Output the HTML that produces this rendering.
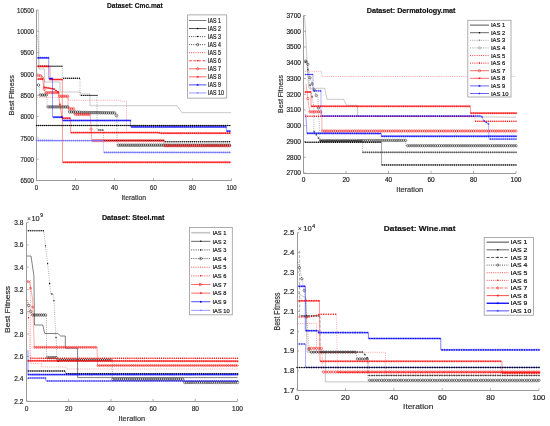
<!DOCTYPE html>
<html><head><meta charset="utf-8"><style>
html,body{margin:0;padding:0;background:#fff;}
svg{display:block;font-family:'Liberation Sans', sans-serif;filter:blur(0.3px);}
</style></head><body>
<svg width="550" height="426" viewBox="0 0 550 426">
<rect width="550" height="426" fill="#fff"/>
<path d="M36.5,10 V180.5 H231.5" fill="none" stroke="#9a9a9a" stroke-width="1"/>
<path d="M36.5,180.50 h2.2" stroke="#9a9a9a" stroke-width="0.8"/>
<text x="34.0" y="183.15" font-size="7.6" text-anchor="end" font-weight="normal" fill="#1e1e1e" stroke="#1e1e1e" stroke-width="0.18" textLength="13.52" lengthAdjust="spacingAndGlyphs">6500</text>
<path d="M36.5,159.19 h2.2" stroke="#9a9a9a" stroke-width="0.8"/>
<text x="34.0" y="161.84" font-size="7.6" text-anchor="end" font-weight="normal" fill="#1e1e1e" stroke="#1e1e1e" stroke-width="0.18" textLength="13.52" lengthAdjust="spacingAndGlyphs">7000</text>
<path d="M36.5,137.88 h2.2" stroke="#9a9a9a" stroke-width="0.8"/>
<text x="34.0" y="140.53" font-size="7.6" text-anchor="end" font-weight="normal" fill="#1e1e1e" stroke="#1e1e1e" stroke-width="0.18" textLength="13.52" lengthAdjust="spacingAndGlyphs">7500</text>
<path d="M36.5,116.56 h2.2" stroke="#9a9a9a" stroke-width="0.8"/>
<text x="34.0" y="119.21" font-size="7.6" text-anchor="end" font-weight="normal" fill="#1e1e1e" stroke="#1e1e1e" stroke-width="0.18" textLength="13.52" lengthAdjust="spacingAndGlyphs">8000</text>
<path d="M36.5,95.25 h2.2" stroke="#9a9a9a" stroke-width="0.8"/>
<text x="34.0" y="97.9" font-size="7.6" text-anchor="end" font-weight="normal" fill="#1e1e1e" stroke="#1e1e1e" stroke-width="0.18" textLength="13.52" lengthAdjust="spacingAndGlyphs">8500</text>
<path d="M36.5,73.94 h2.2" stroke="#9a9a9a" stroke-width="0.8"/>
<text x="34.0" y="76.59" font-size="7.6" text-anchor="end" font-weight="normal" fill="#1e1e1e" stroke="#1e1e1e" stroke-width="0.18" textLength="13.52" lengthAdjust="spacingAndGlyphs">9000</text>
<path d="M36.5,52.62 h2.2" stroke="#9a9a9a" stroke-width="0.8"/>
<text x="34.0" y="55.27" font-size="7.6" text-anchor="end" font-weight="normal" fill="#1e1e1e" stroke="#1e1e1e" stroke-width="0.18" textLength="13.52" lengthAdjust="spacingAndGlyphs">9500</text>
<path d="M36.5,31.31 h2.2" stroke="#9a9a9a" stroke-width="0.8"/>
<text x="34.0" y="33.96" font-size="7.6" text-anchor="end" font-weight="normal" fill="#1e1e1e" stroke="#1e1e1e" stroke-width="0.18" textLength="16.9" lengthAdjust="spacingAndGlyphs">10000</text>
<path d="M36.5,10.00 h2.2" stroke="#9a9a9a" stroke-width="0.8"/>
<text x="34.0" y="12.65" font-size="7.6" text-anchor="end" font-weight="normal" fill="#1e1e1e" stroke="#1e1e1e" stroke-width="0.18" textLength="16.9" lengthAdjust="spacingAndGlyphs">10500</text>
<path d="M36.50,180.5 v-2.2" stroke="#9a9a9a" stroke-width="0.8"/>
<text x="36.5" y="189.95" font-size="7.6" text-anchor="middle" font-weight="normal" fill="#1e1e1e" stroke="#1e1e1e" stroke-width="0.18" textLength="3.38" lengthAdjust="spacingAndGlyphs">0</text>
<path d="M75.50,180.5 v-2.2" stroke="#9a9a9a" stroke-width="0.8"/>
<text x="75.5" y="189.95" font-size="7.6" text-anchor="middle" font-weight="normal" fill="#1e1e1e" stroke="#1e1e1e" stroke-width="0.18" textLength="6.76" lengthAdjust="spacingAndGlyphs">20</text>
<path d="M114.50,180.5 v-2.2" stroke="#9a9a9a" stroke-width="0.8"/>
<text x="114.5" y="189.95" font-size="7.6" text-anchor="middle" font-weight="normal" fill="#1e1e1e" stroke="#1e1e1e" stroke-width="0.18" textLength="6.76" lengthAdjust="spacingAndGlyphs">40</text>
<path d="M153.50,180.5 v-2.2" stroke="#9a9a9a" stroke-width="0.8"/>
<text x="153.5" y="189.95" font-size="7.6" text-anchor="middle" font-weight="normal" fill="#1e1e1e" stroke="#1e1e1e" stroke-width="0.18" textLength="6.76" lengthAdjust="spacingAndGlyphs">60</text>
<path d="M192.50,180.5 v-2.2" stroke="#9a9a9a" stroke-width="0.8"/>
<text x="192.5" y="189.95" font-size="7.6" text-anchor="middle" font-weight="normal" fill="#1e1e1e" stroke="#1e1e1e" stroke-width="0.18" textLength="6.76" lengthAdjust="spacingAndGlyphs">80</text>
<path d="M231.50,180.5 v-2.2" stroke="#9a9a9a" stroke-width="0.8"/>
<text x="231.5" y="189.95" font-size="7.6" text-anchor="middle" font-weight="normal" fill="#1e1e1e" stroke="#1e1e1e" stroke-width="0.18" textLength="10.14" lengthAdjust="spacingAndGlyphs">100</text>
<text x="134.85" y="7.6" font-size="7.3" text-anchor="middle" font-weight="bold" fill="#111" stroke="#111" stroke-width="0.18" textLength="55.6" lengthAdjust="spacingAndGlyphs">Dataset: Cmc.mat</text>
<text x="133.7" y="199.7" font-size="7.2" text-anchor="middle" font-weight="normal" fill="#333" stroke="#333" stroke-width="0.18" textLength="24.6" lengthAdjust="spacingAndGlyphs">Iteration</text>
<text transform="translate(14.4,95.3) rotate(-90)" x="0" y="0" font-size="7.5" text-anchor="middle" font-weight="normal" fill="#333" stroke="#333" stroke-width="0.18" textLength="40.2" lengthAdjust="spacingAndGlyphs">Best Fitness</text>
<path d="M38.00,10.00 L38.50,14.00 L39.00,60.00 L39.00,69.00 L44.60,69.00 L44.60,82.00 L60.00,82.00 L60.00,92.00 L80.00,92.00 L81.00,94.00 L90.00,94.00 L90.00,105.70 L177.00,105.70 L182.00,112.70 L231.00,112.70" fill="none" stroke="#7a7a7a" stroke-width="0.68" opacity="0.6"/>
<path d="M37.00,35.00 L38.30,45.00 L38.30,66.20 L62.30,66.20 L62.30,78.20 L80.00,78.20 L80.00,95.40 L97.00,95.40 L97.00,130.00 L103.40,130.00 L103.40,140.60 L164.00,140.60 L164.00,141.70 L231.00,141.70" fill="none" stroke="#000000" stroke-width="0.52" stroke-dasharray="1,1.2" opacity="0.6"/>
<g opacity="1.0"><circle cx="38.45" cy="66.20" r="0.68" fill="#000000"/><circle cx="40.40" cy="66.20" r="0.68" fill="#000000"/><circle cx="42.35" cy="66.20" r="0.68" fill="#000000"/><circle cx="44.30" cy="66.20" r="0.68" fill="#000000"/><circle cx="46.25" cy="66.20" r="0.68" fill="#000000"/><circle cx="48.20" cy="66.20" r="0.68" fill="#000000"/><circle cx="50.15" cy="66.20" r="0.68" fill="#000000"/><circle cx="52.10" cy="66.20" r="0.68" fill="#000000"/><circle cx="54.05" cy="66.20" r="0.68" fill="#000000"/><circle cx="56.00" cy="66.20" r="0.68" fill="#000000"/><circle cx="57.95" cy="66.20" r="0.68" fill="#000000"/><circle cx="59.90" cy="66.20" r="0.68" fill="#000000"/><circle cx="61.85" cy="66.20" r="0.68" fill="#000000"/><circle cx="63.80" cy="78.20" r="0.68" fill="#000000"/><circle cx="65.75" cy="78.20" r="0.68" fill="#000000"/><circle cx="67.70" cy="78.20" r="0.68" fill="#000000"/><circle cx="69.65" cy="78.20" r="0.68" fill="#000000"/><circle cx="71.60" cy="78.20" r="0.68" fill="#000000"/><circle cx="73.55" cy="78.20" r="0.68" fill="#000000"/><circle cx="75.50" cy="78.20" r="0.68" fill="#000000"/><circle cx="77.45" cy="78.20" r="0.68" fill="#000000"/><circle cx="79.40" cy="78.20" r="0.68" fill="#000000"/><circle cx="81.35" cy="95.40" r="0.68" fill="#000000"/><circle cx="83.30" cy="95.40" r="0.68" fill="#000000"/><circle cx="85.25" cy="95.40" r="0.68" fill="#000000"/><circle cx="87.20" cy="95.40" r="0.68" fill="#000000"/><circle cx="89.15" cy="95.40" r="0.68" fill="#000000"/><circle cx="91.10" cy="95.40" r="0.68" fill="#000000"/><circle cx="93.05" cy="95.40" r="0.68" fill="#000000"/><circle cx="95.00" cy="95.40" r="0.68" fill="#000000"/><circle cx="96.95" cy="95.40" r="0.68" fill="#000000"/><circle cx="98.90" cy="130.00" r="0.68" fill="#000000"/><circle cx="100.85" cy="130.00" r="0.68" fill="#000000"/><circle cx="102.80" cy="130.00" r="0.68" fill="#000000"/><circle cx="104.75" cy="140.60" r="0.68" fill="#000000"/><circle cx="106.70" cy="140.60" r="0.68" fill="#000000"/><circle cx="108.65" cy="140.60" r="0.68" fill="#000000"/><circle cx="110.60" cy="140.60" r="0.68" fill="#000000"/><circle cx="112.55" cy="140.60" r="0.68" fill="#000000"/><circle cx="114.50" cy="140.60" r="0.68" fill="#000000"/><circle cx="116.45" cy="140.60" r="0.68" fill="#000000"/><circle cx="118.40" cy="140.60" r="0.68" fill="#000000"/><circle cx="120.35" cy="140.60" r="0.68" fill="#000000"/><circle cx="122.30" cy="140.60" r="0.68" fill="#000000"/><circle cx="124.25" cy="140.60" r="0.68" fill="#000000"/><circle cx="126.20" cy="140.60" r="0.68" fill="#000000"/><circle cx="128.15" cy="140.60" r="0.68" fill="#000000"/><circle cx="130.10" cy="140.60" r="0.68" fill="#000000"/><circle cx="132.05" cy="140.60" r="0.68" fill="#000000"/><circle cx="134.00" cy="140.60" r="0.68" fill="#000000"/><circle cx="135.95" cy="140.60" r="0.68" fill="#000000"/><circle cx="137.90" cy="140.60" r="0.68" fill="#000000"/><circle cx="139.85" cy="140.60" r="0.68" fill="#000000"/><circle cx="141.80" cy="140.60" r="0.68" fill="#000000"/><circle cx="143.75" cy="140.60" r="0.68" fill="#000000"/><circle cx="145.70" cy="140.60" r="0.68" fill="#000000"/><circle cx="147.65" cy="140.60" r="0.68" fill="#000000"/><circle cx="149.60" cy="140.60" r="0.68" fill="#000000"/><circle cx="151.55" cy="140.60" r="0.68" fill="#000000"/><circle cx="153.50" cy="140.60" r="0.68" fill="#000000"/><circle cx="155.45" cy="140.60" r="0.68" fill="#000000"/><circle cx="157.40" cy="140.60" r="0.68" fill="#000000"/><circle cx="159.35" cy="140.60" r="0.68" fill="#000000"/><circle cx="161.30" cy="140.60" r="0.68" fill="#000000"/><circle cx="163.25" cy="140.60" r="0.68" fill="#000000"/><circle cx="165.20" cy="141.70" r="0.68" fill="#000000"/><circle cx="167.15" cy="141.70" r="0.68" fill="#000000"/><circle cx="169.10" cy="141.70" r="0.68" fill="#000000"/><circle cx="171.05" cy="141.70" r="0.68" fill="#000000"/><circle cx="173.00" cy="141.70" r="0.68" fill="#000000"/><circle cx="174.95" cy="141.70" r="0.68" fill="#000000"/><circle cx="176.90" cy="141.70" r="0.68" fill="#000000"/><circle cx="178.85" cy="141.70" r="0.68" fill="#000000"/><circle cx="180.80" cy="141.70" r="0.68" fill="#000000"/><circle cx="182.75" cy="141.70" r="0.68" fill="#000000"/><circle cx="184.70" cy="141.70" r="0.68" fill="#000000"/><circle cx="186.65" cy="141.70" r="0.68" fill="#000000"/><circle cx="188.60" cy="141.70" r="0.68" fill="#000000"/><circle cx="190.55" cy="141.70" r="0.68" fill="#000000"/><circle cx="192.50" cy="141.70" r="0.68" fill="#000000"/><circle cx="194.45" cy="141.70" r="0.68" fill="#000000"/><circle cx="196.40" cy="141.70" r="0.68" fill="#000000"/><circle cx="198.35" cy="141.70" r="0.68" fill="#000000"/><circle cx="200.30" cy="141.70" r="0.68" fill="#000000"/><circle cx="202.25" cy="141.70" r="0.68" fill="#000000"/><circle cx="204.20" cy="141.70" r="0.68" fill="#000000"/><circle cx="206.15" cy="141.70" r="0.68" fill="#000000"/><circle cx="208.10" cy="141.70" r="0.68" fill="#000000"/><circle cx="210.05" cy="141.70" r="0.68" fill="#000000"/><circle cx="212.00" cy="141.70" r="0.68" fill="#000000"/><circle cx="213.95" cy="141.70" r="0.68" fill="#000000"/><circle cx="215.90" cy="141.70" r="0.68" fill="#000000"/><circle cx="217.85" cy="141.70" r="0.68" fill="#000000"/><circle cx="219.80" cy="141.70" r="0.68" fill="#000000"/><circle cx="221.75" cy="141.70" r="0.68" fill="#000000"/><circle cx="223.70" cy="141.70" r="0.68" fill="#000000"/><circle cx="225.65" cy="141.70" r="0.68" fill="#000000"/><circle cx="227.60" cy="141.70" r="0.68" fill="#000000"/><circle cx="229.55" cy="141.70" r="0.68" fill="#000000"/></g>
<path d="M37.00,85.00 L39.30,85.00 L39.30,95.00 L47.00,95.00 L47.00,106.90 L68.60,106.90 L68.60,111.80 L84.00,112.50 L115.50,112.90 L117.00,117.00 L117.00,145.20 L231.00,145.20" fill="none" stroke="#000000" stroke-width="0.52" stroke-dasharray="1,1.2" opacity="0.6"/>
<g opacity="1.0"><circle cx="38.45" cy="85.00" r="1.30" fill="none" stroke="#000000" stroke-width="0.45"/><circle cx="40.40" cy="95.00" r="1.30" fill="none" stroke="#000000" stroke-width="0.45"/><circle cx="42.35" cy="95.00" r="1.30" fill="none" stroke="#000000" stroke-width="0.45"/><circle cx="44.30" cy="95.00" r="1.30" fill="none" stroke="#000000" stroke-width="0.45"/><circle cx="46.25" cy="95.00" r="1.30" fill="none" stroke="#000000" stroke-width="0.45"/><circle cx="48.20" cy="106.90" r="1.30" fill="none" stroke="#000000" stroke-width="0.45"/><circle cx="50.15" cy="106.90" r="1.30" fill="none" stroke="#000000" stroke-width="0.45"/><circle cx="52.10" cy="106.90" r="1.30" fill="none" stroke="#000000" stroke-width="0.45"/><circle cx="54.05" cy="106.90" r="1.30" fill="none" stroke="#000000" stroke-width="0.45"/><circle cx="56.00" cy="106.90" r="1.30" fill="none" stroke="#000000" stroke-width="0.45"/><circle cx="57.95" cy="106.90" r="1.30" fill="none" stroke="#000000" stroke-width="0.45"/><circle cx="59.90" cy="106.90" r="1.30" fill="none" stroke="#000000" stroke-width="0.45"/><circle cx="61.85" cy="106.90" r="1.30" fill="none" stroke="#000000" stroke-width="0.45"/><circle cx="63.80" cy="106.90" r="1.30" fill="none" stroke="#000000" stroke-width="0.45"/><circle cx="65.75" cy="106.90" r="1.30" fill="none" stroke="#000000" stroke-width="0.45"/><circle cx="67.70" cy="106.90" r="1.30" fill="none" stroke="#000000" stroke-width="0.45"/><circle cx="69.65" cy="111.85" r="1.30" fill="none" stroke="#000000" stroke-width="0.45"/><circle cx="71.60" cy="111.94" r="1.30" fill="none" stroke="#000000" stroke-width="0.45"/><circle cx="73.55" cy="112.02" r="1.30" fill="none" stroke="#000000" stroke-width="0.45"/><circle cx="75.50" cy="112.11" r="1.30" fill="none" stroke="#000000" stroke-width="0.45"/><circle cx="77.45" cy="112.20" r="1.30" fill="none" stroke="#000000" stroke-width="0.45"/><circle cx="79.40" cy="112.29" r="1.30" fill="none" stroke="#000000" stroke-width="0.45"/><circle cx="81.35" cy="112.38" r="1.30" fill="none" stroke="#000000" stroke-width="0.45"/><circle cx="83.30" cy="112.47" r="1.30" fill="none" stroke="#000000" stroke-width="0.45"/><circle cx="85.25" cy="112.52" r="1.30" fill="none" stroke="#000000" stroke-width="0.45"/><circle cx="87.20" cy="112.54" r="1.30" fill="none" stroke="#000000" stroke-width="0.45"/><circle cx="89.15" cy="112.57" r="1.30" fill="none" stroke="#000000" stroke-width="0.45"/><circle cx="91.10" cy="112.59" r="1.30" fill="none" stroke="#000000" stroke-width="0.45"/><circle cx="93.05" cy="112.61" r="1.30" fill="none" stroke="#000000" stroke-width="0.45"/><circle cx="95.00" cy="112.64" r="1.30" fill="none" stroke="#000000" stroke-width="0.45"/><circle cx="96.95" cy="112.66" r="1.30" fill="none" stroke="#000000" stroke-width="0.45"/><circle cx="98.90" cy="112.69" r="1.30" fill="none" stroke="#000000" stroke-width="0.45"/><circle cx="100.85" cy="112.71" r="1.30" fill="none" stroke="#000000" stroke-width="0.45"/><circle cx="102.80" cy="112.74" r="1.30" fill="none" stroke="#000000" stroke-width="0.45"/><circle cx="104.75" cy="112.76" r="1.30" fill="none" stroke="#000000" stroke-width="0.45"/><circle cx="106.70" cy="112.79" r="1.30" fill="none" stroke="#000000" stroke-width="0.45"/><circle cx="108.65" cy="112.81" r="1.30" fill="none" stroke="#000000" stroke-width="0.45"/><circle cx="110.60" cy="112.84" r="1.30" fill="none" stroke="#000000" stroke-width="0.45"/><circle cx="112.55" cy="112.86" r="1.30" fill="none" stroke="#000000" stroke-width="0.45"/><circle cx="114.50" cy="112.89" r="1.30" fill="none" stroke="#000000" stroke-width="0.45"/><circle cx="116.45" cy="115.50" r="1.30" fill="none" stroke="#000000" stroke-width="0.45"/><circle cx="118.40" cy="145.20" r="1.30" fill="none" stroke="#000000" stroke-width="0.45"/><circle cx="120.35" cy="145.20" r="1.30" fill="none" stroke="#000000" stroke-width="0.45"/><circle cx="122.30" cy="145.20" r="1.30" fill="none" stroke="#000000" stroke-width="0.45"/><circle cx="124.25" cy="145.20" r="1.30" fill="none" stroke="#000000" stroke-width="0.45"/><circle cx="126.20" cy="145.20" r="1.30" fill="none" stroke="#000000" stroke-width="0.45"/><circle cx="128.15" cy="145.20" r="1.30" fill="none" stroke="#000000" stroke-width="0.45"/><circle cx="130.10" cy="145.20" r="1.30" fill="none" stroke="#000000" stroke-width="0.45"/><circle cx="132.05" cy="145.20" r="1.30" fill="none" stroke="#000000" stroke-width="0.45"/><circle cx="134.00" cy="145.20" r="1.30" fill="none" stroke="#000000" stroke-width="0.45"/><circle cx="135.95" cy="145.20" r="1.30" fill="none" stroke="#000000" stroke-width="0.45"/><circle cx="137.90" cy="145.20" r="1.30" fill="none" stroke="#000000" stroke-width="0.45"/><circle cx="139.85" cy="145.20" r="1.30" fill="none" stroke="#000000" stroke-width="0.45"/><circle cx="141.80" cy="145.20" r="1.30" fill="none" stroke="#000000" stroke-width="0.45"/><circle cx="143.75" cy="145.20" r="1.30" fill="none" stroke="#000000" stroke-width="0.45"/><circle cx="145.70" cy="145.20" r="1.30" fill="none" stroke="#000000" stroke-width="0.45"/><circle cx="147.65" cy="145.20" r="1.30" fill="none" stroke="#000000" stroke-width="0.45"/><circle cx="149.60" cy="145.20" r="1.30" fill="none" stroke="#000000" stroke-width="0.45"/><circle cx="151.55" cy="145.20" r="1.30" fill="none" stroke="#000000" stroke-width="0.45"/><circle cx="153.50" cy="145.20" r="1.30" fill="none" stroke="#000000" stroke-width="0.45"/><circle cx="155.45" cy="145.20" r="1.30" fill="none" stroke="#000000" stroke-width="0.45"/><circle cx="157.40" cy="145.20" r="1.30" fill="none" stroke="#000000" stroke-width="0.45"/><circle cx="159.35" cy="145.20" r="1.30" fill="none" stroke="#000000" stroke-width="0.45"/><circle cx="161.30" cy="145.20" r="1.30" fill="none" stroke="#000000" stroke-width="0.45"/><circle cx="163.25" cy="145.20" r="1.30" fill="none" stroke="#000000" stroke-width="0.45"/><circle cx="165.20" cy="145.20" r="1.30" fill="none" stroke="#000000" stroke-width="0.45"/><circle cx="167.15" cy="145.20" r="1.30" fill="none" stroke="#000000" stroke-width="0.45"/><circle cx="169.10" cy="145.20" r="1.30" fill="none" stroke="#000000" stroke-width="0.45"/><circle cx="171.05" cy="145.20" r="1.30" fill="none" stroke="#000000" stroke-width="0.45"/><circle cx="173.00" cy="145.20" r="1.30" fill="none" stroke="#000000" stroke-width="0.45"/><circle cx="174.95" cy="145.20" r="1.30" fill="none" stroke="#000000" stroke-width="0.45"/><circle cx="176.90" cy="145.20" r="1.30" fill="none" stroke="#000000" stroke-width="0.45"/><circle cx="178.85" cy="145.20" r="1.30" fill="none" stroke="#000000" stroke-width="0.45"/><circle cx="180.80" cy="145.20" r="1.30" fill="none" stroke="#000000" stroke-width="0.45"/><circle cx="182.75" cy="145.20" r="1.30" fill="none" stroke="#000000" stroke-width="0.45"/><circle cx="184.70" cy="145.20" r="1.30" fill="none" stroke="#000000" stroke-width="0.45"/><circle cx="186.65" cy="145.20" r="1.30" fill="none" stroke="#000000" stroke-width="0.45"/><circle cx="188.60" cy="145.20" r="1.30" fill="none" stroke="#000000" stroke-width="0.45"/><circle cx="190.55" cy="145.20" r="1.30" fill="none" stroke="#000000" stroke-width="0.45"/><circle cx="192.50" cy="145.20" r="1.30" fill="none" stroke="#000000" stroke-width="0.45"/><circle cx="194.45" cy="145.20" r="1.30" fill="none" stroke="#000000" stroke-width="0.45"/><circle cx="196.40" cy="145.20" r="1.30" fill="none" stroke="#000000" stroke-width="0.45"/><circle cx="198.35" cy="145.20" r="1.30" fill="none" stroke="#000000" stroke-width="0.45"/><circle cx="200.30" cy="145.20" r="1.30" fill="none" stroke="#000000" stroke-width="0.45"/><circle cx="202.25" cy="145.20" r="1.30" fill="none" stroke="#000000" stroke-width="0.45"/><circle cx="204.20" cy="145.20" r="1.30" fill="none" stroke="#000000" stroke-width="0.45"/><circle cx="206.15" cy="145.20" r="1.30" fill="none" stroke="#000000" stroke-width="0.45"/><circle cx="208.10" cy="145.20" r="1.30" fill="none" stroke="#000000" stroke-width="0.45"/><circle cx="210.05" cy="145.20" r="1.30" fill="none" stroke="#000000" stroke-width="0.45"/><circle cx="212.00" cy="145.20" r="1.30" fill="none" stroke="#000000" stroke-width="0.45"/><circle cx="213.95" cy="145.20" r="1.30" fill="none" stroke="#000000" stroke-width="0.45"/><circle cx="215.90" cy="145.20" r="1.30" fill="none" stroke="#000000" stroke-width="0.45"/><circle cx="217.85" cy="145.20" r="1.30" fill="none" stroke="#000000" stroke-width="0.45"/><circle cx="219.80" cy="145.20" r="1.30" fill="none" stroke="#000000" stroke-width="0.45"/><circle cx="221.75" cy="145.20" r="1.30" fill="none" stroke="#000000" stroke-width="0.45"/><circle cx="223.70" cy="145.20" r="1.30" fill="none" stroke="#000000" stroke-width="0.45"/><circle cx="225.65" cy="145.20" r="1.30" fill="none" stroke="#000000" stroke-width="0.45"/><circle cx="227.60" cy="145.20" r="1.30" fill="none" stroke="#000000" stroke-width="0.45"/><circle cx="229.55" cy="145.20" r="1.30" fill="none" stroke="#000000" stroke-width="0.45"/></g>
<path d="M37.00,97.30 L68.00,97.30 L68.60,100.30 L120.40,100.30 L121.00,101.70 L126.50,101.70 L126.50,132.40 L159.00,132.40 L160.00,133.20 L231.00,133.20" fill="none" stroke="#ff0000" stroke-width="0.6" stroke-dasharray="1,1.2" opacity="0.6"/>
<path d="M37.00,79.10 L44.00,79.10 L44.00,87.30 L54.00,89.00 L58.00,92.00 L62.00,118.20 L70.70,118.20 L70.70,132.60 L159.00,132.60 L160.00,133.20 L231.00,133.20" fill="none" stroke="#ff0000" stroke-width="0.7" opacity="0.6"/>
<g opacity="1.0"><path d="M37.45,79.10h2.00M38.45,78.10v2.00M37.75,78.40l1.40,1.40M37.75,79.80l1.40,-1.40" stroke="#ff0000" stroke-width="0.45"/><path d="M39.40,79.10h2.00M40.40,78.10v2.00M39.70,78.40l1.40,1.40M39.70,79.80l1.40,-1.40" stroke="#ff0000" stroke-width="0.45"/><path d="M41.35,79.10h2.00M42.35,78.10v2.00M41.65,78.40l1.40,1.40M41.65,79.80l1.40,-1.40" stroke="#ff0000" stroke-width="0.45"/><path d="M43.30,87.35h2.00M44.30,86.35v2.00M43.60,86.65l1.40,1.40M43.60,88.05l1.40,-1.40" stroke="#ff0000" stroke-width="0.45"/><path d="M45.25,87.68h2.00M46.25,86.68v2.00M45.55,86.98l1.40,1.40M45.55,88.38l1.40,-1.40" stroke="#ff0000" stroke-width="0.45"/><path d="M47.20,88.01h2.00M48.20,87.01v2.00M47.50,87.31l1.40,1.40M47.50,88.71l1.40,-1.40" stroke="#ff0000" stroke-width="0.45"/><path d="M49.15,88.35h2.00M50.15,87.35v2.00M49.45,87.65l1.40,1.40M49.45,89.05l1.40,-1.40" stroke="#ff0000" stroke-width="0.45"/><path d="M51.10,88.68h2.00M52.10,87.68v2.00M51.40,87.98l1.40,1.40M51.40,89.38l1.40,-1.40" stroke="#ff0000" stroke-width="0.45"/><path d="M53.05,89.04h2.00M54.05,88.04v2.00M53.35,88.34l1.40,1.40M53.35,89.74l1.40,-1.40" stroke="#ff0000" stroke-width="0.45"/><path d="M55.00,90.50h2.00M56.00,89.50v2.00M55.30,89.80l1.40,1.40M55.30,91.20l1.40,-1.40" stroke="#ff0000" stroke-width="0.45"/><path d="M56.95,91.96h2.00M57.95,90.96v2.00M57.25,91.26l1.40,1.40M57.25,92.66l1.40,-1.40" stroke="#ff0000" stroke-width="0.45"/><path d="M58.90,104.44h2.00M59.90,103.44v2.00M59.20,103.74l1.40,1.40M59.20,105.14l1.40,-1.40" stroke="#ff0000" stroke-width="0.45"/><path d="M60.85,117.22h2.00M61.85,116.22v2.00M61.15,116.52l1.40,1.40M61.15,117.92l1.40,-1.40" stroke="#ff0000" stroke-width="0.45"/><path d="M62.80,118.20h2.00M63.80,117.20v2.00M63.10,117.50l1.40,1.40M63.10,118.90l1.40,-1.40" stroke="#ff0000" stroke-width="0.45"/><path d="M64.75,118.20h2.00M65.75,117.20v2.00M65.05,117.50l1.40,1.40M65.05,118.90l1.40,-1.40" stroke="#ff0000" stroke-width="0.45"/><path d="M66.70,118.20h2.00M67.70,117.20v2.00M67.00,117.50l1.40,1.40M67.00,118.90l1.40,-1.40" stroke="#ff0000" stroke-width="0.45"/><path d="M68.65,118.20h2.00M69.65,117.20v2.00M68.95,117.50l1.40,1.40M68.95,118.90l1.40,-1.40" stroke="#ff0000" stroke-width="0.45"/><path d="M70.60,132.60h2.00M71.60,131.60v2.00M70.90,131.90l1.40,1.40M70.90,133.30l1.40,-1.40" stroke="#ff0000" stroke-width="0.45"/><path d="M72.55,132.60h2.00M73.55,131.60v2.00M72.85,131.90l1.40,1.40M72.85,133.30l1.40,-1.40" stroke="#ff0000" stroke-width="0.45"/><path d="M74.50,132.60h2.00M75.50,131.60v2.00M74.80,131.90l1.40,1.40M74.80,133.30l1.40,-1.40" stroke="#ff0000" stroke-width="0.45"/><path d="M76.45,132.60h2.00M77.45,131.60v2.00M76.75,131.90l1.40,1.40M76.75,133.30l1.40,-1.40" stroke="#ff0000" stroke-width="0.45"/><path d="M78.40,132.60h2.00M79.40,131.60v2.00M78.70,131.90l1.40,1.40M78.70,133.30l1.40,-1.40" stroke="#ff0000" stroke-width="0.45"/><path d="M80.35,132.60h2.00M81.35,131.60v2.00M80.65,131.90l1.40,1.40M80.65,133.30l1.40,-1.40" stroke="#ff0000" stroke-width="0.45"/><path d="M82.30,132.60h2.00M83.30,131.60v2.00M82.60,131.90l1.40,1.40M82.60,133.30l1.40,-1.40" stroke="#ff0000" stroke-width="0.45"/><path d="M84.25,132.60h2.00M85.25,131.60v2.00M84.55,131.90l1.40,1.40M84.55,133.30l1.40,-1.40" stroke="#ff0000" stroke-width="0.45"/><path d="M86.20,132.60h2.00M87.20,131.60v2.00M86.50,131.90l1.40,1.40M86.50,133.30l1.40,-1.40" stroke="#ff0000" stroke-width="0.45"/><path d="M88.15,132.60h2.00M89.15,131.60v2.00M88.45,131.90l1.40,1.40M88.45,133.30l1.40,-1.40" stroke="#ff0000" stroke-width="0.45"/><path d="M90.10,132.60h2.00M91.10,131.60v2.00M90.40,131.90l1.40,1.40M90.40,133.30l1.40,-1.40" stroke="#ff0000" stroke-width="0.45"/><path d="M92.05,132.60h2.00M93.05,131.60v2.00M92.35,131.90l1.40,1.40M92.35,133.30l1.40,-1.40" stroke="#ff0000" stroke-width="0.45"/><path d="M94.00,132.60h2.00M95.00,131.60v2.00M94.30,131.90l1.40,1.40M94.30,133.30l1.40,-1.40" stroke="#ff0000" stroke-width="0.45"/><path d="M95.95,132.60h2.00M96.95,131.60v2.00M96.25,131.90l1.40,1.40M96.25,133.30l1.40,-1.40" stroke="#ff0000" stroke-width="0.45"/><path d="M97.90,132.60h2.00M98.90,131.60v2.00M98.20,131.90l1.40,1.40M98.20,133.30l1.40,-1.40" stroke="#ff0000" stroke-width="0.45"/><path d="M99.85,132.60h2.00M100.85,131.60v2.00M100.15,131.90l1.40,1.40M100.15,133.30l1.40,-1.40" stroke="#ff0000" stroke-width="0.45"/><path d="M101.80,132.60h2.00M102.80,131.60v2.00M102.10,131.90l1.40,1.40M102.10,133.30l1.40,-1.40" stroke="#ff0000" stroke-width="0.45"/><path d="M103.75,132.60h2.00M104.75,131.60v2.00M104.05,131.90l1.40,1.40M104.05,133.30l1.40,-1.40" stroke="#ff0000" stroke-width="0.45"/><path d="M105.70,132.60h2.00M106.70,131.60v2.00M106.00,131.90l1.40,1.40M106.00,133.30l1.40,-1.40" stroke="#ff0000" stroke-width="0.45"/><path d="M107.65,132.60h2.00M108.65,131.60v2.00M107.95,131.90l1.40,1.40M107.95,133.30l1.40,-1.40" stroke="#ff0000" stroke-width="0.45"/><path d="M109.60,132.60h2.00M110.60,131.60v2.00M109.90,131.90l1.40,1.40M109.90,133.30l1.40,-1.40" stroke="#ff0000" stroke-width="0.45"/><path d="M111.55,132.60h2.00M112.55,131.60v2.00M111.85,131.90l1.40,1.40M111.85,133.30l1.40,-1.40" stroke="#ff0000" stroke-width="0.45"/><path d="M113.50,132.60h2.00M114.50,131.60v2.00M113.80,131.90l1.40,1.40M113.80,133.30l1.40,-1.40" stroke="#ff0000" stroke-width="0.45"/><path d="M115.45,132.60h2.00M116.45,131.60v2.00M115.75,131.90l1.40,1.40M115.75,133.30l1.40,-1.40" stroke="#ff0000" stroke-width="0.45"/><path d="M117.40,132.60h2.00M118.40,131.60v2.00M117.70,131.90l1.40,1.40M117.70,133.30l1.40,-1.40" stroke="#ff0000" stroke-width="0.45"/><path d="M119.35,132.60h2.00M120.35,131.60v2.00M119.65,131.90l1.40,1.40M119.65,133.30l1.40,-1.40" stroke="#ff0000" stroke-width="0.45"/><path d="M121.30,132.60h2.00M122.30,131.60v2.00M121.60,131.90l1.40,1.40M121.60,133.30l1.40,-1.40" stroke="#ff0000" stroke-width="0.45"/><path d="M123.25,132.60h2.00M124.25,131.60v2.00M123.55,131.90l1.40,1.40M123.55,133.30l1.40,-1.40" stroke="#ff0000" stroke-width="0.45"/><path d="M125.20,132.60h2.00M126.20,131.60v2.00M125.50,131.90l1.40,1.40M125.50,133.30l1.40,-1.40" stroke="#ff0000" stroke-width="0.45"/><path d="M127.15,132.60h2.00M128.15,131.60v2.00M127.45,131.90l1.40,1.40M127.45,133.30l1.40,-1.40" stroke="#ff0000" stroke-width="0.45"/><path d="M129.10,132.60h2.00M130.10,131.60v2.00M129.40,131.90l1.40,1.40M129.40,133.30l1.40,-1.40" stroke="#ff0000" stroke-width="0.45"/><path d="M131.05,132.60h2.00M132.05,131.60v2.00M131.35,131.90l1.40,1.40M131.35,133.30l1.40,-1.40" stroke="#ff0000" stroke-width="0.45"/><path d="M133.00,132.60h2.00M134.00,131.60v2.00M133.30,131.90l1.40,1.40M133.30,133.30l1.40,-1.40" stroke="#ff0000" stroke-width="0.45"/><path d="M134.95,132.60h2.00M135.95,131.60v2.00M135.25,131.90l1.40,1.40M135.25,133.30l1.40,-1.40" stroke="#ff0000" stroke-width="0.45"/><path d="M136.90,132.60h2.00M137.90,131.60v2.00M137.20,131.90l1.40,1.40M137.20,133.30l1.40,-1.40" stroke="#ff0000" stroke-width="0.45"/><path d="M138.85,132.60h2.00M139.85,131.60v2.00M139.15,131.90l1.40,1.40M139.15,133.30l1.40,-1.40" stroke="#ff0000" stroke-width="0.45"/><path d="M140.80,132.60h2.00M141.80,131.60v2.00M141.10,131.90l1.40,1.40M141.10,133.30l1.40,-1.40" stroke="#ff0000" stroke-width="0.45"/><path d="M142.75,132.60h2.00M143.75,131.60v2.00M143.05,131.90l1.40,1.40M143.05,133.30l1.40,-1.40" stroke="#ff0000" stroke-width="0.45"/><path d="M144.70,132.60h2.00M145.70,131.60v2.00M145.00,131.90l1.40,1.40M145.00,133.30l1.40,-1.40" stroke="#ff0000" stroke-width="0.45"/><path d="M146.65,132.60h2.00M147.65,131.60v2.00M146.95,131.90l1.40,1.40M146.95,133.30l1.40,-1.40" stroke="#ff0000" stroke-width="0.45"/><path d="M148.60,132.60h2.00M149.60,131.60v2.00M148.90,131.90l1.40,1.40M148.90,133.30l1.40,-1.40" stroke="#ff0000" stroke-width="0.45"/><path d="M150.55,132.60h2.00M151.55,131.60v2.00M150.85,131.90l1.40,1.40M150.85,133.30l1.40,-1.40" stroke="#ff0000" stroke-width="0.45"/><path d="M152.50,132.60h2.00M153.50,131.60v2.00M152.80,131.90l1.40,1.40M152.80,133.30l1.40,-1.40" stroke="#ff0000" stroke-width="0.45"/><path d="M154.45,132.60h2.00M155.45,131.60v2.00M154.75,131.90l1.40,1.40M154.75,133.30l1.40,-1.40" stroke="#ff0000" stroke-width="0.45"/><path d="M156.40,132.60h2.00M157.40,131.60v2.00M156.70,131.90l1.40,1.40M156.70,133.30l1.40,-1.40" stroke="#ff0000" stroke-width="0.45"/><path d="M158.35,132.81h2.00M159.35,131.81v2.00M158.65,132.11l1.40,1.40M158.65,133.51l1.40,-1.40" stroke="#ff0000" stroke-width="0.45"/><path d="M160.30,133.20h2.00M161.30,132.20v2.00M160.60,132.50l1.40,1.40M160.60,133.90l1.40,-1.40" stroke="#ff0000" stroke-width="0.45"/><path d="M162.25,133.20h2.00M163.25,132.20v2.00M162.55,132.50l1.40,1.40M162.55,133.90l1.40,-1.40" stroke="#ff0000" stroke-width="0.45"/><path d="M164.20,133.20h2.00M165.20,132.20v2.00M164.50,132.50l1.40,1.40M164.50,133.90l1.40,-1.40" stroke="#ff0000" stroke-width="0.45"/><path d="M166.15,133.20h2.00M167.15,132.20v2.00M166.45,132.50l1.40,1.40M166.45,133.90l1.40,-1.40" stroke="#ff0000" stroke-width="0.45"/><path d="M168.10,133.20h2.00M169.10,132.20v2.00M168.40,132.50l1.40,1.40M168.40,133.90l1.40,-1.40" stroke="#ff0000" stroke-width="0.45"/><path d="M170.05,133.20h2.00M171.05,132.20v2.00M170.35,132.50l1.40,1.40M170.35,133.90l1.40,-1.40" stroke="#ff0000" stroke-width="0.45"/><path d="M172.00,133.20h2.00M173.00,132.20v2.00M172.30,132.50l1.40,1.40M172.30,133.90l1.40,-1.40" stroke="#ff0000" stroke-width="0.45"/><path d="M173.95,133.20h2.00M174.95,132.20v2.00M174.25,132.50l1.40,1.40M174.25,133.90l1.40,-1.40" stroke="#ff0000" stroke-width="0.45"/><path d="M175.90,133.20h2.00M176.90,132.20v2.00M176.20,132.50l1.40,1.40M176.20,133.90l1.40,-1.40" stroke="#ff0000" stroke-width="0.45"/><path d="M177.85,133.20h2.00M178.85,132.20v2.00M178.15,132.50l1.40,1.40M178.15,133.90l1.40,-1.40" stroke="#ff0000" stroke-width="0.45"/><path d="M179.80,133.20h2.00M180.80,132.20v2.00M180.10,132.50l1.40,1.40M180.10,133.90l1.40,-1.40" stroke="#ff0000" stroke-width="0.45"/><path d="M181.75,133.20h2.00M182.75,132.20v2.00M182.05,132.50l1.40,1.40M182.05,133.90l1.40,-1.40" stroke="#ff0000" stroke-width="0.45"/><path d="M183.70,133.20h2.00M184.70,132.20v2.00M184.00,132.50l1.40,1.40M184.00,133.90l1.40,-1.40" stroke="#ff0000" stroke-width="0.45"/><path d="M185.65,133.20h2.00M186.65,132.20v2.00M185.95,132.50l1.40,1.40M185.95,133.90l1.40,-1.40" stroke="#ff0000" stroke-width="0.45"/><path d="M187.60,133.20h2.00M188.60,132.20v2.00M187.90,132.50l1.40,1.40M187.90,133.90l1.40,-1.40" stroke="#ff0000" stroke-width="0.45"/><path d="M189.55,133.20h2.00M190.55,132.20v2.00M189.85,132.50l1.40,1.40M189.85,133.90l1.40,-1.40" stroke="#ff0000" stroke-width="0.45"/><path d="M191.50,133.20h2.00M192.50,132.20v2.00M191.80,132.50l1.40,1.40M191.80,133.90l1.40,-1.40" stroke="#ff0000" stroke-width="0.45"/><path d="M193.45,133.20h2.00M194.45,132.20v2.00M193.75,132.50l1.40,1.40M193.75,133.90l1.40,-1.40" stroke="#ff0000" stroke-width="0.45"/><path d="M195.40,133.20h2.00M196.40,132.20v2.00M195.70,132.50l1.40,1.40M195.70,133.90l1.40,-1.40" stroke="#ff0000" stroke-width="0.45"/><path d="M197.35,133.20h2.00M198.35,132.20v2.00M197.65,132.50l1.40,1.40M197.65,133.90l1.40,-1.40" stroke="#ff0000" stroke-width="0.45"/><path d="M199.30,133.20h2.00M200.30,132.20v2.00M199.60,132.50l1.40,1.40M199.60,133.90l1.40,-1.40" stroke="#ff0000" stroke-width="0.45"/><path d="M201.25,133.20h2.00M202.25,132.20v2.00M201.55,132.50l1.40,1.40M201.55,133.90l1.40,-1.40" stroke="#ff0000" stroke-width="0.45"/><path d="M203.20,133.20h2.00M204.20,132.20v2.00M203.50,132.50l1.40,1.40M203.50,133.90l1.40,-1.40" stroke="#ff0000" stroke-width="0.45"/><path d="M205.15,133.20h2.00M206.15,132.20v2.00M205.45,132.50l1.40,1.40M205.45,133.90l1.40,-1.40" stroke="#ff0000" stroke-width="0.45"/><path d="M207.10,133.20h2.00M208.10,132.20v2.00M207.40,132.50l1.40,1.40M207.40,133.90l1.40,-1.40" stroke="#ff0000" stroke-width="0.45"/><path d="M209.05,133.20h2.00M210.05,132.20v2.00M209.35,132.50l1.40,1.40M209.35,133.90l1.40,-1.40" stroke="#ff0000" stroke-width="0.45"/><path d="M211.00,133.20h2.00M212.00,132.20v2.00M211.30,132.50l1.40,1.40M211.30,133.90l1.40,-1.40" stroke="#ff0000" stroke-width="0.45"/><path d="M212.95,133.20h2.00M213.95,132.20v2.00M213.25,132.50l1.40,1.40M213.25,133.90l1.40,-1.40" stroke="#ff0000" stroke-width="0.45"/><path d="M214.90,133.20h2.00M215.90,132.20v2.00M215.20,132.50l1.40,1.40M215.20,133.90l1.40,-1.40" stroke="#ff0000" stroke-width="0.45"/><path d="M216.85,133.20h2.00M217.85,132.20v2.00M217.15,132.50l1.40,1.40M217.15,133.90l1.40,-1.40" stroke="#ff0000" stroke-width="0.45"/><path d="M218.80,133.20h2.00M219.80,132.20v2.00M219.10,132.50l1.40,1.40M219.10,133.90l1.40,-1.40" stroke="#ff0000" stroke-width="0.45"/><path d="M220.75,133.20h2.00M221.75,132.20v2.00M221.05,132.50l1.40,1.40M221.05,133.90l1.40,-1.40" stroke="#ff0000" stroke-width="0.45"/><path d="M222.70,133.20h2.00M223.70,132.20v2.00M223.00,132.50l1.40,1.40M223.00,133.90l1.40,-1.40" stroke="#ff0000" stroke-width="0.45"/><path d="M224.65,133.20h2.00M225.65,132.20v2.00M224.95,132.50l1.40,1.40M224.95,133.90l1.40,-1.40" stroke="#ff0000" stroke-width="0.45"/><path d="M226.60,133.20h2.00M227.60,132.20v2.00M226.90,132.50l1.40,1.40M226.90,133.90l1.40,-1.40" stroke="#ff0000" stroke-width="0.45"/><path d="M228.55,133.20h2.00M229.55,132.20v2.00M228.85,132.50l1.40,1.40M228.85,133.90l1.40,-1.40" stroke="#ff0000" stroke-width="0.45"/></g>
<path d="M37.00,75.60 L42.00,75.60 L43.40,85.00 L45.00,92.60 L59.20,92.60 L59.20,96.20 L68.00,96.20 L68.00,108.70 L73.80,108.70 L74.40,114.50 L90.20,114.50 L91.80,140.60 L164.00,140.60 L164.00,145.80 L231.00,145.80" fill="none" stroke="#ff0000" stroke-width="0.52" opacity="0.6"/>
<g opacity="1.0"><circle cx="38.45" cy="75.60" r="1.20" fill="none" stroke="#ff0000" stroke-width="0.45"/><circle cx="40.40" cy="75.60" r="1.20" fill="none" stroke="#ff0000" stroke-width="0.45"/><circle cx="42.35" cy="77.95" r="1.20" fill="none" stroke="#ff0000" stroke-width="0.45"/><circle cx="44.30" cy="89.27" r="1.20" fill="none" stroke="#ff0000" stroke-width="0.45"/><circle cx="46.25" cy="92.60" r="1.20" fill="none" stroke="#ff0000" stroke-width="0.45"/><circle cx="48.20" cy="92.60" r="1.20" fill="none" stroke="#ff0000" stroke-width="0.45"/><circle cx="50.15" cy="92.60" r="1.20" fill="none" stroke="#ff0000" stroke-width="0.45"/><circle cx="52.10" cy="92.60" r="1.20" fill="none" stroke="#ff0000" stroke-width="0.45"/><circle cx="54.05" cy="92.60" r="1.20" fill="none" stroke="#ff0000" stroke-width="0.45"/><circle cx="56.00" cy="92.60" r="1.20" fill="none" stroke="#ff0000" stroke-width="0.45"/><circle cx="57.95" cy="92.60" r="1.20" fill="none" stroke="#ff0000" stroke-width="0.45"/><circle cx="59.90" cy="96.20" r="1.20" fill="none" stroke="#ff0000" stroke-width="0.45"/><circle cx="61.85" cy="96.20" r="1.20" fill="none" stroke="#ff0000" stroke-width="0.45"/><circle cx="63.80" cy="96.20" r="1.20" fill="none" stroke="#ff0000" stroke-width="0.45"/><circle cx="65.75" cy="96.20" r="1.20" fill="none" stroke="#ff0000" stroke-width="0.45"/><circle cx="67.70" cy="96.20" r="1.20" fill="none" stroke="#ff0000" stroke-width="0.45"/><circle cx="69.65" cy="108.70" r="1.20" fill="none" stroke="#ff0000" stroke-width="0.45"/><circle cx="71.60" cy="108.70" r="1.20" fill="none" stroke="#ff0000" stroke-width="0.45"/><circle cx="73.55" cy="108.70" r="1.20" fill="none" stroke="#ff0000" stroke-width="0.45"/><circle cx="75.50" cy="114.50" r="1.20" fill="none" stroke="#ff0000" stroke-width="0.45"/><circle cx="77.45" cy="114.50" r="1.20" fill="none" stroke="#ff0000" stroke-width="0.45"/><circle cx="79.40" cy="114.50" r="1.20" fill="none" stroke="#ff0000" stroke-width="0.45"/><circle cx="81.35" cy="114.50" r="1.20" fill="none" stroke="#ff0000" stroke-width="0.45"/><circle cx="83.30" cy="114.50" r="1.20" fill="none" stroke="#ff0000" stroke-width="0.45"/><circle cx="85.25" cy="114.50" r="1.20" fill="none" stroke="#ff0000" stroke-width="0.45"/><circle cx="87.20" cy="114.50" r="1.20" fill="none" stroke="#ff0000" stroke-width="0.45"/><circle cx="89.15" cy="114.50" r="1.20" fill="none" stroke="#ff0000" stroke-width="0.45"/><circle cx="91.10" cy="129.18" r="1.20" fill="none" stroke="#ff0000" stroke-width="0.45"/><circle cx="93.05" cy="140.60" r="1.20" fill="none" stroke="#ff0000" stroke-width="0.45"/><circle cx="95.00" cy="140.60" r="1.20" fill="none" stroke="#ff0000" stroke-width="0.45"/><circle cx="96.95" cy="140.60" r="1.20" fill="none" stroke="#ff0000" stroke-width="0.45"/><circle cx="98.90" cy="140.60" r="1.20" fill="none" stroke="#ff0000" stroke-width="0.45"/><circle cx="100.85" cy="140.60" r="1.20" fill="none" stroke="#ff0000" stroke-width="0.45"/><circle cx="102.80" cy="140.60" r="1.20" fill="none" stroke="#ff0000" stroke-width="0.45"/><circle cx="104.75" cy="140.60" r="1.20" fill="none" stroke="#ff0000" stroke-width="0.45"/><circle cx="106.70" cy="140.60" r="1.20" fill="none" stroke="#ff0000" stroke-width="0.45"/><circle cx="108.65" cy="140.60" r="1.20" fill="none" stroke="#ff0000" stroke-width="0.45"/><circle cx="110.60" cy="140.60" r="1.20" fill="none" stroke="#ff0000" stroke-width="0.45"/><circle cx="112.55" cy="140.60" r="1.20" fill="none" stroke="#ff0000" stroke-width="0.45"/><circle cx="114.50" cy="140.60" r="1.20" fill="none" stroke="#ff0000" stroke-width="0.45"/><circle cx="116.45" cy="140.60" r="1.20" fill="none" stroke="#ff0000" stroke-width="0.45"/><circle cx="118.40" cy="140.60" r="1.20" fill="none" stroke="#ff0000" stroke-width="0.45"/><circle cx="120.35" cy="140.60" r="1.20" fill="none" stroke="#ff0000" stroke-width="0.45"/><circle cx="122.30" cy="140.60" r="1.20" fill="none" stroke="#ff0000" stroke-width="0.45"/><circle cx="124.25" cy="140.60" r="1.20" fill="none" stroke="#ff0000" stroke-width="0.45"/><circle cx="126.20" cy="140.60" r="1.20" fill="none" stroke="#ff0000" stroke-width="0.45"/><circle cx="128.15" cy="140.60" r="1.20" fill="none" stroke="#ff0000" stroke-width="0.45"/><circle cx="130.10" cy="140.60" r="1.20" fill="none" stroke="#ff0000" stroke-width="0.45"/><circle cx="132.05" cy="140.60" r="1.20" fill="none" stroke="#ff0000" stroke-width="0.45"/><circle cx="134.00" cy="140.60" r="1.20" fill="none" stroke="#ff0000" stroke-width="0.45"/><circle cx="135.95" cy="140.60" r="1.20" fill="none" stroke="#ff0000" stroke-width="0.45"/><circle cx="137.90" cy="140.60" r="1.20" fill="none" stroke="#ff0000" stroke-width="0.45"/><circle cx="139.85" cy="140.60" r="1.20" fill="none" stroke="#ff0000" stroke-width="0.45"/><circle cx="141.80" cy="140.60" r="1.20" fill="none" stroke="#ff0000" stroke-width="0.45"/><circle cx="143.75" cy="140.60" r="1.20" fill="none" stroke="#ff0000" stroke-width="0.45"/><circle cx="145.70" cy="140.60" r="1.20" fill="none" stroke="#ff0000" stroke-width="0.45"/><circle cx="147.65" cy="140.60" r="1.20" fill="none" stroke="#ff0000" stroke-width="0.45"/><circle cx="149.60" cy="140.60" r="1.20" fill="none" stroke="#ff0000" stroke-width="0.45"/><circle cx="151.55" cy="140.60" r="1.20" fill="none" stroke="#ff0000" stroke-width="0.45"/><circle cx="153.50" cy="140.60" r="1.20" fill="none" stroke="#ff0000" stroke-width="0.45"/><circle cx="155.45" cy="140.60" r="1.20" fill="none" stroke="#ff0000" stroke-width="0.45"/><circle cx="157.40" cy="140.60" r="1.20" fill="none" stroke="#ff0000" stroke-width="0.45"/><circle cx="159.35" cy="140.60" r="1.20" fill="none" stroke="#ff0000" stroke-width="0.45"/><circle cx="161.30" cy="140.60" r="1.20" fill="none" stroke="#ff0000" stroke-width="0.45"/><circle cx="163.25" cy="140.60" r="1.20" fill="none" stroke="#ff0000" stroke-width="0.45"/><circle cx="165.20" cy="145.80" r="1.20" fill="none" stroke="#ff0000" stroke-width="0.45"/><circle cx="167.15" cy="145.80" r="1.20" fill="none" stroke="#ff0000" stroke-width="0.45"/><circle cx="169.10" cy="145.80" r="1.20" fill="none" stroke="#ff0000" stroke-width="0.45"/><circle cx="171.05" cy="145.80" r="1.20" fill="none" stroke="#ff0000" stroke-width="0.45"/><circle cx="173.00" cy="145.80" r="1.20" fill="none" stroke="#ff0000" stroke-width="0.45"/><circle cx="174.95" cy="145.80" r="1.20" fill="none" stroke="#ff0000" stroke-width="0.45"/><circle cx="176.90" cy="145.80" r="1.20" fill="none" stroke="#ff0000" stroke-width="0.45"/><circle cx="178.85" cy="145.80" r="1.20" fill="none" stroke="#ff0000" stroke-width="0.45"/><circle cx="180.80" cy="145.80" r="1.20" fill="none" stroke="#ff0000" stroke-width="0.45"/><circle cx="182.75" cy="145.80" r="1.20" fill="none" stroke="#ff0000" stroke-width="0.45"/><circle cx="184.70" cy="145.80" r="1.20" fill="none" stroke="#ff0000" stroke-width="0.45"/><circle cx="186.65" cy="145.80" r="1.20" fill="none" stroke="#ff0000" stroke-width="0.45"/><circle cx="188.60" cy="145.80" r="1.20" fill="none" stroke="#ff0000" stroke-width="0.45"/><circle cx="190.55" cy="145.80" r="1.20" fill="none" stroke="#ff0000" stroke-width="0.45"/><circle cx="192.50" cy="145.80" r="1.20" fill="none" stroke="#ff0000" stroke-width="0.45"/><circle cx="194.45" cy="145.80" r="1.20" fill="none" stroke="#ff0000" stroke-width="0.45"/><circle cx="196.40" cy="145.80" r="1.20" fill="none" stroke="#ff0000" stroke-width="0.45"/><circle cx="198.35" cy="145.80" r="1.20" fill="none" stroke="#ff0000" stroke-width="0.45"/><circle cx="200.30" cy="145.80" r="1.20" fill="none" stroke="#ff0000" stroke-width="0.45"/><circle cx="202.25" cy="145.80" r="1.20" fill="none" stroke="#ff0000" stroke-width="0.45"/><circle cx="204.20" cy="145.80" r="1.20" fill="none" stroke="#ff0000" stroke-width="0.45"/><circle cx="206.15" cy="145.80" r="1.20" fill="none" stroke="#ff0000" stroke-width="0.45"/><circle cx="208.10" cy="145.80" r="1.20" fill="none" stroke="#ff0000" stroke-width="0.45"/><circle cx="210.05" cy="145.80" r="1.20" fill="none" stroke="#ff0000" stroke-width="0.45"/><circle cx="212.00" cy="145.80" r="1.20" fill="none" stroke="#ff0000" stroke-width="0.45"/><circle cx="213.95" cy="145.80" r="1.20" fill="none" stroke="#ff0000" stroke-width="0.45"/><circle cx="215.90" cy="145.80" r="1.20" fill="none" stroke="#ff0000" stroke-width="0.45"/><circle cx="217.85" cy="145.80" r="1.20" fill="none" stroke="#ff0000" stroke-width="0.45"/><circle cx="219.80" cy="145.80" r="1.20" fill="none" stroke="#ff0000" stroke-width="0.45"/><circle cx="221.75" cy="145.80" r="1.20" fill="none" stroke="#ff0000" stroke-width="0.45"/><circle cx="223.70" cy="145.80" r="1.20" fill="none" stroke="#ff0000" stroke-width="0.45"/><circle cx="225.65" cy="145.80" r="1.20" fill="none" stroke="#ff0000" stroke-width="0.45"/><circle cx="227.60" cy="145.80" r="1.20" fill="none" stroke="#ff0000" stroke-width="0.45"/><circle cx="229.55" cy="145.80" r="1.20" fill="none" stroke="#ff0000" stroke-width="0.45"/></g>
<path d="M37.00,66.40 L50.00,66.40 L50.00,79.50 L62.30,79.50 L62.50,162.30 L231.00,162.30" fill="none" stroke="#ff0000" stroke-width="0.68" opacity="0.6"/>
<g opacity="1.0"><path d="M37.35,66.40h2.20M38.45,65.30v2.20M37.68,65.63l1.54,1.54M37.68,67.17l1.54,-1.54" stroke="#ff0000" stroke-width="0.45"/><path d="M39.30,66.40h2.20M40.40,65.30v2.20M39.63,65.63l1.54,1.54M39.63,67.17l1.54,-1.54" stroke="#ff0000" stroke-width="0.45"/><path d="M41.25,66.40h2.20M42.35,65.30v2.20M41.58,65.63l1.54,1.54M41.58,67.17l1.54,-1.54" stroke="#ff0000" stroke-width="0.45"/><path d="M43.20,66.40h2.20M44.30,65.30v2.20M43.53,65.63l1.54,1.54M43.53,67.17l1.54,-1.54" stroke="#ff0000" stroke-width="0.45"/><path d="M45.15,66.40h2.20M46.25,65.30v2.20M45.48,65.63l1.54,1.54M45.48,67.17l1.54,-1.54" stroke="#ff0000" stroke-width="0.45"/><path d="M47.10,66.40h2.20M48.20,65.30v2.20M47.43,65.63l1.54,1.54M47.43,67.17l1.54,-1.54" stroke="#ff0000" stroke-width="0.45"/><path d="M49.05,79.50h2.20M50.15,78.40v2.20M49.38,78.73l1.54,1.54M49.38,80.27l1.54,-1.54" stroke="#ff0000" stroke-width="0.45"/><path d="M51.00,79.50h2.20M52.10,78.40v2.20M51.33,78.73l1.54,1.54M51.33,80.27l1.54,-1.54" stroke="#ff0000" stroke-width="0.45"/><path d="M52.95,79.50h2.20M54.05,78.40v2.20M53.28,78.73l1.54,1.54M53.28,80.27l1.54,-1.54" stroke="#ff0000" stroke-width="0.45"/><path d="M54.90,79.50h2.20M56.00,78.40v2.20M55.23,78.73l1.54,1.54M55.23,80.27l1.54,-1.54" stroke="#ff0000" stroke-width="0.45"/><path d="M56.85,79.50h2.20M57.95,78.40v2.20M57.18,78.73l1.54,1.54M57.18,80.27l1.54,-1.54" stroke="#ff0000" stroke-width="0.45"/><path d="M58.80,79.50h2.20M59.90,78.40v2.20M59.13,78.73l1.54,1.54M59.13,80.27l1.54,-1.54" stroke="#ff0000" stroke-width="0.45"/><path d="M60.75,79.50h2.20M61.85,78.40v2.20M61.08,78.73l1.54,1.54M61.08,80.27l1.54,-1.54" stroke="#ff0000" stroke-width="0.45"/><path d="M62.70,162.30h2.20M63.80,161.20v2.20M63.03,161.53l1.54,1.54M63.03,163.07l1.54,-1.54" stroke="#ff0000" stroke-width="0.45"/><path d="M64.65,162.30h2.20M65.75,161.20v2.20M64.98,161.53l1.54,1.54M64.98,163.07l1.54,-1.54" stroke="#ff0000" stroke-width="0.45"/><path d="M66.60,162.30h2.20M67.70,161.20v2.20M66.93,161.53l1.54,1.54M66.93,163.07l1.54,-1.54" stroke="#ff0000" stroke-width="0.45"/><path d="M68.55,162.30h2.20M69.65,161.20v2.20M68.88,161.53l1.54,1.54M68.88,163.07l1.54,-1.54" stroke="#ff0000" stroke-width="0.45"/><path d="M70.50,162.30h2.20M71.60,161.20v2.20M70.83,161.53l1.54,1.54M70.83,163.07l1.54,-1.54" stroke="#ff0000" stroke-width="0.45"/><path d="M72.45,162.30h2.20M73.55,161.20v2.20M72.78,161.53l1.54,1.54M72.78,163.07l1.54,-1.54" stroke="#ff0000" stroke-width="0.45"/><path d="M74.40,162.30h2.20M75.50,161.20v2.20M74.73,161.53l1.54,1.54M74.73,163.07l1.54,-1.54" stroke="#ff0000" stroke-width="0.45"/><path d="M76.35,162.30h2.20M77.45,161.20v2.20M76.68,161.53l1.54,1.54M76.68,163.07l1.54,-1.54" stroke="#ff0000" stroke-width="0.45"/><path d="M78.30,162.30h2.20M79.40,161.20v2.20M78.63,161.53l1.54,1.54M78.63,163.07l1.54,-1.54" stroke="#ff0000" stroke-width="0.45"/><path d="M80.25,162.30h2.20M81.35,161.20v2.20M80.58,161.53l1.54,1.54M80.58,163.07l1.54,-1.54" stroke="#ff0000" stroke-width="0.45"/><path d="M82.20,162.30h2.20M83.30,161.20v2.20M82.53,161.53l1.54,1.54M82.53,163.07l1.54,-1.54" stroke="#ff0000" stroke-width="0.45"/><path d="M84.15,162.30h2.20M85.25,161.20v2.20M84.48,161.53l1.54,1.54M84.48,163.07l1.54,-1.54" stroke="#ff0000" stroke-width="0.45"/><path d="M86.10,162.30h2.20M87.20,161.20v2.20M86.43,161.53l1.54,1.54M86.43,163.07l1.54,-1.54" stroke="#ff0000" stroke-width="0.45"/><path d="M88.05,162.30h2.20M89.15,161.20v2.20M88.38,161.53l1.54,1.54M88.38,163.07l1.54,-1.54" stroke="#ff0000" stroke-width="0.45"/><path d="M90.00,162.30h2.20M91.10,161.20v2.20M90.33,161.53l1.54,1.54M90.33,163.07l1.54,-1.54" stroke="#ff0000" stroke-width="0.45"/><path d="M91.95,162.30h2.20M93.05,161.20v2.20M92.28,161.53l1.54,1.54M92.28,163.07l1.54,-1.54" stroke="#ff0000" stroke-width="0.45"/><path d="M93.90,162.30h2.20M95.00,161.20v2.20M94.23,161.53l1.54,1.54M94.23,163.07l1.54,-1.54" stroke="#ff0000" stroke-width="0.45"/><path d="M95.85,162.30h2.20M96.95,161.20v2.20M96.18,161.53l1.54,1.54M96.18,163.07l1.54,-1.54" stroke="#ff0000" stroke-width="0.45"/><path d="M97.80,162.30h2.20M98.90,161.20v2.20M98.13,161.53l1.54,1.54M98.13,163.07l1.54,-1.54" stroke="#ff0000" stroke-width="0.45"/><path d="M99.75,162.30h2.20M100.85,161.20v2.20M100.08,161.53l1.54,1.54M100.08,163.07l1.54,-1.54" stroke="#ff0000" stroke-width="0.45"/><path d="M101.70,162.30h2.20M102.80,161.20v2.20M102.03,161.53l1.54,1.54M102.03,163.07l1.54,-1.54" stroke="#ff0000" stroke-width="0.45"/><path d="M103.65,162.30h2.20M104.75,161.20v2.20M103.98,161.53l1.54,1.54M103.98,163.07l1.54,-1.54" stroke="#ff0000" stroke-width="0.45"/><path d="M105.60,162.30h2.20M106.70,161.20v2.20M105.93,161.53l1.54,1.54M105.93,163.07l1.54,-1.54" stroke="#ff0000" stroke-width="0.45"/><path d="M107.55,162.30h2.20M108.65,161.20v2.20M107.88,161.53l1.54,1.54M107.88,163.07l1.54,-1.54" stroke="#ff0000" stroke-width="0.45"/><path d="M109.50,162.30h2.20M110.60,161.20v2.20M109.83,161.53l1.54,1.54M109.83,163.07l1.54,-1.54" stroke="#ff0000" stroke-width="0.45"/><path d="M111.45,162.30h2.20M112.55,161.20v2.20M111.78,161.53l1.54,1.54M111.78,163.07l1.54,-1.54" stroke="#ff0000" stroke-width="0.45"/><path d="M113.40,162.30h2.20M114.50,161.20v2.20M113.73,161.53l1.54,1.54M113.73,163.07l1.54,-1.54" stroke="#ff0000" stroke-width="0.45"/><path d="M115.35,162.30h2.20M116.45,161.20v2.20M115.68,161.53l1.54,1.54M115.68,163.07l1.54,-1.54" stroke="#ff0000" stroke-width="0.45"/><path d="M117.30,162.30h2.20M118.40,161.20v2.20M117.63,161.53l1.54,1.54M117.63,163.07l1.54,-1.54" stroke="#ff0000" stroke-width="0.45"/><path d="M119.25,162.30h2.20M120.35,161.20v2.20M119.58,161.53l1.54,1.54M119.58,163.07l1.54,-1.54" stroke="#ff0000" stroke-width="0.45"/><path d="M121.20,162.30h2.20M122.30,161.20v2.20M121.53,161.53l1.54,1.54M121.53,163.07l1.54,-1.54" stroke="#ff0000" stroke-width="0.45"/><path d="M123.15,162.30h2.20M124.25,161.20v2.20M123.48,161.53l1.54,1.54M123.48,163.07l1.54,-1.54" stroke="#ff0000" stroke-width="0.45"/><path d="M125.10,162.30h2.20M126.20,161.20v2.20M125.43,161.53l1.54,1.54M125.43,163.07l1.54,-1.54" stroke="#ff0000" stroke-width="0.45"/><path d="M127.05,162.30h2.20M128.15,161.20v2.20M127.38,161.53l1.54,1.54M127.38,163.07l1.54,-1.54" stroke="#ff0000" stroke-width="0.45"/><path d="M129.00,162.30h2.20M130.10,161.20v2.20M129.33,161.53l1.54,1.54M129.33,163.07l1.54,-1.54" stroke="#ff0000" stroke-width="0.45"/><path d="M130.95,162.30h2.20M132.05,161.20v2.20M131.28,161.53l1.54,1.54M131.28,163.07l1.54,-1.54" stroke="#ff0000" stroke-width="0.45"/><path d="M132.90,162.30h2.20M134.00,161.20v2.20M133.23,161.53l1.54,1.54M133.23,163.07l1.54,-1.54" stroke="#ff0000" stroke-width="0.45"/><path d="M134.85,162.30h2.20M135.95,161.20v2.20M135.18,161.53l1.54,1.54M135.18,163.07l1.54,-1.54" stroke="#ff0000" stroke-width="0.45"/><path d="M136.80,162.30h2.20M137.90,161.20v2.20M137.13,161.53l1.54,1.54M137.13,163.07l1.54,-1.54" stroke="#ff0000" stroke-width="0.45"/><path d="M138.75,162.30h2.20M139.85,161.20v2.20M139.08,161.53l1.54,1.54M139.08,163.07l1.54,-1.54" stroke="#ff0000" stroke-width="0.45"/><path d="M140.70,162.30h2.20M141.80,161.20v2.20M141.03,161.53l1.54,1.54M141.03,163.07l1.54,-1.54" stroke="#ff0000" stroke-width="0.45"/><path d="M142.65,162.30h2.20M143.75,161.20v2.20M142.98,161.53l1.54,1.54M142.98,163.07l1.54,-1.54" stroke="#ff0000" stroke-width="0.45"/><path d="M144.60,162.30h2.20M145.70,161.20v2.20M144.93,161.53l1.54,1.54M144.93,163.07l1.54,-1.54" stroke="#ff0000" stroke-width="0.45"/><path d="M146.55,162.30h2.20M147.65,161.20v2.20M146.88,161.53l1.54,1.54M146.88,163.07l1.54,-1.54" stroke="#ff0000" stroke-width="0.45"/><path d="M148.50,162.30h2.20M149.60,161.20v2.20M148.83,161.53l1.54,1.54M148.83,163.07l1.54,-1.54" stroke="#ff0000" stroke-width="0.45"/><path d="M150.45,162.30h2.20M151.55,161.20v2.20M150.78,161.53l1.54,1.54M150.78,163.07l1.54,-1.54" stroke="#ff0000" stroke-width="0.45"/><path d="M152.40,162.30h2.20M153.50,161.20v2.20M152.73,161.53l1.54,1.54M152.73,163.07l1.54,-1.54" stroke="#ff0000" stroke-width="0.45"/><path d="M154.35,162.30h2.20M155.45,161.20v2.20M154.68,161.53l1.54,1.54M154.68,163.07l1.54,-1.54" stroke="#ff0000" stroke-width="0.45"/><path d="M156.30,162.30h2.20M157.40,161.20v2.20M156.63,161.53l1.54,1.54M156.63,163.07l1.54,-1.54" stroke="#ff0000" stroke-width="0.45"/><path d="M158.25,162.30h2.20M159.35,161.20v2.20M158.58,161.53l1.54,1.54M158.58,163.07l1.54,-1.54" stroke="#ff0000" stroke-width="0.45"/><path d="M160.20,162.30h2.20M161.30,161.20v2.20M160.53,161.53l1.54,1.54M160.53,163.07l1.54,-1.54" stroke="#ff0000" stroke-width="0.45"/><path d="M162.15,162.30h2.20M163.25,161.20v2.20M162.48,161.53l1.54,1.54M162.48,163.07l1.54,-1.54" stroke="#ff0000" stroke-width="0.45"/><path d="M164.10,162.30h2.20M165.20,161.20v2.20M164.43,161.53l1.54,1.54M164.43,163.07l1.54,-1.54" stroke="#ff0000" stroke-width="0.45"/><path d="M166.05,162.30h2.20M167.15,161.20v2.20M166.38,161.53l1.54,1.54M166.38,163.07l1.54,-1.54" stroke="#ff0000" stroke-width="0.45"/><path d="M168.00,162.30h2.20M169.10,161.20v2.20M168.33,161.53l1.54,1.54M168.33,163.07l1.54,-1.54" stroke="#ff0000" stroke-width="0.45"/><path d="M169.95,162.30h2.20M171.05,161.20v2.20M170.28,161.53l1.54,1.54M170.28,163.07l1.54,-1.54" stroke="#ff0000" stroke-width="0.45"/><path d="M171.90,162.30h2.20M173.00,161.20v2.20M172.23,161.53l1.54,1.54M172.23,163.07l1.54,-1.54" stroke="#ff0000" stroke-width="0.45"/><path d="M173.85,162.30h2.20M174.95,161.20v2.20M174.18,161.53l1.54,1.54M174.18,163.07l1.54,-1.54" stroke="#ff0000" stroke-width="0.45"/><path d="M175.80,162.30h2.20M176.90,161.20v2.20M176.13,161.53l1.54,1.54M176.13,163.07l1.54,-1.54" stroke="#ff0000" stroke-width="0.45"/><path d="M177.75,162.30h2.20M178.85,161.20v2.20M178.08,161.53l1.54,1.54M178.08,163.07l1.54,-1.54" stroke="#ff0000" stroke-width="0.45"/><path d="M179.70,162.30h2.20M180.80,161.20v2.20M180.03,161.53l1.54,1.54M180.03,163.07l1.54,-1.54" stroke="#ff0000" stroke-width="0.45"/><path d="M181.65,162.30h2.20M182.75,161.20v2.20M181.98,161.53l1.54,1.54M181.98,163.07l1.54,-1.54" stroke="#ff0000" stroke-width="0.45"/><path d="M183.60,162.30h2.20M184.70,161.20v2.20M183.93,161.53l1.54,1.54M183.93,163.07l1.54,-1.54" stroke="#ff0000" stroke-width="0.45"/><path d="M185.55,162.30h2.20M186.65,161.20v2.20M185.88,161.53l1.54,1.54M185.88,163.07l1.54,-1.54" stroke="#ff0000" stroke-width="0.45"/><path d="M187.50,162.30h2.20M188.60,161.20v2.20M187.83,161.53l1.54,1.54M187.83,163.07l1.54,-1.54" stroke="#ff0000" stroke-width="0.45"/><path d="M189.45,162.30h2.20M190.55,161.20v2.20M189.78,161.53l1.54,1.54M189.78,163.07l1.54,-1.54" stroke="#ff0000" stroke-width="0.45"/><path d="M191.40,162.30h2.20M192.50,161.20v2.20M191.73,161.53l1.54,1.54M191.73,163.07l1.54,-1.54" stroke="#ff0000" stroke-width="0.45"/><path d="M193.35,162.30h2.20M194.45,161.20v2.20M193.68,161.53l1.54,1.54M193.68,163.07l1.54,-1.54" stroke="#ff0000" stroke-width="0.45"/><path d="M195.30,162.30h2.20M196.40,161.20v2.20M195.63,161.53l1.54,1.54M195.63,163.07l1.54,-1.54" stroke="#ff0000" stroke-width="0.45"/><path d="M197.25,162.30h2.20M198.35,161.20v2.20M197.58,161.53l1.54,1.54M197.58,163.07l1.54,-1.54" stroke="#ff0000" stroke-width="0.45"/><path d="M199.20,162.30h2.20M200.30,161.20v2.20M199.53,161.53l1.54,1.54M199.53,163.07l1.54,-1.54" stroke="#ff0000" stroke-width="0.45"/><path d="M201.15,162.30h2.20M202.25,161.20v2.20M201.48,161.53l1.54,1.54M201.48,163.07l1.54,-1.54" stroke="#ff0000" stroke-width="0.45"/><path d="M203.10,162.30h2.20M204.20,161.20v2.20M203.43,161.53l1.54,1.54M203.43,163.07l1.54,-1.54" stroke="#ff0000" stroke-width="0.45"/><path d="M205.05,162.30h2.20M206.15,161.20v2.20M205.38,161.53l1.54,1.54M205.38,163.07l1.54,-1.54" stroke="#ff0000" stroke-width="0.45"/><path d="M207.00,162.30h2.20M208.10,161.20v2.20M207.33,161.53l1.54,1.54M207.33,163.07l1.54,-1.54" stroke="#ff0000" stroke-width="0.45"/><path d="M208.95,162.30h2.20M210.05,161.20v2.20M209.28,161.53l1.54,1.54M209.28,163.07l1.54,-1.54" stroke="#ff0000" stroke-width="0.45"/><path d="M210.90,162.30h2.20M212.00,161.20v2.20M211.23,161.53l1.54,1.54M211.23,163.07l1.54,-1.54" stroke="#ff0000" stroke-width="0.45"/><path d="M212.85,162.30h2.20M213.95,161.20v2.20M213.18,161.53l1.54,1.54M213.18,163.07l1.54,-1.54" stroke="#ff0000" stroke-width="0.45"/><path d="M214.80,162.30h2.20M215.90,161.20v2.20M215.13,161.53l1.54,1.54M215.13,163.07l1.54,-1.54" stroke="#ff0000" stroke-width="0.45"/><path d="M216.75,162.30h2.20M217.85,161.20v2.20M217.08,161.53l1.54,1.54M217.08,163.07l1.54,-1.54" stroke="#ff0000" stroke-width="0.45"/><path d="M218.70,162.30h2.20M219.80,161.20v2.20M219.03,161.53l1.54,1.54M219.03,163.07l1.54,-1.54" stroke="#ff0000" stroke-width="0.45"/><path d="M220.65,162.30h2.20M221.75,161.20v2.20M220.98,161.53l1.54,1.54M220.98,163.07l1.54,-1.54" stroke="#ff0000" stroke-width="0.45"/><path d="M222.60,162.30h2.20M223.70,161.20v2.20M222.93,161.53l1.54,1.54M222.93,163.07l1.54,-1.54" stroke="#ff0000" stroke-width="0.45"/><path d="M224.55,162.30h2.20M225.65,161.20v2.20M224.88,161.53l1.54,1.54M224.88,163.07l1.54,-1.54" stroke="#ff0000" stroke-width="0.45"/><path d="M226.50,162.30h2.20M227.60,161.20v2.20M226.83,161.53l1.54,1.54M226.83,163.07l1.54,-1.54" stroke="#ff0000" stroke-width="0.45"/><path d="M228.45,162.30h2.20M229.55,161.20v2.20M228.78,161.53l1.54,1.54M228.78,163.07l1.54,-1.54" stroke="#ff0000" stroke-width="0.45"/></g>
<path d="M37.00,57.80 L48.70,57.80 L48.70,78.50 L52.50,78.50 L52.50,117.20 L62.50,117.20 L62.50,120.50 L130.40,120.50 L130.40,126.90 L226.30,126.90 L226.30,131.20 L231.00,131.20" fill="none" stroke="#0000ff" stroke-width="0.68" opacity="0.6"/>
<g opacity="1.0"><path d="M37.35,57.80h2.20M38.45,56.70v2.20M37.68,57.03l1.54,1.54M37.68,58.57l1.54,-1.54" stroke="#0000ff" stroke-width="0.45"/><path d="M39.30,57.80h2.20M40.40,56.70v2.20M39.63,57.03l1.54,1.54M39.63,58.57l1.54,-1.54" stroke="#0000ff" stroke-width="0.45"/><path d="M41.25,57.80h2.20M42.35,56.70v2.20M41.58,57.03l1.54,1.54M41.58,58.57l1.54,-1.54" stroke="#0000ff" stroke-width="0.45"/><path d="M43.20,57.80h2.20M44.30,56.70v2.20M43.53,57.03l1.54,1.54M43.53,58.57l1.54,-1.54" stroke="#0000ff" stroke-width="0.45"/><path d="M45.15,57.80h2.20M46.25,56.70v2.20M45.48,57.03l1.54,1.54M45.48,58.57l1.54,-1.54" stroke="#0000ff" stroke-width="0.45"/><path d="M47.10,57.80h2.20M48.20,56.70v2.20M47.43,57.03l1.54,1.54M47.43,58.57l1.54,-1.54" stroke="#0000ff" stroke-width="0.45"/><path d="M49.05,78.50h2.20M50.15,77.40v2.20M49.38,77.73l1.54,1.54M49.38,79.27l1.54,-1.54" stroke="#0000ff" stroke-width="0.45"/><path d="M51.00,78.50h2.20M52.10,77.40v2.20M51.33,77.73l1.54,1.54M51.33,79.27l1.54,-1.54" stroke="#0000ff" stroke-width="0.45"/><path d="M52.95,117.20h2.20M54.05,116.10v2.20M53.28,116.43l1.54,1.54M53.28,117.97l1.54,-1.54" stroke="#0000ff" stroke-width="0.45"/><path d="M54.90,117.20h2.20M56.00,116.10v2.20M55.23,116.43l1.54,1.54M55.23,117.97l1.54,-1.54" stroke="#0000ff" stroke-width="0.45"/><path d="M56.85,117.20h2.20M57.95,116.10v2.20M57.18,116.43l1.54,1.54M57.18,117.97l1.54,-1.54" stroke="#0000ff" stroke-width="0.45"/><path d="M58.80,117.20h2.20M59.90,116.10v2.20M59.13,116.43l1.54,1.54M59.13,117.97l1.54,-1.54" stroke="#0000ff" stroke-width="0.45"/><path d="M60.75,117.20h2.20M61.85,116.10v2.20M61.08,116.43l1.54,1.54M61.08,117.97l1.54,-1.54" stroke="#0000ff" stroke-width="0.45"/><path d="M62.70,120.50h2.20M63.80,119.40v2.20M63.03,119.73l1.54,1.54M63.03,121.27l1.54,-1.54" stroke="#0000ff" stroke-width="0.45"/><path d="M64.65,120.50h2.20M65.75,119.40v2.20M64.98,119.73l1.54,1.54M64.98,121.27l1.54,-1.54" stroke="#0000ff" stroke-width="0.45"/><path d="M66.60,120.50h2.20M67.70,119.40v2.20M66.93,119.73l1.54,1.54M66.93,121.27l1.54,-1.54" stroke="#0000ff" stroke-width="0.45"/><path d="M68.55,120.50h2.20M69.65,119.40v2.20M68.88,119.73l1.54,1.54M68.88,121.27l1.54,-1.54" stroke="#0000ff" stroke-width="0.45"/><path d="M70.50,120.50h2.20M71.60,119.40v2.20M70.83,119.73l1.54,1.54M70.83,121.27l1.54,-1.54" stroke="#0000ff" stroke-width="0.45"/><path d="M72.45,120.50h2.20M73.55,119.40v2.20M72.78,119.73l1.54,1.54M72.78,121.27l1.54,-1.54" stroke="#0000ff" stroke-width="0.45"/><path d="M74.40,120.50h2.20M75.50,119.40v2.20M74.73,119.73l1.54,1.54M74.73,121.27l1.54,-1.54" stroke="#0000ff" stroke-width="0.45"/><path d="M76.35,120.50h2.20M77.45,119.40v2.20M76.68,119.73l1.54,1.54M76.68,121.27l1.54,-1.54" stroke="#0000ff" stroke-width="0.45"/><path d="M78.30,120.50h2.20M79.40,119.40v2.20M78.63,119.73l1.54,1.54M78.63,121.27l1.54,-1.54" stroke="#0000ff" stroke-width="0.45"/><path d="M80.25,120.50h2.20M81.35,119.40v2.20M80.58,119.73l1.54,1.54M80.58,121.27l1.54,-1.54" stroke="#0000ff" stroke-width="0.45"/><path d="M82.20,120.50h2.20M83.30,119.40v2.20M82.53,119.73l1.54,1.54M82.53,121.27l1.54,-1.54" stroke="#0000ff" stroke-width="0.45"/><path d="M84.15,120.50h2.20M85.25,119.40v2.20M84.48,119.73l1.54,1.54M84.48,121.27l1.54,-1.54" stroke="#0000ff" stroke-width="0.45"/><path d="M86.10,120.50h2.20M87.20,119.40v2.20M86.43,119.73l1.54,1.54M86.43,121.27l1.54,-1.54" stroke="#0000ff" stroke-width="0.45"/><path d="M88.05,120.50h2.20M89.15,119.40v2.20M88.38,119.73l1.54,1.54M88.38,121.27l1.54,-1.54" stroke="#0000ff" stroke-width="0.45"/><path d="M90.00,120.50h2.20M91.10,119.40v2.20M90.33,119.73l1.54,1.54M90.33,121.27l1.54,-1.54" stroke="#0000ff" stroke-width="0.45"/><path d="M91.95,120.50h2.20M93.05,119.40v2.20M92.28,119.73l1.54,1.54M92.28,121.27l1.54,-1.54" stroke="#0000ff" stroke-width="0.45"/><path d="M93.90,120.50h2.20M95.00,119.40v2.20M94.23,119.73l1.54,1.54M94.23,121.27l1.54,-1.54" stroke="#0000ff" stroke-width="0.45"/><path d="M95.85,120.50h2.20M96.95,119.40v2.20M96.18,119.73l1.54,1.54M96.18,121.27l1.54,-1.54" stroke="#0000ff" stroke-width="0.45"/><path d="M97.80,120.50h2.20M98.90,119.40v2.20M98.13,119.73l1.54,1.54M98.13,121.27l1.54,-1.54" stroke="#0000ff" stroke-width="0.45"/><path d="M99.75,120.50h2.20M100.85,119.40v2.20M100.08,119.73l1.54,1.54M100.08,121.27l1.54,-1.54" stroke="#0000ff" stroke-width="0.45"/><path d="M101.70,120.50h2.20M102.80,119.40v2.20M102.03,119.73l1.54,1.54M102.03,121.27l1.54,-1.54" stroke="#0000ff" stroke-width="0.45"/><path d="M103.65,120.50h2.20M104.75,119.40v2.20M103.98,119.73l1.54,1.54M103.98,121.27l1.54,-1.54" stroke="#0000ff" stroke-width="0.45"/><path d="M105.60,120.50h2.20M106.70,119.40v2.20M105.93,119.73l1.54,1.54M105.93,121.27l1.54,-1.54" stroke="#0000ff" stroke-width="0.45"/><path d="M107.55,120.50h2.20M108.65,119.40v2.20M107.88,119.73l1.54,1.54M107.88,121.27l1.54,-1.54" stroke="#0000ff" stroke-width="0.45"/><path d="M109.50,120.50h2.20M110.60,119.40v2.20M109.83,119.73l1.54,1.54M109.83,121.27l1.54,-1.54" stroke="#0000ff" stroke-width="0.45"/><path d="M111.45,120.50h2.20M112.55,119.40v2.20M111.78,119.73l1.54,1.54M111.78,121.27l1.54,-1.54" stroke="#0000ff" stroke-width="0.45"/><path d="M113.40,120.50h2.20M114.50,119.40v2.20M113.73,119.73l1.54,1.54M113.73,121.27l1.54,-1.54" stroke="#0000ff" stroke-width="0.45"/><path d="M115.35,120.50h2.20M116.45,119.40v2.20M115.68,119.73l1.54,1.54M115.68,121.27l1.54,-1.54" stroke="#0000ff" stroke-width="0.45"/><path d="M117.30,120.50h2.20M118.40,119.40v2.20M117.63,119.73l1.54,1.54M117.63,121.27l1.54,-1.54" stroke="#0000ff" stroke-width="0.45"/><path d="M119.25,120.50h2.20M120.35,119.40v2.20M119.58,119.73l1.54,1.54M119.58,121.27l1.54,-1.54" stroke="#0000ff" stroke-width="0.45"/><path d="M121.20,120.50h2.20M122.30,119.40v2.20M121.53,119.73l1.54,1.54M121.53,121.27l1.54,-1.54" stroke="#0000ff" stroke-width="0.45"/><path d="M123.15,120.50h2.20M124.25,119.40v2.20M123.48,119.73l1.54,1.54M123.48,121.27l1.54,-1.54" stroke="#0000ff" stroke-width="0.45"/><path d="M125.10,120.50h2.20M126.20,119.40v2.20M125.43,119.73l1.54,1.54M125.43,121.27l1.54,-1.54" stroke="#0000ff" stroke-width="0.45"/><path d="M127.05,120.50h2.20M128.15,119.40v2.20M127.38,119.73l1.54,1.54M127.38,121.27l1.54,-1.54" stroke="#0000ff" stroke-width="0.45"/><path d="M129.00,120.50h2.20M130.10,119.40v2.20M129.33,119.73l1.54,1.54M129.33,121.27l1.54,-1.54" stroke="#0000ff" stroke-width="0.45"/><path d="M130.95,126.90h2.20M132.05,125.80v2.20M131.28,126.13l1.54,1.54M131.28,127.67l1.54,-1.54" stroke="#0000ff" stroke-width="0.45"/><path d="M132.90,126.90h2.20M134.00,125.80v2.20M133.23,126.13l1.54,1.54M133.23,127.67l1.54,-1.54" stroke="#0000ff" stroke-width="0.45"/><path d="M134.85,126.90h2.20M135.95,125.80v2.20M135.18,126.13l1.54,1.54M135.18,127.67l1.54,-1.54" stroke="#0000ff" stroke-width="0.45"/><path d="M136.80,126.90h2.20M137.90,125.80v2.20M137.13,126.13l1.54,1.54M137.13,127.67l1.54,-1.54" stroke="#0000ff" stroke-width="0.45"/><path d="M138.75,126.90h2.20M139.85,125.80v2.20M139.08,126.13l1.54,1.54M139.08,127.67l1.54,-1.54" stroke="#0000ff" stroke-width="0.45"/><path d="M140.70,126.90h2.20M141.80,125.80v2.20M141.03,126.13l1.54,1.54M141.03,127.67l1.54,-1.54" stroke="#0000ff" stroke-width="0.45"/><path d="M142.65,126.90h2.20M143.75,125.80v2.20M142.98,126.13l1.54,1.54M142.98,127.67l1.54,-1.54" stroke="#0000ff" stroke-width="0.45"/><path d="M144.60,126.90h2.20M145.70,125.80v2.20M144.93,126.13l1.54,1.54M144.93,127.67l1.54,-1.54" stroke="#0000ff" stroke-width="0.45"/><path d="M146.55,126.90h2.20M147.65,125.80v2.20M146.88,126.13l1.54,1.54M146.88,127.67l1.54,-1.54" stroke="#0000ff" stroke-width="0.45"/><path d="M148.50,126.90h2.20M149.60,125.80v2.20M148.83,126.13l1.54,1.54M148.83,127.67l1.54,-1.54" stroke="#0000ff" stroke-width="0.45"/><path d="M150.45,126.90h2.20M151.55,125.80v2.20M150.78,126.13l1.54,1.54M150.78,127.67l1.54,-1.54" stroke="#0000ff" stroke-width="0.45"/><path d="M152.40,126.90h2.20M153.50,125.80v2.20M152.73,126.13l1.54,1.54M152.73,127.67l1.54,-1.54" stroke="#0000ff" stroke-width="0.45"/><path d="M154.35,126.90h2.20M155.45,125.80v2.20M154.68,126.13l1.54,1.54M154.68,127.67l1.54,-1.54" stroke="#0000ff" stroke-width="0.45"/><path d="M156.30,126.90h2.20M157.40,125.80v2.20M156.63,126.13l1.54,1.54M156.63,127.67l1.54,-1.54" stroke="#0000ff" stroke-width="0.45"/><path d="M158.25,126.90h2.20M159.35,125.80v2.20M158.58,126.13l1.54,1.54M158.58,127.67l1.54,-1.54" stroke="#0000ff" stroke-width="0.45"/><path d="M160.20,126.90h2.20M161.30,125.80v2.20M160.53,126.13l1.54,1.54M160.53,127.67l1.54,-1.54" stroke="#0000ff" stroke-width="0.45"/><path d="M162.15,126.90h2.20M163.25,125.80v2.20M162.48,126.13l1.54,1.54M162.48,127.67l1.54,-1.54" stroke="#0000ff" stroke-width="0.45"/><path d="M164.10,126.90h2.20M165.20,125.80v2.20M164.43,126.13l1.54,1.54M164.43,127.67l1.54,-1.54" stroke="#0000ff" stroke-width="0.45"/><path d="M166.05,126.90h2.20M167.15,125.80v2.20M166.38,126.13l1.54,1.54M166.38,127.67l1.54,-1.54" stroke="#0000ff" stroke-width="0.45"/><path d="M168.00,126.90h2.20M169.10,125.80v2.20M168.33,126.13l1.54,1.54M168.33,127.67l1.54,-1.54" stroke="#0000ff" stroke-width="0.45"/><path d="M169.95,126.90h2.20M171.05,125.80v2.20M170.28,126.13l1.54,1.54M170.28,127.67l1.54,-1.54" stroke="#0000ff" stroke-width="0.45"/><path d="M171.90,126.90h2.20M173.00,125.80v2.20M172.23,126.13l1.54,1.54M172.23,127.67l1.54,-1.54" stroke="#0000ff" stroke-width="0.45"/><path d="M173.85,126.90h2.20M174.95,125.80v2.20M174.18,126.13l1.54,1.54M174.18,127.67l1.54,-1.54" stroke="#0000ff" stroke-width="0.45"/><path d="M175.80,126.90h2.20M176.90,125.80v2.20M176.13,126.13l1.54,1.54M176.13,127.67l1.54,-1.54" stroke="#0000ff" stroke-width="0.45"/><path d="M177.75,126.90h2.20M178.85,125.80v2.20M178.08,126.13l1.54,1.54M178.08,127.67l1.54,-1.54" stroke="#0000ff" stroke-width="0.45"/><path d="M179.70,126.90h2.20M180.80,125.80v2.20M180.03,126.13l1.54,1.54M180.03,127.67l1.54,-1.54" stroke="#0000ff" stroke-width="0.45"/><path d="M181.65,126.90h2.20M182.75,125.80v2.20M181.98,126.13l1.54,1.54M181.98,127.67l1.54,-1.54" stroke="#0000ff" stroke-width="0.45"/><path d="M183.60,126.90h2.20M184.70,125.80v2.20M183.93,126.13l1.54,1.54M183.93,127.67l1.54,-1.54" stroke="#0000ff" stroke-width="0.45"/><path d="M185.55,126.90h2.20M186.65,125.80v2.20M185.88,126.13l1.54,1.54M185.88,127.67l1.54,-1.54" stroke="#0000ff" stroke-width="0.45"/><path d="M187.50,126.90h2.20M188.60,125.80v2.20M187.83,126.13l1.54,1.54M187.83,127.67l1.54,-1.54" stroke="#0000ff" stroke-width="0.45"/><path d="M189.45,126.90h2.20M190.55,125.80v2.20M189.78,126.13l1.54,1.54M189.78,127.67l1.54,-1.54" stroke="#0000ff" stroke-width="0.45"/><path d="M191.40,126.90h2.20M192.50,125.80v2.20M191.73,126.13l1.54,1.54M191.73,127.67l1.54,-1.54" stroke="#0000ff" stroke-width="0.45"/><path d="M193.35,126.90h2.20M194.45,125.80v2.20M193.68,126.13l1.54,1.54M193.68,127.67l1.54,-1.54" stroke="#0000ff" stroke-width="0.45"/><path d="M195.30,126.90h2.20M196.40,125.80v2.20M195.63,126.13l1.54,1.54M195.63,127.67l1.54,-1.54" stroke="#0000ff" stroke-width="0.45"/><path d="M197.25,126.90h2.20M198.35,125.80v2.20M197.58,126.13l1.54,1.54M197.58,127.67l1.54,-1.54" stroke="#0000ff" stroke-width="0.45"/><path d="M199.20,126.90h2.20M200.30,125.80v2.20M199.53,126.13l1.54,1.54M199.53,127.67l1.54,-1.54" stroke="#0000ff" stroke-width="0.45"/><path d="M201.15,126.90h2.20M202.25,125.80v2.20M201.48,126.13l1.54,1.54M201.48,127.67l1.54,-1.54" stroke="#0000ff" stroke-width="0.45"/><path d="M203.10,126.90h2.20M204.20,125.80v2.20M203.43,126.13l1.54,1.54M203.43,127.67l1.54,-1.54" stroke="#0000ff" stroke-width="0.45"/><path d="M205.05,126.90h2.20M206.15,125.80v2.20M205.38,126.13l1.54,1.54M205.38,127.67l1.54,-1.54" stroke="#0000ff" stroke-width="0.45"/><path d="M207.00,126.90h2.20M208.10,125.80v2.20M207.33,126.13l1.54,1.54M207.33,127.67l1.54,-1.54" stroke="#0000ff" stroke-width="0.45"/><path d="M208.95,126.90h2.20M210.05,125.80v2.20M209.28,126.13l1.54,1.54M209.28,127.67l1.54,-1.54" stroke="#0000ff" stroke-width="0.45"/><path d="M210.90,126.90h2.20M212.00,125.80v2.20M211.23,126.13l1.54,1.54M211.23,127.67l1.54,-1.54" stroke="#0000ff" stroke-width="0.45"/><path d="M212.85,126.90h2.20M213.95,125.80v2.20M213.18,126.13l1.54,1.54M213.18,127.67l1.54,-1.54" stroke="#0000ff" stroke-width="0.45"/><path d="M214.80,126.90h2.20M215.90,125.80v2.20M215.13,126.13l1.54,1.54M215.13,127.67l1.54,-1.54" stroke="#0000ff" stroke-width="0.45"/><path d="M216.75,126.90h2.20M217.85,125.80v2.20M217.08,126.13l1.54,1.54M217.08,127.67l1.54,-1.54" stroke="#0000ff" stroke-width="0.45"/><path d="M218.70,126.90h2.20M219.80,125.80v2.20M219.03,126.13l1.54,1.54M219.03,127.67l1.54,-1.54" stroke="#0000ff" stroke-width="0.45"/><path d="M220.65,126.90h2.20M221.75,125.80v2.20M220.98,126.13l1.54,1.54M220.98,127.67l1.54,-1.54" stroke="#0000ff" stroke-width="0.45"/><path d="M222.60,126.90h2.20M223.70,125.80v2.20M222.93,126.13l1.54,1.54M222.93,127.67l1.54,-1.54" stroke="#0000ff" stroke-width="0.45"/><path d="M224.55,126.90h2.20M225.65,125.80v2.20M224.88,126.13l1.54,1.54M224.88,127.67l1.54,-1.54" stroke="#0000ff" stroke-width="0.45"/><path d="M226.50,131.20h2.20M227.60,130.10v2.20M226.83,130.43l1.54,1.54M226.83,131.97l1.54,-1.54" stroke="#0000ff" stroke-width="0.45"/><path d="M228.45,131.20h2.20M229.55,130.10v2.20M228.78,130.43l1.54,1.54M228.78,131.97l1.54,-1.54" stroke="#0000ff" stroke-width="0.45"/></g>
<path d="M36.00,140.50 L103.40,140.60 L103.40,152.40 L231.00,152.40" fill="none" stroke="#7070ff" stroke-width="0.52" opacity="0.6"/>
<g opacity="1.0"><circle cx="36.50" cy="140.50" r="0.90" fill="#7070ff"/><circle cx="38.45" cy="140.50" r="0.90" fill="#7070ff"/><circle cx="40.40" cy="140.51" r="0.90" fill="#7070ff"/><circle cx="42.35" cy="140.51" r="0.90" fill="#7070ff"/><circle cx="44.30" cy="140.51" r="0.90" fill="#7070ff"/><circle cx="46.25" cy="140.52" r="0.90" fill="#7070ff"/><circle cx="48.20" cy="140.52" r="0.90" fill="#7070ff"/><circle cx="50.15" cy="140.52" r="0.90" fill="#7070ff"/><circle cx="52.10" cy="140.52" r="0.90" fill="#7070ff"/><circle cx="54.05" cy="140.53" r="0.90" fill="#7070ff"/><circle cx="56.00" cy="140.53" r="0.90" fill="#7070ff"/><circle cx="57.95" cy="140.53" r="0.90" fill="#7070ff"/><circle cx="59.90" cy="140.54" r="0.90" fill="#7070ff"/><circle cx="61.85" cy="140.54" r="0.90" fill="#7070ff"/><circle cx="63.80" cy="140.54" r="0.90" fill="#7070ff"/><circle cx="65.75" cy="140.54" r="0.90" fill="#7070ff"/><circle cx="67.70" cy="140.55" r="0.90" fill="#7070ff"/><circle cx="69.65" cy="140.55" r="0.90" fill="#7070ff"/><circle cx="71.60" cy="140.55" r="0.90" fill="#7070ff"/><circle cx="73.55" cy="140.56" r="0.90" fill="#7070ff"/><circle cx="75.50" cy="140.56" r="0.90" fill="#7070ff"/><circle cx="77.45" cy="140.56" r="0.90" fill="#7070ff"/><circle cx="79.40" cy="140.56" r="0.90" fill="#7070ff"/><circle cx="81.35" cy="140.57" r="0.90" fill="#7070ff"/><circle cx="83.30" cy="140.57" r="0.90" fill="#7070ff"/><circle cx="85.25" cy="140.57" r="0.90" fill="#7070ff"/><circle cx="87.20" cy="140.58" r="0.90" fill="#7070ff"/><circle cx="89.15" cy="140.58" r="0.90" fill="#7070ff"/><circle cx="91.10" cy="140.58" r="0.90" fill="#7070ff"/><circle cx="93.05" cy="140.58" r="0.90" fill="#7070ff"/><circle cx="95.00" cy="140.59" r="0.90" fill="#7070ff"/><circle cx="96.95" cy="140.59" r="0.90" fill="#7070ff"/><circle cx="98.90" cy="140.59" r="0.90" fill="#7070ff"/><circle cx="100.85" cy="140.60" r="0.90" fill="#7070ff"/><circle cx="102.80" cy="140.60" r="0.90" fill="#7070ff"/><circle cx="104.75" cy="152.40" r="0.90" fill="#7070ff"/><circle cx="106.70" cy="152.40" r="0.90" fill="#7070ff"/><circle cx="108.65" cy="152.40" r="0.90" fill="#7070ff"/><circle cx="110.60" cy="152.40" r="0.90" fill="#7070ff"/><circle cx="112.55" cy="152.40" r="0.90" fill="#7070ff"/><circle cx="114.50" cy="152.40" r="0.90" fill="#7070ff"/><circle cx="116.45" cy="152.40" r="0.90" fill="#7070ff"/><circle cx="118.40" cy="152.40" r="0.90" fill="#7070ff"/><circle cx="120.35" cy="152.40" r="0.90" fill="#7070ff"/><circle cx="122.30" cy="152.40" r="0.90" fill="#7070ff"/><circle cx="124.25" cy="152.40" r="0.90" fill="#7070ff"/><circle cx="126.20" cy="152.40" r="0.90" fill="#7070ff"/><circle cx="128.15" cy="152.40" r="0.90" fill="#7070ff"/><circle cx="130.10" cy="152.40" r="0.90" fill="#7070ff"/><circle cx="132.05" cy="152.40" r="0.90" fill="#7070ff"/><circle cx="134.00" cy="152.40" r="0.90" fill="#7070ff"/><circle cx="135.95" cy="152.40" r="0.90" fill="#7070ff"/><circle cx="137.90" cy="152.40" r="0.90" fill="#7070ff"/><circle cx="139.85" cy="152.40" r="0.90" fill="#7070ff"/><circle cx="141.80" cy="152.40" r="0.90" fill="#7070ff"/><circle cx="143.75" cy="152.40" r="0.90" fill="#7070ff"/><circle cx="145.70" cy="152.40" r="0.90" fill="#7070ff"/><circle cx="147.65" cy="152.40" r="0.90" fill="#7070ff"/><circle cx="149.60" cy="152.40" r="0.90" fill="#7070ff"/><circle cx="151.55" cy="152.40" r="0.90" fill="#7070ff"/><circle cx="153.50" cy="152.40" r="0.90" fill="#7070ff"/><circle cx="155.45" cy="152.40" r="0.90" fill="#7070ff"/><circle cx="157.40" cy="152.40" r="0.90" fill="#7070ff"/><circle cx="159.35" cy="152.40" r="0.90" fill="#7070ff"/><circle cx="161.30" cy="152.40" r="0.90" fill="#7070ff"/><circle cx="163.25" cy="152.40" r="0.90" fill="#7070ff"/><circle cx="165.20" cy="152.40" r="0.90" fill="#7070ff"/><circle cx="167.15" cy="152.40" r="0.90" fill="#7070ff"/><circle cx="169.10" cy="152.40" r="0.90" fill="#7070ff"/><circle cx="171.05" cy="152.40" r="0.90" fill="#7070ff"/><circle cx="173.00" cy="152.40" r="0.90" fill="#7070ff"/><circle cx="174.95" cy="152.40" r="0.90" fill="#7070ff"/><circle cx="176.90" cy="152.40" r="0.90" fill="#7070ff"/><circle cx="178.85" cy="152.40" r="0.90" fill="#7070ff"/><circle cx="180.80" cy="152.40" r="0.90" fill="#7070ff"/><circle cx="182.75" cy="152.40" r="0.90" fill="#7070ff"/><circle cx="184.70" cy="152.40" r="0.90" fill="#7070ff"/><circle cx="186.65" cy="152.40" r="0.90" fill="#7070ff"/><circle cx="188.60" cy="152.40" r="0.90" fill="#7070ff"/><circle cx="190.55" cy="152.40" r="0.90" fill="#7070ff"/><circle cx="192.50" cy="152.40" r="0.90" fill="#7070ff"/><circle cx="194.45" cy="152.40" r="0.90" fill="#7070ff"/><circle cx="196.40" cy="152.40" r="0.90" fill="#7070ff"/><circle cx="198.35" cy="152.40" r="0.90" fill="#7070ff"/><circle cx="200.30" cy="152.40" r="0.90" fill="#7070ff"/><circle cx="202.25" cy="152.40" r="0.90" fill="#7070ff"/><circle cx="204.20" cy="152.40" r="0.90" fill="#7070ff"/><circle cx="206.15" cy="152.40" r="0.90" fill="#7070ff"/><circle cx="208.10" cy="152.40" r="0.90" fill="#7070ff"/><circle cx="210.05" cy="152.40" r="0.90" fill="#7070ff"/><circle cx="212.00" cy="152.40" r="0.90" fill="#7070ff"/><circle cx="213.95" cy="152.40" r="0.90" fill="#7070ff"/><circle cx="215.90" cy="152.40" r="0.90" fill="#7070ff"/><circle cx="217.85" cy="152.40" r="0.90" fill="#7070ff"/><circle cx="219.80" cy="152.40" r="0.90" fill="#7070ff"/><circle cx="221.75" cy="152.40" r="0.90" fill="#7070ff"/><circle cx="223.70" cy="152.40" r="0.90" fill="#7070ff"/><circle cx="225.65" cy="152.40" r="0.90" fill="#7070ff"/><circle cx="227.60" cy="152.40" r="0.90" fill="#7070ff"/><circle cx="229.55" cy="152.40" r="0.90" fill="#7070ff"/></g>
<path d="M36.00,125.50 L231.00,125.50" fill="none" stroke="#000000" stroke-width="0.6" opacity="0.6"/>
<g opacity="1.0"><circle cx="36.50" cy="125.50" r="0.75" fill="#000000"/><circle cx="38.45" cy="125.50" r="0.75" fill="#000000"/><circle cx="40.40" cy="125.50" r="0.75" fill="#000000"/><circle cx="42.35" cy="125.50" r="0.75" fill="#000000"/><circle cx="44.30" cy="125.50" r="0.75" fill="#000000"/><circle cx="46.25" cy="125.50" r="0.75" fill="#000000"/><circle cx="48.20" cy="125.50" r="0.75" fill="#000000"/><circle cx="50.15" cy="125.50" r="0.75" fill="#000000"/><circle cx="52.10" cy="125.50" r="0.75" fill="#000000"/><circle cx="54.05" cy="125.50" r="0.75" fill="#000000"/><circle cx="56.00" cy="125.50" r="0.75" fill="#000000"/><circle cx="57.95" cy="125.50" r="0.75" fill="#000000"/><circle cx="59.90" cy="125.50" r="0.75" fill="#000000"/><circle cx="61.85" cy="125.50" r="0.75" fill="#000000"/><circle cx="63.80" cy="125.50" r="0.75" fill="#000000"/><circle cx="65.75" cy="125.50" r="0.75" fill="#000000"/><circle cx="67.70" cy="125.50" r="0.75" fill="#000000"/><circle cx="69.65" cy="125.50" r="0.75" fill="#000000"/><circle cx="71.60" cy="125.50" r="0.75" fill="#000000"/><circle cx="73.55" cy="125.50" r="0.75" fill="#000000"/><circle cx="75.50" cy="125.50" r="0.75" fill="#000000"/><circle cx="77.45" cy="125.50" r="0.75" fill="#000000"/><circle cx="79.40" cy="125.50" r="0.75" fill="#000000"/><circle cx="81.35" cy="125.50" r="0.75" fill="#000000"/><circle cx="83.30" cy="125.50" r="0.75" fill="#000000"/><circle cx="85.25" cy="125.50" r="0.75" fill="#000000"/><circle cx="87.20" cy="125.50" r="0.75" fill="#000000"/><circle cx="89.15" cy="125.50" r="0.75" fill="#000000"/><circle cx="91.10" cy="125.50" r="0.75" fill="#000000"/><circle cx="93.05" cy="125.50" r="0.75" fill="#000000"/><circle cx="95.00" cy="125.50" r="0.75" fill="#000000"/><circle cx="96.95" cy="125.50" r="0.75" fill="#000000"/><circle cx="98.90" cy="125.50" r="0.75" fill="#000000"/><circle cx="100.85" cy="125.50" r="0.75" fill="#000000"/><circle cx="102.80" cy="125.50" r="0.75" fill="#000000"/><circle cx="104.75" cy="125.50" r="0.75" fill="#000000"/><circle cx="106.70" cy="125.50" r="0.75" fill="#000000"/><circle cx="108.65" cy="125.50" r="0.75" fill="#000000"/><circle cx="110.60" cy="125.50" r="0.75" fill="#000000"/><circle cx="112.55" cy="125.50" r="0.75" fill="#000000"/><circle cx="114.50" cy="125.50" r="0.75" fill="#000000"/><circle cx="116.45" cy="125.50" r="0.75" fill="#000000"/><circle cx="118.40" cy="125.50" r="0.75" fill="#000000"/><circle cx="120.35" cy="125.50" r="0.75" fill="#000000"/><circle cx="122.30" cy="125.50" r="0.75" fill="#000000"/><circle cx="124.25" cy="125.50" r="0.75" fill="#000000"/><circle cx="126.20" cy="125.50" r="0.75" fill="#000000"/><circle cx="128.15" cy="125.50" r="0.75" fill="#000000"/><circle cx="130.10" cy="125.50" r="0.75" fill="#000000"/><circle cx="132.05" cy="125.50" r="0.75" fill="#000000"/><circle cx="134.00" cy="125.50" r="0.75" fill="#000000"/><circle cx="135.95" cy="125.50" r="0.75" fill="#000000"/><circle cx="137.90" cy="125.50" r="0.75" fill="#000000"/><circle cx="139.85" cy="125.50" r="0.75" fill="#000000"/><circle cx="141.80" cy="125.50" r="0.75" fill="#000000"/><circle cx="143.75" cy="125.50" r="0.75" fill="#000000"/><circle cx="145.70" cy="125.50" r="0.75" fill="#000000"/><circle cx="147.65" cy="125.50" r="0.75" fill="#000000"/><circle cx="149.60" cy="125.50" r="0.75" fill="#000000"/><circle cx="151.55" cy="125.50" r="0.75" fill="#000000"/><circle cx="153.50" cy="125.50" r="0.75" fill="#000000"/><circle cx="155.45" cy="125.50" r="0.75" fill="#000000"/><circle cx="157.40" cy="125.50" r="0.75" fill="#000000"/><circle cx="159.35" cy="125.50" r="0.75" fill="#000000"/><circle cx="161.30" cy="125.50" r="0.75" fill="#000000"/><circle cx="163.25" cy="125.50" r="0.75" fill="#000000"/><circle cx="165.20" cy="125.50" r="0.75" fill="#000000"/><circle cx="167.15" cy="125.50" r="0.75" fill="#000000"/><circle cx="169.10" cy="125.50" r="0.75" fill="#000000"/><circle cx="171.05" cy="125.50" r="0.75" fill="#000000"/><circle cx="173.00" cy="125.50" r="0.75" fill="#000000"/><circle cx="174.95" cy="125.50" r="0.75" fill="#000000"/><circle cx="176.90" cy="125.50" r="0.75" fill="#000000"/><circle cx="178.85" cy="125.50" r="0.75" fill="#000000"/><circle cx="180.80" cy="125.50" r="0.75" fill="#000000"/><circle cx="182.75" cy="125.50" r="0.75" fill="#000000"/><circle cx="184.70" cy="125.50" r="0.75" fill="#000000"/><circle cx="186.65" cy="125.50" r="0.75" fill="#000000"/><circle cx="188.60" cy="125.50" r="0.75" fill="#000000"/><circle cx="190.55" cy="125.50" r="0.75" fill="#000000"/><circle cx="192.50" cy="125.50" r="0.75" fill="#000000"/><circle cx="194.45" cy="125.50" r="0.75" fill="#000000"/><circle cx="196.40" cy="125.50" r="0.75" fill="#000000"/><circle cx="198.35" cy="125.50" r="0.75" fill="#000000"/><circle cx="200.30" cy="125.50" r="0.75" fill="#000000"/><circle cx="202.25" cy="125.50" r="0.75" fill="#000000"/><circle cx="204.20" cy="125.50" r="0.75" fill="#000000"/><circle cx="206.15" cy="125.50" r="0.75" fill="#000000"/><circle cx="208.10" cy="125.50" r="0.75" fill="#000000"/><circle cx="210.05" cy="125.50" r="0.75" fill="#000000"/><circle cx="212.00" cy="125.50" r="0.75" fill="#000000"/><circle cx="213.95" cy="125.50" r="0.75" fill="#000000"/><circle cx="215.90" cy="125.50" r="0.75" fill="#000000"/><circle cx="217.85" cy="125.50" r="0.75" fill="#000000"/><circle cx="219.80" cy="125.50" r="0.75" fill="#000000"/><circle cx="221.75" cy="125.50" r="0.75" fill="#000000"/><circle cx="223.70" cy="125.50" r="0.75" fill="#000000"/><circle cx="225.65" cy="125.50" r="0.75" fill="#000000"/><circle cx="227.60" cy="125.50" r="0.75" fill="#000000"/><circle cx="229.55" cy="125.50" r="0.75" fill="#000000"/></g>
<rect x="187.6" y="14.9" width="39.099999999999994" height="83.19999999999999" fill="#fff" stroke="#9a9a9a" stroke-width="0.8"/>
<path d="M188.9,20.50 H206.4" stroke="#7a7a7a" stroke-width="1.0"/>
<text x="208.0" y="22.83" font-size="6.5" text-anchor="start" font-weight="normal" fill="#111" stroke="#111" stroke-width="0.18" textLength="12.9" lengthAdjust="spacingAndGlyphs">IAS 1</text>
<path d="M188.9,28.55 H206.4" stroke="#000000" stroke-width="0.7"/>
<circle cx="197.65" cy="28.55" r="0.75" fill="#000000"/>
<text x="208.0" y="30.88" font-size="6.5" text-anchor="start" font-weight="normal" fill="#111" stroke="#111" stroke-width="0.18" textLength="12.9" lengthAdjust="spacingAndGlyphs">IAS 2</text>
<path d="M188.9,36.60 H206.4" stroke="#000000" stroke-width="0.7" stroke-dasharray="1,1.2"/>
<circle cx="197.65" cy="36.60" r="0.75" fill="#000000"/>
<text x="208.0" y="38.93" font-size="6.5" text-anchor="start" font-weight="normal" fill="#111" stroke="#111" stroke-width="0.18" textLength="12.9" lengthAdjust="spacingAndGlyphs">IAS 3</text>
<path d="M188.9,44.65 H206.4" stroke="#000000" stroke-width="0.7" stroke-dasharray="1,1.2"/>
<circle cx="197.65" cy="44.65" r="1.20" fill="none" stroke="#000000" stroke-width="0.45"/>
<text x="208.0" y="46.98" font-size="6.5" text-anchor="start" font-weight="normal" fill="#111" stroke="#111" stroke-width="0.18" textLength="12.9" lengthAdjust="spacingAndGlyphs">IAS 4</text>
<path d="M188.9,52.70 H206.4" stroke="#ff0000" stroke-width="0.7" stroke-dasharray="1,1.2"/>
<text x="208.0" y="55.03" font-size="6.5" text-anchor="start" font-weight="normal" fill="#111" stroke="#111" stroke-width="0.18" textLength="12.9" lengthAdjust="spacingAndGlyphs">IAS 5</text>
<path d="M188.9,60.75 H206.4" stroke="#ff0000" stroke-width="0.7" stroke-dasharray="3,1.5"/>
<circle cx="197.65" cy="60.75" r="0.68" fill="#ff0000"/>
<text x="208.0" y="63.08" font-size="6.5" text-anchor="start" font-weight="normal" fill="#111" stroke="#111" stroke-width="0.18" textLength="12.9" lengthAdjust="spacingAndGlyphs">IAS 6</text>
<path d="M188.9,68.80 H206.4" stroke="#ff0000" stroke-width="0.6"/>
<circle cx="197.65" cy="68.80" r="1.20" fill="none" stroke="#ff0000" stroke-width="0.45"/>
<text x="208.0" y="71.13" font-size="6.5" text-anchor="start" font-weight="normal" fill="#111" stroke="#111" stroke-width="0.18" textLength="12.9" lengthAdjust="spacingAndGlyphs">IAS 7</text>
<path d="M188.9,76.85 H206.4" stroke="#ff0000" stroke-width="0.6"/>
<path d="M196.65,76.85h2.00M197.65,75.85v2.00M196.95,76.15l1.40,1.40M196.95,77.55l1.40,-1.40" stroke="#ff0000" stroke-width="0.45"/>
<text x="208.0" y="79.18" font-size="6.5" text-anchor="start" font-weight="normal" fill="#111" stroke="#111" stroke-width="0.18" textLength="12.9" lengthAdjust="spacingAndGlyphs">IAS 8</text>
<path d="M188.9,84.90 H206.4" stroke="#0000ff" stroke-width="0.7"/>
<path d="M196.65,84.90h2.00M197.65,83.90v2.00M196.95,84.20l1.40,1.40M196.95,85.60l1.40,-1.40" stroke="#0000ff" stroke-width="0.45"/>
<text x="208.0" y="87.23" font-size="6.5" text-anchor="start" font-weight="normal" fill="#111" stroke="#111" stroke-width="0.18" textLength="12.9" lengthAdjust="spacingAndGlyphs">IAS 9</text>
<path d="M188.9,92.95 H206.4" stroke="#7070ff" stroke-width="0.7"/>
<path d="M196.65,92.95h2.00M197.65,91.95v2.00" stroke="#7070ff" stroke-width="0.45"/>
<text x="208.0" y="95.28" font-size="6.5" text-anchor="start" font-weight="normal" fill="#111" stroke="#111" stroke-width="0.18" textLength="15.867" lengthAdjust="spacingAndGlyphs">IAS 10</text>
<path d="M303.5,15.5 V173.5 H516" fill="none" stroke="#9a9a9a" stroke-width="1"/>
<path d="M303.6,173.00 h2.2" stroke="#9a9a9a" stroke-width="0.8"/>
<text x="300.9" y="175.4" font-size="6.8" text-anchor="end" font-weight="normal" fill="#1e1e1e" stroke="#1e1e1e" stroke-width="0.18" textLength="14.52" lengthAdjust="spacingAndGlyphs">2700</text>
<path d="M303.6,157.25 h2.2" stroke="#9a9a9a" stroke-width="0.8"/>
<text x="300.9" y="159.65" font-size="6.8" text-anchor="end" font-weight="normal" fill="#1e1e1e" stroke="#1e1e1e" stroke-width="0.18" textLength="14.52" lengthAdjust="spacingAndGlyphs">2800</text>
<path d="M303.6,141.50 h2.2" stroke="#9a9a9a" stroke-width="0.8"/>
<text x="300.9" y="143.9" font-size="6.8" text-anchor="end" font-weight="normal" fill="#1e1e1e" stroke="#1e1e1e" stroke-width="0.18" textLength="14.52" lengthAdjust="spacingAndGlyphs">2900</text>
<path d="M303.6,125.75 h2.2" stroke="#9a9a9a" stroke-width="0.8"/>
<text x="300.9" y="128.15" font-size="6.8" text-anchor="end" font-weight="normal" fill="#1e1e1e" stroke="#1e1e1e" stroke-width="0.18" textLength="14.52" lengthAdjust="spacingAndGlyphs">3000</text>
<path d="M303.6,110.00 h2.2" stroke="#9a9a9a" stroke-width="0.8"/>
<text x="300.9" y="112.4" font-size="6.8" text-anchor="end" font-weight="normal" fill="#1e1e1e" stroke="#1e1e1e" stroke-width="0.18" textLength="14.52" lengthAdjust="spacingAndGlyphs">3100</text>
<path d="M303.6,94.25 h2.2" stroke="#9a9a9a" stroke-width="0.8"/>
<text x="300.9" y="96.65" font-size="6.8" text-anchor="end" font-weight="normal" fill="#1e1e1e" stroke="#1e1e1e" stroke-width="0.18" textLength="14.52" lengthAdjust="spacingAndGlyphs">3200</text>
<path d="M303.6,78.50 h2.2" stroke="#9a9a9a" stroke-width="0.8"/>
<text x="300.9" y="80.9" font-size="6.8" text-anchor="end" font-weight="normal" fill="#1e1e1e" stroke="#1e1e1e" stroke-width="0.18" textLength="14.52" lengthAdjust="spacingAndGlyphs">3300</text>
<path d="M303.6,62.75 h2.2" stroke="#9a9a9a" stroke-width="0.8"/>
<text x="300.9" y="65.15" font-size="6.8" text-anchor="end" font-weight="normal" fill="#1e1e1e" stroke="#1e1e1e" stroke-width="0.18" textLength="14.52" lengthAdjust="spacingAndGlyphs">3400</text>
<path d="M303.6,47.00 h2.2" stroke="#9a9a9a" stroke-width="0.8"/>
<text x="300.9" y="49.4" font-size="6.8" text-anchor="end" font-weight="normal" fill="#1e1e1e" stroke="#1e1e1e" stroke-width="0.18" textLength="14.52" lengthAdjust="spacingAndGlyphs">3500</text>
<path d="M303.6,31.25 h2.2" stroke="#9a9a9a" stroke-width="0.8"/>
<text x="300.9" y="33.65" font-size="6.8" text-anchor="end" font-weight="normal" fill="#1e1e1e" stroke="#1e1e1e" stroke-width="0.18" textLength="14.52" lengthAdjust="spacingAndGlyphs">3600</text>
<path d="M303.6,15.50 h2.2" stroke="#9a9a9a" stroke-width="0.8"/>
<text x="300.9" y="17.9" font-size="6.8" text-anchor="end" font-weight="normal" fill="#1e1e1e" stroke="#1e1e1e" stroke-width="0.18" textLength="14.52" lengthAdjust="spacingAndGlyphs">3700</text>
<path d="M303.60,173 v-2.2" stroke="#9a9a9a" stroke-width="0.8"/>
<text x="303.6" y="182.1" font-size="6.8" text-anchor="middle" font-weight="normal" fill="#1e1e1e" stroke="#1e1e1e" stroke-width="0.18" textLength="3.63" lengthAdjust="spacingAndGlyphs">0</text>
<path d="M346.08,173 v-2.2" stroke="#9a9a9a" stroke-width="0.8"/>
<text x="346.08" y="182.1" font-size="6.8" text-anchor="middle" font-weight="normal" fill="#1e1e1e" stroke="#1e1e1e" stroke-width="0.18" textLength="7.26" lengthAdjust="spacingAndGlyphs">20</text>
<path d="M388.56,173 v-2.2" stroke="#9a9a9a" stroke-width="0.8"/>
<text x="388.56" y="182.1" font-size="6.8" text-anchor="middle" font-weight="normal" fill="#1e1e1e" stroke="#1e1e1e" stroke-width="0.18" textLength="7.26" lengthAdjust="spacingAndGlyphs">40</text>
<path d="M431.04,173 v-2.2" stroke="#9a9a9a" stroke-width="0.8"/>
<text x="431.04" y="182.1" font-size="6.8" text-anchor="middle" font-weight="normal" fill="#1e1e1e" stroke="#1e1e1e" stroke-width="0.18" textLength="7.26" lengthAdjust="spacingAndGlyphs">60</text>
<path d="M473.52,173 v-2.2" stroke="#9a9a9a" stroke-width="0.8"/>
<text x="473.52" y="182.1" font-size="6.8" text-anchor="middle" font-weight="normal" fill="#1e1e1e" stroke="#1e1e1e" stroke-width="0.18" textLength="7.26" lengthAdjust="spacingAndGlyphs">80</text>
<path d="M516.00,173 v-2.2" stroke="#9a9a9a" stroke-width="0.8"/>
<text x="516.0" y="182.1" font-size="6.8" text-anchor="middle" font-weight="normal" fill="#1e1e1e" stroke="#1e1e1e" stroke-width="0.18" textLength="10.89" lengthAdjust="spacingAndGlyphs">100</text>
<text x="411.1" y="13.3" font-size="6.7" text-anchor="middle" font-weight="bold" fill="#111" stroke="#111" stroke-width="0.18" textLength="88.8" lengthAdjust="spacingAndGlyphs">Dataset: Dermatology.mat</text>
<text x="409.8" y="191.5" font-size="7.4" text-anchor="middle" font-weight="normal" fill="#333" stroke="#333" stroke-width="0.18" textLength="26.9" lengthAdjust="spacingAndGlyphs">Iteration</text>
<text transform="translate(283.1,94.0) rotate(-90)" x="0" y="0" font-size="7.8" text-anchor="middle" font-weight="normal" fill="#333" stroke="#333" stroke-width="0.18" textLength="37.8" lengthAdjust="spacingAndGlyphs">Best Fitness</text>
<path d="M304.50,15.50 L305.50,31.00 L307.00,62.00 L308.50,86.00 L309.00,88.30 L324.70,88.30 L327.00,99.30 L343.60,99.30 L346.50,105.30 L357.50,105.30 L357.50,116.50 L470.00,116.80 L516.00,117.20" fill="none" stroke="#7a7a7a" stroke-width="0.68" opacity="0.6"/>
<path d="M304.00,142.20 L381.60,142.20 L381.60,164.90 L516.00,164.90" fill="none" stroke="#000000" stroke-width="0.6" opacity="0.6"/>
<g opacity="1.0"><circle cx="305.72" cy="142.20" r="0.75" fill="#000000"/><circle cx="307.85" cy="142.20" r="0.75" fill="#000000"/><circle cx="309.97" cy="142.20" r="0.75" fill="#000000"/><circle cx="312.10" cy="142.20" r="0.75" fill="#000000"/><circle cx="314.22" cy="142.20" r="0.75" fill="#000000"/><circle cx="316.34" cy="142.20" r="0.75" fill="#000000"/><circle cx="318.47" cy="142.20" r="0.75" fill="#000000"/><circle cx="320.59" cy="142.20" r="0.75" fill="#000000"/><circle cx="322.72" cy="142.20" r="0.75" fill="#000000"/><circle cx="324.84" cy="142.20" r="0.75" fill="#000000"/><circle cx="326.96" cy="142.20" r="0.75" fill="#000000"/><circle cx="329.09" cy="142.20" r="0.75" fill="#000000"/><circle cx="331.21" cy="142.20" r="0.75" fill="#000000"/><circle cx="333.34" cy="142.20" r="0.75" fill="#000000"/><circle cx="335.46" cy="142.20" r="0.75" fill="#000000"/><circle cx="337.58" cy="142.20" r="0.75" fill="#000000"/><circle cx="339.71" cy="142.20" r="0.75" fill="#000000"/><circle cx="341.83" cy="142.20" r="0.75" fill="#000000"/><circle cx="343.96" cy="142.20" r="0.75" fill="#000000"/><circle cx="346.08" cy="142.20" r="0.75" fill="#000000"/><circle cx="348.20" cy="142.20" r="0.75" fill="#000000"/><circle cx="350.33" cy="142.20" r="0.75" fill="#000000"/><circle cx="352.45" cy="142.20" r="0.75" fill="#000000"/><circle cx="354.58" cy="142.20" r="0.75" fill="#000000"/><circle cx="356.70" cy="142.20" r="0.75" fill="#000000"/><circle cx="358.82" cy="142.20" r="0.75" fill="#000000"/><circle cx="360.95" cy="142.20" r="0.75" fill="#000000"/><circle cx="363.07" cy="142.20" r="0.75" fill="#000000"/><circle cx="365.20" cy="142.20" r="0.75" fill="#000000"/><circle cx="367.32" cy="142.20" r="0.75" fill="#000000"/><circle cx="369.44" cy="142.20" r="0.75" fill="#000000"/><circle cx="371.57" cy="142.20" r="0.75" fill="#000000"/><circle cx="373.69" cy="142.20" r="0.75" fill="#000000"/><circle cx="375.82" cy="142.20" r="0.75" fill="#000000"/><circle cx="377.94" cy="142.20" r="0.75" fill="#000000"/><circle cx="380.06" cy="142.20" r="0.75" fill="#000000"/><circle cx="382.19" cy="164.90" r="0.75" fill="#000000"/><circle cx="384.31" cy="164.90" r="0.75" fill="#000000"/><circle cx="386.44" cy="164.90" r="0.75" fill="#000000"/><circle cx="388.56" cy="164.90" r="0.75" fill="#000000"/><circle cx="390.68" cy="164.90" r="0.75" fill="#000000"/><circle cx="392.81" cy="164.90" r="0.75" fill="#000000"/><circle cx="394.93" cy="164.90" r="0.75" fill="#000000"/><circle cx="397.06" cy="164.90" r="0.75" fill="#000000"/><circle cx="399.18" cy="164.90" r="0.75" fill="#000000"/><circle cx="401.30" cy="164.90" r="0.75" fill="#000000"/><circle cx="403.43" cy="164.90" r="0.75" fill="#000000"/><circle cx="405.55" cy="164.90" r="0.75" fill="#000000"/><circle cx="407.68" cy="164.90" r="0.75" fill="#000000"/><circle cx="409.80" cy="164.90" r="0.75" fill="#000000"/><circle cx="411.92" cy="164.90" r="0.75" fill="#000000"/><circle cx="414.05" cy="164.90" r="0.75" fill="#000000"/><circle cx="416.17" cy="164.90" r="0.75" fill="#000000"/><circle cx="418.30" cy="164.90" r="0.75" fill="#000000"/><circle cx="420.42" cy="164.90" r="0.75" fill="#000000"/><circle cx="422.54" cy="164.90" r="0.75" fill="#000000"/><circle cx="424.67" cy="164.90" r="0.75" fill="#000000"/><circle cx="426.79" cy="164.90" r="0.75" fill="#000000"/><circle cx="428.92" cy="164.90" r="0.75" fill="#000000"/><circle cx="431.04" cy="164.90" r="0.75" fill="#000000"/><circle cx="433.16" cy="164.90" r="0.75" fill="#000000"/><circle cx="435.29" cy="164.90" r="0.75" fill="#000000"/><circle cx="437.41" cy="164.90" r="0.75" fill="#000000"/><circle cx="439.54" cy="164.90" r="0.75" fill="#000000"/><circle cx="441.66" cy="164.90" r="0.75" fill="#000000"/><circle cx="443.78" cy="164.90" r="0.75" fill="#000000"/><circle cx="445.91" cy="164.90" r="0.75" fill="#000000"/><circle cx="448.03" cy="164.90" r="0.75" fill="#000000"/><circle cx="450.16" cy="164.90" r="0.75" fill="#000000"/><circle cx="452.28" cy="164.90" r="0.75" fill="#000000"/><circle cx="454.40" cy="164.90" r="0.75" fill="#000000"/><circle cx="456.53" cy="164.90" r="0.75" fill="#000000"/><circle cx="458.65" cy="164.90" r="0.75" fill="#000000"/><circle cx="460.78" cy="164.90" r="0.75" fill="#000000"/><circle cx="462.90" cy="164.90" r="0.75" fill="#000000"/><circle cx="465.02" cy="164.90" r="0.75" fill="#000000"/><circle cx="467.15" cy="164.90" r="0.75" fill="#000000"/><circle cx="469.27" cy="164.90" r="0.75" fill="#000000"/><circle cx="471.40" cy="164.90" r="0.75" fill="#000000"/><circle cx="473.52" cy="164.90" r="0.75" fill="#000000"/><circle cx="475.64" cy="164.90" r="0.75" fill="#000000"/><circle cx="477.77" cy="164.90" r="0.75" fill="#000000"/><circle cx="479.89" cy="164.90" r="0.75" fill="#000000"/><circle cx="482.02" cy="164.90" r="0.75" fill="#000000"/><circle cx="484.14" cy="164.90" r="0.75" fill="#000000"/><circle cx="486.26" cy="164.90" r="0.75" fill="#000000"/><circle cx="488.39" cy="164.90" r="0.75" fill="#000000"/><circle cx="490.51" cy="164.90" r="0.75" fill="#000000"/><circle cx="492.64" cy="164.90" r="0.75" fill="#000000"/><circle cx="494.76" cy="164.90" r="0.75" fill="#000000"/><circle cx="496.88" cy="164.90" r="0.75" fill="#000000"/><circle cx="499.01" cy="164.90" r="0.75" fill="#000000"/><circle cx="501.13" cy="164.90" r="0.75" fill="#000000"/><circle cx="503.26" cy="164.90" r="0.75" fill="#000000"/><circle cx="505.38" cy="164.90" r="0.75" fill="#000000"/><circle cx="507.50" cy="164.90" r="0.75" fill="#000000"/><circle cx="509.63" cy="164.90" r="0.75" fill="#000000"/><circle cx="511.75" cy="164.90" r="0.75" fill="#000000"/><circle cx="513.88" cy="164.90" r="0.75" fill="#000000"/><circle cx="516.00" cy="164.90" r="0.75" fill="#000000"/></g>
<path d="M305.50,62.00 L307.00,62.00 L309.00,80.00 L313.80,106.00 L313.80,131.00 L320.40,141.00 L362.50,141.00 L362.50,152.30 L516.00,152.30" fill="none" stroke="#000000" stroke-width="0.52" stroke-dasharray="1,1.2" opacity="0.6"/>
<g opacity="1.0"><path d="M304.72,62.00h2.00M305.72,61.00v2.00" stroke="#000000" stroke-width="0.45"/><path d="M306.85,69.63h2.00M307.85,68.63v2.00" stroke="#000000" stroke-width="0.45"/><path d="M308.97,85.27h2.00M309.97,84.27v2.00" stroke="#000000" stroke-width="0.45"/><path d="M311.10,96.77h2.00M312.10,95.77v2.00" stroke="#000000" stroke-width="0.45"/><path d="M313.22,131.64h2.00M314.22,130.64v2.00" stroke="#000000" stroke-width="0.45"/><path d="M315.34,134.85h2.00M316.34,133.85v2.00" stroke="#000000" stroke-width="0.45"/><path d="M317.47,138.07h2.00M318.47,137.07v2.00" stroke="#000000" stroke-width="0.45"/><path d="M319.59,141.00h2.00M320.59,140.00v2.00" stroke="#000000" stroke-width="0.45"/><path d="M321.72,141.00h2.00M322.72,140.00v2.00" stroke="#000000" stroke-width="0.45"/><path d="M323.84,141.00h2.00M324.84,140.00v2.00" stroke="#000000" stroke-width="0.45"/><path d="M325.96,141.00h2.00M326.96,140.00v2.00" stroke="#000000" stroke-width="0.45"/><path d="M328.09,141.00h2.00M329.09,140.00v2.00" stroke="#000000" stroke-width="0.45"/><path d="M330.21,141.00h2.00M331.21,140.00v2.00" stroke="#000000" stroke-width="0.45"/><path d="M332.34,141.00h2.00M333.34,140.00v2.00" stroke="#000000" stroke-width="0.45"/><path d="M334.46,141.00h2.00M335.46,140.00v2.00" stroke="#000000" stroke-width="0.45"/><path d="M336.58,141.00h2.00M337.58,140.00v2.00" stroke="#000000" stroke-width="0.45"/><path d="M338.71,141.00h2.00M339.71,140.00v2.00" stroke="#000000" stroke-width="0.45"/><path d="M340.83,141.00h2.00M341.83,140.00v2.00" stroke="#000000" stroke-width="0.45"/><path d="M342.96,141.00h2.00M343.96,140.00v2.00" stroke="#000000" stroke-width="0.45"/><path d="M345.08,141.00h2.00M346.08,140.00v2.00" stroke="#000000" stroke-width="0.45"/><path d="M347.20,141.00h2.00M348.20,140.00v2.00" stroke="#000000" stroke-width="0.45"/><path d="M349.33,141.00h2.00M350.33,140.00v2.00" stroke="#000000" stroke-width="0.45"/><path d="M351.45,141.00h2.00M352.45,140.00v2.00" stroke="#000000" stroke-width="0.45"/><path d="M353.58,141.00h2.00M354.58,140.00v2.00" stroke="#000000" stroke-width="0.45"/><path d="M355.70,141.00h2.00M356.70,140.00v2.00" stroke="#000000" stroke-width="0.45"/><path d="M357.82,141.00h2.00M358.82,140.00v2.00" stroke="#000000" stroke-width="0.45"/><path d="M359.95,141.00h2.00M360.95,140.00v2.00" stroke="#000000" stroke-width="0.45"/><path d="M362.07,152.30h2.00M363.07,151.30v2.00" stroke="#000000" stroke-width="0.45"/><path d="M364.20,152.30h2.00M365.20,151.30v2.00" stroke="#000000" stroke-width="0.45"/><path d="M366.32,152.30h2.00M367.32,151.30v2.00" stroke="#000000" stroke-width="0.45"/><path d="M368.44,152.30h2.00M369.44,151.30v2.00" stroke="#000000" stroke-width="0.45"/><path d="M370.57,152.30h2.00M371.57,151.30v2.00" stroke="#000000" stroke-width="0.45"/><path d="M372.69,152.30h2.00M373.69,151.30v2.00" stroke="#000000" stroke-width="0.45"/><path d="M374.82,152.30h2.00M375.82,151.30v2.00" stroke="#000000" stroke-width="0.45"/><path d="M376.94,152.30h2.00M377.94,151.30v2.00" stroke="#000000" stroke-width="0.45"/><path d="M379.06,152.30h2.00M380.06,151.30v2.00" stroke="#000000" stroke-width="0.45"/><path d="M381.19,152.30h2.00M382.19,151.30v2.00" stroke="#000000" stroke-width="0.45"/><path d="M383.31,152.30h2.00M384.31,151.30v2.00" stroke="#000000" stroke-width="0.45"/><path d="M385.44,152.30h2.00M386.44,151.30v2.00" stroke="#000000" stroke-width="0.45"/><path d="M387.56,152.30h2.00M388.56,151.30v2.00" stroke="#000000" stroke-width="0.45"/><path d="M389.68,152.30h2.00M390.68,151.30v2.00" stroke="#000000" stroke-width="0.45"/><path d="M391.81,152.30h2.00M392.81,151.30v2.00" stroke="#000000" stroke-width="0.45"/><path d="M393.93,152.30h2.00M394.93,151.30v2.00" stroke="#000000" stroke-width="0.45"/><path d="M396.06,152.30h2.00M397.06,151.30v2.00" stroke="#000000" stroke-width="0.45"/><path d="M398.18,152.30h2.00M399.18,151.30v2.00" stroke="#000000" stroke-width="0.45"/><path d="M400.30,152.30h2.00M401.30,151.30v2.00" stroke="#000000" stroke-width="0.45"/><path d="M402.43,152.30h2.00M403.43,151.30v2.00" stroke="#000000" stroke-width="0.45"/><path d="M404.55,152.30h2.00M405.55,151.30v2.00" stroke="#000000" stroke-width="0.45"/><path d="M406.68,152.30h2.00M407.68,151.30v2.00" stroke="#000000" stroke-width="0.45"/><path d="M408.80,152.30h2.00M409.80,151.30v2.00" stroke="#000000" stroke-width="0.45"/><path d="M410.92,152.30h2.00M411.92,151.30v2.00" stroke="#000000" stroke-width="0.45"/><path d="M413.05,152.30h2.00M414.05,151.30v2.00" stroke="#000000" stroke-width="0.45"/><path d="M415.17,152.30h2.00M416.17,151.30v2.00" stroke="#000000" stroke-width="0.45"/><path d="M417.30,152.30h2.00M418.30,151.30v2.00" stroke="#000000" stroke-width="0.45"/><path d="M419.42,152.30h2.00M420.42,151.30v2.00" stroke="#000000" stroke-width="0.45"/><path d="M421.54,152.30h2.00M422.54,151.30v2.00" stroke="#000000" stroke-width="0.45"/><path d="M423.67,152.30h2.00M424.67,151.30v2.00" stroke="#000000" stroke-width="0.45"/><path d="M425.79,152.30h2.00M426.79,151.30v2.00" stroke="#000000" stroke-width="0.45"/><path d="M427.92,152.30h2.00M428.92,151.30v2.00" stroke="#000000" stroke-width="0.45"/><path d="M430.04,152.30h2.00M431.04,151.30v2.00" stroke="#000000" stroke-width="0.45"/><path d="M432.16,152.30h2.00M433.16,151.30v2.00" stroke="#000000" stroke-width="0.45"/><path d="M434.29,152.30h2.00M435.29,151.30v2.00" stroke="#000000" stroke-width="0.45"/><path d="M436.41,152.30h2.00M437.41,151.30v2.00" stroke="#000000" stroke-width="0.45"/><path d="M438.54,152.30h2.00M439.54,151.30v2.00" stroke="#000000" stroke-width="0.45"/><path d="M440.66,152.30h2.00M441.66,151.30v2.00" stroke="#000000" stroke-width="0.45"/><path d="M442.78,152.30h2.00M443.78,151.30v2.00" stroke="#000000" stroke-width="0.45"/><path d="M444.91,152.30h2.00M445.91,151.30v2.00" stroke="#000000" stroke-width="0.45"/><path d="M447.03,152.30h2.00M448.03,151.30v2.00" stroke="#000000" stroke-width="0.45"/><path d="M449.16,152.30h2.00M450.16,151.30v2.00" stroke="#000000" stroke-width="0.45"/><path d="M451.28,152.30h2.00M452.28,151.30v2.00" stroke="#000000" stroke-width="0.45"/><path d="M453.40,152.30h2.00M454.40,151.30v2.00" stroke="#000000" stroke-width="0.45"/><path d="M455.53,152.30h2.00M456.53,151.30v2.00" stroke="#000000" stroke-width="0.45"/><path d="M457.65,152.30h2.00M458.65,151.30v2.00" stroke="#000000" stroke-width="0.45"/><path d="M459.78,152.30h2.00M460.78,151.30v2.00" stroke="#000000" stroke-width="0.45"/><path d="M461.90,152.30h2.00M462.90,151.30v2.00" stroke="#000000" stroke-width="0.45"/><path d="M464.02,152.30h2.00M465.02,151.30v2.00" stroke="#000000" stroke-width="0.45"/><path d="M466.15,152.30h2.00M467.15,151.30v2.00" stroke="#000000" stroke-width="0.45"/><path d="M468.27,152.30h2.00M469.27,151.30v2.00" stroke="#000000" stroke-width="0.45"/><path d="M470.40,152.30h2.00M471.40,151.30v2.00" stroke="#000000" stroke-width="0.45"/><path d="M472.52,152.30h2.00M473.52,151.30v2.00" stroke="#000000" stroke-width="0.45"/><path d="M474.64,152.30h2.00M475.64,151.30v2.00" stroke="#000000" stroke-width="0.45"/><path d="M476.77,152.30h2.00M477.77,151.30v2.00" stroke="#000000" stroke-width="0.45"/><path d="M478.89,152.30h2.00M479.89,151.30v2.00" stroke="#000000" stroke-width="0.45"/><path d="M481.02,152.30h2.00M482.02,151.30v2.00" stroke="#000000" stroke-width="0.45"/><path d="M483.14,152.30h2.00M484.14,151.30v2.00" stroke="#000000" stroke-width="0.45"/><path d="M485.26,152.30h2.00M486.26,151.30v2.00" stroke="#000000" stroke-width="0.45"/><path d="M487.39,152.30h2.00M488.39,151.30v2.00" stroke="#000000" stroke-width="0.45"/><path d="M489.51,152.30h2.00M490.51,151.30v2.00" stroke="#000000" stroke-width="0.45"/><path d="M491.64,152.30h2.00M492.64,151.30v2.00" stroke="#000000" stroke-width="0.45"/><path d="M493.76,152.30h2.00M494.76,151.30v2.00" stroke="#000000" stroke-width="0.45"/><path d="M495.88,152.30h2.00M496.88,151.30v2.00" stroke="#000000" stroke-width="0.45"/><path d="M498.01,152.30h2.00M499.01,151.30v2.00" stroke="#000000" stroke-width="0.45"/><path d="M500.13,152.30h2.00M501.13,151.30v2.00" stroke="#000000" stroke-width="0.45"/><path d="M502.26,152.30h2.00M503.26,151.30v2.00" stroke="#000000" stroke-width="0.45"/><path d="M504.38,152.30h2.00M505.38,151.30v2.00" stroke="#000000" stroke-width="0.45"/><path d="M506.50,152.30h2.00M507.50,151.30v2.00" stroke="#000000" stroke-width="0.45"/><path d="M508.63,152.30h2.00M509.63,151.30v2.00" stroke="#000000" stroke-width="0.45"/><path d="M510.75,152.30h2.00M511.75,151.30v2.00" stroke="#000000" stroke-width="0.45"/><path d="M512.88,152.30h2.00M513.88,151.30v2.00" stroke="#000000" stroke-width="0.45"/><path d="M515.00,152.30h2.00M516.00,151.30v2.00" stroke="#000000" stroke-width="0.45"/></g>
<path d="M305.50,61.00 L307.50,61.00 L309.00,75.00 L316.00,95.00 L318.00,98.00 L320.00,140.60 L405.70,140.40 L405.70,145.70 L516.00,145.70" fill="none" stroke="#000000" stroke-width="0.52" stroke-dasharray="1,1.2" opacity="0.6"/>
<g opacity="1.0"><circle cx="305.72" cy="61.00" r="1.20" fill="none" stroke="#000000" stroke-width="0.45"/><circle cx="307.85" cy="64.25" r="1.20" fill="none" stroke="#000000" stroke-width="0.45"/><circle cx="309.97" cy="77.78" r="1.20" fill="none" stroke="#000000" stroke-width="0.45"/><circle cx="312.10" cy="83.85" r="1.20" fill="none" stroke="#000000" stroke-width="0.45"/><circle cx="314.22" cy="89.91" r="1.20" fill="none" stroke="#000000" stroke-width="0.45"/><circle cx="316.34" cy="95.52" r="1.20" fill="none" stroke="#000000" stroke-width="0.45"/><circle cx="318.47" cy="107.97" r="1.20" fill="none" stroke="#000000" stroke-width="0.45"/><circle cx="320.59" cy="140.60" r="1.20" fill="none" stroke="#000000" stroke-width="0.45"/><circle cx="322.72" cy="140.59" r="1.20" fill="none" stroke="#000000" stroke-width="0.45"/><circle cx="324.84" cy="140.59" r="1.20" fill="none" stroke="#000000" stroke-width="0.45"/><circle cx="326.96" cy="140.58" r="1.20" fill="none" stroke="#000000" stroke-width="0.45"/><circle cx="329.09" cy="140.58" r="1.20" fill="none" stroke="#000000" stroke-width="0.45"/><circle cx="331.21" cy="140.57" r="1.20" fill="none" stroke="#000000" stroke-width="0.45"/><circle cx="333.34" cy="140.57" r="1.20" fill="none" stroke="#000000" stroke-width="0.45"/><circle cx="335.46" cy="140.56" r="1.20" fill="none" stroke="#000000" stroke-width="0.45"/><circle cx="337.58" cy="140.56" r="1.20" fill="none" stroke="#000000" stroke-width="0.45"/><circle cx="339.71" cy="140.55" r="1.20" fill="none" stroke="#000000" stroke-width="0.45"/><circle cx="341.83" cy="140.55" r="1.20" fill="none" stroke="#000000" stroke-width="0.45"/><circle cx="343.96" cy="140.54" r="1.20" fill="none" stroke="#000000" stroke-width="0.45"/><circle cx="346.08" cy="140.54" r="1.20" fill="none" stroke="#000000" stroke-width="0.45"/><circle cx="348.20" cy="140.53" r="1.20" fill="none" stroke="#000000" stroke-width="0.45"/><circle cx="350.33" cy="140.53" r="1.20" fill="none" stroke="#000000" stroke-width="0.45"/><circle cx="352.45" cy="140.52" r="1.20" fill="none" stroke="#000000" stroke-width="0.45"/><circle cx="354.58" cy="140.52" r="1.20" fill="none" stroke="#000000" stroke-width="0.45"/><circle cx="356.70" cy="140.51" r="1.20" fill="none" stroke="#000000" stroke-width="0.45"/><circle cx="358.82" cy="140.51" r="1.20" fill="none" stroke="#000000" stroke-width="0.45"/><circle cx="360.95" cy="140.50" r="1.20" fill="none" stroke="#000000" stroke-width="0.45"/><circle cx="363.07" cy="140.50" r="1.20" fill="none" stroke="#000000" stroke-width="0.45"/><circle cx="365.20" cy="140.49" r="1.20" fill="none" stroke="#000000" stroke-width="0.45"/><circle cx="367.32" cy="140.49" r="1.20" fill="none" stroke="#000000" stroke-width="0.45"/><circle cx="369.44" cy="140.48" r="1.20" fill="none" stroke="#000000" stroke-width="0.45"/><circle cx="371.57" cy="140.48" r="1.20" fill="none" stroke="#000000" stroke-width="0.45"/><circle cx="373.69" cy="140.47" r="1.20" fill="none" stroke="#000000" stroke-width="0.45"/><circle cx="375.82" cy="140.47" r="1.20" fill="none" stroke="#000000" stroke-width="0.45"/><circle cx="377.94" cy="140.46" r="1.20" fill="none" stroke="#000000" stroke-width="0.45"/><circle cx="380.06" cy="140.46" r="1.20" fill="none" stroke="#000000" stroke-width="0.45"/><circle cx="382.19" cy="140.45" r="1.20" fill="none" stroke="#000000" stroke-width="0.45"/><circle cx="384.31" cy="140.45" r="1.20" fill="none" stroke="#000000" stroke-width="0.45"/><circle cx="386.44" cy="140.44" r="1.20" fill="none" stroke="#000000" stroke-width="0.45"/><circle cx="388.56" cy="140.44" r="1.20" fill="none" stroke="#000000" stroke-width="0.45"/><circle cx="390.68" cy="140.44" r="1.20" fill="none" stroke="#000000" stroke-width="0.45"/><circle cx="392.81" cy="140.43" r="1.20" fill="none" stroke="#000000" stroke-width="0.45"/><circle cx="394.93" cy="140.43" r="1.20" fill="none" stroke="#000000" stroke-width="0.45"/><circle cx="397.06" cy="140.42" r="1.20" fill="none" stroke="#000000" stroke-width="0.45"/><circle cx="399.18" cy="140.42" r="1.20" fill="none" stroke="#000000" stroke-width="0.45"/><circle cx="401.30" cy="140.41" r="1.20" fill="none" stroke="#000000" stroke-width="0.45"/><circle cx="403.43" cy="140.41" r="1.20" fill="none" stroke="#000000" stroke-width="0.45"/><circle cx="405.55" cy="140.40" r="1.20" fill="none" stroke="#000000" stroke-width="0.45"/><circle cx="407.68" cy="145.70" r="1.20" fill="none" stroke="#000000" stroke-width="0.45"/><circle cx="409.80" cy="145.70" r="1.20" fill="none" stroke="#000000" stroke-width="0.45"/><circle cx="411.92" cy="145.70" r="1.20" fill="none" stroke="#000000" stroke-width="0.45"/><circle cx="414.05" cy="145.70" r="1.20" fill="none" stroke="#000000" stroke-width="0.45"/><circle cx="416.17" cy="145.70" r="1.20" fill="none" stroke="#000000" stroke-width="0.45"/><circle cx="418.30" cy="145.70" r="1.20" fill="none" stroke="#000000" stroke-width="0.45"/><circle cx="420.42" cy="145.70" r="1.20" fill="none" stroke="#000000" stroke-width="0.45"/><circle cx="422.54" cy="145.70" r="1.20" fill="none" stroke="#000000" stroke-width="0.45"/><circle cx="424.67" cy="145.70" r="1.20" fill="none" stroke="#000000" stroke-width="0.45"/><circle cx="426.79" cy="145.70" r="1.20" fill="none" stroke="#000000" stroke-width="0.45"/><circle cx="428.92" cy="145.70" r="1.20" fill="none" stroke="#000000" stroke-width="0.45"/><circle cx="431.04" cy="145.70" r="1.20" fill="none" stroke="#000000" stroke-width="0.45"/><circle cx="433.16" cy="145.70" r="1.20" fill="none" stroke="#000000" stroke-width="0.45"/><circle cx="435.29" cy="145.70" r="1.20" fill="none" stroke="#000000" stroke-width="0.45"/><circle cx="437.41" cy="145.70" r="1.20" fill="none" stroke="#000000" stroke-width="0.45"/><circle cx="439.54" cy="145.70" r="1.20" fill="none" stroke="#000000" stroke-width="0.45"/><circle cx="441.66" cy="145.70" r="1.20" fill="none" stroke="#000000" stroke-width="0.45"/><circle cx="443.78" cy="145.70" r="1.20" fill="none" stroke="#000000" stroke-width="0.45"/><circle cx="445.91" cy="145.70" r="1.20" fill="none" stroke="#000000" stroke-width="0.45"/><circle cx="448.03" cy="145.70" r="1.20" fill="none" stroke="#000000" stroke-width="0.45"/><circle cx="450.16" cy="145.70" r="1.20" fill="none" stroke="#000000" stroke-width="0.45"/><circle cx="452.28" cy="145.70" r="1.20" fill="none" stroke="#000000" stroke-width="0.45"/><circle cx="454.40" cy="145.70" r="1.20" fill="none" stroke="#000000" stroke-width="0.45"/><circle cx="456.53" cy="145.70" r="1.20" fill="none" stroke="#000000" stroke-width="0.45"/><circle cx="458.65" cy="145.70" r="1.20" fill="none" stroke="#000000" stroke-width="0.45"/><circle cx="460.78" cy="145.70" r="1.20" fill="none" stroke="#000000" stroke-width="0.45"/><circle cx="462.90" cy="145.70" r="1.20" fill="none" stroke="#000000" stroke-width="0.45"/><circle cx="465.02" cy="145.70" r="1.20" fill="none" stroke="#000000" stroke-width="0.45"/><circle cx="467.15" cy="145.70" r="1.20" fill="none" stroke="#000000" stroke-width="0.45"/><circle cx="469.27" cy="145.70" r="1.20" fill="none" stroke="#000000" stroke-width="0.45"/><circle cx="471.40" cy="145.70" r="1.20" fill="none" stroke="#000000" stroke-width="0.45"/><circle cx="473.52" cy="145.70" r="1.20" fill="none" stroke="#000000" stroke-width="0.45"/><circle cx="475.64" cy="145.70" r="1.20" fill="none" stroke="#000000" stroke-width="0.45"/><circle cx="477.77" cy="145.70" r="1.20" fill="none" stroke="#000000" stroke-width="0.45"/><circle cx="479.89" cy="145.70" r="1.20" fill="none" stroke="#000000" stroke-width="0.45"/><circle cx="482.02" cy="145.70" r="1.20" fill="none" stroke="#000000" stroke-width="0.45"/><circle cx="484.14" cy="145.70" r="1.20" fill="none" stroke="#000000" stroke-width="0.45"/><circle cx="486.26" cy="145.70" r="1.20" fill="none" stroke="#000000" stroke-width="0.45"/><circle cx="488.39" cy="145.70" r="1.20" fill="none" stroke="#000000" stroke-width="0.45"/><circle cx="490.51" cy="145.70" r="1.20" fill="none" stroke="#000000" stroke-width="0.45"/><circle cx="492.64" cy="145.70" r="1.20" fill="none" stroke="#000000" stroke-width="0.45"/><circle cx="494.76" cy="145.70" r="1.20" fill="none" stroke="#000000" stroke-width="0.45"/><circle cx="496.88" cy="145.70" r="1.20" fill="none" stroke="#000000" stroke-width="0.45"/><circle cx="499.01" cy="145.70" r="1.20" fill="none" stroke="#000000" stroke-width="0.45"/><circle cx="501.13" cy="145.70" r="1.20" fill="none" stroke="#000000" stroke-width="0.45"/><circle cx="503.26" cy="145.70" r="1.20" fill="none" stroke="#000000" stroke-width="0.45"/><circle cx="505.38" cy="145.70" r="1.20" fill="none" stroke="#000000" stroke-width="0.45"/><circle cx="507.50" cy="145.70" r="1.20" fill="none" stroke="#000000" stroke-width="0.45"/><circle cx="509.63" cy="145.70" r="1.20" fill="none" stroke="#000000" stroke-width="0.45"/><circle cx="511.75" cy="145.70" r="1.20" fill="none" stroke="#000000" stroke-width="0.45"/><circle cx="513.88" cy="145.70" r="1.20" fill="none" stroke="#000000" stroke-width="0.45"/><circle cx="516.00" cy="145.70" r="1.20" fill="none" stroke="#000000" stroke-width="0.45"/></g>
<path d="M305.00,71.40 L321.50,71.40 L322.00,76.50 L516.00,76.50" fill="none" stroke="#ff0000" stroke-width="0.6" stroke-dasharray="1,1.2" opacity="0.6"/>
<path d="M305.00,116.20 L475.00,116.20 L475.00,121.30 L516.00,121.30" fill="none" stroke="#ff0000" stroke-width="0.52" stroke-dasharray="1,1.2" opacity="0.6"/>
<g opacity="1.0"><circle cx="305.72" cy="116.20" r="0.68" fill="#ff0000"/><circle cx="307.85" cy="116.20" r="0.68" fill="#ff0000"/><circle cx="309.97" cy="116.20" r="0.68" fill="#ff0000"/><circle cx="312.10" cy="116.20" r="0.68" fill="#ff0000"/><circle cx="314.22" cy="116.20" r="0.68" fill="#ff0000"/><circle cx="316.34" cy="116.20" r="0.68" fill="#ff0000"/><circle cx="318.47" cy="116.20" r="0.68" fill="#ff0000"/><circle cx="320.59" cy="116.20" r="0.68" fill="#ff0000"/><circle cx="322.72" cy="116.20" r="0.68" fill="#ff0000"/><circle cx="324.84" cy="116.20" r="0.68" fill="#ff0000"/><circle cx="326.96" cy="116.20" r="0.68" fill="#ff0000"/><circle cx="329.09" cy="116.20" r="0.68" fill="#ff0000"/><circle cx="331.21" cy="116.20" r="0.68" fill="#ff0000"/><circle cx="333.34" cy="116.20" r="0.68" fill="#ff0000"/><circle cx="335.46" cy="116.20" r="0.68" fill="#ff0000"/><circle cx="337.58" cy="116.20" r="0.68" fill="#ff0000"/><circle cx="339.71" cy="116.20" r="0.68" fill="#ff0000"/><circle cx="341.83" cy="116.20" r="0.68" fill="#ff0000"/><circle cx="343.96" cy="116.20" r="0.68" fill="#ff0000"/><circle cx="346.08" cy="116.20" r="0.68" fill="#ff0000"/><circle cx="348.20" cy="116.20" r="0.68" fill="#ff0000"/><circle cx="350.33" cy="116.20" r="0.68" fill="#ff0000"/><circle cx="352.45" cy="116.20" r="0.68" fill="#ff0000"/><circle cx="354.58" cy="116.20" r="0.68" fill="#ff0000"/><circle cx="356.70" cy="116.20" r="0.68" fill="#ff0000"/><circle cx="358.82" cy="116.20" r="0.68" fill="#ff0000"/><circle cx="360.95" cy="116.20" r="0.68" fill="#ff0000"/><circle cx="363.07" cy="116.20" r="0.68" fill="#ff0000"/><circle cx="365.20" cy="116.20" r="0.68" fill="#ff0000"/><circle cx="367.32" cy="116.20" r="0.68" fill="#ff0000"/><circle cx="369.44" cy="116.20" r="0.68" fill="#ff0000"/><circle cx="371.57" cy="116.20" r="0.68" fill="#ff0000"/><circle cx="373.69" cy="116.20" r="0.68" fill="#ff0000"/><circle cx="375.82" cy="116.20" r="0.68" fill="#ff0000"/><circle cx="377.94" cy="116.20" r="0.68" fill="#ff0000"/><circle cx="380.06" cy="116.20" r="0.68" fill="#ff0000"/><circle cx="382.19" cy="116.20" r="0.68" fill="#ff0000"/><circle cx="384.31" cy="116.20" r="0.68" fill="#ff0000"/><circle cx="386.44" cy="116.20" r="0.68" fill="#ff0000"/><circle cx="388.56" cy="116.20" r="0.68" fill="#ff0000"/><circle cx="390.68" cy="116.20" r="0.68" fill="#ff0000"/><circle cx="392.81" cy="116.20" r="0.68" fill="#ff0000"/><circle cx="394.93" cy="116.20" r="0.68" fill="#ff0000"/><circle cx="397.06" cy="116.20" r="0.68" fill="#ff0000"/><circle cx="399.18" cy="116.20" r="0.68" fill="#ff0000"/><circle cx="401.30" cy="116.20" r="0.68" fill="#ff0000"/><circle cx="403.43" cy="116.20" r="0.68" fill="#ff0000"/><circle cx="405.55" cy="116.20" r="0.68" fill="#ff0000"/><circle cx="407.68" cy="116.20" r="0.68" fill="#ff0000"/><circle cx="409.80" cy="116.20" r="0.68" fill="#ff0000"/><circle cx="411.92" cy="116.20" r="0.68" fill="#ff0000"/><circle cx="414.05" cy="116.20" r="0.68" fill="#ff0000"/><circle cx="416.17" cy="116.20" r="0.68" fill="#ff0000"/><circle cx="418.30" cy="116.20" r="0.68" fill="#ff0000"/><circle cx="420.42" cy="116.20" r="0.68" fill="#ff0000"/><circle cx="422.54" cy="116.20" r="0.68" fill="#ff0000"/><circle cx="424.67" cy="116.20" r="0.68" fill="#ff0000"/><circle cx="426.79" cy="116.20" r="0.68" fill="#ff0000"/><circle cx="428.92" cy="116.20" r="0.68" fill="#ff0000"/><circle cx="431.04" cy="116.20" r="0.68" fill="#ff0000"/><circle cx="433.16" cy="116.20" r="0.68" fill="#ff0000"/><circle cx="435.29" cy="116.20" r="0.68" fill="#ff0000"/><circle cx="437.41" cy="116.20" r="0.68" fill="#ff0000"/><circle cx="439.54" cy="116.20" r="0.68" fill="#ff0000"/><circle cx="441.66" cy="116.20" r="0.68" fill="#ff0000"/><circle cx="443.78" cy="116.20" r="0.68" fill="#ff0000"/><circle cx="445.91" cy="116.20" r="0.68" fill="#ff0000"/><circle cx="448.03" cy="116.20" r="0.68" fill="#ff0000"/><circle cx="450.16" cy="116.20" r="0.68" fill="#ff0000"/><circle cx="452.28" cy="116.20" r="0.68" fill="#ff0000"/><circle cx="454.40" cy="116.20" r="0.68" fill="#ff0000"/><circle cx="456.53" cy="116.20" r="0.68" fill="#ff0000"/><circle cx="458.65" cy="116.20" r="0.68" fill="#ff0000"/><circle cx="460.78" cy="116.20" r="0.68" fill="#ff0000"/><circle cx="462.90" cy="116.20" r="0.68" fill="#ff0000"/><circle cx="465.02" cy="116.20" r="0.68" fill="#ff0000"/><circle cx="467.15" cy="116.20" r="0.68" fill="#ff0000"/><circle cx="469.27" cy="116.20" r="0.68" fill="#ff0000"/><circle cx="471.40" cy="116.20" r="0.68" fill="#ff0000"/><circle cx="473.52" cy="116.20" r="0.68" fill="#ff0000"/><circle cx="475.64" cy="121.30" r="0.68" fill="#ff0000"/><circle cx="477.77" cy="121.30" r="0.68" fill="#ff0000"/><circle cx="479.89" cy="121.30" r="0.68" fill="#ff0000"/><circle cx="482.02" cy="121.30" r="0.68" fill="#ff0000"/><circle cx="484.14" cy="121.30" r="0.68" fill="#ff0000"/><circle cx="486.26" cy="121.30" r="0.68" fill="#ff0000"/><circle cx="488.39" cy="121.30" r="0.68" fill="#ff0000"/><circle cx="490.51" cy="121.30" r="0.68" fill="#ff0000"/><circle cx="492.64" cy="121.30" r="0.68" fill="#ff0000"/><circle cx="494.76" cy="121.30" r="0.68" fill="#ff0000"/><circle cx="496.88" cy="121.30" r="0.68" fill="#ff0000"/><circle cx="499.01" cy="121.30" r="0.68" fill="#ff0000"/><circle cx="501.13" cy="121.30" r="0.68" fill="#ff0000"/><circle cx="503.26" cy="121.30" r="0.68" fill="#ff0000"/><circle cx="505.38" cy="121.30" r="0.68" fill="#ff0000"/><circle cx="507.50" cy="121.30" r="0.68" fill="#ff0000"/><circle cx="509.63" cy="121.30" r="0.68" fill="#ff0000"/><circle cx="511.75" cy="121.30" r="0.68" fill="#ff0000"/><circle cx="513.88" cy="121.30" r="0.68" fill="#ff0000"/><circle cx="516.00" cy="121.30" r="0.68" fill="#ff0000"/></g>
<path d="M306.00,84.00 L309.50,111.80 L321.80,111.80 L321.90,131.00 L516.00,131.00" fill="none" stroke="#ff0000" stroke-width="0.52" opacity="0.6"/>
<g opacity="1.0"><circle cx="307.85" cy="98.68" r="1.20" fill="none" stroke="#ff0000" stroke-width="0.45"/><circle cx="309.97" cy="111.80" r="1.20" fill="none" stroke="#ff0000" stroke-width="0.45"/><circle cx="312.10" cy="111.80" r="1.20" fill="none" stroke="#ff0000" stroke-width="0.45"/><circle cx="314.22" cy="111.80" r="1.20" fill="none" stroke="#ff0000" stroke-width="0.45"/><circle cx="316.34" cy="111.80" r="1.20" fill="none" stroke="#ff0000" stroke-width="0.45"/><circle cx="318.47" cy="111.80" r="1.20" fill="none" stroke="#ff0000" stroke-width="0.45"/><circle cx="320.59" cy="111.80" r="1.20" fill="none" stroke="#ff0000" stroke-width="0.45"/><circle cx="322.72" cy="131.00" r="1.20" fill="none" stroke="#ff0000" stroke-width="0.45"/><circle cx="324.84" cy="131.00" r="1.20" fill="none" stroke="#ff0000" stroke-width="0.45"/><circle cx="326.96" cy="131.00" r="1.20" fill="none" stroke="#ff0000" stroke-width="0.45"/><circle cx="329.09" cy="131.00" r="1.20" fill="none" stroke="#ff0000" stroke-width="0.45"/><circle cx="331.21" cy="131.00" r="1.20" fill="none" stroke="#ff0000" stroke-width="0.45"/><circle cx="333.34" cy="131.00" r="1.20" fill="none" stroke="#ff0000" stroke-width="0.45"/><circle cx="335.46" cy="131.00" r="1.20" fill="none" stroke="#ff0000" stroke-width="0.45"/><circle cx="337.58" cy="131.00" r="1.20" fill="none" stroke="#ff0000" stroke-width="0.45"/><circle cx="339.71" cy="131.00" r="1.20" fill="none" stroke="#ff0000" stroke-width="0.45"/><circle cx="341.83" cy="131.00" r="1.20" fill="none" stroke="#ff0000" stroke-width="0.45"/><circle cx="343.96" cy="131.00" r="1.20" fill="none" stroke="#ff0000" stroke-width="0.45"/><circle cx="346.08" cy="131.00" r="1.20" fill="none" stroke="#ff0000" stroke-width="0.45"/><circle cx="348.20" cy="131.00" r="1.20" fill="none" stroke="#ff0000" stroke-width="0.45"/><circle cx="350.33" cy="131.00" r="1.20" fill="none" stroke="#ff0000" stroke-width="0.45"/><circle cx="352.45" cy="131.00" r="1.20" fill="none" stroke="#ff0000" stroke-width="0.45"/><circle cx="354.58" cy="131.00" r="1.20" fill="none" stroke="#ff0000" stroke-width="0.45"/><circle cx="356.70" cy="131.00" r="1.20" fill="none" stroke="#ff0000" stroke-width="0.45"/><circle cx="358.82" cy="131.00" r="1.20" fill="none" stroke="#ff0000" stroke-width="0.45"/><circle cx="360.95" cy="131.00" r="1.20" fill="none" stroke="#ff0000" stroke-width="0.45"/><circle cx="363.07" cy="131.00" r="1.20" fill="none" stroke="#ff0000" stroke-width="0.45"/><circle cx="365.20" cy="131.00" r="1.20" fill="none" stroke="#ff0000" stroke-width="0.45"/><circle cx="367.32" cy="131.00" r="1.20" fill="none" stroke="#ff0000" stroke-width="0.45"/><circle cx="369.44" cy="131.00" r="1.20" fill="none" stroke="#ff0000" stroke-width="0.45"/><circle cx="371.57" cy="131.00" r="1.20" fill="none" stroke="#ff0000" stroke-width="0.45"/><circle cx="373.69" cy="131.00" r="1.20" fill="none" stroke="#ff0000" stroke-width="0.45"/><circle cx="375.82" cy="131.00" r="1.20" fill="none" stroke="#ff0000" stroke-width="0.45"/><circle cx="377.94" cy="131.00" r="1.20" fill="none" stroke="#ff0000" stroke-width="0.45"/><circle cx="380.06" cy="131.00" r="1.20" fill="none" stroke="#ff0000" stroke-width="0.45"/><circle cx="382.19" cy="131.00" r="1.20" fill="none" stroke="#ff0000" stroke-width="0.45"/><circle cx="384.31" cy="131.00" r="1.20" fill="none" stroke="#ff0000" stroke-width="0.45"/><circle cx="386.44" cy="131.00" r="1.20" fill="none" stroke="#ff0000" stroke-width="0.45"/><circle cx="388.56" cy="131.00" r="1.20" fill="none" stroke="#ff0000" stroke-width="0.45"/><circle cx="390.68" cy="131.00" r="1.20" fill="none" stroke="#ff0000" stroke-width="0.45"/><circle cx="392.81" cy="131.00" r="1.20" fill="none" stroke="#ff0000" stroke-width="0.45"/><circle cx="394.93" cy="131.00" r="1.20" fill="none" stroke="#ff0000" stroke-width="0.45"/><circle cx="397.06" cy="131.00" r="1.20" fill="none" stroke="#ff0000" stroke-width="0.45"/><circle cx="399.18" cy="131.00" r="1.20" fill="none" stroke="#ff0000" stroke-width="0.45"/><circle cx="401.30" cy="131.00" r="1.20" fill="none" stroke="#ff0000" stroke-width="0.45"/><circle cx="403.43" cy="131.00" r="1.20" fill="none" stroke="#ff0000" stroke-width="0.45"/><circle cx="405.55" cy="131.00" r="1.20" fill="none" stroke="#ff0000" stroke-width="0.45"/><circle cx="407.68" cy="131.00" r="1.20" fill="none" stroke="#ff0000" stroke-width="0.45"/><circle cx="409.80" cy="131.00" r="1.20" fill="none" stroke="#ff0000" stroke-width="0.45"/><circle cx="411.92" cy="131.00" r="1.20" fill="none" stroke="#ff0000" stroke-width="0.45"/><circle cx="414.05" cy="131.00" r="1.20" fill="none" stroke="#ff0000" stroke-width="0.45"/><circle cx="416.17" cy="131.00" r="1.20" fill="none" stroke="#ff0000" stroke-width="0.45"/><circle cx="418.30" cy="131.00" r="1.20" fill="none" stroke="#ff0000" stroke-width="0.45"/><circle cx="420.42" cy="131.00" r="1.20" fill="none" stroke="#ff0000" stroke-width="0.45"/><circle cx="422.54" cy="131.00" r="1.20" fill="none" stroke="#ff0000" stroke-width="0.45"/><circle cx="424.67" cy="131.00" r="1.20" fill="none" stroke="#ff0000" stroke-width="0.45"/><circle cx="426.79" cy="131.00" r="1.20" fill="none" stroke="#ff0000" stroke-width="0.45"/><circle cx="428.92" cy="131.00" r="1.20" fill="none" stroke="#ff0000" stroke-width="0.45"/><circle cx="431.04" cy="131.00" r="1.20" fill="none" stroke="#ff0000" stroke-width="0.45"/><circle cx="433.16" cy="131.00" r="1.20" fill="none" stroke="#ff0000" stroke-width="0.45"/><circle cx="435.29" cy="131.00" r="1.20" fill="none" stroke="#ff0000" stroke-width="0.45"/><circle cx="437.41" cy="131.00" r="1.20" fill="none" stroke="#ff0000" stroke-width="0.45"/><circle cx="439.54" cy="131.00" r="1.20" fill="none" stroke="#ff0000" stroke-width="0.45"/><circle cx="441.66" cy="131.00" r="1.20" fill="none" stroke="#ff0000" stroke-width="0.45"/><circle cx="443.78" cy="131.00" r="1.20" fill="none" stroke="#ff0000" stroke-width="0.45"/><circle cx="445.91" cy="131.00" r="1.20" fill="none" stroke="#ff0000" stroke-width="0.45"/><circle cx="448.03" cy="131.00" r="1.20" fill="none" stroke="#ff0000" stroke-width="0.45"/><circle cx="450.16" cy="131.00" r="1.20" fill="none" stroke="#ff0000" stroke-width="0.45"/><circle cx="452.28" cy="131.00" r="1.20" fill="none" stroke="#ff0000" stroke-width="0.45"/><circle cx="454.40" cy="131.00" r="1.20" fill="none" stroke="#ff0000" stroke-width="0.45"/><circle cx="456.53" cy="131.00" r="1.20" fill="none" stroke="#ff0000" stroke-width="0.45"/><circle cx="458.65" cy="131.00" r="1.20" fill="none" stroke="#ff0000" stroke-width="0.45"/><circle cx="460.78" cy="131.00" r="1.20" fill="none" stroke="#ff0000" stroke-width="0.45"/><circle cx="462.90" cy="131.00" r="1.20" fill="none" stroke="#ff0000" stroke-width="0.45"/><circle cx="465.02" cy="131.00" r="1.20" fill="none" stroke="#ff0000" stroke-width="0.45"/><circle cx="467.15" cy="131.00" r="1.20" fill="none" stroke="#ff0000" stroke-width="0.45"/><circle cx="469.27" cy="131.00" r="1.20" fill="none" stroke="#ff0000" stroke-width="0.45"/><circle cx="471.40" cy="131.00" r="1.20" fill="none" stroke="#ff0000" stroke-width="0.45"/><circle cx="473.52" cy="131.00" r="1.20" fill="none" stroke="#ff0000" stroke-width="0.45"/><circle cx="475.64" cy="131.00" r="1.20" fill="none" stroke="#ff0000" stroke-width="0.45"/><circle cx="477.77" cy="131.00" r="1.20" fill="none" stroke="#ff0000" stroke-width="0.45"/><circle cx="479.89" cy="131.00" r="1.20" fill="none" stroke="#ff0000" stroke-width="0.45"/><circle cx="482.02" cy="131.00" r="1.20" fill="none" stroke="#ff0000" stroke-width="0.45"/><circle cx="484.14" cy="131.00" r="1.20" fill="none" stroke="#ff0000" stroke-width="0.45"/><circle cx="486.26" cy="131.00" r="1.20" fill="none" stroke="#ff0000" stroke-width="0.45"/><circle cx="488.39" cy="131.00" r="1.20" fill="none" stroke="#ff0000" stroke-width="0.45"/><circle cx="490.51" cy="131.00" r="1.20" fill="none" stroke="#ff0000" stroke-width="0.45"/><circle cx="492.64" cy="131.00" r="1.20" fill="none" stroke="#ff0000" stroke-width="0.45"/><circle cx="494.76" cy="131.00" r="1.20" fill="none" stroke="#ff0000" stroke-width="0.45"/><circle cx="496.88" cy="131.00" r="1.20" fill="none" stroke="#ff0000" stroke-width="0.45"/><circle cx="499.01" cy="131.00" r="1.20" fill="none" stroke="#ff0000" stroke-width="0.45"/><circle cx="501.13" cy="131.00" r="1.20" fill="none" stroke="#ff0000" stroke-width="0.45"/><circle cx="503.26" cy="131.00" r="1.20" fill="none" stroke="#ff0000" stroke-width="0.45"/><circle cx="505.38" cy="131.00" r="1.20" fill="none" stroke="#ff0000" stroke-width="0.45"/><circle cx="507.50" cy="131.00" r="1.20" fill="none" stroke="#ff0000" stroke-width="0.45"/><circle cx="509.63" cy="131.00" r="1.20" fill="none" stroke="#ff0000" stroke-width="0.45"/><circle cx="511.75" cy="131.00" r="1.20" fill="none" stroke="#ff0000" stroke-width="0.45"/><circle cx="513.88" cy="131.00" r="1.20" fill="none" stroke="#ff0000" stroke-width="0.45"/><circle cx="516.00" cy="131.00" r="1.20" fill="none" stroke="#ff0000" stroke-width="0.45"/></g>
<path d="M305.00,92.00 L311.00,92.00 L311.00,106.30 L470.40,106.30 L470.40,113.20 L516.00,113.20" fill="none" stroke="#ff0000" stroke-width="0.68" opacity="0.6"/>
<g opacity="1.0"><path d="M304.62,92.00h2.20M305.72,90.90v2.20M304.95,91.23l1.54,1.54M304.95,92.77l1.54,-1.54" stroke="#ff0000" stroke-width="0.45"/><path d="M306.75,92.00h2.20M307.85,90.90v2.20M307.08,91.23l1.54,1.54M307.08,92.77l1.54,-1.54" stroke="#ff0000" stroke-width="0.45"/><path d="M308.87,92.00h2.20M309.97,90.90v2.20M309.20,91.23l1.54,1.54M309.20,92.77l1.54,-1.54" stroke="#ff0000" stroke-width="0.45"/><path d="M311.00,106.30h2.20M312.10,105.20v2.20M311.33,105.53l1.54,1.54M311.33,107.07l1.54,-1.54" stroke="#ff0000" stroke-width="0.45"/><path d="M313.12,106.30h2.20M314.22,105.20v2.20M313.45,105.53l1.54,1.54M313.45,107.07l1.54,-1.54" stroke="#ff0000" stroke-width="0.45"/><path d="M315.24,106.30h2.20M316.34,105.20v2.20M315.57,105.53l1.54,1.54M315.57,107.07l1.54,-1.54" stroke="#ff0000" stroke-width="0.45"/><path d="M317.37,106.30h2.20M318.47,105.20v2.20M317.70,105.53l1.54,1.54M317.70,107.07l1.54,-1.54" stroke="#ff0000" stroke-width="0.45"/><path d="M319.49,106.30h2.20M320.59,105.20v2.20M319.82,105.53l1.54,1.54M319.82,107.07l1.54,-1.54" stroke="#ff0000" stroke-width="0.45"/><path d="M321.62,106.30h2.20M322.72,105.20v2.20M321.95,105.53l1.54,1.54M321.95,107.07l1.54,-1.54" stroke="#ff0000" stroke-width="0.45"/><path d="M323.74,106.30h2.20M324.84,105.20v2.20M324.07,105.53l1.54,1.54M324.07,107.07l1.54,-1.54" stroke="#ff0000" stroke-width="0.45"/><path d="M325.86,106.30h2.20M326.96,105.20v2.20M326.19,105.53l1.54,1.54M326.19,107.07l1.54,-1.54" stroke="#ff0000" stroke-width="0.45"/><path d="M327.99,106.30h2.20M329.09,105.20v2.20M328.32,105.53l1.54,1.54M328.32,107.07l1.54,-1.54" stroke="#ff0000" stroke-width="0.45"/><path d="M330.11,106.30h2.20M331.21,105.20v2.20M330.44,105.53l1.54,1.54M330.44,107.07l1.54,-1.54" stroke="#ff0000" stroke-width="0.45"/><path d="M332.24,106.30h2.20M333.34,105.20v2.20M332.57,105.53l1.54,1.54M332.57,107.07l1.54,-1.54" stroke="#ff0000" stroke-width="0.45"/><path d="M334.36,106.30h2.20M335.46,105.20v2.20M334.69,105.53l1.54,1.54M334.69,107.07l1.54,-1.54" stroke="#ff0000" stroke-width="0.45"/><path d="M336.48,106.30h2.20M337.58,105.20v2.20M336.81,105.53l1.54,1.54M336.81,107.07l1.54,-1.54" stroke="#ff0000" stroke-width="0.45"/><path d="M338.61,106.30h2.20M339.71,105.20v2.20M338.94,105.53l1.54,1.54M338.94,107.07l1.54,-1.54" stroke="#ff0000" stroke-width="0.45"/><path d="M340.73,106.30h2.20M341.83,105.20v2.20M341.06,105.53l1.54,1.54M341.06,107.07l1.54,-1.54" stroke="#ff0000" stroke-width="0.45"/><path d="M342.86,106.30h2.20M343.96,105.20v2.20M343.19,105.53l1.54,1.54M343.19,107.07l1.54,-1.54" stroke="#ff0000" stroke-width="0.45"/><path d="M344.98,106.30h2.20M346.08,105.20v2.20M345.31,105.53l1.54,1.54M345.31,107.07l1.54,-1.54" stroke="#ff0000" stroke-width="0.45"/><path d="M347.10,106.30h2.20M348.20,105.20v2.20M347.43,105.53l1.54,1.54M347.43,107.07l1.54,-1.54" stroke="#ff0000" stroke-width="0.45"/><path d="M349.23,106.30h2.20M350.33,105.20v2.20M349.56,105.53l1.54,1.54M349.56,107.07l1.54,-1.54" stroke="#ff0000" stroke-width="0.45"/><path d="M351.35,106.30h2.20M352.45,105.20v2.20M351.68,105.53l1.54,1.54M351.68,107.07l1.54,-1.54" stroke="#ff0000" stroke-width="0.45"/><path d="M353.48,106.30h2.20M354.58,105.20v2.20M353.81,105.53l1.54,1.54M353.81,107.07l1.54,-1.54" stroke="#ff0000" stroke-width="0.45"/><path d="M355.60,106.30h2.20M356.70,105.20v2.20M355.93,105.53l1.54,1.54M355.93,107.07l1.54,-1.54" stroke="#ff0000" stroke-width="0.45"/><path d="M357.72,106.30h2.20M358.82,105.20v2.20M358.05,105.53l1.54,1.54M358.05,107.07l1.54,-1.54" stroke="#ff0000" stroke-width="0.45"/><path d="M359.85,106.30h2.20M360.95,105.20v2.20M360.18,105.53l1.54,1.54M360.18,107.07l1.54,-1.54" stroke="#ff0000" stroke-width="0.45"/><path d="M361.97,106.30h2.20M363.07,105.20v2.20M362.30,105.53l1.54,1.54M362.30,107.07l1.54,-1.54" stroke="#ff0000" stroke-width="0.45"/><path d="M364.10,106.30h2.20M365.20,105.20v2.20M364.43,105.53l1.54,1.54M364.43,107.07l1.54,-1.54" stroke="#ff0000" stroke-width="0.45"/><path d="M366.22,106.30h2.20M367.32,105.20v2.20M366.55,105.53l1.54,1.54M366.55,107.07l1.54,-1.54" stroke="#ff0000" stroke-width="0.45"/><path d="M368.34,106.30h2.20M369.44,105.20v2.20M368.67,105.53l1.54,1.54M368.67,107.07l1.54,-1.54" stroke="#ff0000" stroke-width="0.45"/><path d="M370.47,106.30h2.20M371.57,105.20v2.20M370.80,105.53l1.54,1.54M370.80,107.07l1.54,-1.54" stroke="#ff0000" stroke-width="0.45"/><path d="M372.59,106.30h2.20M373.69,105.20v2.20M372.92,105.53l1.54,1.54M372.92,107.07l1.54,-1.54" stroke="#ff0000" stroke-width="0.45"/><path d="M374.72,106.30h2.20M375.82,105.20v2.20M375.05,105.53l1.54,1.54M375.05,107.07l1.54,-1.54" stroke="#ff0000" stroke-width="0.45"/><path d="M376.84,106.30h2.20M377.94,105.20v2.20M377.17,105.53l1.54,1.54M377.17,107.07l1.54,-1.54" stroke="#ff0000" stroke-width="0.45"/><path d="M378.96,106.30h2.20M380.06,105.20v2.20M379.29,105.53l1.54,1.54M379.29,107.07l1.54,-1.54" stroke="#ff0000" stroke-width="0.45"/><path d="M381.09,106.30h2.20M382.19,105.20v2.20M381.42,105.53l1.54,1.54M381.42,107.07l1.54,-1.54" stroke="#ff0000" stroke-width="0.45"/><path d="M383.21,106.30h2.20M384.31,105.20v2.20M383.54,105.53l1.54,1.54M383.54,107.07l1.54,-1.54" stroke="#ff0000" stroke-width="0.45"/><path d="M385.34,106.30h2.20M386.44,105.20v2.20M385.67,105.53l1.54,1.54M385.67,107.07l1.54,-1.54" stroke="#ff0000" stroke-width="0.45"/><path d="M387.46,106.30h2.20M388.56,105.20v2.20M387.79,105.53l1.54,1.54M387.79,107.07l1.54,-1.54" stroke="#ff0000" stroke-width="0.45"/><path d="M389.58,106.30h2.20M390.68,105.20v2.20M389.91,105.53l1.54,1.54M389.91,107.07l1.54,-1.54" stroke="#ff0000" stroke-width="0.45"/><path d="M391.71,106.30h2.20M392.81,105.20v2.20M392.04,105.53l1.54,1.54M392.04,107.07l1.54,-1.54" stroke="#ff0000" stroke-width="0.45"/><path d="M393.83,106.30h2.20M394.93,105.20v2.20M394.16,105.53l1.54,1.54M394.16,107.07l1.54,-1.54" stroke="#ff0000" stroke-width="0.45"/><path d="M395.96,106.30h2.20M397.06,105.20v2.20M396.29,105.53l1.54,1.54M396.29,107.07l1.54,-1.54" stroke="#ff0000" stroke-width="0.45"/><path d="M398.08,106.30h2.20M399.18,105.20v2.20M398.41,105.53l1.54,1.54M398.41,107.07l1.54,-1.54" stroke="#ff0000" stroke-width="0.45"/><path d="M400.20,106.30h2.20M401.30,105.20v2.20M400.53,105.53l1.54,1.54M400.53,107.07l1.54,-1.54" stroke="#ff0000" stroke-width="0.45"/><path d="M402.33,106.30h2.20M403.43,105.20v2.20M402.66,105.53l1.54,1.54M402.66,107.07l1.54,-1.54" stroke="#ff0000" stroke-width="0.45"/><path d="M404.45,106.30h2.20M405.55,105.20v2.20M404.78,105.53l1.54,1.54M404.78,107.07l1.54,-1.54" stroke="#ff0000" stroke-width="0.45"/><path d="M406.58,106.30h2.20M407.68,105.20v2.20M406.91,105.53l1.54,1.54M406.91,107.07l1.54,-1.54" stroke="#ff0000" stroke-width="0.45"/><path d="M408.70,106.30h2.20M409.80,105.20v2.20M409.03,105.53l1.54,1.54M409.03,107.07l1.54,-1.54" stroke="#ff0000" stroke-width="0.45"/><path d="M410.82,106.30h2.20M411.92,105.20v2.20M411.15,105.53l1.54,1.54M411.15,107.07l1.54,-1.54" stroke="#ff0000" stroke-width="0.45"/><path d="M412.95,106.30h2.20M414.05,105.20v2.20M413.28,105.53l1.54,1.54M413.28,107.07l1.54,-1.54" stroke="#ff0000" stroke-width="0.45"/><path d="M415.07,106.30h2.20M416.17,105.20v2.20M415.40,105.53l1.54,1.54M415.40,107.07l1.54,-1.54" stroke="#ff0000" stroke-width="0.45"/><path d="M417.20,106.30h2.20M418.30,105.20v2.20M417.53,105.53l1.54,1.54M417.53,107.07l1.54,-1.54" stroke="#ff0000" stroke-width="0.45"/><path d="M419.32,106.30h2.20M420.42,105.20v2.20M419.65,105.53l1.54,1.54M419.65,107.07l1.54,-1.54" stroke="#ff0000" stroke-width="0.45"/><path d="M421.44,106.30h2.20M422.54,105.20v2.20M421.77,105.53l1.54,1.54M421.77,107.07l1.54,-1.54" stroke="#ff0000" stroke-width="0.45"/><path d="M423.57,106.30h2.20M424.67,105.20v2.20M423.90,105.53l1.54,1.54M423.90,107.07l1.54,-1.54" stroke="#ff0000" stroke-width="0.45"/><path d="M425.69,106.30h2.20M426.79,105.20v2.20M426.02,105.53l1.54,1.54M426.02,107.07l1.54,-1.54" stroke="#ff0000" stroke-width="0.45"/><path d="M427.82,106.30h2.20M428.92,105.20v2.20M428.15,105.53l1.54,1.54M428.15,107.07l1.54,-1.54" stroke="#ff0000" stroke-width="0.45"/><path d="M429.94,106.30h2.20M431.04,105.20v2.20M430.27,105.53l1.54,1.54M430.27,107.07l1.54,-1.54" stroke="#ff0000" stroke-width="0.45"/><path d="M432.06,106.30h2.20M433.16,105.20v2.20M432.39,105.53l1.54,1.54M432.39,107.07l1.54,-1.54" stroke="#ff0000" stroke-width="0.45"/><path d="M434.19,106.30h2.20M435.29,105.20v2.20M434.52,105.53l1.54,1.54M434.52,107.07l1.54,-1.54" stroke="#ff0000" stroke-width="0.45"/><path d="M436.31,106.30h2.20M437.41,105.20v2.20M436.64,105.53l1.54,1.54M436.64,107.07l1.54,-1.54" stroke="#ff0000" stroke-width="0.45"/><path d="M438.44,106.30h2.20M439.54,105.20v2.20M438.77,105.53l1.54,1.54M438.77,107.07l1.54,-1.54" stroke="#ff0000" stroke-width="0.45"/><path d="M440.56,106.30h2.20M441.66,105.20v2.20M440.89,105.53l1.54,1.54M440.89,107.07l1.54,-1.54" stroke="#ff0000" stroke-width="0.45"/><path d="M442.68,106.30h2.20M443.78,105.20v2.20M443.01,105.53l1.54,1.54M443.01,107.07l1.54,-1.54" stroke="#ff0000" stroke-width="0.45"/><path d="M444.81,106.30h2.20M445.91,105.20v2.20M445.14,105.53l1.54,1.54M445.14,107.07l1.54,-1.54" stroke="#ff0000" stroke-width="0.45"/><path d="M446.93,106.30h2.20M448.03,105.20v2.20M447.26,105.53l1.54,1.54M447.26,107.07l1.54,-1.54" stroke="#ff0000" stroke-width="0.45"/><path d="M449.06,106.30h2.20M450.16,105.20v2.20M449.39,105.53l1.54,1.54M449.39,107.07l1.54,-1.54" stroke="#ff0000" stroke-width="0.45"/><path d="M451.18,106.30h2.20M452.28,105.20v2.20M451.51,105.53l1.54,1.54M451.51,107.07l1.54,-1.54" stroke="#ff0000" stroke-width="0.45"/><path d="M453.30,106.30h2.20M454.40,105.20v2.20M453.63,105.53l1.54,1.54M453.63,107.07l1.54,-1.54" stroke="#ff0000" stroke-width="0.45"/><path d="M455.43,106.30h2.20M456.53,105.20v2.20M455.76,105.53l1.54,1.54M455.76,107.07l1.54,-1.54" stroke="#ff0000" stroke-width="0.45"/><path d="M457.55,106.30h2.20M458.65,105.20v2.20M457.88,105.53l1.54,1.54M457.88,107.07l1.54,-1.54" stroke="#ff0000" stroke-width="0.45"/><path d="M459.68,106.30h2.20M460.78,105.20v2.20M460.01,105.53l1.54,1.54M460.01,107.07l1.54,-1.54" stroke="#ff0000" stroke-width="0.45"/><path d="M461.80,106.30h2.20M462.90,105.20v2.20M462.13,105.53l1.54,1.54M462.13,107.07l1.54,-1.54" stroke="#ff0000" stroke-width="0.45"/><path d="M463.92,106.30h2.20M465.02,105.20v2.20M464.25,105.53l1.54,1.54M464.25,107.07l1.54,-1.54" stroke="#ff0000" stroke-width="0.45"/><path d="M466.05,106.30h2.20M467.15,105.20v2.20M466.38,105.53l1.54,1.54M466.38,107.07l1.54,-1.54" stroke="#ff0000" stroke-width="0.45"/><path d="M468.17,106.30h2.20M469.27,105.20v2.20M468.50,105.53l1.54,1.54M468.50,107.07l1.54,-1.54" stroke="#ff0000" stroke-width="0.45"/><path d="M470.30,113.20h2.20M471.40,112.10v2.20M470.63,112.43l1.54,1.54M470.63,113.97l1.54,-1.54" stroke="#ff0000" stroke-width="0.45"/><path d="M472.42,113.20h2.20M473.52,112.10v2.20M472.75,112.43l1.54,1.54M472.75,113.97l1.54,-1.54" stroke="#ff0000" stroke-width="0.45"/><path d="M474.54,113.20h2.20M475.64,112.10v2.20M474.87,112.43l1.54,1.54M474.87,113.97l1.54,-1.54" stroke="#ff0000" stroke-width="0.45"/><path d="M476.67,113.20h2.20M477.77,112.10v2.20M477.00,112.43l1.54,1.54M477.00,113.97l1.54,-1.54" stroke="#ff0000" stroke-width="0.45"/><path d="M478.79,113.20h2.20M479.89,112.10v2.20M479.12,112.43l1.54,1.54M479.12,113.97l1.54,-1.54" stroke="#ff0000" stroke-width="0.45"/><path d="M480.92,113.20h2.20M482.02,112.10v2.20M481.25,112.43l1.54,1.54M481.25,113.97l1.54,-1.54" stroke="#ff0000" stroke-width="0.45"/><path d="M483.04,113.20h2.20M484.14,112.10v2.20M483.37,112.43l1.54,1.54M483.37,113.97l1.54,-1.54" stroke="#ff0000" stroke-width="0.45"/><path d="M485.16,113.20h2.20M486.26,112.10v2.20M485.49,112.43l1.54,1.54M485.49,113.97l1.54,-1.54" stroke="#ff0000" stroke-width="0.45"/><path d="M487.29,113.20h2.20M488.39,112.10v2.20M487.62,112.43l1.54,1.54M487.62,113.97l1.54,-1.54" stroke="#ff0000" stroke-width="0.45"/><path d="M489.41,113.20h2.20M490.51,112.10v2.20M489.74,112.43l1.54,1.54M489.74,113.97l1.54,-1.54" stroke="#ff0000" stroke-width="0.45"/><path d="M491.54,113.20h2.20M492.64,112.10v2.20M491.87,112.43l1.54,1.54M491.87,113.97l1.54,-1.54" stroke="#ff0000" stroke-width="0.45"/><path d="M493.66,113.20h2.20M494.76,112.10v2.20M493.99,112.43l1.54,1.54M493.99,113.97l1.54,-1.54" stroke="#ff0000" stroke-width="0.45"/><path d="M495.78,113.20h2.20M496.88,112.10v2.20M496.11,112.43l1.54,1.54M496.11,113.97l1.54,-1.54" stroke="#ff0000" stroke-width="0.45"/><path d="M497.91,113.20h2.20M499.01,112.10v2.20M498.24,112.43l1.54,1.54M498.24,113.97l1.54,-1.54" stroke="#ff0000" stroke-width="0.45"/><path d="M500.03,113.20h2.20M501.13,112.10v2.20M500.36,112.43l1.54,1.54M500.36,113.97l1.54,-1.54" stroke="#ff0000" stroke-width="0.45"/><path d="M502.16,113.20h2.20M503.26,112.10v2.20M502.49,112.43l1.54,1.54M502.49,113.97l1.54,-1.54" stroke="#ff0000" stroke-width="0.45"/><path d="M504.28,113.20h2.20M505.38,112.10v2.20M504.61,112.43l1.54,1.54M504.61,113.97l1.54,-1.54" stroke="#ff0000" stroke-width="0.45"/><path d="M506.40,113.20h2.20M507.50,112.10v2.20M506.73,112.43l1.54,1.54M506.73,113.97l1.54,-1.54" stroke="#ff0000" stroke-width="0.45"/><path d="M508.53,113.20h2.20M509.63,112.10v2.20M508.86,112.43l1.54,1.54M508.86,113.97l1.54,-1.54" stroke="#ff0000" stroke-width="0.45"/><path d="M510.65,113.20h2.20M511.75,112.10v2.20M510.98,112.43l1.54,1.54M510.98,113.97l1.54,-1.54" stroke="#ff0000" stroke-width="0.45"/><path d="M512.78,113.20h2.20M513.88,112.10v2.20M513.11,112.43l1.54,1.54M513.11,113.97l1.54,-1.54" stroke="#ff0000" stroke-width="0.45"/><path d="M514.90,113.20h2.20M516.00,112.10v2.20M515.23,112.43l1.54,1.54M515.23,113.97l1.54,-1.54" stroke="#ff0000" stroke-width="0.45"/></g>
<path d="M305.80,114.00 L307.00,133.30 L381.30,133.50 L381.30,136.30 L516.00,136.30" fill="none" stroke="#0000ff" stroke-width="0.68" opacity="0.6"/>
<g opacity="1.0"><path d="M306.75,133.30h2.20M307.85,132.20v2.20M307.08,132.53l1.54,1.54M307.08,134.07l1.54,-1.54" stroke="#0000ff" stroke-width="0.45"/><path d="M308.87,133.31h2.20M309.97,132.21v2.20M309.20,132.54l1.54,1.54M309.20,134.08l1.54,-1.54" stroke="#0000ff" stroke-width="0.45"/><path d="M311.00,133.31h2.20M312.10,132.21v2.20M311.33,132.54l1.54,1.54M311.33,134.08l1.54,-1.54" stroke="#0000ff" stroke-width="0.45"/><path d="M313.12,133.32h2.20M314.22,132.22v2.20M313.45,132.55l1.54,1.54M313.45,134.09l1.54,-1.54" stroke="#0000ff" stroke-width="0.45"/><path d="M315.24,133.33h2.20M316.34,132.23v2.20M315.57,132.56l1.54,1.54M315.57,134.10l1.54,-1.54" stroke="#0000ff" stroke-width="0.45"/><path d="M317.37,133.33h2.20M318.47,132.23v2.20M317.70,132.56l1.54,1.54M317.70,134.10l1.54,-1.54" stroke="#0000ff" stroke-width="0.45"/><path d="M319.49,133.34h2.20M320.59,132.24v2.20M319.82,132.57l1.54,1.54M319.82,134.11l1.54,-1.54" stroke="#0000ff" stroke-width="0.45"/><path d="M321.62,133.34h2.20M322.72,132.24v2.20M321.95,132.57l1.54,1.54M321.95,134.11l1.54,-1.54" stroke="#0000ff" stroke-width="0.45"/><path d="M323.74,133.35h2.20M324.84,132.25v2.20M324.07,132.58l1.54,1.54M324.07,134.12l1.54,-1.54" stroke="#0000ff" stroke-width="0.45"/><path d="M325.86,133.35h2.20M326.96,132.25v2.20M326.19,132.58l1.54,1.54M326.19,134.12l1.54,-1.54" stroke="#0000ff" stroke-width="0.45"/><path d="M327.99,133.36h2.20M329.09,132.26v2.20M328.32,132.59l1.54,1.54M328.32,134.13l1.54,-1.54" stroke="#0000ff" stroke-width="0.45"/><path d="M330.11,133.37h2.20M331.21,132.27v2.20M330.44,132.60l1.54,1.54M330.44,134.14l1.54,-1.54" stroke="#0000ff" stroke-width="0.45"/><path d="M332.24,133.37h2.20M333.34,132.27v2.20M332.57,132.60l1.54,1.54M332.57,134.14l1.54,-1.54" stroke="#0000ff" stroke-width="0.45"/><path d="M334.36,133.38h2.20M335.46,132.28v2.20M334.69,132.61l1.54,1.54M334.69,134.15l1.54,-1.54" stroke="#0000ff" stroke-width="0.45"/><path d="M336.48,133.38h2.20M337.58,132.28v2.20M336.81,132.61l1.54,1.54M336.81,134.15l1.54,-1.54" stroke="#0000ff" stroke-width="0.45"/><path d="M338.61,133.39h2.20M339.71,132.29v2.20M338.94,132.62l1.54,1.54M338.94,134.16l1.54,-1.54" stroke="#0000ff" stroke-width="0.45"/><path d="M340.73,133.39h2.20M341.83,132.29v2.20M341.06,132.62l1.54,1.54M341.06,134.16l1.54,-1.54" stroke="#0000ff" stroke-width="0.45"/><path d="M342.86,133.40h2.20M343.96,132.30v2.20M343.19,132.63l1.54,1.54M343.19,134.17l1.54,-1.54" stroke="#0000ff" stroke-width="0.45"/><path d="M344.98,133.41h2.20M346.08,132.31v2.20M345.31,132.64l1.54,1.54M345.31,134.18l1.54,-1.54" stroke="#0000ff" stroke-width="0.45"/><path d="M347.10,133.41h2.20M348.20,132.31v2.20M347.43,132.64l1.54,1.54M347.43,134.18l1.54,-1.54" stroke="#0000ff" stroke-width="0.45"/><path d="M349.23,133.42h2.20M350.33,132.32v2.20M349.56,132.65l1.54,1.54M349.56,134.19l1.54,-1.54" stroke="#0000ff" stroke-width="0.45"/><path d="M351.35,133.42h2.20M352.45,132.32v2.20M351.68,132.65l1.54,1.54M351.68,134.19l1.54,-1.54" stroke="#0000ff" stroke-width="0.45"/><path d="M353.48,133.43h2.20M354.58,132.33v2.20M353.81,132.66l1.54,1.54M353.81,134.20l1.54,-1.54" stroke="#0000ff" stroke-width="0.45"/><path d="M355.60,133.43h2.20M356.70,132.33v2.20M355.93,132.66l1.54,1.54M355.93,134.20l1.54,-1.54" stroke="#0000ff" stroke-width="0.45"/><path d="M357.72,133.44h2.20M358.82,132.34v2.20M358.05,132.67l1.54,1.54M358.05,134.21l1.54,-1.54" stroke="#0000ff" stroke-width="0.45"/><path d="M359.85,133.45h2.20M360.95,132.35v2.20M360.18,132.68l1.54,1.54M360.18,134.22l1.54,-1.54" stroke="#0000ff" stroke-width="0.45"/><path d="M361.97,133.45h2.20M363.07,132.35v2.20M362.30,132.68l1.54,1.54M362.30,134.22l1.54,-1.54" stroke="#0000ff" stroke-width="0.45"/><path d="M364.10,133.46h2.20M365.20,132.36v2.20M364.43,132.69l1.54,1.54M364.43,134.23l1.54,-1.54" stroke="#0000ff" stroke-width="0.45"/><path d="M366.22,133.46h2.20M367.32,132.36v2.20M366.55,132.69l1.54,1.54M366.55,134.23l1.54,-1.54" stroke="#0000ff" stroke-width="0.45"/><path d="M368.34,133.47h2.20M369.44,132.37v2.20M368.67,132.70l1.54,1.54M368.67,134.24l1.54,-1.54" stroke="#0000ff" stroke-width="0.45"/><path d="M370.47,133.47h2.20M371.57,132.37v2.20M370.80,132.70l1.54,1.54M370.80,134.24l1.54,-1.54" stroke="#0000ff" stroke-width="0.45"/><path d="M372.59,133.48h2.20M373.69,132.38v2.20M372.92,132.71l1.54,1.54M372.92,134.25l1.54,-1.54" stroke="#0000ff" stroke-width="0.45"/><path d="M374.72,133.49h2.20M375.82,132.39v2.20M375.05,132.72l1.54,1.54M375.05,134.26l1.54,-1.54" stroke="#0000ff" stroke-width="0.45"/><path d="M376.84,133.49h2.20M377.94,132.39v2.20M377.17,132.72l1.54,1.54M377.17,134.26l1.54,-1.54" stroke="#0000ff" stroke-width="0.45"/><path d="M378.96,133.50h2.20M380.06,132.40v2.20M379.29,132.73l1.54,1.54M379.29,134.27l1.54,-1.54" stroke="#0000ff" stroke-width="0.45"/><path d="M381.09,136.30h2.20M382.19,135.20v2.20M381.42,135.53l1.54,1.54M381.42,137.07l1.54,-1.54" stroke="#0000ff" stroke-width="0.45"/><path d="M383.21,136.30h2.20M384.31,135.20v2.20M383.54,135.53l1.54,1.54M383.54,137.07l1.54,-1.54" stroke="#0000ff" stroke-width="0.45"/><path d="M385.34,136.30h2.20M386.44,135.20v2.20M385.67,135.53l1.54,1.54M385.67,137.07l1.54,-1.54" stroke="#0000ff" stroke-width="0.45"/><path d="M387.46,136.30h2.20M388.56,135.20v2.20M387.79,135.53l1.54,1.54M387.79,137.07l1.54,-1.54" stroke="#0000ff" stroke-width="0.45"/><path d="M389.58,136.30h2.20M390.68,135.20v2.20M389.91,135.53l1.54,1.54M389.91,137.07l1.54,-1.54" stroke="#0000ff" stroke-width="0.45"/><path d="M391.71,136.30h2.20M392.81,135.20v2.20M392.04,135.53l1.54,1.54M392.04,137.07l1.54,-1.54" stroke="#0000ff" stroke-width="0.45"/><path d="M393.83,136.30h2.20M394.93,135.20v2.20M394.16,135.53l1.54,1.54M394.16,137.07l1.54,-1.54" stroke="#0000ff" stroke-width="0.45"/><path d="M395.96,136.30h2.20M397.06,135.20v2.20M396.29,135.53l1.54,1.54M396.29,137.07l1.54,-1.54" stroke="#0000ff" stroke-width="0.45"/><path d="M398.08,136.30h2.20M399.18,135.20v2.20M398.41,135.53l1.54,1.54M398.41,137.07l1.54,-1.54" stroke="#0000ff" stroke-width="0.45"/><path d="M400.20,136.30h2.20M401.30,135.20v2.20M400.53,135.53l1.54,1.54M400.53,137.07l1.54,-1.54" stroke="#0000ff" stroke-width="0.45"/><path d="M402.33,136.30h2.20M403.43,135.20v2.20M402.66,135.53l1.54,1.54M402.66,137.07l1.54,-1.54" stroke="#0000ff" stroke-width="0.45"/><path d="M404.45,136.30h2.20M405.55,135.20v2.20M404.78,135.53l1.54,1.54M404.78,137.07l1.54,-1.54" stroke="#0000ff" stroke-width="0.45"/><path d="M406.58,136.30h2.20M407.68,135.20v2.20M406.91,135.53l1.54,1.54M406.91,137.07l1.54,-1.54" stroke="#0000ff" stroke-width="0.45"/><path d="M408.70,136.30h2.20M409.80,135.20v2.20M409.03,135.53l1.54,1.54M409.03,137.07l1.54,-1.54" stroke="#0000ff" stroke-width="0.45"/><path d="M410.82,136.30h2.20M411.92,135.20v2.20M411.15,135.53l1.54,1.54M411.15,137.07l1.54,-1.54" stroke="#0000ff" stroke-width="0.45"/><path d="M412.95,136.30h2.20M414.05,135.20v2.20M413.28,135.53l1.54,1.54M413.28,137.07l1.54,-1.54" stroke="#0000ff" stroke-width="0.45"/><path d="M415.07,136.30h2.20M416.17,135.20v2.20M415.40,135.53l1.54,1.54M415.40,137.07l1.54,-1.54" stroke="#0000ff" stroke-width="0.45"/><path d="M417.20,136.30h2.20M418.30,135.20v2.20M417.53,135.53l1.54,1.54M417.53,137.07l1.54,-1.54" stroke="#0000ff" stroke-width="0.45"/><path d="M419.32,136.30h2.20M420.42,135.20v2.20M419.65,135.53l1.54,1.54M419.65,137.07l1.54,-1.54" stroke="#0000ff" stroke-width="0.45"/><path d="M421.44,136.30h2.20M422.54,135.20v2.20M421.77,135.53l1.54,1.54M421.77,137.07l1.54,-1.54" stroke="#0000ff" stroke-width="0.45"/><path d="M423.57,136.30h2.20M424.67,135.20v2.20M423.90,135.53l1.54,1.54M423.90,137.07l1.54,-1.54" stroke="#0000ff" stroke-width="0.45"/><path d="M425.69,136.30h2.20M426.79,135.20v2.20M426.02,135.53l1.54,1.54M426.02,137.07l1.54,-1.54" stroke="#0000ff" stroke-width="0.45"/><path d="M427.82,136.30h2.20M428.92,135.20v2.20M428.15,135.53l1.54,1.54M428.15,137.07l1.54,-1.54" stroke="#0000ff" stroke-width="0.45"/><path d="M429.94,136.30h2.20M431.04,135.20v2.20M430.27,135.53l1.54,1.54M430.27,137.07l1.54,-1.54" stroke="#0000ff" stroke-width="0.45"/><path d="M432.06,136.30h2.20M433.16,135.20v2.20M432.39,135.53l1.54,1.54M432.39,137.07l1.54,-1.54" stroke="#0000ff" stroke-width="0.45"/><path d="M434.19,136.30h2.20M435.29,135.20v2.20M434.52,135.53l1.54,1.54M434.52,137.07l1.54,-1.54" stroke="#0000ff" stroke-width="0.45"/><path d="M436.31,136.30h2.20M437.41,135.20v2.20M436.64,135.53l1.54,1.54M436.64,137.07l1.54,-1.54" stroke="#0000ff" stroke-width="0.45"/><path d="M438.44,136.30h2.20M439.54,135.20v2.20M438.77,135.53l1.54,1.54M438.77,137.07l1.54,-1.54" stroke="#0000ff" stroke-width="0.45"/><path d="M440.56,136.30h2.20M441.66,135.20v2.20M440.89,135.53l1.54,1.54M440.89,137.07l1.54,-1.54" stroke="#0000ff" stroke-width="0.45"/><path d="M442.68,136.30h2.20M443.78,135.20v2.20M443.01,135.53l1.54,1.54M443.01,137.07l1.54,-1.54" stroke="#0000ff" stroke-width="0.45"/><path d="M444.81,136.30h2.20M445.91,135.20v2.20M445.14,135.53l1.54,1.54M445.14,137.07l1.54,-1.54" stroke="#0000ff" stroke-width="0.45"/><path d="M446.93,136.30h2.20M448.03,135.20v2.20M447.26,135.53l1.54,1.54M447.26,137.07l1.54,-1.54" stroke="#0000ff" stroke-width="0.45"/><path d="M449.06,136.30h2.20M450.16,135.20v2.20M449.39,135.53l1.54,1.54M449.39,137.07l1.54,-1.54" stroke="#0000ff" stroke-width="0.45"/><path d="M451.18,136.30h2.20M452.28,135.20v2.20M451.51,135.53l1.54,1.54M451.51,137.07l1.54,-1.54" stroke="#0000ff" stroke-width="0.45"/><path d="M453.30,136.30h2.20M454.40,135.20v2.20M453.63,135.53l1.54,1.54M453.63,137.07l1.54,-1.54" stroke="#0000ff" stroke-width="0.45"/><path d="M455.43,136.30h2.20M456.53,135.20v2.20M455.76,135.53l1.54,1.54M455.76,137.07l1.54,-1.54" stroke="#0000ff" stroke-width="0.45"/><path d="M457.55,136.30h2.20M458.65,135.20v2.20M457.88,135.53l1.54,1.54M457.88,137.07l1.54,-1.54" stroke="#0000ff" stroke-width="0.45"/><path d="M459.68,136.30h2.20M460.78,135.20v2.20M460.01,135.53l1.54,1.54M460.01,137.07l1.54,-1.54" stroke="#0000ff" stroke-width="0.45"/><path d="M461.80,136.30h2.20M462.90,135.20v2.20M462.13,135.53l1.54,1.54M462.13,137.07l1.54,-1.54" stroke="#0000ff" stroke-width="0.45"/><path d="M463.92,136.30h2.20M465.02,135.20v2.20M464.25,135.53l1.54,1.54M464.25,137.07l1.54,-1.54" stroke="#0000ff" stroke-width="0.45"/><path d="M466.05,136.30h2.20M467.15,135.20v2.20M466.38,135.53l1.54,1.54M466.38,137.07l1.54,-1.54" stroke="#0000ff" stroke-width="0.45"/><path d="M468.17,136.30h2.20M469.27,135.20v2.20M468.50,135.53l1.54,1.54M468.50,137.07l1.54,-1.54" stroke="#0000ff" stroke-width="0.45"/><path d="M470.30,136.30h2.20M471.40,135.20v2.20M470.63,135.53l1.54,1.54M470.63,137.07l1.54,-1.54" stroke="#0000ff" stroke-width="0.45"/><path d="M472.42,136.30h2.20M473.52,135.20v2.20M472.75,135.53l1.54,1.54M472.75,137.07l1.54,-1.54" stroke="#0000ff" stroke-width="0.45"/><path d="M474.54,136.30h2.20M475.64,135.20v2.20M474.87,135.53l1.54,1.54M474.87,137.07l1.54,-1.54" stroke="#0000ff" stroke-width="0.45"/><path d="M476.67,136.30h2.20M477.77,135.20v2.20M477.00,135.53l1.54,1.54M477.00,137.07l1.54,-1.54" stroke="#0000ff" stroke-width="0.45"/><path d="M478.79,136.30h2.20M479.89,135.20v2.20M479.12,135.53l1.54,1.54M479.12,137.07l1.54,-1.54" stroke="#0000ff" stroke-width="0.45"/><path d="M480.92,136.30h2.20M482.02,135.20v2.20M481.25,135.53l1.54,1.54M481.25,137.07l1.54,-1.54" stroke="#0000ff" stroke-width="0.45"/><path d="M483.04,136.30h2.20M484.14,135.20v2.20M483.37,135.53l1.54,1.54M483.37,137.07l1.54,-1.54" stroke="#0000ff" stroke-width="0.45"/><path d="M485.16,136.30h2.20M486.26,135.20v2.20M485.49,135.53l1.54,1.54M485.49,137.07l1.54,-1.54" stroke="#0000ff" stroke-width="0.45"/><path d="M487.29,136.30h2.20M488.39,135.20v2.20M487.62,135.53l1.54,1.54M487.62,137.07l1.54,-1.54" stroke="#0000ff" stroke-width="0.45"/><path d="M489.41,136.30h2.20M490.51,135.20v2.20M489.74,135.53l1.54,1.54M489.74,137.07l1.54,-1.54" stroke="#0000ff" stroke-width="0.45"/><path d="M491.54,136.30h2.20M492.64,135.20v2.20M491.87,135.53l1.54,1.54M491.87,137.07l1.54,-1.54" stroke="#0000ff" stroke-width="0.45"/><path d="M493.66,136.30h2.20M494.76,135.20v2.20M493.99,135.53l1.54,1.54M493.99,137.07l1.54,-1.54" stroke="#0000ff" stroke-width="0.45"/><path d="M495.78,136.30h2.20M496.88,135.20v2.20M496.11,135.53l1.54,1.54M496.11,137.07l1.54,-1.54" stroke="#0000ff" stroke-width="0.45"/><path d="M497.91,136.30h2.20M499.01,135.20v2.20M498.24,135.53l1.54,1.54M498.24,137.07l1.54,-1.54" stroke="#0000ff" stroke-width="0.45"/><path d="M500.03,136.30h2.20M501.13,135.20v2.20M500.36,135.53l1.54,1.54M500.36,137.07l1.54,-1.54" stroke="#0000ff" stroke-width="0.45"/><path d="M502.16,136.30h2.20M503.26,135.20v2.20M502.49,135.53l1.54,1.54M502.49,137.07l1.54,-1.54" stroke="#0000ff" stroke-width="0.45"/><path d="M504.28,136.30h2.20M505.38,135.20v2.20M504.61,135.53l1.54,1.54M504.61,137.07l1.54,-1.54" stroke="#0000ff" stroke-width="0.45"/><path d="M506.40,136.30h2.20M507.50,135.20v2.20M506.73,135.53l1.54,1.54M506.73,137.07l1.54,-1.54" stroke="#0000ff" stroke-width="0.45"/><path d="M508.53,136.30h2.20M509.63,135.20v2.20M508.86,135.53l1.54,1.54M508.86,137.07l1.54,-1.54" stroke="#0000ff" stroke-width="0.45"/><path d="M510.65,136.30h2.20M511.75,135.20v2.20M510.98,135.53l1.54,1.54M510.98,137.07l1.54,-1.54" stroke="#0000ff" stroke-width="0.45"/><path d="M512.78,136.30h2.20M513.88,135.20v2.20M513.11,135.53l1.54,1.54M513.11,137.07l1.54,-1.54" stroke="#0000ff" stroke-width="0.45"/><path d="M514.90,136.30h2.20M516.00,135.20v2.20M515.23,135.53l1.54,1.54M515.23,137.07l1.54,-1.54" stroke="#0000ff" stroke-width="0.45"/></g>
<path d="M305.00,74.50 L313.00,74.50 L313.00,90.90 L321.00,90.90 L321.00,116.00 L481.60,116.00 L483.50,120.40 L488.60,124.00 L489.00,139.10 L516.00,139.10" fill="none" stroke="#0000ff" stroke-width="0.52" opacity="0.6"/>
<g opacity="1.0"><path d="M304.72,74.50h2.00M305.72,73.50v2.00" stroke="#0000ff" stroke-width="0.45"/><path d="M306.85,74.50h2.00M307.85,73.50v2.00" stroke="#0000ff" stroke-width="0.45"/><path d="M308.97,74.50h2.00M309.97,73.50v2.00" stroke="#0000ff" stroke-width="0.45"/><path d="M311.10,74.50h2.00M312.10,73.50v2.00" stroke="#0000ff" stroke-width="0.45"/><path d="M313.22,90.90h2.00M314.22,89.90v2.00" stroke="#0000ff" stroke-width="0.45"/><path d="M315.34,90.90h2.00M316.34,89.90v2.00" stroke="#0000ff" stroke-width="0.45"/><path d="M317.47,90.90h2.00M318.47,89.90v2.00" stroke="#0000ff" stroke-width="0.45"/><path d="M319.59,90.90h2.00M320.59,89.90v2.00" stroke="#0000ff" stroke-width="0.45"/><path d="M321.72,116.00h2.00M322.72,115.00v2.00" stroke="#0000ff" stroke-width="0.45"/><path d="M323.84,116.00h2.00M324.84,115.00v2.00" stroke="#0000ff" stroke-width="0.45"/><path d="M325.96,116.00h2.00M326.96,115.00v2.00" stroke="#0000ff" stroke-width="0.45"/><path d="M328.09,116.00h2.00M329.09,115.00v2.00" stroke="#0000ff" stroke-width="0.45"/><path d="M330.21,116.00h2.00M331.21,115.00v2.00" stroke="#0000ff" stroke-width="0.45"/><path d="M332.34,116.00h2.00M333.34,115.00v2.00" stroke="#0000ff" stroke-width="0.45"/><path d="M334.46,116.00h2.00M335.46,115.00v2.00" stroke="#0000ff" stroke-width="0.45"/><path d="M336.58,116.00h2.00M337.58,115.00v2.00" stroke="#0000ff" stroke-width="0.45"/><path d="M338.71,116.00h2.00M339.71,115.00v2.00" stroke="#0000ff" stroke-width="0.45"/><path d="M340.83,116.00h2.00M341.83,115.00v2.00" stroke="#0000ff" stroke-width="0.45"/><path d="M342.96,116.00h2.00M343.96,115.00v2.00" stroke="#0000ff" stroke-width="0.45"/><path d="M345.08,116.00h2.00M346.08,115.00v2.00" stroke="#0000ff" stroke-width="0.45"/><path d="M347.20,116.00h2.00M348.20,115.00v2.00" stroke="#0000ff" stroke-width="0.45"/><path d="M349.33,116.00h2.00M350.33,115.00v2.00" stroke="#0000ff" stroke-width="0.45"/><path d="M351.45,116.00h2.00M352.45,115.00v2.00" stroke="#0000ff" stroke-width="0.45"/><path d="M353.58,116.00h2.00M354.58,115.00v2.00" stroke="#0000ff" stroke-width="0.45"/><path d="M355.70,116.00h2.00M356.70,115.00v2.00" stroke="#0000ff" stroke-width="0.45"/><path d="M357.82,116.00h2.00M358.82,115.00v2.00" stroke="#0000ff" stroke-width="0.45"/><path d="M359.95,116.00h2.00M360.95,115.00v2.00" stroke="#0000ff" stroke-width="0.45"/><path d="M362.07,116.00h2.00M363.07,115.00v2.00" stroke="#0000ff" stroke-width="0.45"/><path d="M364.20,116.00h2.00M365.20,115.00v2.00" stroke="#0000ff" stroke-width="0.45"/><path d="M366.32,116.00h2.00M367.32,115.00v2.00" stroke="#0000ff" stroke-width="0.45"/><path d="M368.44,116.00h2.00M369.44,115.00v2.00" stroke="#0000ff" stroke-width="0.45"/><path d="M370.57,116.00h2.00M371.57,115.00v2.00" stroke="#0000ff" stroke-width="0.45"/><path d="M372.69,116.00h2.00M373.69,115.00v2.00" stroke="#0000ff" stroke-width="0.45"/><path d="M374.82,116.00h2.00M375.82,115.00v2.00" stroke="#0000ff" stroke-width="0.45"/><path d="M376.94,116.00h2.00M377.94,115.00v2.00" stroke="#0000ff" stroke-width="0.45"/><path d="M379.06,116.00h2.00M380.06,115.00v2.00" stroke="#0000ff" stroke-width="0.45"/><path d="M381.19,116.00h2.00M382.19,115.00v2.00" stroke="#0000ff" stroke-width="0.45"/><path d="M383.31,116.00h2.00M384.31,115.00v2.00" stroke="#0000ff" stroke-width="0.45"/><path d="M385.44,116.00h2.00M386.44,115.00v2.00" stroke="#0000ff" stroke-width="0.45"/><path d="M387.56,116.00h2.00M388.56,115.00v2.00" stroke="#0000ff" stroke-width="0.45"/><path d="M389.68,116.00h2.00M390.68,115.00v2.00" stroke="#0000ff" stroke-width="0.45"/><path d="M391.81,116.00h2.00M392.81,115.00v2.00" stroke="#0000ff" stroke-width="0.45"/><path d="M393.93,116.00h2.00M394.93,115.00v2.00" stroke="#0000ff" stroke-width="0.45"/><path d="M396.06,116.00h2.00M397.06,115.00v2.00" stroke="#0000ff" stroke-width="0.45"/><path d="M398.18,116.00h2.00M399.18,115.00v2.00" stroke="#0000ff" stroke-width="0.45"/><path d="M400.30,116.00h2.00M401.30,115.00v2.00" stroke="#0000ff" stroke-width="0.45"/><path d="M402.43,116.00h2.00M403.43,115.00v2.00" stroke="#0000ff" stroke-width="0.45"/><path d="M404.55,116.00h2.00M405.55,115.00v2.00" stroke="#0000ff" stroke-width="0.45"/><path d="M406.68,116.00h2.00M407.68,115.00v2.00" stroke="#0000ff" stroke-width="0.45"/><path d="M408.80,116.00h2.00M409.80,115.00v2.00" stroke="#0000ff" stroke-width="0.45"/><path d="M410.92,116.00h2.00M411.92,115.00v2.00" stroke="#0000ff" stroke-width="0.45"/><path d="M413.05,116.00h2.00M414.05,115.00v2.00" stroke="#0000ff" stroke-width="0.45"/><path d="M415.17,116.00h2.00M416.17,115.00v2.00" stroke="#0000ff" stroke-width="0.45"/><path d="M417.30,116.00h2.00M418.30,115.00v2.00" stroke="#0000ff" stroke-width="0.45"/><path d="M419.42,116.00h2.00M420.42,115.00v2.00" stroke="#0000ff" stroke-width="0.45"/><path d="M421.54,116.00h2.00M422.54,115.00v2.00" stroke="#0000ff" stroke-width="0.45"/><path d="M423.67,116.00h2.00M424.67,115.00v2.00" stroke="#0000ff" stroke-width="0.45"/><path d="M425.79,116.00h2.00M426.79,115.00v2.00" stroke="#0000ff" stroke-width="0.45"/><path d="M427.92,116.00h2.00M428.92,115.00v2.00" stroke="#0000ff" stroke-width="0.45"/><path d="M430.04,116.00h2.00M431.04,115.00v2.00" stroke="#0000ff" stroke-width="0.45"/><path d="M432.16,116.00h2.00M433.16,115.00v2.00" stroke="#0000ff" stroke-width="0.45"/><path d="M434.29,116.00h2.00M435.29,115.00v2.00" stroke="#0000ff" stroke-width="0.45"/><path d="M436.41,116.00h2.00M437.41,115.00v2.00" stroke="#0000ff" stroke-width="0.45"/><path d="M438.54,116.00h2.00M439.54,115.00v2.00" stroke="#0000ff" stroke-width="0.45"/><path d="M440.66,116.00h2.00M441.66,115.00v2.00" stroke="#0000ff" stroke-width="0.45"/><path d="M442.78,116.00h2.00M443.78,115.00v2.00" stroke="#0000ff" stroke-width="0.45"/><path d="M444.91,116.00h2.00M445.91,115.00v2.00" stroke="#0000ff" stroke-width="0.45"/><path d="M447.03,116.00h2.00M448.03,115.00v2.00" stroke="#0000ff" stroke-width="0.45"/><path d="M449.16,116.00h2.00M450.16,115.00v2.00" stroke="#0000ff" stroke-width="0.45"/><path d="M451.28,116.00h2.00M452.28,115.00v2.00" stroke="#0000ff" stroke-width="0.45"/><path d="M453.40,116.00h2.00M454.40,115.00v2.00" stroke="#0000ff" stroke-width="0.45"/><path d="M455.53,116.00h2.00M456.53,115.00v2.00" stroke="#0000ff" stroke-width="0.45"/><path d="M457.65,116.00h2.00M458.65,115.00v2.00" stroke="#0000ff" stroke-width="0.45"/><path d="M459.78,116.00h2.00M460.78,115.00v2.00" stroke="#0000ff" stroke-width="0.45"/><path d="M461.90,116.00h2.00M462.90,115.00v2.00" stroke="#0000ff" stroke-width="0.45"/><path d="M464.02,116.00h2.00M465.02,115.00v2.00" stroke="#0000ff" stroke-width="0.45"/><path d="M466.15,116.00h2.00M467.15,115.00v2.00" stroke="#0000ff" stroke-width="0.45"/><path d="M468.27,116.00h2.00M469.27,115.00v2.00" stroke="#0000ff" stroke-width="0.45"/><path d="M470.40,116.00h2.00M471.40,115.00v2.00" stroke="#0000ff" stroke-width="0.45"/><path d="M472.52,116.00h2.00M473.52,115.00v2.00" stroke="#0000ff" stroke-width="0.45"/><path d="M474.64,116.00h2.00M475.64,115.00v2.00" stroke="#0000ff" stroke-width="0.45"/><path d="M476.77,116.00h2.00M477.77,115.00v2.00" stroke="#0000ff" stroke-width="0.45"/><path d="M478.89,116.00h2.00M479.89,115.00v2.00" stroke="#0000ff" stroke-width="0.45"/><path d="M481.02,116.96h2.00M482.02,115.96v2.00" stroke="#0000ff" stroke-width="0.45"/><path d="M483.14,120.85h2.00M484.14,119.85v2.00" stroke="#0000ff" stroke-width="0.45"/><path d="M485.26,122.35h2.00M486.26,121.35v2.00" stroke="#0000ff" stroke-width="0.45"/><path d="M487.39,123.85h2.00M488.39,122.85v2.00" stroke="#0000ff" stroke-width="0.45"/><path d="M489.51,139.10h2.00M490.51,138.10v2.00" stroke="#0000ff" stroke-width="0.45"/><path d="M491.64,139.10h2.00M492.64,138.10v2.00" stroke="#0000ff" stroke-width="0.45"/><path d="M493.76,139.10h2.00M494.76,138.10v2.00" stroke="#0000ff" stroke-width="0.45"/><path d="M495.88,139.10h2.00M496.88,138.10v2.00" stroke="#0000ff" stroke-width="0.45"/><path d="M498.01,139.10h2.00M499.01,138.10v2.00" stroke="#0000ff" stroke-width="0.45"/><path d="M500.13,139.10h2.00M501.13,138.10v2.00" stroke="#0000ff" stroke-width="0.45"/><path d="M502.26,139.10h2.00M503.26,138.10v2.00" stroke="#0000ff" stroke-width="0.45"/><path d="M504.38,139.10h2.00M505.38,138.10v2.00" stroke="#0000ff" stroke-width="0.45"/><path d="M506.50,139.10h2.00M507.50,138.10v2.00" stroke="#0000ff" stroke-width="0.45"/><path d="M508.63,139.10h2.00M509.63,138.10v2.00" stroke="#0000ff" stroke-width="0.45"/><path d="M510.75,139.10h2.00M511.75,138.10v2.00" stroke="#0000ff" stroke-width="0.45"/><path d="M512.88,139.10h2.00M513.88,138.10v2.00" stroke="#0000ff" stroke-width="0.45"/><path d="M515.00,139.10h2.00M516.00,138.10v2.00" stroke="#0000ff" stroke-width="0.45"/></g>
<rect x="467.8" y="20.3" width="43.19999999999999" height="76.7" fill="#fff" stroke="#9a9a9a" stroke-width="0.8"/>
<path d="M470.0,25.10 H489.0" stroke="#555555" stroke-width="1.0"/>
<text x="490.9" y="27.25" font-size="6.0" text-anchor="start" font-weight="normal" fill="#111" stroke="#111" stroke-width="0.18" textLength="14.3" lengthAdjust="spacingAndGlyphs">IAS 1</text>
<path d="M470.0,32.70 H489.0" stroke="#000000" stroke-width="0.6"/>
<circle cx="479.50" cy="32.70" r="0.75" fill="#000000"/>
<text x="490.9" y="34.85" font-size="6.0" text-anchor="start" font-weight="normal" fill="#111" stroke="#111" stroke-width="0.18" textLength="14.3" lengthAdjust="spacingAndGlyphs">IAS 2</text>
<path d="M470.0,40.30 H489.0" stroke="#7a7a7a" stroke-width="0.7" stroke-dasharray="1,1.2"/>
<path d="M478.50,40.30h2.00M479.50,39.30v2.00" stroke="#7a7a7a" stroke-width="0.45"/>
<text x="490.9" y="42.45" font-size="6.0" text-anchor="start" font-weight="normal" fill="#111" stroke="#111" stroke-width="0.18" textLength="14.3" lengthAdjust="spacingAndGlyphs">IAS 3</text>
<path d="M470.0,47.90 H489.0" stroke="#7a7a7a" stroke-width="0.7" stroke-dasharray="1,1.2"/>
<circle cx="479.50" cy="47.90" r="1.20" fill="none" stroke="#7a7a7a" stroke-width="0.45"/>
<text x="490.9" y="50.05" font-size="6.0" text-anchor="start" font-weight="normal" fill="#111" stroke="#111" stroke-width="0.18" textLength="14.3" lengthAdjust="spacingAndGlyphs">IAS 4</text>
<path d="M470.0,55.50 H489.0" stroke="#ff0000" stroke-width="0.7" stroke-dasharray="1,1.2"/>
<text x="490.9" y="57.65" font-size="6.0" text-anchor="start" font-weight="normal" fill="#111" stroke="#111" stroke-width="0.18" textLength="14.3" lengthAdjust="spacingAndGlyphs">IAS 5</text>
<path d="M470.0,63.10 H489.0" stroke="#ff0000" stroke-width="0.9" stroke-dasharray="1,1.2"/>
<circle cx="479.50" cy="63.10" r="0.75" fill="#ff0000"/>
<text x="490.9" y="65.25" font-size="6.0" text-anchor="start" font-weight="normal" fill="#111" stroke="#111" stroke-width="0.18" textLength="14.3" lengthAdjust="spacingAndGlyphs">IAS 6</text>
<path d="M470.0,70.70 H489.0" stroke="#ff0000" stroke-width="0.6"/>
<circle cx="479.50" cy="70.70" r="1.20" fill="none" stroke="#ff0000" stroke-width="0.45"/>
<text x="490.9" y="72.85" font-size="6.0" text-anchor="start" font-weight="normal" fill="#111" stroke="#111" stroke-width="0.18" textLength="14.3" lengthAdjust="spacingAndGlyphs">IAS 7</text>
<path d="M470.0,78.30 H489.0" stroke="#ff0000" stroke-width="0.6"/>
<path d="M478.50,78.30h2.00M479.50,77.30v2.00M478.80,77.60l1.40,1.40M478.80,79.00l1.40,-1.40" stroke="#ff0000" stroke-width="0.45"/>
<text x="490.9" y="80.45" font-size="6.0" text-anchor="start" font-weight="normal" fill="#111" stroke="#111" stroke-width="0.18" textLength="14.3" lengthAdjust="spacingAndGlyphs">IAS 8</text>
<path d="M470.0,85.90 H489.0" stroke="#0000ff" stroke-width="0.6"/>
<path d="M478.50,85.90h2.00M479.50,84.90v2.00M478.80,85.20l1.40,1.40M478.80,86.60l1.40,-1.40" stroke="#0000ff" stroke-width="0.45"/>
<text x="490.9" y="88.05" font-size="6.0" text-anchor="start" font-weight="normal" fill="#111" stroke="#111" stroke-width="0.18" textLength="14.3" lengthAdjust="spacingAndGlyphs">IAS 9</text>
<path d="M470.0,93.50 H489.0" stroke="#0000ff" stroke-width="0.6"/>
<path d="M478.50,93.50h2.00M479.50,92.50v2.00" stroke="#0000ff" stroke-width="0.45"/>
<text x="490.9" y="95.65" font-size="6.0" text-anchor="start" font-weight="normal" fill="#111" stroke="#111" stroke-width="0.18" textLength="17.589000000000002" lengthAdjust="spacingAndGlyphs">IAS 10</text>
<path d="M26.5,222.6 V401.5 H237.5" fill="none" stroke="#9a9a9a" stroke-width="1"/>
<path d="M26.5,401.00 h2.2" stroke="#9a9a9a" stroke-width="0.8"/>
<text x="23.4" y="403.55" font-size="7.2" text-anchor="end" font-weight="normal" fill="#1e1e1e" stroke="#1e1e1e" stroke-width="0.18" textLength="9.11" lengthAdjust="spacingAndGlyphs">2.2</text>
<path d="M26.5,378.70 h2.2" stroke="#9a9a9a" stroke-width="0.8"/>
<text x="23.4" y="381.25" font-size="7.2" text-anchor="end" font-weight="normal" fill="#1e1e1e" stroke="#1e1e1e" stroke-width="0.18" textLength="9.11" lengthAdjust="spacingAndGlyphs">2.4</text>
<path d="M26.5,356.40 h2.2" stroke="#9a9a9a" stroke-width="0.8"/>
<text x="23.4" y="358.95" font-size="7.2" text-anchor="end" font-weight="normal" fill="#1e1e1e" stroke="#1e1e1e" stroke-width="0.18" textLength="9.11" lengthAdjust="spacingAndGlyphs">2.6</text>
<path d="M26.5,334.10 h2.2" stroke="#9a9a9a" stroke-width="0.8"/>
<text x="23.4" y="336.65" font-size="7.2" text-anchor="end" font-weight="normal" fill="#1e1e1e" stroke="#1e1e1e" stroke-width="0.18" textLength="9.11" lengthAdjust="spacingAndGlyphs">2.8</text>
<path d="M26.5,311.80 h2.2" stroke="#9a9a9a" stroke-width="0.8"/>
<text x="23.4" y="314.35" font-size="7.2" text-anchor="end" font-weight="normal" fill="#1e1e1e" stroke="#1e1e1e" stroke-width="0.18" textLength="3.64" lengthAdjust="spacingAndGlyphs">3</text>
<path d="M26.5,289.50 h2.2" stroke="#9a9a9a" stroke-width="0.8"/>
<text x="23.4" y="292.05" font-size="7.2" text-anchor="end" font-weight="normal" fill="#1e1e1e" stroke="#1e1e1e" stroke-width="0.18" textLength="9.11" lengthAdjust="spacingAndGlyphs">3.2</text>
<path d="M26.5,267.20 h2.2" stroke="#9a9a9a" stroke-width="0.8"/>
<text x="23.4" y="269.75" font-size="7.2" text-anchor="end" font-weight="normal" fill="#1e1e1e" stroke="#1e1e1e" stroke-width="0.18" textLength="9.11" lengthAdjust="spacingAndGlyphs">3.4</text>
<path d="M26.5,244.90 h2.2" stroke="#9a9a9a" stroke-width="0.8"/>
<text x="23.4" y="247.45" font-size="7.2" text-anchor="end" font-weight="normal" fill="#1e1e1e" stroke="#1e1e1e" stroke-width="0.18" textLength="9.11" lengthAdjust="spacingAndGlyphs">3.6</text>
<path d="M26.5,222.60 h2.2" stroke="#9a9a9a" stroke-width="0.8"/>
<text x="23.4" y="225.15" font-size="7.2" text-anchor="end" font-weight="normal" fill="#1e1e1e" stroke="#1e1e1e" stroke-width="0.18" textLength="9.11" lengthAdjust="spacingAndGlyphs">3.8</text>
<path d="M26.50,401 v-2.2" stroke="#9a9a9a" stroke-width="0.8"/>
<text x="26.5" y="411.05" font-size="7.2" text-anchor="middle" font-weight="normal" fill="#1e1e1e" stroke="#1e1e1e" stroke-width="0.18" textLength="3.64" lengthAdjust="spacingAndGlyphs">0</text>
<path d="M68.70,401 v-2.2" stroke="#9a9a9a" stroke-width="0.8"/>
<text x="68.7" y="411.05" font-size="7.2" text-anchor="middle" font-weight="normal" fill="#1e1e1e" stroke="#1e1e1e" stroke-width="0.18" textLength="7.29" lengthAdjust="spacingAndGlyphs">20</text>
<path d="M110.90,401 v-2.2" stroke="#9a9a9a" stroke-width="0.8"/>
<text x="110.9" y="411.05" font-size="7.2" text-anchor="middle" font-weight="normal" fill="#1e1e1e" stroke="#1e1e1e" stroke-width="0.18" textLength="7.29" lengthAdjust="spacingAndGlyphs">40</text>
<path d="M153.10,401 v-2.2" stroke="#9a9a9a" stroke-width="0.8"/>
<text x="153.1" y="411.05" font-size="7.2" text-anchor="middle" font-weight="normal" fill="#1e1e1e" stroke="#1e1e1e" stroke-width="0.18" textLength="7.29" lengthAdjust="spacingAndGlyphs">60</text>
<path d="M195.30,401 v-2.2" stroke="#9a9a9a" stroke-width="0.8"/>
<text x="195.3" y="411.05" font-size="7.2" text-anchor="middle" font-weight="normal" fill="#1e1e1e" stroke="#1e1e1e" stroke-width="0.18" textLength="7.29" lengthAdjust="spacingAndGlyphs">80</text>
<path d="M237.50,401 v-2.2" stroke="#9a9a9a" stroke-width="0.8"/>
<text x="237.5" y="411.05" font-size="7.2" text-anchor="middle" font-weight="normal" fill="#1e1e1e" stroke="#1e1e1e" stroke-width="0.18" textLength="10.93" lengthAdjust="spacingAndGlyphs">100</text>
<text x="133.1" y="220.0" font-size="7.2" text-anchor="middle" font-weight="bold" fill="#111" stroke="#111" stroke-width="0.18" textLength="62.4" lengthAdjust="spacingAndGlyphs">Dataset: Steel.mat</text>
<text x="131.8" y="421.2" font-size="7.2" text-anchor="middle" font-weight="normal" fill="#333" stroke="#333" stroke-width="0.18" textLength="26.5" lengthAdjust="spacingAndGlyphs">Iteration</text>
<text transform="translate(10.4,309.4) rotate(-90)" x="0" y="0" font-size="8.0" text-anchor="middle" font-weight="normal" fill="#333" stroke="#333" stroke-width="0.18" textLength="47.0" lengthAdjust="spacingAndGlyphs">Best Fitness</text>
<text x="27.0" y="220.8" font-size="7.4" fill="#1e1e1e" stroke="#1e1e1e" stroke-width="0.15"><tspan font-size="6.66" stroke-width="0">&#215;</tspan><tspan dx="0.6">10</tspan><tspan font-size="5.03" dx="0.6" dy="-3.70">9</tspan></text>
<path d="M27.00,256.00 L31.00,256.00 L33.90,275.70 L34.50,325.00 L42.80,325.00 L44.70,333.50 L57.80,333.50 L60.60,336.00 L65.30,336.00 L65.30,348.20 L77.60,348.20 L77.60,377.60 L237.50,377.60" fill="none" stroke="#444444" stroke-width="0.8" opacity="0.84"/>
<path d="M27.00,371.00 L65.00,371.00 L66.00,373.80 L237.50,373.80" fill="none" stroke="#000000" stroke-width="0.6" opacity="0.6"/>
<g opacity="1.0"><circle cx="28.61" cy="371.00" r="0.75" fill="#000000"/><circle cx="30.72" cy="371.00" r="0.75" fill="#000000"/><circle cx="32.83" cy="371.00" r="0.75" fill="#000000"/><circle cx="34.94" cy="371.00" r="0.75" fill="#000000"/><circle cx="37.05" cy="371.00" r="0.75" fill="#000000"/><circle cx="39.16" cy="371.00" r="0.75" fill="#000000"/><circle cx="41.27" cy="371.00" r="0.75" fill="#000000"/><circle cx="43.38" cy="371.00" r="0.75" fill="#000000"/><circle cx="45.49" cy="371.00" r="0.75" fill="#000000"/><circle cx="47.60" cy="371.00" r="0.75" fill="#000000"/><circle cx="49.71" cy="371.00" r="0.75" fill="#000000"/><circle cx="51.82" cy="371.00" r="0.75" fill="#000000"/><circle cx="53.93" cy="371.00" r="0.75" fill="#000000"/><circle cx="56.04" cy="371.00" r="0.75" fill="#000000"/><circle cx="58.15" cy="371.00" r="0.75" fill="#000000"/><circle cx="60.26" cy="371.00" r="0.75" fill="#000000"/><circle cx="62.37" cy="371.00" r="0.75" fill="#000000"/><circle cx="64.48" cy="371.00" r="0.75" fill="#000000"/><circle cx="66.59" cy="373.80" r="0.75" fill="#000000"/><circle cx="68.70" cy="373.80" r="0.75" fill="#000000"/><circle cx="70.81" cy="373.80" r="0.75" fill="#000000"/><circle cx="72.92" cy="373.80" r="0.75" fill="#000000"/><circle cx="75.03" cy="373.80" r="0.75" fill="#000000"/><circle cx="77.14" cy="373.80" r="0.75" fill="#000000"/><circle cx="79.25" cy="373.80" r="0.75" fill="#000000"/><circle cx="81.36" cy="373.80" r="0.75" fill="#000000"/><circle cx="83.47" cy="373.80" r="0.75" fill="#000000"/><circle cx="85.58" cy="373.80" r="0.75" fill="#000000"/><circle cx="87.69" cy="373.80" r="0.75" fill="#000000"/><circle cx="89.80" cy="373.80" r="0.75" fill="#000000"/><circle cx="91.91" cy="373.80" r="0.75" fill="#000000"/><circle cx="94.02" cy="373.80" r="0.75" fill="#000000"/><circle cx="96.13" cy="373.80" r="0.75" fill="#000000"/><circle cx="98.24" cy="373.80" r="0.75" fill="#000000"/><circle cx="100.35" cy="373.80" r="0.75" fill="#000000"/><circle cx="102.46" cy="373.80" r="0.75" fill="#000000"/><circle cx="104.57" cy="373.80" r="0.75" fill="#000000"/><circle cx="106.68" cy="373.80" r="0.75" fill="#000000"/><circle cx="108.79" cy="373.80" r="0.75" fill="#000000"/><circle cx="110.90" cy="373.80" r="0.75" fill="#000000"/><circle cx="113.01" cy="373.80" r="0.75" fill="#000000"/><circle cx="115.12" cy="373.80" r="0.75" fill="#000000"/><circle cx="117.23" cy="373.80" r="0.75" fill="#000000"/><circle cx="119.34" cy="373.80" r="0.75" fill="#000000"/><circle cx="121.45" cy="373.80" r="0.75" fill="#000000"/><circle cx="123.56" cy="373.80" r="0.75" fill="#000000"/><circle cx="125.67" cy="373.80" r="0.75" fill="#000000"/><circle cx="127.78" cy="373.80" r="0.75" fill="#000000"/><circle cx="129.89" cy="373.80" r="0.75" fill="#000000"/><circle cx="132.00" cy="373.80" r="0.75" fill="#000000"/><circle cx="134.11" cy="373.80" r="0.75" fill="#000000"/><circle cx="136.22" cy="373.80" r="0.75" fill="#000000"/><circle cx="138.33" cy="373.80" r="0.75" fill="#000000"/><circle cx="140.44" cy="373.80" r="0.75" fill="#000000"/><circle cx="142.55" cy="373.80" r="0.75" fill="#000000"/><circle cx="144.66" cy="373.80" r="0.75" fill="#000000"/><circle cx="146.77" cy="373.80" r="0.75" fill="#000000"/><circle cx="148.88" cy="373.80" r="0.75" fill="#000000"/><circle cx="150.99" cy="373.80" r="0.75" fill="#000000"/><circle cx="153.10" cy="373.80" r="0.75" fill="#000000"/><circle cx="155.21" cy="373.80" r="0.75" fill="#000000"/><circle cx="157.32" cy="373.80" r="0.75" fill="#000000"/><circle cx="159.43" cy="373.80" r="0.75" fill="#000000"/><circle cx="161.54" cy="373.80" r="0.75" fill="#000000"/><circle cx="163.65" cy="373.80" r="0.75" fill="#000000"/><circle cx="165.76" cy="373.80" r="0.75" fill="#000000"/><circle cx="167.87" cy="373.80" r="0.75" fill="#000000"/><circle cx="169.98" cy="373.80" r="0.75" fill="#000000"/><circle cx="172.09" cy="373.80" r="0.75" fill="#000000"/><circle cx="174.20" cy="373.80" r="0.75" fill="#000000"/><circle cx="176.31" cy="373.80" r="0.75" fill="#000000"/><circle cx="178.42" cy="373.80" r="0.75" fill="#000000"/><circle cx="180.53" cy="373.80" r="0.75" fill="#000000"/><circle cx="182.64" cy="373.80" r="0.75" fill="#000000"/><circle cx="184.75" cy="373.80" r="0.75" fill="#000000"/><circle cx="186.86" cy="373.80" r="0.75" fill="#000000"/><circle cx="188.97" cy="373.80" r="0.75" fill="#000000"/><circle cx="191.08" cy="373.80" r="0.75" fill="#000000"/><circle cx="193.19" cy="373.80" r="0.75" fill="#000000"/><circle cx="195.30" cy="373.80" r="0.75" fill="#000000"/><circle cx="197.41" cy="373.80" r="0.75" fill="#000000"/><circle cx="199.52" cy="373.80" r="0.75" fill="#000000"/><circle cx="201.63" cy="373.80" r="0.75" fill="#000000"/><circle cx="203.74" cy="373.80" r="0.75" fill="#000000"/><circle cx="205.85" cy="373.80" r="0.75" fill="#000000"/><circle cx="207.96" cy="373.80" r="0.75" fill="#000000"/><circle cx="210.07" cy="373.80" r="0.75" fill="#000000"/><circle cx="212.18" cy="373.80" r="0.75" fill="#000000"/><circle cx="214.29" cy="373.80" r="0.75" fill="#000000"/><circle cx="216.40" cy="373.80" r="0.75" fill="#000000"/><circle cx="218.51" cy="373.80" r="0.75" fill="#000000"/><circle cx="220.62" cy="373.80" r="0.75" fill="#000000"/><circle cx="222.73" cy="373.80" r="0.75" fill="#000000"/><circle cx="224.84" cy="373.80" r="0.75" fill="#000000"/><circle cx="226.95" cy="373.80" r="0.75" fill="#000000"/><circle cx="229.06" cy="373.80" r="0.75" fill="#000000"/><circle cx="231.17" cy="373.80" r="0.75" fill="#000000"/><circle cx="233.28" cy="373.80" r="0.75" fill="#000000"/><circle cx="235.39" cy="373.80" r="0.75" fill="#000000"/><circle cx="237.50" cy="373.80" r="0.75" fill="#000000"/></g>
<path d="M27.00,230.70 L43.70,230.70 L48.00,267.00 L50.80,294.00 L53.60,294.00 L55.00,322.00 L56.40,343.00 L57.00,361.20 L60.00,361.20" fill="none" stroke="#000000" stroke-width="0.52" stroke-dasharray="1,1.2" opacity="0.6"/>
<g opacity="1.0"><circle cx="28.61" cy="230.70" r="0.68" fill="#000000"/><circle cx="30.72" cy="230.70" r="0.68" fill="#000000"/><circle cx="32.83" cy="230.70" r="0.68" fill="#000000"/><circle cx="34.94" cy="230.70" r="0.68" fill="#000000"/><circle cx="37.05" cy="230.70" r="0.68" fill="#000000"/><circle cx="39.16" cy="230.70" r="0.68" fill="#000000"/><circle cx="41.27" cy="230.70" r="0.68" fill="#000000"/><circle cx="43.38" cy="230.70" r="0.68" fill="#000000"/><circle cx="45.49" cy="245.81" r="0.68" fill="#000000"/><circle cx="47.60" cy="263.62" r="0.68" fill="#000000"/><circle cx="49.71" cy="283.49" r="0.68" fill="#000000"/><circle cx="51.82" cy="294.00" r="0.68" fill="#000000"/><circle cx="53.93" cy="300.60" r="0.68" fill="#000000"/><circle cx="56.04" cy="337.60" r="0.68" fill="#000000"/><circle cx="58.15" cy="361.20" r="0.68" fill="#000000"/></g>
<path d="M27.00,300.00 L30.00,310.00 L32.50,315.00 L46.50,315.00 L46.50,357.60 L56.90,357.60 L57.00,360.00 L112.30,360.00 L112.30,379.30 L184.00,379.30 L184.00,382.40 L237.50,382.40" fill="none" stroke="#000000" stroke-width="0.52" stroke-dasharray="1,1.2" opacity="0.6"/>
<g opacity="1.0"><circle cx="28.61" cy="305.37" r="1.30" fill="none" stroke="#000000" stroke-width="0.45"/><circle cx="30.72" cy="311.44" r="1.30" fill="none" stroke="#000000" stroke-width="0.45"/><circle cx="32.83" cy="315.00" r="1.30" fill="none" stroke="#000000" stroke-width="0.45"/><circle cx="34.94" cy="315.00" r="1.30" fill="none" stroke="#000000" stroke-width="0.45"/><circle cx="37.05" cy="315.00" r="1.30" fill="none" stroke="#000000" stroke-width="0.45"/><circle cx="39.16" cy="315.00" r="1.30" fill="none" stroke="#000000" stroke-width="0.45"/><circle cx="41.27" cy="315.00" r="1.30" fill="none" stroke="#000000" stroke-width="0.45"/><circle cx="43.38" cy="315.00" r="1.30" fill="none" stroke="#000000" stroke-width="0.45"/><circle cx="45.49" cy="315.00" r="1.30" fill="none" stroke="#000000" stroke-width="0.45"/><circle cx="47.60" cy="357.60" r="1.30" fill="none" stroke="#000000" stroke-width="0.45"/><circle cx="49.71" cy="357.60" r="1.30" fill="none" stroke="#000000" stroke-width="0.45"/><circle cx="51.82" cy="357.60" r="1.30" fill="none" stroke="#000000" stroke-width="0.45"/><circle cx="53.93" cy="357.60" r="1.30" fill="none" stroke="#000000" stroke-width="0.45"/><circle cx="56.04" cy="357.60" r="1.30" fill="none" stroke="#000000" stroke-width="0.45"/><circle cx="58.15" cy="360.00" r="1.30" fill="none" stroke="#000000" stroke-width="0.45"/><circle cx="60.26" cy="360.00" r="1.30" fill="none" stroke="#000000" stroke-width="0.45"/><circle cx="62.37" cy="360.00" r="1.30" fill="none" stroke="#000000" stroke-width="0.45"/><circle cx="64.48" cy="360.00" r="1.30" fill="none" stroke="#000000" stroke-width="0.45"/><circle cx="66.59" cy="360.00" r="1.30" fill="none" stroke="#000000" stroke-width="0.45"/><circle cx="68.70" cy="360.00" r="1.30" fill="none" stroke="#000000" stroke-width="0.45"/><circle cx="70.81" cy="360.00" r="1.30" fill="none" stroke="#000000" stroke-width="0.45"/><circle cx="72.92" cy="360.00" r="1.30" fill="none" stroke="#000000" stroke-width="0.45"/><circle cx="75.03" cy="360.00" r="1.30" fill="none" stroke="#000000" stroke-width="0.45"/><circle cx="77.14" cy="360.00" r="1.30" fill="none" stroke="#000000" stroke-width="0.45"/><circle cx="79.25" cy="360.00" r="1.30" fill="none" stroke="#000000" stroke-width="0.45"/><circle cx="81.36" cy="360.00" r="1.30" fill="none" stroke="#000000" stroke-width="0.45"/><circle cx="83.47" cy="360.00" r="1.30" fill="none" stroke="#000000" stroke-width="0.45"/><circle cx="85.58" cy="360.00" r="1.30" fill="none" stroke="#000000" stroke-width="0.45"/><circle cx="87.69" cy="360.00" r="1.30" fill="none" stroke="#000000" stroke-width="0.45"/><circle cx="89.80" cy="360.00" r="1.30" fill="none" stroke="#000000" stroke-width="0.45"/><circle cx="91.91" cy="360.00" r="1.30" fill="none" stroke="#000000" stroke-width="0.45"/><circle cx="94.02" cy="360.00" r="1.30" fill="none" stroke="#000000" stroke-width="0.45"/><circle cx="96.13" cy="360.00" r="1.30" fill="none" stroke="#000000" stroke-width="0.45"/><circle cx="98.24" cy="360.00" r="1.30" fill="none" stroke="#000000" stroke-width="0.45"/><circle cx="100.35" cy="360.00" r="1.30" fill="none" stroke="#000000" stroke-width="0.45"/><circle cx="102.46" cy="360.00" r="1.30" fill="none" stroke="#000000" stroke-width="0.45"/><circle cx="104.57" cy="360.00" r="1.30" fill="none" stroke="#000000" stroke-width="0.45"/><circle cx="106.68" cy="360.00" r="1.30" fill="none" stroke="#000000" stroke-width="0.45"/><circle cx="108.79" cy="360.00" r="1.30" fill="none" stroke="#000000" stroke-width="0.45"/><circle cx="110.90" cy="360.00" r="1.30" fill="none" stroke="#000000" stroke-width="0.45"/><circle cx="113.01" cy="379.30" r="1.30" fill="none" stroke="#000000" stroke-width="0.45"/><circle cx="115.12" cy="379.30" r="1.30" fill="none" stroke="#000000" stroke-width="0.45"/><circle cx="117.23" cy="379.30" r="1.30" fill="none" stroke="#000000" stroke-width="0.45"/><circle cx="119.34" cy="379.30" r="1.30" fill="none" stroke="#000000" stroke-width="0.45"/><circle cx="121.45" cy="379.30" r="1.30" fill="none" stroke="#000000" stroke-width="0.45"/><circle cx="123.56" cy="379.30" r="1.30" fill="none" stroke="#000000" stroke-width="0.45"/><circle cx="125.67" cy="379.30" r="1.30" fill="none" stroke="#000000" stroke-width="0.45"/><circle cx="127.78" cy="379.30" r="1.30" fill="none" stroke="#000000" stroke-width="0.45"/><circle cx="129.89" cy="379.30" r="1.30" fill="none" stroke="#000000" stroke-width="0.45"/><circle cx="132.00" cy="379.30" r="1.30" fill="none" stroke="#000000" stroke-width="0.45"/><circle cx="134.11" cy="379.30" r="1.30" fill="none" stroke="#000000" stroke-width="0.45"/><circle cx="136.22" cy="379.30" r="1.30" fill="none" stroke="#000000" stroke-width="0.45"/><circle cx="138.33" cy="379.30" r="1.30" fill="none" stroke="#000000" stroke-width="0.45"/><circle cx="140.44" cy="379.30" r="1.30" fill="none" stroke="#000000" stroke-width="0.45"/><circle cx="142.55" cy="379.30" r="1.30" fill="none" stroke="#000000" stroke-width="0.45"/><circle cx="144.66" cy="379.30" r="1.30" fill="none" stroke="#000000" stroke-width="0.45"/><circle cx="146.77" cy="379.30" r="1.30" fill="none" stroke="#000000" stroke-width="0.45"/><circle cx="148.88" cy="379.30" r="1.30" fill="none" stroke="#000000" stroke-width="0.45"/><circle cx="150.99" cy="379.30" r="1.30" fill="none" stroke="#000000" stroke-width="0.45"/><circle cx="153.10" cy="379.30" r="1.30" fill="none" stroke="#000000" stroke-width="0.45"/><circle cx="155.21" cy="379.30" r="1.30" fill="none" stroke="#000000" stroke-width="0.45"/><circle cx="157.32" cy="379.30" r="1.30" fill="none" stroke="#000000" stroke-width="0.45"/><circle cx="159.43" cy="379.30" r="1.30" fill="none" stroke="#000000" stroke-width="0.45"/><circle cx="161.54" cy="379.30" r="1.30" fill="none" stroke="#000000" stroke-width="0.45"/><circle cx="163.65" cy="379.30" r="1.30" fill="none" stroke="#000000" stroke-width="0.45"/><circle cx="165.76" cy="379.30" r="1.30" fill="none" stroke="#000000" stroke-width="0.45"/><circle cx="167.87" cy="379.30" r="1.30" fill="none" stroke="#000000" stroke-width="0.45"/><circle cx="169.98" cy="379.30" r="1.30" fill="none" stroke="#000000" stroke-width="0.45"/><circle cx="172.09" cy="379.30" r="1.30" fill="none" stroke="#000000" stroke-width="0.45"/><circle cx="174.20" cy="379.30" r="1.30" fill="none" stroke="#000000" stroke-width="0.45"/><circle cx="176.31" cy="379.30" r="1.30" fill="none" stroke="#000000" stroke-width="0.45"/><circle cx="178.42" cy="379.30" r="1.30" fill="none" stroke="#000000" stroke-width="0.45"/><circle cx="180.53" cy="379.30" r="1.30" fill="none" stroke="#000000" stroke-width="0.45"/><circle cx="182.64" cy="379.30" r="1.30" fill="none" stroke="#000000" stroke-width="0.45"/><circle cx="184.75" cy="382.40" r="1.30" fill="none" stroke="#000000" stroke-width="0.45"/><circle cx="186.86" cy="382.40" r="1.30" fill="none" stroke="#000000" stroke-width="0.45"/><circle cx="188.97" cy="382.40" r="1.30" fill="none" stroke="#000000" stroke-width="0.45"/><circle cx="191.08" cy="382.40" r="1.30" fill="none" stroke="#000000" stroke-width="0.45"/><circle cx="193.19" cy="382.40" r="1.30" fill="none" stroke="#000000" stroke-width="0.45"/><circle cx="195.30" cy="382.40" r="1.30" fill="none" stroke="#000000" stroke-width="0.45"/><circle cx="197.41" cy="382.40" r="1.30" fill="none" stroke="#000000" stroke-width="0.45"/><circle cx="199.52" cy="382.40" r="1.30" fill="none" stroke="#000000" stroke-width="0.45"/><circle cx="201.63" cy="382.40" r="1.30" fill="none" stroke="#000000" stroke-width="0.45"/><circle cx="203.74" cy="382.40" r="1.30" fill="none" stroke="#000000" stroke-width="0.45"/><circle cx="205.85" cy="382.40" r="1.30" fill="none" stroke="#000000" stroke-width="0.45"/><circle cx="207.96" cy="382.40" r="1.30" fill="none" stroke="#000000" stroke-width="0.45"/><circle cx="210.07" cy="382.40" r="1.30" fill="none" stroke="#000000" stroke-width="0.45"/><circle cx="212.18" cy="382.40" r="1.30" fill="none" stroke="#000000" stroke-width="0.45"/><circle cx="214.29" cy="382.40" r="1.30" fill="none" stroke="#000000" stroke-width="0.45"/><circle cx="216.40" cy="382.40" r="1.30" fill="none" stroke="#000000" stroke-width="0.45"/><circle cx="218.51" cy="382.40" r="1.30" fill="none" stroke="#000000" stroke-width="0.45"/><circle cx="220.62" cy="382.40" r="1.30" fill="none" stroke="#000000" stroke-width="0.45"/><circle cx="222.73" cy="382.40" r="1.30" fill="none" stroke="#000000" stroke-width="0.45"/><circle cx="224.84" cy="382.40" r="1.30" fill="none" stroke="#000000" stroke-width="0.45"/><circle cx="226.95" cy="382.40" r="1.30" fill="none" stroke="#000000" stroke-width="0.45"/><circle cx="229.06" cy="382.40" r="1.30" fill="none" stroke="#000000" stroke-width="0.45"/><circle cx="231.17" cy="382.40" r="1.30" fill="none" stroke="#000000" stroke-width="0.45"/><circle cx="233.28" cy="382.40" r="1.30" fill="none" stroke="#000000" stroke-width="0.45"/><circle cx="235.39" cy="382.40" r="1.30" fill="none" stroke="#000000" stroke-width="0.45"/><circle cx="237.50" cy="382.40" r="1.30" fill="none" stroke="#000000" stroke-width="0.45"/></g>
<path d="M30.60,280.00 L30.60,363.50 L41.60,363.50 L41.60,367.00 L66.30,367.00 L66.30,369.00 L237.50,369.00" fill="none" stroke="#ff0000" stroke-width="0.6" stroke-dasharray="1,1.2" opacity="0.6"/>
<path d="M28.00,300.00 L30.00,358.20 L237.50,358.20" fill="none" stroke="#ff0000" stroke-width="0.52" stroke-dasharray="1,1.2" opacity="0.6"/>
<g opacity="1.0"><circle cx="28.61" cy="317.75" r="0.68" fill="#ff0000"/><circle cx="30.72" cy="358.20" r="0.68" fill="#ff0000"/><circle cx="32.83" cy="358.20" r="0.68" fill="#ff0000"/><circle cx="34.94" cy="358.20" r="0.68" fill="#ff0000"/><circle cx="37.05" cy="358.20" r="0.68" fill="#ff0000"/><circle cx="39.16" cy="358.20" r="0.68" fill="#ff0000"/><circle cx="41.27" cy="358.20" r="0.68" fill="#ff0000"/><circle cx="43.38" cy="358.20" r="0.68" fill="#ff0000"/><circle cx="45.49" cy="358.20" r="0.68" fill="#ff0000"/><circle cx="47.60" cy="358.20" r="0.68" fill="#ff0000"/><circle cx="49.71" cy="358.20" r="0.68" fill="#ff0000"/><circle cx="51.82" cy="358.20" r="0.68" fill="#ff0000"/><circle cx="53.93" cy="358.20" r="0.68" fill="#ff0000"/><circle cx="56.04" cy="358.20" r="0.68" fill="#ff0000"/><circle cx="58.15" cy="358.20" r="0.68" fill="#ff0000"/><circle cx="60.26" cy="358.20" r="0.68" fill="#ff0000"/><circle cx="62.37" cy="358.20" r="0.68" fill="#ff0000"/><circle cx="64.48" cy="358.20" r="0.68" fill="#ff0000"/><circle cx="66.59" cy="358.20" r="0.68" fill="#ff0000"/><circle cx="68.70" cy="358.20" r="0.68" fill="#ff0000"/><circle cx="70.81" cy="358.20" r="0.68" fill="#ff0000"/><circle cx="72.92" cy="358.20" r="0.68" fill="#ff0000"/><circle cx="75.03" cy="358.20" r="0.68" fill="#ff0000"/><circle cx="77.14" cy="358.20" r="0.68" fill="#ff0000"/><circle cx="79.25" cy="358.20" r="0.68" fill="#ff0000"/><circle cx="81.36" cy="358.20" r="0.68" fill="#ff0000"/><circle cx="83.47" cy="358.20" r="0.68" fill="#ff0000"/><circle cx="85.58" cy="358.20" r="0.68" fill="#ff0000"/><circle cx="87.69" cy="358.20" r="0.68" fill="#ff0000"/><circle cx="89.80" cy="358.20" r="0.68" fill="#ff0000"/><circle cx="91.91" cy="358.20" r="0.68" fill="#ff0000"/><circle cx="94.02" cy="358.20" r="0.68" fill="#ff0000"/><circle cx="96.13" cy="358.20" r="0.68" fill="#ff0000"/><circle cx="98.24" cy="358.20" r="0.68" fill="#ff0000"/><circle cx="100.35" cy="358.20" r="0.68" fill="#ff0000"/><circle cx="102.46" cy="358.20" r="0.68" fill="#ff0000"/><circle cx="104.57" cy="358.20" r="0.68" fill="#ff0000"/><circle cx="106.68" cy="358.20" r="0.68" fill="#ff0000"/><circle cx="108.79" cy="358.20" r="0.68" fill="#ff0000"/><circle cx="110.90" cy="358.20" r="0.68" fill="#ff0000"/><circle cx="113.01" cy="358.20" r="0.68" fill="#ff0000"/><circle cx="115.12" cy="358.20" r="0.68" fill="#ff0000"/><circle cx="117.23" cy="358.20" r="0.68" fill="#ff0000"/><circle cx="119.34" cy="358.20" r="0.68" fill="#ff0000"/><circle cx="121.45" cy="358.20" r="0.68" fill="#ff0000"/><circle cx="123.56" cy="358.20" r="0.68" fill="#ff0000"/><circle cx="125.67" cy="358.20" r="0.68" fill="#ff0000"/><circle cx="127.78" cy="358.20" r="0.68" fill="#ff0000"/><circle cx="129.89" cy="358.20" r="0.68" fill="#ff0000"/><circle cx="132.00" cy="358.20" r="0.68" fill="#ff0000"/><circle cx="134.11" cy="358.20" r="0.68" fill="#ff0000"/><circle cx="136.22" cy="358.20" r="0.68" fill="#ff0000"/><circle cx="138.33" cy="358.20" r="0.68" fill="#ff0000"/><circle cx="140.44" cy="358.20" r="0.68" fill="#ff0000"/><circle cx="142.55" cy="358.20" r="0.68" fill="#ff0000"/><circle cx="144.66" cy="358.20" r="0.68" fill="#ff0000"/><circle cx="146.77" cy="358.20" r="0.68" fill="#ff0000"/><circle cx="148.88" cy="358.20" r="0.68" fill="#ff0000"/><circle cx="150.99" cy="358.20" r="0.68" fill="#ff0000"/><circle cx="153.10" cy="358.20" r="0.68" fill="#ff0000"/><circle cx="155.21" cy="358.20" r="0.68" fill="#ff0000"/><circle cx="157.32" cy="358.20" r="0.68" fill="#ff0000"/><circle cx="159.43" cy="358.20" r="0.68" fill="#ff0000"/><circle cx="161.54" cy="358.20" r="0.68" fill="#ff0000"/><circle cx="163.65" cy="358.20" r="0.68" fill="#ff0000"/><circle cx="165.76" cy="358.20" r="0.68" fill="#ff0000"/><circle cx="167.87" cy="358.20" r="0.68" fill="#ff0000"/><circle cx="169.98" cy="358.20" r="0.68" fill="#ff0000"/><circle cx="172.09" cy="358.20" r="0.68" fill="#ff0000"/><circle cx="174.20" cy="358.20" r="0.68" fill="#ff0000"/><circle cx="176.31" cy="358.20" r="0.68" fill="#ff0000"/><circle cx="178.42" cy="358.20" r="0.68" fill="#ff0000"/><circle cx="180.53" cy="358.20" r="0.68" fill="#ff0000"/><circle cx="182.64" cy="358.20" r="0.68" fill="#ff0000"/><circle cx="184.75" cy="358.20" r="0.68" fill="#ff0000"/><circle cx="186.86" cy="358.20" r="0.68" fill="#ff0000"/><circle cx="188.97" cy="358.20" r="0.68" fill="#ff0000"/><circle cx="191.08" cy="358.20" r="0.68" fill="#ff0000"/><circle cx="193.19" cy="358.20" r="0.68" fill="#ff0000"/><circle cx="195.30" cy="358.20" r="0.68" fill="#ff0000"/><circle cx="197.41" cy="358.20" r="0.68" fill="#ff0000"/><circle cx="199.52" cy="358.20" r="0.68" fill="#ff0000"/><circle cx="201.63" cy="358.20" r="0.68" fill="#ff0000"/><circle cx="203.74" cy="358.20" r="0.68" fill="#ff0000"/><circle cx="205.85" cy="358.20" r="0.68" fill="#ff0000"/><circle cx="207.96" cy="358.20" r="0.68" fill="#ff0000"/><circle cx="210.07" cy="358.20" r="0.68" fill="#ff0000"/><circle cx="212.18" cy="358.20" r="0.68" fill="#ff0000"/><circle cx="214.29" cy="358.20" r="0.68" fill="#ff0000"/><circle cx="216.40" cy="358.20" r="0.68" fill="#ff0000"/><circle cx="218.51" cy="358.20" r="0.68" fill="#ff0000"/><circle cx="220.62" cy="358.20" r="0.68" fill="#ff0000"/><circle cx="222.73" cy="358.20" r="0.68" fill="#ff0000"/><circle cx="224.84" cy="358.20" r="0.68" fill="#ff0000"/><circle cx="226.95" cy="358.20" r="0.68" fill="#ff0000"/><circle cx="229.06" cy="358.20" r="0.68" fill="#ff0000"/><circle cx="231.17" cy="358.20" r="0.68" fill="#ff0000"/><circle cx="233.28" cy="358.20" r="0.68" fill="#ff0000"/><circle cx="235.39" cy="358.20" r="0.68" fill="#ff0000"/><circle cx="237.50" cy="358.20" r="0.68" fill="#ff0000"/></g>
<path d="M27.00,281.00 L29.60,282.00 L32.50,298.00 L34.30,347.30 L97.00,347.30 L97.60,365.50 L237.50,365.50" fill="none" stroke="#ff0000" stroke-width="0.52" opacity="0.6"/>
<g opacity="1.0"><path d="M27.65,280.42L29.81,281.62L27.65,282.82Z" fill="none" stroke="#ff0000" stroke-width="0.45"/><path d="M29.76,286.98L31.92,288.18L29.76,289.38Z" fill="none" stroke="#ff0000" stroke-width="0.45"/><path d="M31.87,305.84L34.03,307.04L31.87,308.24Z" fill="none" stroke="#ff0000" stroke-width="0.45"/><path d="M33.98,346.10L36.14,347.30L33.98,348.50Z" fill="none" stroke="#ff0000" stroke-width="0.45"/><path d="M36.09,346.10L38.25,347.30L36.09,348.50Z" fill="none" stroke="#ff0000" stroke-width="0.45"/><path d="M38.20,346.10L40.36,347.30L38.20,348.50Z" fill="none" stroke="#ff0000" stroke-width="0.45"/><path d="M40.31,346.10L42.47,347.30L40.31,348.50Z" fill="none" stroke="#ff0000" stroke-width="0.45"/><path d="M42.42,346.10L44.58,347.30L42.42,348.50Z" fill="none" stroke="#ff0000" stroke-width="0.45"/><path d="M44.53,346.10L46.69,347.30L44.53,348.50Z" fill="none" stroke="#ff0000" stroke-width="0.45"/><path d="M46.64,346.10L48.80,347.30L46.64,348.50Z" fill="none" stroke="#ff0000" stroke-width="0.45"/><path d="M48.75,346.10L50.91,347.30L48.75,348.50Z" fill="none" stroke="#ff0000" stroke-width="0.45"/><path d="M50.86,346.10L53.02,347.30L50.86,348.50Z" fill="none" stroke="#ff0000" stroke-width="0.45"/><path d="M52.97,346.10L55.13,347.30L52.97,348.50Z" fill="none" stroke="#ff0000" stroke-width="0.45"/><path d="M55.08,346.10L57.24,347.30L55.08,348.50Z" fill="none" stroke="#ff0000" stroke-width="0.45"/><path d="M57.19,346.10L59.35,347.30L57.19,348.50Z" fill="none" stroke="#ff0000" stroke-width="0.45"/><path d="M59.30,346.10L61.46,347.30L59.30,348.50Z" fill="none" stroke="#ff0000" stroke-width="0.45"/><path d="M61.41,346.10L63.57,347.30L61.41,348.50Z" fill="none" stroke="#ff0000" stroke-width="0.45"/><path d="M63.52,346.10L65.68,347.30L63.52,348.50Z" fill="none" stroke="#ff0000" stroke-width="0.45"/><path d="M65.63,346.10L67.79,347.30L65.63,348.50Z" fill="none" stroke="#ff0000" stroke-width="0.45"/><path d="M67.74,346.10L69.90,347.30L67.74,348.50Z" fill="none" stroke="#ff0000" stroke-width="0.45"/><path d="M69.85,346.10L72.01,347.30L69.85,348.50Z" fill="none" stroke="#ff0000" stroke-width="0.45"/><path d="M71.96,346.10L74.12,347.30L71.96,348.50Z" fill="none" stroke="#ff0000" stroke-width="0.45"/><path d="M74.07,346.10L76.23,347.30L74.07,348.50Z" fill="none" stroke="#ff0000" stroke-width="0.45"/><path d="M76.18,346.10L78.34,347.30L76.18,348.50Z" fill="none" stroke="#ff0000" stroke-width="0.45"/><path d="M78.29,346.10L80.45,347.30L78.29,348.50Z" fill="none" stroke="#ff0000" stroke-width="0.45"/><path d="M80.40,346.10L82.56,347.30L80.40,348.50Z" fill="none" stroke="#ff0000" stroke-width="0.45"/><path d="M82.51,346.10L84.67,347.30L82.51,348.50Z" fill="none" stroke="#ff0000" stroke-width="0.45"/><path d="M84.62,346.10L86.78,347.30L84.62,348.50Z" fill="none" stroke="#ff0000" stroke-width="0.45"/><path d="M86.73,346.10L88.89,347.30L86.73,348.50Z" fill="none" stroke="#ff0000" stroke-width="0.45"/><path d="M88.84,346.10L91.00,347.30L88.84,348.50Z" fill="none" stroke="#ff0000" stroke-width="0.45"/><path d="M90.95,346.10L93.11,347.30L90.95,348.50Z" fill="none" stroke="#ff0000" stroke-width="0.45"/><path d="M93.06,346.10L95.22,347.30L93.06,348.50Z" fill="none" stroke="#ff0000" stroke-width="0.45"/><path d="M95.17,346.10L97.33,347.30L95.17,348.50Z" fill="none" stroke="#ff0000" stroke-width="0.45"/><path d="M97.28,364.30L99.44,365.50L97.28,366.70Z" fill="none" stroke="#ff0000" stroke-width="0.45"/><path d="M99.39,364.30L101.55,365.50L99.39,366.70Z" fill="none" stroke="#ff0000" stroke-width="0.45"/><path d="M101.50,364.30L103.66,365.50L101.50,366.70Z" fill="none" stroke="#ff0000" stroke-width="0.45"/><path d="M103.61,364.30L105.77,365.50L103.61,366.70Z" fill="none" stroke="#ff0000" stroke-width="0.45"/><path d="M105.72,364.30L107.88,365.50L105.72,366.70Z" fill="none" stroke="#ff0000" stroke-width="0.45"/><path d="M107.83,364.30L109.99,365.50L107.83,366.70Z" fill="none" stroke="#ff0000" stroke-width="0.45"/><path d="M109.94,364.30L112.10,365.50L109.94,366.70Z" fill="none" stroke="#ff0000" stroke-width="0.45"/><path d="M112.05,364.30L114.21,365.50L112.05,366.70Z" fill="none" stroke="#ff0000" stroke-width="0.45"/><path d="M114.16,364.30L116.32,365.50L114.16,366.70Z" fill="none" stroke="#ff0000" stroke-width="0.45"/><path d="M116.27,364.30L118.43,365.50L116.27,366.70Z" fill="none" stroke="#ff0000" stroke-width="0.45"/><path d="M118.38,364.30L120.54,365.50L118.38,366.70Z" fill="none" stroke="#ff0000" stroke-width="0.45"/><path d="M120.49,364.30L122.65,365.50L120.49,366.70Z" fill="none" stroke="#ff0000" stroke-width="0.45"/><path d="M122.60,364.30L124.76,365.50L122.60,366.70Z" fill="none" stroke="#ff0000" stroke-width="0.45"/><path d="M124.71,364.30L126.87,365.50L124.71,366.70Z" fill="none" stroke="#ff0000" stroke-width="0.45"/><path d="M126.82,364.30L128.98,365.50L126.82,366.70Z" fill="none" stroke="#ff0000" stroke-width="0.45"/><path d="M128.93,364.30L131.09,365.50L128.93,366.70Z" fill="none" stroke="#ff0000" stroke-width="0.45"/><path d="M131.04,364.30L133.20,365.50L131.04,366.70Z" fill="none" stroke="#ff0000" stroke-width="0.45"/><path d="M133.15,364.30L135.31,365.50L133.15,366.70Z" fill="none" stroke="#ff0000" stroke-width="0.45"/><path d="M135.26,364.30L137.42,365.50L135.26,366.70Z" fill="none" stroke="#ff0000" stroke-width="0.45"/><path d="M137.37,364.30L139.53,365.50L137.37,366.70Z" fill="none" stroke="#ff0000" stroke-width="0.45"/><path d="M139.48,364.30L141.64,365.50L139.48,366.70Z" fill="none" stroke="#ff0000" stroke-width="0.45"/><path d="M141.59,364.30L143.75,365.50L141.59,366.70Z" fill="none" stroke="#ff0000" stroke-width="0.45"/><path d="M143.70,364.30L145.86,365.50L143.70,366.70Z" fill="none" stroke="#ff0000" stroke-width="0.45"/><path d="M145.81,364.30L147.97,365.50L145.81,366.70Z" fill="none" stroke="#ff0000" stroke-width="0.45"/><path d="M147.92,364.30L150.08,365.50L147.92,366.70Z" fill="none" stroke="#ff0000" stroke-width="0.45"/><path d="M150.03,364.30L152.19,365.50L150.03,366.70Z" fill="none" stroke="#ff0000" stroke-width="0.45"/><path d="M152.14,364.30L154.30,365.50L152.14,366.70Z" fill="none" stroke="#ff0000" stroke-width="0.45"/><path d="M154.25,364.30L156.41,365.50L154.25,366.70Z" fill="none" stroke="#ff0000" stroke-width="0.45"/><path d="M156.36,364.30L158.52,365.50L156.36,366.70Z" fill="none" stroke="#ff0000" stroke-width="0.45"/><path d="M158.47,364.30L160.63,365.50L158.47,366.70Z" fill="none" stroke="#ff0000" stroke-width="0.45"/><path d="M160.58,364.30L162.74,365.50L160.58,366.70Z" fill="none" stroke="#ff0000" stroke-width="0.45"/><path d="M162.69,364.30L164.85,365.50L162.69,366.70Z" fill="none" stroke="#ff0000" stroke-width="0.45"/><path d="M164.80,364.30L166.96,365.50L164.80,366.70Z" fill="none" stroke="#ff0000" stroke-width="0.45"/><path d="M166.91,364.30L169.07,365.50L166.91,366.70Z" fill="none" stroke="#ff0000" stroke-width="0.45"/><path d="M169.02,364.30L171.18,365.50L169.02,366.70Z" fill="none" stroke="#ff0000" stroke-width="0.45"/><path d="M171.13,364.30L173.29,365.50L171.13,366.70Z" fill="none" stroke="#ff0000" stroke-width="0.45"/><path d="M173.24,364.30L175.40,365.50L173.24,366.70Z" fill="none" stroke="#ff0000" stroke-width="0.45"/><path d="M175.35,364.30L177.51,365.50L175.35,366.70Z" fill="none" stroke="#ff0000" stroke-width="0.45"/><path d="M177.46,364.30L179.62,365.50L177.46,366.70Z" fill="none" stroke="#ff0000" stroke-width="0.45"/><path d="M179.57,364.30L181.73,365.50L179.57,366.70Z" fill="none" stroke="#ff0000" stroke-width="0.45"/><path d="M181.68,364.30L183.84,365.50L181.68,366.70Z" fill="none" stroke="#ff0000" stroke-width="0.45"/><path d="M183.79,364.30L185.95,365.50L183.79,366.70Z" fill="none" stroke="#ff0000" stroke-width="0.45"/><path d="M185.90,364.30L188.06,365.50L185.90,366.70Z" fill="none" stroke="#ff0000" stroke-width="0.45"/><path d="M188.01,364.30L190.17,365.50L188.01,366.70Z" fill="none" stroke="#ff0000" stroke-width="0.45"/><path d="M190.12,364.30L192.28,365.50L190.12,366.70Z" fill="none" stroke="#ff0000" stroke-width="0.45"/><path d="M192.23,364.30L194.39,365.50L192.23,366.70Z" fill="none" stroke="#ff0000" stroke-width="0.45"/><path d="M194.34,364.30L196.50,365.50L194.34,366.70Z" fill="none" stroke="#ff0000" stroke-width="0.45"/><path d="M196.45,364.30L198.61,365.50L196.45,366.70Z" fill="none" stroke="#ff0000" stroke-width="0.45"/><path d="M198.56,364.30L200.72,365.50L198.56,366.70Z" fill="none" stroke="#ff0000" stroke-width="0.45"/><path d="M200.67,364.30L202.83,365.50L200.67,366.70Z" fill="none" stroke="#ff0000" stroke-width="0.45"/><path d="M202.78,364.30L204.94,365.50L202.78,366.70Z" fill="none" stroke="#ff0000" stroke-width="0.45"/><path d="M204.89,364.30L207.05,365.50L204.89,366.70Z" fill="none" stroke="#ff0000" stroke-width="0.45"/><path d="M207.00,364.30L209.16,365.50L207.00,366.70Z" fill="none" stroke="#ff0000" stroke-width="0.45"/><path d="M209.11,364.30L211.27,365.50L209.11,366.70Z" fill="none" stroke="#ff0000" stroke-width="0.45"/><path d="M211.22,364.30L213.38,365.50L211.22,366.70Z" fill="none" stroke="#ff0000" stroke-width="0.45"/><path d="M213.33,364.30L215.49,365.50L213.33,366.70Z" fill="none" stroke="#ff0000" stroke-width="0.45"/><path d="M215.44,364.30L217.60,365.50L215.44,366.70Z" fill="none" stroke="#ff0000" stroke-width="0.45"/><path d="M217.55,364.30L219.71,365.50L217.55,366.70Z" fill="none" stroke="#ff0000" stroke-width="0.45"/><path d="M219.66,364.30L221.82,365.50L219.66,366.70Z" fill="none" stroke="#ff0000" stroke-width="0.45"/><path d="M221.77,364.30L223.93,365.50L221.77,366.70Z" fill="none" stroke="#ff0000" stroke-width="0.45"/><path d="M223.88,364.30L226.04,365.50L223.88,366.70Z" fill="none" stroke="#ff0000" stroke-width="0.45"/><path d="M225.99,364.30L228.15,365.50L225.99,366.70Z" fill="none" stroke="#ff0000" stroke-width="0.45"/><path d="M228.10,364.30L230.26,365.50L228.10,366.70Z" fill="none" stroke="#ff0000" stroke-width="0.45"/><path d="M230.21,364.30L232.37,365.50L230.21,366.70Z" fill="none" stroke="#ff0000" stroke-width="0.45"/><path d="M232.32,364.30L234.48,365.50L232.32,366.70Z" fill="none" stroke="#ff0000" stroke-width="0.45"/><path d="M234.43,364.30L236.59,365.50L234.43,366.70Z" fill="none" stroke="#ff0000" stroke-width="0.45"/><path d="M236.54,364.30L238.70,365.50L236.54,366.70Z" fill="none" stroke="#ff0000" stroke-width="0.45"/></g>
<path d="M27.00,360.80 L237.50,361.20" fill="none" stroke="#ff0000" stroke-width="0.68" opacity="0.6"/>
<g opacity="1.0"><path d="M27.51,360.80h2.20M28.61,359.70v2.20M27.84,360.03l1.54,1.54M27.84,361.57l1.54,-1.54" stroke="#ff0000" stroke-width="0.45"/><path d="M29.62,360.81h2.20M30.72,359.71v2.20M29.95,360.04l1.54,1.54M29.95,361.58l1.54,-1.54" stroke="#ff0000" stroke-width="0.45"/><path d="M31.73,360.81h2.20M32.83,359.71v2.20M32.06,360.04l1.54,1.54M32.06,361.58l1.54,-1.54" stroke="#ff0000" stroke-width="0.45"/><path d="M33.84,360.82h2.20M34.94,359.72v2.20M34.17,360.05l1.54,1.54M34.17,361.59l1.54,-1.54" stroke="#ff0000" stroke-width="0.45"/><path d="M35.95,360.82h2.20M37.05,359.72v2.20M36.28,360.05l1.54,1.54M36.28,361.59l1.54,-1.54" stroke="#ff0000" stroke-width="0.45"/><path d="M38.06,360.82h2.20M39.16,359.72v2.20M38.39,360.05l1.54,1.54M38.39,361.59l1.54,-1.54" stroke="#ff0000" stroke-width="0.45"/><path d="M40.17,360.83h2.20M41.27,359.73v2.20M40.50,360.06l1.54,1.54M40.50,361.60l1.54,-1.54" stroke="#ff0000" stroke-width="0.45"/><path d="M42.28,360.83h2.20M43.38,359.73v2.20M42.61,360.06l1.54,1.54M42.61,361.60l1.54,-1.54" stroke="#ff0000" stroke-width="0.45"/><path d="M44.39,360.84h2.20M45.49,359.74v2.20M44.72,360.07l1.54,1.54M44.72,361.61l1.54,-1.54" stroke="#ff0000" stroke-width="0.45"/><path d="M46.50,360.84h2.20M47.60,359.74v2.20M46.83,360.07l1.54,1.54M46.83,361.61l1.54,-1.54" stroke="#ff0000" stroke-width="0.45"/><path d="M48.61,360.84h2.20M49.71,359.74v2.20M48.94,360.07l1.54,1.54M48.94,361.61l1.54,-1.54" stroke="#ff0000" stroke-width="0.45"/><path d="M50.72,360.85h2.20M51.82,359.75v2.20M51.05,360.08l1.54,1.54M51.05,361.62l1.54,-1.54" stroke="#ff0000" stroke-width="0.45"/><path d="M52.83,360.85h2.20M53.93,359.75v2.20M53.16,360.08l1.54,1.54M53.16,361.62l1.54,-1.54" stroke="#ff0000" stroke-width="0.45"/><path d="M54.94,360.86h2.20M56.04,359.76v2.20M55.27,360.09l1.54,1.54M55.27,361.63l1.54,-1.54" stroke="#ff0000" stroke-width="0.45"/><path d="M57.05,360.86h2.20M58.15,359.76v2.20M57.38,360.09l1.54,1.54M57.38,361.63l1.54,-1.54" stroke="#ff0000" stroke-width="0.45"/><path d="M59.16,360.86h2.20M60.26,359.76v2.20M59.49,360.09l1.54,1.54M59.49,361.63l1.54,-1.54" stroke="#ff0000" stroke-width="0.45"/><path d="M61.27,360.87h2.20M62.37,359.77v2.20M61.60,360.10l1.54,1.54M61.60,361.64l1.54,-1.54" stroke="#ff0000" stroke-width="0.45"/><path d="M63.38,360.87h2.20M64.48,359.77v2.20M63.71,360.10l1.54,1.54M63.71,361.64l1.54,-1.54" stroke="#ff0000" stroke-width="0.45"/><path d="M65.49,360.88h2.20M66.59,359.78v2.20M65.82,360.11l1.54,1.54M65.82,361.65l1.54,-1.54" stroke="#ff0000" stroke-width="0.45"/><path d="M67.60,360.88h2.20M68.70,359.78v2.20M67.93,360.11l1.54,1.54M67.93,361.65l1.54,-1.54" stroke="#ff0000" stroke-width="0.45"/><path d="M69.71,360.88h2.20M70.81,359.78v2.20M70.04,360.11l1.54,1.54M70.04,361.65l1.54,-1.54" stroke="#ff0000" stroke-width="0.45"/><path d="M71.82,360.89h2.20M72.92,359.79v2.20M72.15,360.12l1.54,1.54M72.15,361.66l1.54,-1.54" stroke="#ff0000" stroke-width="0.45"/><path d="M73.93,360.89h2.20M75.03,359.79v2.20M74.26,360.12l1.54,1.54M74.26,361.66l1.54,-1.54" stroke="#ff0000" stroke-width="0.45"/><path d="M76.04,360.90h2.20M77.14,359.80v2.20M76.37,360.13l1.54,1.54M76.37,361.67l1.54,-1.54" stroke="#ff0000" stroke-width="0.45"/><path d="M78.15,360.90h2.20M79.25,359.80v2.20M78.48,360.13l1.54,1.54M78.48,361.67l1.54,-1.54" stroke="#ff0000" stroke-width="0.45"/><path d="M80.26,360.90h2.20M81.36,359.80v2.20M80.59,360.13l1.54,1.54M80.59,361.67l1.54,-1.54" stroke="#ff0000" stroke-width="0.45"/><path d="M82.37,360.91h2.20M83.47,359.81v2.20M82.70,360.14l1.54,1.54M82.70,361.68l1.54,-1.54" stroke="#ff0000" stroke-width="0.45"/><path d="M84.48,360.91h2.20M85.58,359.81v2.20M84.81,360.14l1.54,1.54M84.81,361.68l1.54,-1.54" stroke="#ff0000" stroke-width="0.45"/><path d="M86.59,360.92h2.20M87.69,359.82v2.20M86.92,360.15l1.54,1.54M86.92,361.69l1.54,-1.54" stroke="#ff0000" stroke-width="0.45"/><path d="M88.70,360.92h2.20M89.80,359.82v2.20M89.03,360.15l1.54,1.54M89.03,361.69l1.54,-1.54" stroke="#ff0000" stroke-width="0.45"/><path d="M90.81,360.92h2.20M91.91,359.82v2.20M91.14,360.15l1.54,1.54M91.14,361.69l1.54,-1.54" stroke="#ff0000" stroke-width="0.45"/><path d="M92.92,360.93h2.20M94.02,359.83v2.20M93.25,360.16l1.54,1.54M93.25,361.70l1.54,-1.54" stroke="#ff0000" stroke-width="0.45"/><path d="M95.03,360.93h2.20M96.13,359.83v2.20M95.36,360.16l1.54,1.54M95.36,361.70l1.54,-1.54" stroke="#ff0000" stroke-width="0.45"/><path d="M97.14,360.94h2.20M98.24,359.84v2.20M97.47,360.17l1.54,1.54M97.47,361.71l1.54,-1.54" stroke="#ff0000" stroke-width="0.45"/><path d="M99.25,360.94h2.20M100.35,359.84v2.20M99.58,360.17l1.54,1.54M99.58,361.71l1.54,-1.54" stroke="#ff0000" stroke-width="0.45"/><path d="M101.36,360.94h2.20M102.46,359.84v2.20M101.69,360.17l1.54,1.54M101.69,361.71l1.54,-1.54" stroke="#ff0000" stroke-width="0.45"/><path d="M103.47,360.95h2.20M104.57,359.85v2.20M103.80,360.18l1.54,1.54M103.80,361.72l1.54,-1.54" stroke="#ff0000" stroke-width="0.45"/><path d="M105.58,360.95h2.20M106.68,359.85v2.20M105.91,360.18l1.54,1.54M105.91,361.72l1.54,-1.54" stroke="#ff0000" stroke-width="0.45"/><path d="M107.69,360.96h2.20M108.79,359.86v2.20M108.02,360.19l1.54,1.54M108.02,361.73l1.54,-1.54" stroke="#ff0000" stroke-width="0.45"/><path d="M109.80,360.96h2.20M110.90,359.86v2.20M110.13,360.19l1.54,1.54M110.13,361.73l1.54,-1.54" stroke="#ff0000" stroke-width="0.45"/><path d="M111.91,360.96h2.20M113.01,359.86v2.20M112.24,360.19l1.54,1.54M112.24,361.73l1.54,-1.54" stroke="#ff0000" stroke-width="0.45"/><path d="M114.02,360.97h2.20M115.12,359.87v2.20M114.35,360.20l1.54,1.54M114.35,361.74l1.54,-1.54" stroke="#ff0000" stroke-width="0.45"/><path d="M116.13,360.97h2.20M117.23,359.87v2.20M116.46,360.20l1.54,1.54M116.46,361.74l1.54,-1.54" stroke="#ff0000" stroke-width="0.45"/><path d="M118.24,360.98h2.20M119.34,359.88v2.20M118.57,360.21l1.54,1.54M118.57,361.75l1.54,-1.54" stroke="#ff0000" stroke-width="0.45"/><path d="M120.35,360.98h2.20M121.45,359.88v2.20M120.68,360.21l1.54,1.54M120.68,361.75l1.54,-1.54" stroke="#ff0000" stroke-width="0.45"/><path d="M122.46,360.98h2.20M123.56,359.88v2.20M122.79,360.21l1.54,1.54M122.79,361.75l1.54,-1.54" stroke="#ff0000" stroke-width="0.45"/><path d="M124.57,360.99h2.20M125.67,359.89v2.20M124.90,360.22l1.54,1.54M124.90,361.76l1.54,-1.54" stroke="#ff0000" stroke-width="0.45"/><path d="M126.68,360.99h2.20M127.78,359.89v2.20M127.01,360.22l1.54,1.54M127.01,361.76l1.54,-1.54" stroke="#ff0000" stroke-width="0.45"/><path d="M128.79,361.00h2.20M129.89,359.90v2.20M129.12,360.23l1.54,1.54M129.12,361.77l1.54,-1.54" stroke="#ff0000" stroke-width="0.45"/><path d="M130.90,361.00h2.20M132.00,359.90v2.20M131.23,360.23l1.54,1.54M131.23,361.77l1.54,-1.54" stroke="#ff0000" stroke-width="0.45"/><path d="M133.01,361.00h2.20M134.11,359.90v2.20M133.34,360.23l1.54,1.54M133.34,361.77l1.54,-1.54" stroke="#ff0000" stroke-width="0.45"/><path d="M135.12,361.01h2.20M136.22,359.91v2.20M135.45,360.24l1.54,1.54M135.45,361.78l1.54,-1.54" stroke="#ff0000" stroke-width="0.45"/><path d="M137.23,361.01h2.20M138.33,359.91v2.20M137.56,360.24l1.54,1.54M137.56,361.78l1.54,-1.54" stroke="#ff0000" stroke-width="0.45"/><path d="M139.34,361.02h2.20M140.44,359.92v2.20M139.67,360.25l1.54,1.54M139.67,361.79l1.54,-1.54" stroke="#ff0000" stroke-width="0.45"/><path d="M141.45,361.02h2.20M142.55,359.92v2.20M141.78,360.25l1.54,1.54M141.78,361.79l1.54,-1.54" stroke="#ff0000" stroke-width="0.45"/><path d="M143.56,361.02h2.20M144.66,359.92v2.20M143.89,360.25l1.54,1.54M143.89,361.79l1.54,-1.54" stroke="#ff0000" stroke-width="0.45"/><path d="M145.67,361.03h2.20M146.77,359.93v2.20M146.00,360.26l1.54,1.54M146.00,361.80l1.54,-1.54" stroke="#ff0000" stroke-width="0.45"/><path d="M147.78,361.03h2.20M148.88,359.93v2.20M148.11,360.26l1.54,1.54M148.11,361.80l1.54,-1.54" stroke="#ff0000" stroke-width="0.45"/><path d="M149.89,361.04h2.20M150.99,359.94v2.20M150.22,360.27l1.54,1.54M150.22,361.81l1.54,-1.54" stroke="#ff0000" stroke-width="0.45"/><path d="M152.00,361.04h2.20M153.10,359.94v2.20M152.33,360.27l1.54,1.54M152.33,361.81l1.54,-1.54" stroke="#ff0000" stroke-width="0.45"/><path d="M154.11,361.04h2.20M155.21,359.94v2.20M154.44,360.27l1.54,1.54M154.44,361.81l1.54,-1.54" stroke="#ff0000" stroke-width="0.45"/><path d="M156.22,361.05h2.20M157.32,359.95v2.20M156.55,360.28l1.54,1.54M156.55,361.82l1.54,-1.54" stroke="#ff0000" stroke-width="0.45"/><path d="M158.33,361.05h2.20M159.43,359.95v2.20M158.66,360.28l1.54,1.54M158.66,361.82l1.54,-1.54" stroke="#ff0000" stroke-width="0.45"/><path d="M160.44,361.06h2.20M161.54,359.96v2.20M160.77,360.29l1.54,1.54M160.77,361.83l1.54,-1.54" stroke="#ff0000" stroke-width="0.45"/><path d="M162.55,361.06h2.20M163.65,359.96v2.20M162.88,360.29l1.54,1.54M162.88,361.83l1.54,-1.54" stroke="#ff0000" stroke-width="0.45"/><path d="M164.66,361.06h2.20M165.76,359.96v2.20M164.99,360.29l1.54,1.54M164.99,361.83l1.54,-1.54" stroke="#ff0000" stroke-width="0.45"/><path d="M166.77,361.07h2.20M167.87,359.97v2.20M167.10,360.30l1.54,1.54M167.10,361.84l1.54,-1.54" stroke="#ff0000" stroke-width="0.45"/><path d="M168.88,361.07h2.20M169.98,359.97v2.20M169.21,360.30l1.54,1.54M169.21,361.84l1.54,-1.54" stroke="#ff0000" stroke-width="0.45"/><path d="M170.99,361.08h2.20M172.09,359.98v2.20M171.32,360.31l1.54,1.54M171.32,361.85l1.54,-1.54" stroke="#ff0000" stroke-width="0.45"/><path d="M173.10,361.08h2.20M174.20,359.98v2.20M173.43,360.31l1.54,1.54M173.43,361.85l1.54,-1.54" stroke="#ff0000" stroke-width="0.45"/><path d="M175.21,361.08h2.20M176.31,359.98v2.20M175.54,360.31l1.54,1.54M175.54,361.85l1.54,-1.54" stroke="#ff0000" stroke-width="0.45"/><path d="M177.32,361.09h2.20M178.42,359.99v2.20M177.65,360.32l1.54,1.54M177.65,361.86l1.54,-1.54" stroke="#ff0000" stroke-width="0.45"/><path d="M179.43,361.09h2.20M180.53,359.99v2.20M179.76,360.32l1.54,1.54M179.76,361.86l1.54,-1.54" stroke="#ff0000" stroke-width="0.45"/><path d="M181.54,361.10h2.20M182.64,360.00v2.20M181.87,360.33l1.54,1.54M181.87,361.87l1.54,-1.54" stroke="#ff0000" stroke-width="0.45"/><path d="M183.65,361.10h2.20M184.75,360.00v2.20M183.98,360.33l1.54,1.54M183.98,361.87l1.54,-1.54" stroke="#ff0000" stroke-width="0.45"/><path d="M185.76,361.10h2.20M186.86,360.00v2.20M186.09,360.33l1.54,1.54M186.09,361.87l1.54,-1.54" stroke="#ff0000" stroke-width="0.45"/><path d="M187.87,361.11h2.20M188.97,360.01v2.20M188.20,360.34l1.54,1.54M188.20,361.88l1.54,-1.54" stroke="#ff0000" stroke-width="0.45"/><path d="M189.98,361.11h2.20M191.08,360.01v2.20M190.31,360.34l1.54,1.54M190.31,361.88l1.54,-1.54" stroke="#ff0000" stroke-width="0.45"/><path d="M192.09,361.12h2.20M193.19,360.02v2.20M192.42,360.35l1.54,1.54M192.42,361.89l1.54,-1.54" stroke="#ff0000" stroke-width="0.45"/><path d="M194.20,361.12h2.20M195.30,360.02v2.20M194.53,360.35l1.54,1.54M194.53,361.89l1.54,-1.54" stroke="#ff0000" stroke-width="0.45"/><path d="M196.31,361.12h2.20M197.41,360.02v2.20M196.64,360.35l1.54,1.54M196.64,361.89l1.54,-1.54" stroke="#ff0000" stroke-width="0.45"/><path d="M198.42,361.13h2.20M199.52,360.03v2.20M198.75,360.36l1.54,1.54M198.75,361.90l1.54,-1.54" stroke="#ff0000" stroke-width="0.45"/><path d="M200.53,361.13h2.20M201.63,360.03v2.20M200.86,360.36l1.54,1.54M200.86,361.90l1.54,-1.54" stroke="#ff0000" stroke-width="0.45"/><path d="M202.64,361.14h2.20M203.74,360.04v2.20M202.97,360.37l1.54,1.54M202.97,361.91l1.54,-1.54" stroke="#ff0000" stroke-width="0.45"/><path d="M204.75,361.14h2.20M205.85,360.04v2.20M205.08,360.37l1.54,1.54M205.08,361.91l1.54,-1.54" stroke="#ff0000" stroke-width="0.45"/><path d="M206.86,361.14h2.20M207.96,360.04v2.20M207.19,360.37l1.54,1.54M207.19,361.91l1.54,-1.54" stroke="#ff0000" stroke-width="0.45"/><path d="M208.97,361.15h2.20M210.07,360.05v2.20M209.30,360.38l1.54,1.54M209.30,361.92l1.54,-1.54" stroke="#ff0000" stroke-width="0.45"/><path d="M211.08,361.15h2.20M212.18,360.05v2.20M211.41,360.38l1.54,1.54M211.41,361.92l1.54,-1.54" stroke="#ff0000" stroke-width="0.45"/><path d="M213.19,361.16h2.20M214.29,360.06v2.20M213.52,360.39l1.54,1.54M213.52,361.93l1.54,-1.54" stroke="#ff0000" stroke-width="0.45"/><path d="M215.30,361.16h2.20M216.40,360.06v2.20M215.63,360.39l1.54,1.54M215.63,361.93l1.54,-1.54" stroke="#ff0000" stroke-width="0.45"/><path d="M217.41,361.16h2.20M218.51,360.06v2.20M217.74,360.39l1.54,1.54M217.74,361.93l1.54,-1.54" stroke="#ff0000" stroke-width="0.45"/><path d="M219.52,361.17h2.20M220.62,360.07v2.20M219.85,360.40l1.54,1.54M219.85,361.94l1.54,-1.54" stroke="#ff0000" stroke-width="0.45"/><path d="M221.63,361.17h2.20M222.73,360.07v2.20M221.96,360.40l1.54,1.54M221.96,361.94l1.54,-1.54" stroke="#ff0000" stroke-width="0.45"/><path d="M223.74,361.18h2.20M224.84,360.08v2.20M224.07,360.41l1.54,1.54M224.07,361.95l1.54,-1.54" stroke="#ff0000" stroke-width="0.45"/><path d="M225.85,361.18h2.20M226.95,360.08v2.20M226.18,360.41l1.54,1.54M226.18,361.95l1.54,-1.54" stroke="#ff0000" stroke-width="0.45"/><path d="M227.96,361.18h2.20M229.06,360.08v2.20M228.29,360.41l1.54,1.54M228.29,361.95l1.54,-1.54" stroke="#ff0000" stroke-width="0.45"/><path d="M230.07,361.19h2.20M231.17,360.09v2.20M230.40,360.42l1.54,1.54M230.40,361.96l1.54,-1.54" stroke="#ff0000" stroke-width="0.45"/><path d="M232.18,361.19h2.20M233.28,360.09v2.20M232.51,360.42l1.54,1.54M232.51,361.96l1.54,-1.54" stroke="#ff0000" stroke-width="0.45"/><path d="M234.29,361.20h2.20M235.39,360.10v2.20M234.62,360.43l1.54,1.54M234.62,361.97l1.54,-1.54" stroke="#ff0000" stroke-width="0.45"/><path d="M236.40,361.20h2.20M237.50,360.10v2.20M236.73,360.43l1.54,1.54M236.73,361.97l1.54,-1.54" stroke="#ff0000" stroke-width="0.45"/></g>
<path d="M28.00,350.00 L28.00,374.60 L237.50,374.60" fill="none" stroke="#0000ff" stroke-width="0.68" opacity="0.6"/>
<g opacity="1.0"><path d="M27.51,374.60h2.20M28.61,373.50v2.20M27.84,373.83l1.54,1.54M27.84,375.37l1.54,-1.54" stroke="#0000ff" stroke-width="0.45"/><path d="M29.62,374.60h2.20M30.72,373.50v2.20M29.95,373.83l1.54,1.54M29.95,375.37l1.54,-1.54" stroke="#0000ff" stroke-width="0.45"/><path d="M31.73,374.60h2.20M32.83,373.50v2.20M32.06,373.83l1.54,1.54M32.06,375.37l1.54,-1.54" stroke="#0000ff" stroke-width="0.45"/><path d="M33.84,374.60h2.20M34.94,373.50v2.20M34.17,373.83l1.54,1.54M34.17,375.37l1.54,-1.54" stroke="#0000ff" stroke-width="0.45"/><path d="M35.95,374.60h2.20M37.05,373.50v2.20M36.28,373.83l1.54,1.54M36.28,375.37l1.54,-1.54" stroke="#0000ff" stroke-width="0.45"/><path d="M38.06,374.60h2.20M39.16,373.50v2.20M38.39,373.83l1.54,1.54M38.39,375.37l1.54,-1.54" stroke="#0000ff" stroke-width="0.45"/><path d="M40.17,374.60h2.20M41.27,373.50v2.20M40.50,373.83l1.54,1.54M40.50,375.37l1.54,-1.54" stroke="#0000ff" stroke-width="0.45"/><path d="M42.28,374.60h2.20M43.38,373.50v2.20M42.61,373.83l1.54,1.54M42.61,375.37l1.54,-1.54" stroke="#0000ff" stroke-width="0.45"/><path d="M44.39,374.60h2.20M45.49,373.50v2.20M44.72,373.83l1.54,1.54M44.72,375.37l1.54,-1.54" stroke="#0000ff" stroke-width="0.45"/><path d="M46.50,374.60h2.20M47.60,373.50v2.20M46.83,373.83l1.54,1.54M46.83,375.37l1.54,-1.54" stroke="#0000ff" stroke-width="0.45"/><path d="M48.61,374.60h2.20M49.71,373.50v2.20M48.94,373.83l1.54,1.54M48.94,375.37l1.54,-1.54" stroke="#0000ff" stroke-width="0.45"/><path d="M50.72,374.60h2.20M51.82,373.50v2.20M51.05,373.83l1.54,1.54M51.05,375.37l1.54,-1.54" stroke="#0000ff" stroke-width="0.45"/><path d="M52.83,374.60h2.20M53.93,373.50v2.20M53.16,373.83l1.54,1.54M53.16,375.37l1.54,-1.54" stroke="#0000ff" stroke-width="0.45"/><path d="M54.94,374.60h2.20M56.04,373.50v2.20M55.27,373.83l1.54,1.54M55.27,375.37l1.54,-1.54" stroke="#0000ff" stroke-width="0.45"/><path d="M57.05,374.60h2.20M58.15,373.50v2.20M57.38,373.83l1.54,1.54M57.38,375.37l1.54,-1.54" stroke="#0000ff" stroke-width="0.45"/><path d="M59.16,374.60h2.20M60.26,373.50v2.20M59.49,373.83l1.54,1.54M59.49,375.37l1.54,-1.54" stroke="#0000ff" stroke-width="0.45"/><path d="M61.27,374.60h2.20M62.37,373.50v2.20M61.60,373.83l1.54,1.54M61.60,375.37l1.54,-1.54" stroke="#0000ff" stroke-width="0.45"/><path d="M63.38,374.60h2.20M64.48,373.50v2.20M63.71,373.83l1.54,1.54M63.71,375.37l1.54,-1.54" stroke="#0000ff" stroke-width="0.45"/><path d="M65.49,374.60h2.20M66.59,373.50v2.20M65.82,373.83l1.54,1.54M65.82,375.37l1.54,-1.54" stroke="#0000ff" stroke-width="0.45"/><path d="M67.60,374.60h2.20M68.70,373.50v2.20M67.93,373.83l1.54,1.54M67.93,375.37l1.54,-1.54" stroke="#0000ff" stroke-width="0.45"/><path d="M69.71,374.60h2.20M70.81,373.50v2.20M70.04,373.83l1.54,1.54M70.04,375.37l1.54,-1.54" stroke="#0000ff" stroke-width="0.45"/><path d="M71.82,374.60h2.20M72.92,373.50v2.20M72.15,373.83l1.54,1.54M72.15,375.37l1.54,-1.54" stroke="#0000ff" stroke-width="0.45"/><path d="M73.93,374.60h2.20M75.03,373.50v2.20M74.26,373.83l1.54,1.54M74.26,375.37l1.54,-1.54" stroke="#0000ff" stroke-width="0.45"/><path d="M76.04,374.60h2.20M77.14,373.50v2.20M76.37,373.83l1.54,1.54M76.37,375.37l1.54,-1.54" stroke="#0000ff" stroke-width="0.45"/><path d="M78.15,374.60h2.20M79.25,373.50v2.20M78.48,373.83l1.54,1.54M78.48,375.37l1.54,-1.54" stroke="#0000ff" stroke-width="0.45"/><path d="M80.26,374.60h2.20M81.36,373.50v2.20M80.59,373.83l1.54,1.54M80.59,375.37l1.54,-1.54" stroke="#0000ff" stroke-width="0.45"/><path d="M82.37,374.60h2.20M83.47,373.50v2.20M82.70,373.83l1.54,1.54M82.70,375.37l1.54,-1.54" stroke="#0000ff" stroke-width="0.45"/><path d="M84.48,374.60h2.20M85.58,373.50v2.20M84.81,373.83l1.54,1.54M84.81,375.37l1.54,-1.54" stroke="#0000ff" stroke-width="0.45"/><path d="M86.59,374.60h2.20M87.69,373.50v2.20M86.92,373.83l1.54,1.54M86.92,375.37l1.54,-1.54" stroke="#0000ff" stroke-width="0.45"/><path d="M88.70,374.60h2.20M89.80,373.50v2.20M89.03,373.83l1.54,1.54M89.03,375.37l1.54,-1.54" stroke="#0000ff" stroke-width="0.45"/><path d="M90.81,374.60h2.20M91.91,373.50v2.20M91.14,373.83l1.54,1.54M91.14,375.37l1.54,-1.54" stroke="#0000ff" stroke-width="0.45"/><path d="M92.92,374.60h2.20M94.02,373.50v2.20M93.25,373.83l1.54,1.54M93.25,375.37l1.54,-1.54" stroke="#0000ff" stroke-width="0.45"/><path d="M95.03,374.60h2.20M96.13,373.50v2.20M95.36,373.83l1.54,1.54M95.36,375.37l1.54,-1.54" stroke="#0000ff" stroke-width="0.45"/><path d="M97.14,374.60h2.20M98.24,373.50v2.20M97.47,373.83l1.54,1.54M97.47,375.37l1.54,-1.54" stroke="#0000ff" stroke-width="0.45"/><path d="M99.25,374.60h2.20M100.35,373.50v2.20M99.58,373.83l1.54,1.54M99.58,375.37l1.54,-1.54" stroke="#0000ff" stroke-width="0.45"/><path d="M101.36,374.60h2.20M102.46,373.50v2.20M101.69,373.83l1.54,1.54M101.69,375.37l1.54,-1.54" stroke="#0000ff" stroke-width="0.45"/><path d="M103.47,374.60h2.20M104.57,373.50v2.20M103.80,373.83l1.54,1.54M103.80,375.37l1.54,-1.54" stroke="#0000ff" stroke-width="0.45"/><path d="M105.58,374.60h2.20M106.68,373.50v2.20M105.91,373.83l1.54,1.54M105.91,375.37l1.54,-1.54" stroke="#0000ff" stroke-width="0.45"/><path d="M107.69,374.60h2.20M108.79,373.50v2.20M108.02,373.83l1.54,1.54M108.02,375.37l1.54,-1.54" stroke="#0000ff" stroke-width="0.45"/><path d="M109.80,374.60h2.20M110.90,373.50v2.20M110.13,373.83l1.54,1.54M110.13,375.37l1.54,-1.54" stroke="#0000ff" stroke-width="0.45"/><path d="M111.91,374.60h2.20M113.01,373.50v2.20M112.24,373.83l1.54,1.54M112.24,375.37l1.54,-1.54" stroke="#0000ff" stroke-width="0.45"/><path d="M114.02,374.60h2.20M115.12,373.50v2.20M114.35,373.83l1.54,1.54M114.35,375.37l1.54,-1.54" stroke="#0000ff" stroke-width="0.45"/><path d="M116.13,374.60h2.20M117.23,373.50v2.20M116.46,373.83l1.54,1.54M116.46,375.37l1.54,-1.54" stroke="#0000ff" stroke-width="0.45"/><path d="M118.24,374.60h2.20M119.34,373.50v2.20M118.57,373.83l1.54,1.54M118.57,375.37l1.54,-1.54" stroke="#0000ff" stroke-width="0.45"/><path d="M120.35,374.60h2.20M121.45,373.50v2.20M120.68,373.83l1.54,1.54M120.68,375.37l1.54,-1.54" stroke="#0000ff" stroke-width="0.45"/><path d="M122.46,374.60h2.20M123.56,373.50v2.20M122.79,373.83l1.54,1.54M122.79,375.37l1.54,-1.54" stroke="#0000ff" stroke-width="0.45"/><path d="M124.57,374.60h2.20M125.67,373.50v2.20M124.90,373.83l1.54,1.54M124.90,375.37l1.54,-1.54" stroke="#0000ff" stroke-width="0.45"/><path d="M126.68,374.60h2.20M127.78,373.50v2.20M127.01,373.83l1.54,1.54M127.01,375.37l1.54,-1.54" stroke="#0000ff" stroke-width="0.45"/><path d="M128.79,374.60h2.20M129.89,373.50v2.20M129.12,373.83l1.54,1.54M129.12,375.37l1.54,-1.54" stroke="#0000ff" stroke-width="0.45"/><path d="M130.90,374.60h2.20M132.00,373.50v2.20M131.23,373.83l1.54,1.54M131.23,375.37l1.54,-1.54" stroke="#0000ff" stroke-width="0.45"/><path d="M133.01,374.60h2.20M134.11,373.50v2.20M133.34,373.83l1.54,1.54M133.34,375.37l1.54,-1.54" stroke="#0000ff" stroke-width="0.45"/><path d="M135.12,374.60h2.20M136.22,373.50v2.20M135.45,373.83l1.54,1.54M135.45,375.37l1.54,-1.54" stroke="#0000ff" stroke-width="0.45"/><path d="M137.23,374.60h2.20M138.33,373.50v2.20M137.56,373.83l1.54,1.54M137.56,375.37l1.54,-1.54" stroke="#0000ff" stroke-width="0.45"/><path d="M139.34,374.60h2.20M140.44,373.50v2.20M139.67,373.83l1.54,1.54M139.67,375.37l1.54,-1.54" stroke="#0000ff" stroke-width="0.45"/><path d="M141.45,374.60h2.20M142.55,373.50v2.20M141.78,373.83l1.54,1.54M141.78,375.37l1.54,-1.54" stroke="#0000ff" stroke-width="0.45"/><path d="M143.56,374.60h2.20M144.66,373.50v2.20M143.89,373.83l1.54,1.54M143.89,375.37l1.54,-1.54" stroke="#0000ff" stroke-width="0.45"/><path d="M145.67,374.60h2.20M146.77,373.50v2.20M146.00,373.83l1.54,1.54M146.00,375.37l1.54,-1.54" stroke="#0000ff" stroke-width="0.45"/><path d="M147.78,374.60h2.20M148.88,373.50v2.20M148.11,373.83l1.54,1.54M148.11,375.37l1.54,-1.54" stroke="#0000ff" stroke-width="0.45"/><path d="M149.89,374.60h2.20M150.99,373.50v2.20M150.22,373.83l1.54,1.54M150.22,375.37l1.54,-1.54" stroke="#0000ff" stroke-width="0.45"/><path d="M152.00,374.60h2.20M153.10,373.50v2.20M152.33,373.83l1.54,1.54M152.33,375.37l1.54,-1.54" stroke="#0000ff" stroke-width="0.45"/><path d="M154.11,374.60h2.20M155.21,373.50v2.20M154.44,373.83l1.54,1.54M154.44,375.37l1.54,-1.54" stroke="#0000ff" stroke-width="0.45"/><path d="M156.22,374.60h2.20M157.32,373.50v2.20M156.55,373.83l1.54,1.54M156.55,375.37l1.54,-1.54" stroke="#0000ff" stroke-width="0.45"/><path d="M158.33,374.60h2.20M159.43,373.50v2.20M158.66,373.83l1.54,1.54M158.66,375.37l1.54,-1.54" stroke="#0000ff" stroke-width="0.45"/><path d="M160.44,374.60h2.20M161.54,373.50v2.20M160.77,373.83l1.54,1.54M160.77,375.37l1.54,-1.54" stroke="#0000ff" stroke-width="0.45"/><path d="M162.55,374.60h2.20M163.65,373.50v2.20M162.88,373.83l1.54,1.54M162.88,375.37l1.54,-1.54" stroke="#0000ff" stroke-width="0.45"/><path d="M164.66,374.60h2.20M165.76,373.50v2.20M164.99,373.83l1.54,1.54M164.99,375.37l1.54,-1.54" stroke="#0000ff" stroke-width="0.45"/><path d="M166.77,374.60h2.20M167.87,373.50v2.20M167.10,373.83l1.54,1.54M167.10,375.37l1.54,-1.54" stroke="#0000ff" stroke-width="0.45"/><path d="M168.88,374.60h2.20M169.98,373.50v2.20M169.21,373.83l1.54,1.54M169.21,375.37l1.54,-1.54" stroke="#0000ff" stroke-width="0.45"/><path d="M170.99,374.60h2.20M172.09,373.50v2.20M171.32,373.83l1.54,1.54M171.32,375.37l1.54,-1.54" stroke="#0000ff" stroke-width="0.45"/><path d="M173.10,374.60h2.20M174.20,373.50v2.20M173.43,373.83l1.54,1.54M173.43,375.37l1.54,-1.54" stroke="#0000ff" stroke-width="0.45"/><path d="M175.21,374.60h2.20M176.31,373.50v2.20M175.54,373.83l1.54,1.54M175.54,375.37l1.54,-1.54" stroke="#0000ff" stroke-width="0.45"/><path d="M177.32,374.60h2.20M178.42,373.50v2.20M177.65,373.83l1.54,1.54M177.65,375.37l1.54,-1.54" stroke="#0000ff" stroke-width="0.45"/><path d="M179.43,374.60h2.20M180.53,373.50v2.20M179.76,373.83l1.54,1.54M179.76,375.37l1.54,-1.54" stroke="#0000ff" stroke-width="0.45"/><path d="M181.54,374.60h2.20M182.64,373.50v2.20M181.87,373.83l1.54,1.54M181.87,375.37l1.54,-1.54" stroke="#0000ff" stroke-width="0.45"/><path d="M183.65,374.60h2.20M184.75,373.50v2.20M183.98,373.83l1.54,1.54M183.98,375.37l1.54,-1.54" stroke="#0000ff" stroke-width="0.45"/><path d="M185.76,374.60h2.20M186.86,373.50v2.20M186.09,373.83l1.54,1.54M186.09,375.37l1.54,-1.54" stroke="#0000ff" stroke-width="0.45"/><path d="M187.87,374.60h2.20M188.97,373.50v2.20M188.20,373.83l1.54,1.54M188.20,375.37l1.54,-1.54" stroke="#0000ff" stroke-width="0.45"/><path d="M189.98,374.60h2.20M191.08,373.50v2.20M190.31,373.83l1.54,1.54M190.31,375.37l1.54,-1.54" stroke="#0000ff" stroke-width="0.45"/><path d="M192.09,374.60h2.20M193.19,373.50v2.20M192.42,373.83l1.54,1.54M192.42,375.37l1.54,-1.54" stroke="#0000ff" stroke-width="0.45"/><path d="M194.20,374.60h2.20M195.30,373.50v2.20M194.53,373.83l1.54,1.54M194.53,375.37l1.54,-1.54" stroke="#0000ff" stroke-width="0.45"/><path d="M196.31,374.60h2.20M197.41,373.50v2.20M196.64,373.83l1.54,1.54M196.64,375.37l1.54,-1.54" stroke="#0000ff" stroke-width="0.45"/><path d="M198.42,374.60h2.20M199.52,373.50v2.20M198.75,373.83l1.54,1.54M198.75,375.37l1.54,-1.54" stroke="#0000ff" stroke-width="0.45"/><path d="M200.53,374.60h2.20M201.63,373.50v2.20M200.86,373.83l1.54,1.54M200.86,375.37l1.54,-1.54" stroke="#0000ff" stroke-width="0.45"/><path d="M202.64,374.60h2.20M203.74,373.50v2.20M202.97,373.83l1.54,1.54M202.97,375.37l1.54,-1.54" stroke="#0000ff" stroke-width="0.45"/><path d="M204.75,374.60h2.20M205.85,373.50v2.20M205.08,373.83l1.54,1.54M205.08,375.37l1.54,-1.54" stroke="#0000ff" stroke-width="0.45"/><path d="M206.86,374.60h2.20M207.96,373.50v2.20M207.19,373.83l1.54,1.54M207.19,375.37l1.54,-1.54" stroke="#0000ff" stroke-width="0.45"/><path d="M208.97,374.60h2.20M210.07,373.50v2.20M209.30,373.83l1.54,1.54M209.30,375.37l1.54,-1.54" stroke="#0000ff" stroke-width="0.45"/><path d="M211.08,374.60h2.20M212.18,373.50v2.20M211.41,373.83l1.54,1.54M211.41,375.37l1.54,-1.54" stroke="#0000ff" stroke-width="0.45"/><path d="M213.19,374.60h2.20M214.29,373.50v2.20M213.52,373.83l1.54,1.54M213.52,375.37l1.54,-1.54" stroke="#0000ff" stroke-width="0.45"/><path d="M215.30,374.60h2.20M216.40,373.50v2.20M215.63,373.83l1.54,1.54M215.63,375.37l1.54,-1.54" stroke="#0000ff" stroke-width="0.45"/><path d="M217.41,374.60h2.20M218.51,373.50v2.20M217.74,373.83l1.54,1.54M217.74,375.37l1.54,-1.54" stroke="#0000ff" stroke-width="0.45"/><path d="M219.52,374.60h2.20M220.62,373.50v2.20M219.85,373.83l1.54,1.54M219.85,375.37l1.54,-1.54" stroke="#0000ff" stroke-width="0.45"/><path d="M221.63,374.60h2.20M222.73,373.50v2.20M221.96,373.83l1.54,1.54M221.96,375.37l1.54,-1.54" stroke="#0000ff" stroke-width="0.45"/><path d="M223.74,374.60h2.20M224.84,373.50v2.20M224.07,373.83l1.54,1.54M224.07,375.37l1.54,-1.54" stroke="#0000ff" stroke-width="0.45"/><path d="M225.85,374.60h2.20M226.95,373.50v2.20M226.18,373.83l1.54,1.54M226.18,375.37l1.54,-1.54" stroke="#0000ff" stroke-width="0.45"/><path d="M227.96,374.60h2.20M229.06,373.50v2.20M228.29,373.83l1.54,1.54M228.29,375.37l1.54,-1.54" stroke="#0000ff" stroke-width="0.45"/><path d="M230.07,374.60h2.20M231.17,373.50v2.20M230.40,373.83l1.54,1.54M230.40,375.37l1.54,-1.54" stroke="#0000ff" stroke-width="0.45"/><path d="M232.18,374.60h2.20M233.28,373.50v2.20M232.51,373.83l1.54,1.54M232.51,375.37l1.54,-1.54" stroke="#0000ff" stroke-width="0.45"/><path d="M234.29,374.60h2.20M235.39,373.50v2.20M234.62,373.83l1.54,1.54M234.62,375.37l1.54,-1.54" stroke="#0000ff" stroke-width="0.45"/><path d="M236.40,374.60h2.20M237.50,373.50v2.20M236.73,373.83l1.54,1.54M236.73,375.37l1.54,-1.54" stroke="#0000ff" stroke-width="0.45"/></g>
<path d="M28.00,378.00 L45.70,378.00 L45.70,381.00 L237.50,381.00" fill="none" stroke="#0000ff" stroke-width="0.6" opacity="0.6"/>
<g opacity="1.0"><path d="M27.61,378.00h2.00M28.61,377.00v2.00" stroke="#0000ff" stroke-width="0.45"/><path d="M29.72,378.00h2.00M30.72,377.00v2.00" stroke="#0000ff" stroke-width="0.45"/><path d="M31.83,378.00h2.00M32.83,377.00v2.00" stroke="#0000ff" stroke-width="0.45"/><path d="M33.94,378.00h2.00M34.94,377.00v2.00" stroke="#0000ff" stroke-width="0.45"/><path d="M36.05,378.00h2.00M37.05,377.00v2.00" stroke="#0000ff" stroke-width="0.45"/><path d="M38.16,378.00h2.00M39.16,377.00v2.00" stroke="#0000ff" stroke-width="0.45"/><path d="M40.27,378.00h2.00M41.27,377.00v2.00" stroke="#0000ff" stroke-width="0.45"/><path d="M42.38,378.00h2.00M43.38,377.00v2.00" stroke="#0000ff" stroke-width="0.45"/><path d="M44.49,378.00h2.00M45.49,377.00v2.00" stroke="#0000ff" stroke-width="0.45"/><path d="M46.60,381.00h2.00M47.60,380.00v2.00" stroke="#0000ff" stroke-width="0.45"/><path d="M48.71,381.00h2.00M49.71,380.00v2.00" stroke="#0000ff" stroke-width="0.45"/><path d="M50.82,381.00h2.00M51.82,380.00v2.00" stroke="#0000ff" stroke-width="0.45"/><path d="M52.93,381.00h2.00M53.93,380.00v2.00" stroke="#0000ff" stroke-width="0.45"/><path d="M55.04,381.00h2.00M56.04,380.00v2.00" stroke="#0000ff" stroke-width="0.45"/><path d="M57.15,381.00h2.00M58.15,380.00v2.00" stroke="#0000ff" stroke-width="0.45"/><path d="M59.26,381.00h2.00M60.26,380.00v2.00" stroke="#0000ff" stroke-width="0.45"/><path d="M61.37,381.00h2.00M62.37,380.00v2.00" stroke="#0000ff" stroke-width="0.45"/><path d="M63.48,381.00h2.00M64.48,380.00v2.00" stroke="#0000ff" stroke-width="0.45"/><path d="M65.59,381.00h2.00M66.59,380.00v2.00" stroke="#0000ff" stroke-width="0.45"/><path d="M67.70,381.00h2.00M68.70,380.00v2.00" stroke="#0000ff" stroke-width="0.45"/><path d="M69.81,381.00h2.00M70.81,380.00v2.00" stroke="#0000ff" stroke-width="0.45"/><path d="M71.92,381.00h2.00M72.92,380.00v2.00" stroke="#0000ff" stroke-width="0.45"/><path d="M74.03,381.00h2.00M75.03,380.00v2.00" stroke="#0000ff" stroke-width="0.45"/><path d="M76.14,381.00h2.00M77.14,380.00v2.00" stroke="#0000ff" stroke-width="0.45"/><path d="M78.25,381.00h2.00M79.25,380.00v2.00" stroke="#0000ff" stroke-width="0.45"/><path d="M80.36,381.00h2.00M81.36,380.00v2.00" stroke="#0000ff" stroke-width="0.45"/><path d="M82.47,381.00h2.00M83.47,380.00v2.00" stroke="#0000ff" stroke-width="0.45"/><path d="M84.58,381.00h2.00M85.58,380.00v2.00" stroke="#0000ff" stroke-width="0.45"/><path d="M86.69,381.00h2.00M87.69,380.00v2.00" stroke="#0000ff" stroke-width="0.45"/><path d="M88.80,381.00h2.00M89.80,380.00v2.00" stroke="#0000ff" stroke-width="0.45"/><path d="M90.91,381.00h2.00M91.91,380.00v2.00" stroke="#0000ff" stroke-width="0.45"/><path d="M93.02,381.00h2.00M94.02,380.00v2.00" stroke="#0000ff" stroke-width="0.45"/><path d="M95.13,381.00h2.00M96.13,380.00v2.00" stroke="#0000ff" stroke-width="0.45"/><path d="M97.24,381.00h2.00M98.24,380.00v2.00" stroke="#0000ff" stroke-width="0.45"/><path d="M99.35,381.00h2.00M100.35,380.00v2.00" stroke="#0000ff" stroke-width="0.45"/><path d="M101.46,381.00h2.00M102.46,380.00v2.00" stroke="#0000ff" stroke-width="0.45"/><path d="M103.57,381.00h2.00M104.57,380.00v2.00" stroke="#0000ff" stroke-width="0.45"/><path d="M105.68,381.00h2.00M106.68,380.00v2.00" stroke="#0000ff" stroke-width="0.45"/><path d="M107.79,381.00h2.00M108.79,380.00v2.00" stroke="#0000ff" stroke-width="0.45"/><path d="M109.90,381.00h2.00M110.90,380.00v2.00" stroke="#0000ff" stroke-width="0.45"/><path d="M112.01,381.00h2.00M113.01,380.00v2.00" stroke="#0000ff" stroke-width="0.45"/><path d="M114.12,381.00h2.00M115.12,380.00v2.00" stroke="#0000ff" stroke-width="0.45"/><path d="M116.23,381.00h2.00M117.23,380.00v2.00" stroke="#0000ff" stroke-width="0.45"/><path d="M118.34,381.00h2.00M119.34,380.00v2.00" stroke="#0000ff" stroke-width="0.45"/><path d="M120.45,381.00h2.00M121.45,380.00v2.00" stroke="#0000ff" stroke-width="0.45"/><path d="M122.56,381.00h2.00M123.56,380.00v2.00" stroke="#0000ff" stroke-width="0.45"/><path d="M124.67,381.00h2.00M125.67,380.00v2.00" stroke="#0000ff" stroke-width="0.45"/><path d="M126.78,381.00h2.00M127.78,380.00v2.00" stroke="#0000ff" stroke-width="0.45"/><path d="M128.89,381.00h2.00M129.89,380.00v2.00" stroke="#0000ff" stroke-width="0.45"/><path d="M131.00,381.00h2.00M132.00,380.00v2.00" stroke="#0000ff" stroke-width="0.45"/><path d="M133.11,381.00h2.00M134.11,380.00v2.00" stroke="#0000ff" stroke-width="0.45"/><path d="M135.22,381.00h2.00M136.22,380.00v2.00" stroke="#0000ff" stroke-width="0.45"/><path d="M137.33,381.00h2.00M138.33,380.00v2.00" stroke="#0000ff" stroke-width="0.45"/><path d="M139.44,381.00h2.00M140.44,380.00v2.00" stroke="#0000ff" stroke-width="0.45"/><path d="M141.55,381.00h2.00M142.55,380.00v2.00" stroke="#0000ff" stroke-width="0.45"/><path d="M143.66,381.00h2.00M144.66,380.00v2.00" stroke="#0000ff" stroke-width="0.45"/><path d="M145.77,381.00h2.00M146.77,380.00v2.00" stroke="#0000ff" stroke-width="0.45"/><path d="M147.88,381.00h2.00M148.88,380.00v2.00" stroke="#0000ff" stroke-width="0.45"/><path d="M149.99,381.00h2.00M150.99,380.00v2.00" stroke="#0000ff" stroke-width="0.45"/><path d="M152.10,381.00h2.00M153.10,380.00v2.00" stroke="#0000ff" stroke-width="0.45"/><path d="M154.21,381.00h2.00M155.21,380.00v2.00" stroke="#0000ff" stroke-width="0.45"/><path d="M156.32,381.00h2.00M157.32,380.00v2.00" stroke="#0000ff" stroke-width="0.45"/><path d="M158.43,381.00h2.00M159.43,380.00v2.00" stroke="#0000ff" stroke-width="0.45"/><path d="M160.54,381.00h2.00M161.54,380.00v2.00" stroke="#0000ff" stroke-width="0.45"/><path d="M162.65,381.00h2.00M163.65,380.00v2.00" stroke="#0000ff" stroke-width="0.45"/><path d="M164.76,381.00h2.00M165.76,380.00v2.00" stroke="#0000ff" stroke-width="0.45"/><path d="M166.87,381.00h2.00M167.87,380.00v2.00" stroke="#0000ff" stroke-width="0.45"/><path d="M168.98,381.00h2.00M169.98,380.00v2.00" stroke="#0000ff" stroke-width="0.45"/><path d="M171.09,381.00h2.00M172.09,380.00v2.00" stroke="#0000ff" stroke-width="0.45"/><path d="M173.20,381.00h2.00M174.20,380.00v2.00" stroke="#0000ff" stroke-width="0.45"/><path d="M175.31,381.00h2.00M176.31,380.00v2.00" stroke="#0000ff" stroke-width="0.45"/><path d="M177.42,381.00h2.00M178.42,380.00v2.00" stroke="#0000ff" stroke-width="0.45"/><path d="M179.53,381.00h2.00M180.53,380.00v2.00" stroke="#0000ff" stroke-width="0.45"/><path d="M181.64,381.00h2.00M182.64,380.00v2.00" stroke="#0000ff" stroke-width="0.45"/><path d="M183.75,381.00h2.00M184.75,380.00v2.00" stroke="#0000ff" stroke-width="0.45"/><path d="M185.86,381.00h2.00M186.86,380.00v2.00" stroke="#0000ff" stroke-width="0.45"/><path d="M187.97,381.00h2.00M188.97,380.00v2.00" stroke="#0000ff" stroke-width="0.45"/><path d="M190.08,381.00h2.00M191.08,380.00v2.00" stroke="#0000ff" stroke-width="0.45"/><path d="M192.19,381.00h2.00M193.19,380.00v2.00" stroke="#0000ff" stroke-width="0.45"/><path d="M194.30,381.00h2.00M195.30,380.00v2.00" stroke="#0000ff" stroke-width="0.45"/><path d="M196.41,381.00h2.00M197.41,380.00v2.00" stroke="#0000ff" stroke-width="0.45"/><path d="M198.52,381.00h2.00M199.52,380.00v2.00" stroke="#0000ff" stroke-width="0.45"/><path d="M200.63,381.00h2.00M201.63,380.00v2.00" stroke="#0000ff" stroke-width="0.45"/><path d="M202.74,381.00h2.00M203.74,380.00v2.00" stroke="#0000ff" stroke-width="0.45"/><path d="M204.85,381.00h2.00M205.85,380.00v2.00" stroke="#0000ff" stroke-width="0.45"/><path d="M206.96,381.00h2.00M207.96,380.00v2.00" stroke="#0000ff" stroke-width="0.45"/><path d="M209.07,381.00h2.00M210.07,380.00v2.00" stroke="#0000ff" stroke-width="0.45"/><path d="M211.18,381.00h2.00M212.18,380.00v2.00" stroke="#0000ff" stroke-width="0.45"/><path d="M213.29,381.00h2.00M214.29,380.00v2.00" stroke="#0000ff" stroke-width="0.45"/><path d="M215.40,381.00h2.00M216.40,380.00v2.00" stroke="#0000ff" stroke-width="0.45"/><path d="M217.51,381.00h2.00M218.51,380.00v2.00" stroke="#0000ff" stroke-width="0.45"/><path d="M219.62,381.00h2.00M220.62,380.00v2.00" stroke="#0000ff" stroke-width="0.45"/><path d="M221.73,381.00h2.00M222.73,380.00v2.00" stroke="#0000ff" stroke-width="0.45"/><path d="M223.84,381.00h2.00M224.84,380.00v2.00" stroke="#0000ff" stroke-width="0.45"/><path d="M225.95,381.00h2.00M226.95,380.00v2.00" stroke="#0000ff" stroke-width="0.45"/><path d="M228.06,381.00h2.00M229.06,380.00v2.00" stroke="#0000ff" stroke-width="0.45"/><path d="M230.17,381.00h2.00M231.17,380.00v2.00" stroke="#0000ff" stroke-width="0.45"/><path d="M232.28,381.00h2.00M233.28,380.00v2.00" stroke="#0000ff" stroke-width="0.45"/><path d="M234.39,381.00h2.00M235.39,380.00v2.00" stroke="#0000ff" stroke-width="0.45"/><path d="M236.50,381.00h2.00M237.50,380.00v2.00" stroke="#0000ff" stroke-width="0.45"/></g>
<rect x="189.4" y="227.5" width="42.900000000000006" height="87.30000000000001" fill="#fff" stroke="#9a9a9a" stroke-width="0.8"/>
<path d="M191.2,232.70 H210.4" stroke="#c4c4c4" stroke-width="1.6"/>
<text x="212.5" y="234.92" font-size="6.2" text-anchor="start" font-weight="normal" fill="#111" stroke="#111" stroke-width="0.18" textLength="13.9" lengthAdjust="spacingAndGlyphs">IAS 1</text>
<path d="M191.2,241.33 H210.4" stroke="#000000" stroke-width="0.6"/>
<circle cx="200.80" cy="241.33" r="0.75" fill="#000000"/>
<text x="212.5" y="243.55" font-size="6.2" text-anchor="start" font-weight="normal" fill="#111" stroke="#111" stroke-width="0.18" textLength="13.9" lengthAdjust="spacingAndGlyphs">IAS 2</text>
<path d="M191.2,249.96 H210.4" stroke="#000000" stroke-width="0.7" stroke-dasharray="1,1.2"/>
<circle cx="200.80" cy="249.96" r="0.75" fill="#000000"/>
<text x="212.5" y="252.18" font-size="6.2" text-anchor="start" font-weight="normal" fill="#111" stroke="#111" stroke-width="0.18" textLength="13.9" lengthAdjust="spacingAndGlyphs">IAS 3</text>
<path d="M191.2,258.59 H210.4" stroke="#000000" stroke-width="0.7" stroke-dasharray="1,1.2"/>
<circle cx="200.80" cy="258.59" r="1.30" fill="none" stroke="#000000" stroke-width="0.45"/>
<text x="212.5" y="260.81" font-size="6.2" text-anchor="start" font-weight="normal" fill="#111" stroke="#111" stroke-width="0.18" textLength="13.9" lengthAdjust="spacingAndGlyphs">IAS 4</text>
<path d="M191.2,267.22 H210.4" stroke="#ff0000" stroke-width="0.7" stroke-dasharray="1,1.2"/>
<text x="212.5" y="269.44" font-size="6.2" text-anchor="start" font-weight="normal" fill="#111" stroke="#111" stroke-width="0.18" textLength="13.9" lengthAdjust="spacingAndGlyphs">IAS 5</text>
<path d="M191.2,275.85 H210.4" stroke="#ff0000" stroke-width="0.7" stroke-dasharray="1,1.2"/>
<circle cx="200.80" cy="275.85" r="0.75" fill="#ff0000"/>
<text x="212.5" y="278.07" font-size="6.2" text-anchor="start" font-weight="normal" fill="#111" stroke="#111" stroke-width="0.18" textLength="13.9" lengthAdjust="spacingAndGlyphs">IAS 6</text>
<path d="M191.2,284.48 H210.4" stroke="#ff0000" stroke-width="0.6"/>
<path d="M199.60,282.98L202.30,284.48L199.60,285.98Z" fill="none" stroke="#ff0000" stroke-width="0.45"/>
<text x="212.5" y="286.7" font-size="6.2" text-anchor="start" font-weight="normal" fill="#111" stroke="#111" stroke-width="0.18" textLength="13.9" lengthAdjust="spacingAndGlyphs">IAS 7</text>
<path d="M191.2,293.11 H210.4" stroke="#ff0000" stroke-width="0.6"/>
<path d="M199.80,293.11h2.00M200.80,292.11v2.00M200.10,292.41l1.40,1.40M200.10,293.81l1.40,-1.40" stroke="#ff0000" stroke-width="0.45"/>
<text x="212.5" y="295.33" font-size="6.2" text-anchor="start" font-weight="normal" fill="#111" stroke="#111" stroke-width="0.18" textLength="13.9" lengthAdjust="spacingAndGlyphs">IAS 8</text>
<path d="M191.2,301.74 H210.4" stroke="#0000ff" stroke-width="0.7"/>
<circle cx="200.80" cy="301.74" r="0.90" fill="#0000ff"/>
<text x="212.5" y="303.96" font-size="6.2" text-anchor="start" font-weight="normal" fill="#111" stroke="#111" stroke-width="0.18" textLength="13.9" lengthAdjust="spacingAndGlyphs">IAS 9</text>
<path d="M191.2,310.37 H210.4" stroke="#7070ff" stroke-width="0.7"/>
<path d="M199.80,310.37h2.00M200.80,309.37v2.00" stroke="#7070ff" stroke-width="0.45"/>
<text x="212.5" y="312.59" font-size="6.2" text-anchor="start" font-weight="normal" fill="#111" stroke="#111" stroke-width="0.18" textLength="17.097" lengthAdjust="spacingAndGlyphs">IAS 10</text>
<path d="M297.5,232.7 V390.5 H539" fill="none" stroke="#9a9a9a" stroke-width="1"/>
<path d="M297,390.50 h2.2" stroke="#9a9a9a" stroke-width="0.8"/>
<text x="294.3" y="392.9" font-size="6.7" text-anchor="end" font-weight="normal" fill="#1e1e1e" stroke="#1e1e1e" stroke-width="0.18" textLength="10.71" lengthAdjust="spacingAndGlyphs">1.7</text>
<path d="M297,370.77 h2.2" stroke="#9a9a9a" stroke-width="0.8"/>
<text x="294.3" y="373.17" font-size="6.7" text-anchor="end" font-weight="normal" fill="#1e1e1e" stroke="#1e1e1e" stroke-width="0.18" textLength="10.71" lengthAdjust="spacingAndGlyphs">1.8</text>
<path d="M297,351.05 h2.2" stroke="#9a9a9a" stroke-width="0.8"/>
<text x="294.3" y="353.45" font-size="6.7" text-anchor="end" font-weight="normal" fill="#1e1e1e" stroke="#1e1e1e" stroke-width="0.18" textLength="10.71" lengthAdjust="spacingAndGlyphs">1.9</text>
<path d="M297,331.32 h2.2" stroke="#9a9a9a" stroke-width="0.8"/>
<text x="294.3" y="333.72" font-size="6.7" text-anchor="end" font-weight="normal" fill="#1e1e1e" stroke="#1e1e1e" stroke-width="0.18" textLength="4.28" lengthAdjust="spacingAndGlyphs">2</text>
<path d="M297,311.60 h2.2" stroke="#9a9a9a" stroke-width="0.8"/>
<text x="294.3" y="314.0" font-size="6.7" text-anchor="end" font-weight="normal" fill="#1e1e1e" stroke="#1e1e1e" stroke-width="0.18" textLength="10.71" lengthAdjust="spacingAndGlyphs">2.1</text>
<path d="M297,291.87 h2.2" stroke="#9a9a9a" stroke-width="0.8"/>
<text x="294.3" y="294.27" font-size="6.7" text-anchor="end" font-weight="normal" fill="#1e1e1e" stroke="#1e1e1e" stroke-width="0.18" textLength="10.71" lengthAdjust="spacingAndGlyphs">2.2</text>
<path d="M297,272.15 h2.2" stroke="#9a9a9a" stroke-width="0.8"/>
<text x="294.3" y="274.55" font-size="6.7" text-anchor="end" font-weight="normal" fill="#1e1e1e" stroke="#1e1e1e" stroke-width="0.18" textLength="10.71" lengthAdjust="spacingAndGlyphs">2.3</text>
<path d="M297,252.43 h2.2" stroke="#9a9a9a" stroke-width="0.8"/>
<text x="294.3" y="254.83" font-size="6.7" text-anchor="end" font-weight="normal" fill="#1e1e1e" stroke="#1e1e1e" stroke-width="0.18" textLength="10.71" lengthAdjust="spacingAndGlyphs">2.4</text>
<path d="M297,232.70 h2.2" stroke="#9a9a9a" stroke-width="0.8"/>
<text x="294.3" y="235.1" font-size="6.7" text-anchor="end" font-weight="normal" fill="#1e1e1e" stroke="#1e1e1e" stroke-width="0.18" textLength="10.71" lengthAdjust="spacingAndGlyphs">2.5</text>
<path d="M297.00,390.5 v-2.2" stroke="#9a9a9a" stroke-width="0.8"/>
<text x="297.0" y="399.9" font-size="6.7" text-anchor="middle" font-weight="normal" fill="#1e1e1e" stroke="#1e1e1e" stroke-width="0.18" textLength="4.28" lengthAdjust="spacingAndGlyphs">0</text>
<path d="M345.40,390.5 v-2.2" stroke="#9a9a9a" stroke-width="0.8"/>
<text x="345.4" y="399.9" font-size="6.7" text-anchor="middle" font-weight="normal" fill="#1e1e1e" stroke="#1e1e1e" stroke-width="0.18" textLength="8.57" lengthAdjust="spacingAndGlyphs">20</text>
<path d="M393.80,390.5 v-2.2" stroke="#9a9a9a" stroke-width="0.8"/>
<text x="393.8" y="399.9" font-size="6.7" text-anchor="middle" font-weight="normal" fill="#1e1e1e" stroke="#1e1e1e" stroke-width="0.18" textLength="8.57" lengthAdjust="spacingAndGlyphs">40</text>
<path d="M442.20,390.5 v-2.2" stroke="#9a9a9a" stroke-width="0.8"/>
<text x="442.2" y="399.9" font-size="6.7" text-anchor="middle" font-weight="normal" fill="#1e1e1e" stroke="#1e1e1e" stroke-width="0.18" textLength="8.57" lengthAdjust="spacingAndGlyphs">60</text>
<path d="M490.60,390.5 v-2.2" stroke="#9a9a9a" stroke-width="0.8"/>
<text x="490.6" y="399.9" font-size="6.7" text-anchor="middle" font-weight="normal" fill="#1e1e1e" stroke="#1e1e1e" stroke-width="0.18" textLength="8.57" lengthAdjust="spacingAndGlyphs">80</text>
<path d="M539.00,390.5 v-2.2" stroke="#9a9a9a" stroke-width="0.8"/>
<text x="539.0" y="399.9" font-size="6.7" text-anchor="middle" font-weight="normal" fill="#1e1e1e" stroke="#1e1e1e" stroke-width="0.18" textLength="12.85" lengthAdjust="spacingAndGlyphs">100</text>
<text x="419.65" y="231.0" font-size="7.5" text-anchor="middle" font-weight="bold" fill="#111" stroke="#111" stroke-width="0.18" textLength="71.6" lengthAdjust="spacingAndGlyphs">Dataset: Wine.mat</text>
<text x="418.2" y="409.0" font-size="7.5" text-anchor="middle" font-weight="normal" fill="#333" stroke="#333" stroke-width="0.18" textLength="30.3" lengthAdjust="spacingAndGlyphs">Iteration</text>
<text transform="translate(280.2,311.5) rotate(-90)" x="0" y="0" font-size="8.5" text-anchor="middle" font-weight="normal" fill="#333" stroke="#333" stroke-width="0.18" textLength="37.8" lengthAdjust="spacingAndGlyphs">Best Fitness</text>
<text x="297.7" y="231.4" font-size="7.6" fill="#1e1e1e" stroke="#1e1e1e" stroke-width="0.15"><tspan font-size="6.84" stroke-width="0">&#215;</tspan><tspan dx="1.6">10</tspan><tspan font-size="5.17" dx="0.6" dy="-3.80">4</tspan></text>
<path d="M297.50,293.00 L306.00,298.00 L307.00,352.10 L325.30,352.10 L325.30,381.90 L539.00,381.90" fill="none" stroke="#7a7a7a" stroke-width="0.75" opacity="0.6"/>
<path d="M299.60,250.60 L299.60,315.90 L320.00,315.90 L320.00,352.10 L363.00,352.10 L368.00,358.90 L368.00,375.50 L478.00,375.50 L539.00,375.50" fill="none" stroke="#000000" stroke-width="0.52" stroke-dasharray="3,1.5" opacity="0.6"/>
<g opacity="1.0"><path d="M300.84,315.90h2.00M301.84,314.90v2.00" stroke="#000000" stroke-width="0.45"/><path d="M303.26,315.90h2.00M304.26,314.90v2.00" stroke="#000000" stroke-width="0.45"/><path d="M305.68,315.90h2.00M306.68,314.90v2.00" stroke="#000000" stroke-width="0.45"/><path d="M308.10,315.90h2.00M309.10,314.90v2.00" stroke="#000000" stroke-width="0.45"/><path d="M310.52,315.90h2.00M311.52,314.90v2.00" stroke="#000000" stroke-width="0.45"/><path d="M312.94,315.90h2.00M313.94,314.90v2.00" stroke="#000000" stroke-width="0.45"/><path d="M315.36,315.90h2.00M316.36,314.90v2.00" stroke="#000000" stroke-width="0.45"/><path d="M317.78,315.90h2.00M318.78,314.90v2.00" stroke="#000000" stroke-width="0.45"/><path d="M320.20,352.10h2.00M321.20,351.10v2.00" stroke="#000000" stroke-width="0.45"/><path d="M322.62,352.10h2.00M323.62,351.10v2.00" stroke="#000000" stroke-width="0.45"/><path d="M325.04,352.10h2.00M326.04,351.10v2.00" stroke="#000000" stroke-width="0.45"/><path d="M327.46,352.10h2.00M328.46,351.10v2.00" stroke="#000000" stroke-width="0.45"/><path d="M329.88,352.10h2.00M330.88,351.10v2.00" stroke="#000000" stroke-width="0.45"/><path d="M332.30,352.10h2.00M333.30,351.10v2.00" stroke="#000000" stroke-width="0.45"/><path d="M334.72,352.10h2.00M335.72,351.10v2.00" stroke="#000000" stroke-width="0.45"/><path d="M337.14,352.10h2.00M338.14,351.10v2.00" stroke="#000000" stroke-width="0.45"/><path d="M339.56,352.10h2.00M340.56,351.10v2.00" stroke="#000000" stroke-width="0.45"/><path d="M341.98,352.10h2.00M342.98,351.10v2.00" stroke="#000000" stroke-width="0.45"/><path d="M344.40,352.10h2.00M345.40,351.10v2.00" stroke="#000000" stroke-width="0.45"/><path d="M346.82,352.10h2.00M347.82,351.10v2.00" stroke="#000000" stroke-width="0.45"/><path d="M349.24,352.10h2.00M350.24,351.10v2.00" stroke="#000000" stroke-width="0.45"/><path d="M351.66,352.10h2.00M352.66,351.10v2.00" stroke="#000000" stroke-width="0.45"/><path d="M354.08,352.10h2.00M355.08,351.10v2.00" stroke="#000000" stroke-width="0.45"/><path d="M356.50,352.10h2.00M357.50,351.10v2.00" stroke="#000000" stroke-width="0.45"/><path d="M358.92,352.10h2.00M359.92,351.10v2.00" stroke="#000000" stroke-width="0.45"/><path d="M361.34,352.10h2.00M362.34,351.10v2.00" stroke="#000000" stroke-width="0.45"/><path d="M363.76,354.49h2.00M364.76,353.49v2.00" stroke="#000000" stroke-width="0.45"/><path d="M366.18,357.78h2.00M367.18,356.78v2.00" stroke="#000000" stroke-width="0.45"/><path d="M368.60,375.50h2.00M369.60,374.50v2.00" stroke="#000000" stroke-width="0.45"/><path d="M371.02,375.50h2.00M372.02,374.50v2.00" stroke="#000000" stroke-width="0.45"/><path d="M373.44,375.50h2.00M374.44,374.50v2.00" stroke="#000000" stroke-width="0.45"/><path d="M375.86,375.50h2.00M376.86,374.50v2.00" stroke="#000000" stroke-width="0.45"/><path d="M378.28,375.50h2.00M379.28,374.50v2.00" stroke="#000000" stroke-width="0.45"/><path d="M380.70,375.50h2.00M381.70,374.50v2.00" stroke="#000000" stroke-width="0.45"/><path d="M383.12,375.50h2.00M384.12,374.50v2.00" stroke="#000000" stroke-width="0.45"/><path d="M385.54,375.50h2.00M386.54,374.50v2.00" stroke="#000000" stroke-width="0.45"/><path d="M387.96,375.50h2.00M388.96,374.50v2.00" stroke="#000000" stroke-width="0.45"/><path d="M390.38,375.50h2.00M391.38,374.50v2.00" stroke="#000000" stroke-width="0.45"/><path d="M392.80,375.50h2.00M393.80,374.50v2.00" stroke="#000000" stroke-width="0.45"/><path d="M395.22,375.50h2.00M396.22,374.50v2.00" stroke="#000000" stroke-width="0.45"/><path d="M397.64,375.50h2.00M398.64,374.50v2.00" stroke="#000000" stroke-width="0.45"/><path d="M400.06,375.50h2.00M401.06,374.50v2.00" stroke="#000000" stroke-width="0.45"/><path d="M402.48,375.50h2.00M403.48,374.50v2.00" stroke="#000000" stroke-width="0.45"/><path d="M404.90,375.50h2.00M405.90,374.50v2.00" stroke="#000000" stroke-width="0.45"/><path d="M407.32,375.50h2.00M408.32,374.50v2.00" stroke="#000000" stroke-width="0.45"/><path d="M409.74,375.50h2.00M410.74,374.50v2.00" stroke="#000000" stroke-width="0.45"/><path d="M412.16,375.50h2.00M413.16,374.50v2.00" stroke="#000000" stroke-width="0.45"/><path d="M414.58,375.50h2.00M415.58,374.50v2.00" stroke="#000000" stroke-width="0.45"/><path d="M417.00,375.50h2.00M418.00,374.50v2.00" stroke="#000000" stroke-width="0.45"/><path d="M419.42,375.50h2.00M420.42,374.50v2.00" stroke="#000000" stroke-width="0.45"/><path d="M421.84,375.50h2.00M422.84,374.50v2.00" stroke="#000000" stroke-width="0.45"/><path d="M424.26,375.50h2.00M425.26,374.50v2.00" stroke="#000000" stroke-width="0.45"/><path d="M426.68,375.50h2.00M427.68,374.50v2.00" stroke="#000000" stroke-width="0.45"/><path d="M429.10,375.50h2.00M430.10,374.50v2.00" stroke="#000000" stroke-width="0.45"/><path d="M431.52,375.50h2.00M432.52,374.50v2.00" stroke="#000000" stroke-width="0.45"/><path d="M433.94,375.50h2.00M434.94,374.50v2.00" stroke="#000000" stroke-width="0.45"/><path d="M436.36,375.50h2.00M437.36,374.50v2.00" stroke="#000000" stroke-width="0.45"/><path d="M438.78,375.50h2.00M439.78,374.50v2.00" stroke="#000000" stroke-width="0.45"/><path d="M441.20,375.50h2.00M442.20,374.50v2.00" stroke="#000000" stroke-width="0.45"/><path d="M443.62,375.50h2.00M444.62,374.50v2.00" stroke="#000000" stroke-width="0.45"/><path d="M446.04,375.50h2.00M447.04,374.50v2.00" stroke="#000000" stroke-width="0.45"/><path d="M448.46,375.50h2.00M449.46,374.50v2.00" stroke="#000000" stroke-width="0.45"/><path d="M450.88,375.50h2.00M451.88,374.50v2.00" stroke="#000000" stroke-width="0.45"/><path d="M453.30,375.50h2.00M454.30,374.50v2.00" stroke="#000000" stroke-width="0.45"/><path d="M455.72,375.50h2.00M456.72,374.50v2.00" stroke="#000000" stroke-width="0.45"/><path d="M458.14,375.50h2.00M459.14,374.50v2.00" stroke="#000000" stroke-width="0.45"/><path d="M460.56,375.50h2.00M461.56,374.50v2.00" stroke="#000000" stroke-width="0.45"/><path d="M462.98,375.50h2.00M463.98,374.50v2.00" stroke="#000000" stroke-width="0.45"/><path d="M465.40,375.50h2.00M466.40,374.50v2.00" stroke="#000000" stroke-width="0.45"/><path d="M467.82,375.50h2.00M468.82,374.50v2.00" stroke="#000000" stroke-width="0.45"/><path d="M470.24,375.50h2.00M471.24,374.50v2.00" stroke="#000000" stroke-width="0.45"/><path d="M472.66,375.50h2.00M473.66,374.50v2.00" stroke="#000000" stroke-width="0.45"/><path d="M475.08,375.50h2.00M476.08,374.50v2.00" stroke="#000000" stroke-width="0.45"/><path d="M477.50,375.50h2.00M478.50,374.50v2.00" stroke="#000000" stroke-width="0.45"/><path d="M479.92,375.50h2.00M480.92,374.50v2.00" stroke="#000000" stroke-width="0.45"/><path d="M482.34,375.50h2.00M483.34,374.50v2.00" stroke="#000000" stroke-width="0.45"/><path d="M484.76,375.50h2.00M485.76,374.50v2.00" stroke="#000000" stroke-width="0.45"/><path d="M487.18,375.50h2.00M488.18,374.50v2.00" stroke="#000000" stroke-width="0.45"/><path d="M489.60,375.50h2.00M490.60,374.50v2.00" stroke="#000000" stroke-width="0.45"/><path d="M492.02,375.50h2.00M493.02,374.50v2.00" stroke="#000000" stroke-width="0.45"/><path d="M494.44,375.50h2.00M495.44,374.50v2.00" stroke="#000000" stroke-width="0.45"/><path d="M496.86,375.50h2.00M497.86,374.50v2.00" stroke="#000000" stroke-width="0.45"/><path d="M499.28,375.50h2.00M500.28,374.50v2.00" stroke="#000000" stroke-width="0.45"/><path d="M501.70,375.50h2.00M502.70,374.50v2.00" stroke="#000000" stroke-width="0.45"/><path d="M504.12,375.50h2.00M505.12,374.50v2.00" stroke="#000000" stroke-width="0.45"/><path d="M506.54,375.50h2.00M507.54,374.50v2.00" stroke="#000000" stroke-width="0.45"/><path d="M508.96,375.50h2.00M509.96,374.50v2.00" stroke="#000000" stroke-width="0.45"/><path d="M511.38,375.50h2.00M512.38,374.50v2.00" stroke="#000000" stroke-width="0.45"/><path d="M513.80,375.50h2.00M514.80,374.50v2.00" stroke="#000000" stroke-width="0.45"/><path d="M516.22,375.50h2.00M517.22,374.50v2.00" stroke="#000000" stroke-width="0.45"/><path d="M518.64,375.50h2.00M519.64,374.50v2.00" stroke="#000000" stroke-width="0.45"/><path d="M521.06,375.50h2.00M522.06,374.50v2.00" stroke="#000000" stroke-width="0.45"/><path d="M523.48,375.50h2.00M524.48,374.50v2.00" stroke="#000000" stroke-width="0.45"/><path d="M525.90,375.50h2.00M526.90,374.50v2.00" stroke="#000000" stroke-width="0.45"/><path d="M528.32,375.50h2.00M529.32,374.50v2.00" stroke="#000000" stroke-width="0.45"/><path d="M530.74,375.50h2.00M531.74,374.50v2.00" stroke="#000000" stroke-width="0.45"/><path d="M533.16,375.50h2.00M534.16,374.50v2.00" stroke="#000000" stroke-width="0.45"/><path d="M535.58,375.50h2.00M536.58,374.50v2.00" stroke="#000000" stroke-width="0.45"/><path d="M538.00,375.50h2.00M539.00,374.50v2.00" stroke="#000000" stroke-width="0.45"/></g>
<path d="M298.00,262.00 L300.00,270.00 L305.00,294.00 L309.30,352.10 L356.00,352.10 L357.00,358.90 L368.00,358.90 L368.00,380.30 L539.00,380.30" fill="none" stroke="#000000" stroke-width="0.52" stroke-dasharray="1,1.2" opacity="0.6"/>
<g opacity="1.0"><circle cx="299.42" cy="267.68" r="1.20" fill="none" stroke="#000000" stroke-width="0.45"/><circle cx="301.84" cy="278.83" r="1.20" fill="none" stroke="#000000" stroke-width="0.45"/><circle cx="304.26" cy="290.45" r="1.20" fill="none" stroke="#000000" stroke-width="0.45"/><circle cx="306.68" cy="316.70" r="1.20" fill="none" stroke="#000000" stroke-width="0.45"/><circle cx="309.10" cy="349.40" r="1.20" fill="none" stroke="#000000" stroke-width="0.45"/><circle cx="311.52" cy="352.10" r="1.20" fill="none" stroke="#000000" stroke-width="0.45"/><circle cx="313.94" cy="352.10" r="1.20" fill="none" stroke="#000000" stroke-width="0.45"/><circle cx="316.36" cy="352.10" r="1.20" fill="none" stroke="#000000" stroke-width="0.45"/><circle cx="318.78" cy="352.10" r="1.20" fill="none" stroke="#000000" stroke-width="0.45"/><circle cx="321.20" cy="352.10" r="1.20" fill="none" stroke="#000000" stroke-width="0.45"/><circle cx="323.62" cy="352.10" r="1.20" fill="none" stroke="#000000" stroke-width="0.45"/><circle cx="326.04" cy="352.10" r="1.20" fill="none" stroke="#000000" stroke-width="0.45"/><circle cx="328.46" cy="352.10" r="1.20" fill="none" stroke="#000000" stroke-width="0.45"/><circle cx="330.88" cy="352.10" r="1.20" fill="none" stroke="#000000" stroke-width="0.45"/><circle cx="333.30" cy="352.10" r="1.20" fill="none" stroke="#000000" stroke-width="0.45"/><circle cx="335.72" cy="352.10" r="1.20" fill="none" stroke="#000000" stroke-width="0.45"/><circle cx="338.14" cy="352.10" r="1.20" fill="none" stroke="#000000" stroke-width="0.45"/><circle cx="340.56" cy="352.10" r="1.20" fill="none" stroke="#000000" stroke-width="0.45"/><circle cx="342.98" cy="352.10" r="1.20" fill="none" stroke="#000000" stroke-width="0.45"/><circle cx="345.40" cy="352.10" r="1.20" fill="none" stroke="#000000" stroke-width="0.45"/><circle cx="347.82" cy="352.10" r="1.20" fill="none" stroke="#000000" stroke-width="0.45"/><circle cx="350.24" cy="352.10" r="1.20" fill="none" stroke="#000000" stroke-width="0.45"/><circle cx="352.66" cy="352.10" r="1.20" fill="none" stroke="#000000" stroke-width="0.45"/><circle cx="355.08" cy="352.10" r="1.20" fill="none" stroke="#000000" stroke-width="0.45"/><circle cx="357.50" cy="358.90" r="1.20" fill="none" stroke="#000000" stroke-width="0.45"/><circle cx="359.92" cy="358.90" r="1.20" fill="none" stroke="#000000" stroke-width="0.45"/><circle cx="362.34" cy="358.90" r="1.20" fill="none" stroke="#000000" stroke-width="0.45"/><circle cx="364.76" cy="358.90" r="1.20" fill="none" stroke="#000000" stroke-width="0.45"/><circle cx="367.18" cy="358.90" r="1.20" fill="none" stroke="#000000" stroke-width="0.45"/><circle cx="369.60" cy="380.30" r="1.20" fill="none" stroke="#000000" stroke-width="0.45"/><circle cx="372.02" cy="380.30" r="1.20" fill="none" stroke="#000000" stroke-width="0.45"/><circle cx="374.44" cy="380.30" r="1.20" fill="none" stroke="#000000" stroke-width="0.45"/><circle cx="376.86" cy="380.30" r="1.20" fill="none" stroke="#000000" stroke-width="0.45"/><circle cx="379.28" cy="380.30" r="1.20" fill="none" stroke="#000000" stroke-width="0.45"/><circle cx="381.70" cy="380.30" r="1.20" fill="none" stroke="#000000" stroke-width="0.45"/><circle cx="384.12" cy="380.30" r="1.20" fill="none" stroke="#000000" stroke-width="0.45"/><circle cx="386.54" cy="380.30" r="1.20" fill="none" stroke="#000000" stroke-width="0.45"/><circle cx="388.96" cy="380.30" r="1.20" fill="none" stroke="#000000" stroke-width="0.45"/><circle cx="391.38" cy="380.30" r="1.20" fill="none" stroke="#000000" stroke-width="0.45"/><circle cx="393.80" cy="380.30" r="1.20" fill="none" stroke="#000000" stroke-width="0.45"/><circle cx="396.22" cy="380.30" r="1.20" fill="none" stroke="#000000" stroke-width="0.45"/><circle cx="398.64" cy="380.30" r="1.20" fill="none" stroke="#000000" stroke-width="0.45"/><circle cx="401.06" cy="380.30" r="1.20" fill="none" stroke="#000000" stroke-width="0.45"/><circle cx="403.48" cy="380.30" r="1.20" fill="none" stroke="#000000" stroke-width="0.45"/><circle cx="405.90" cy="380.30" r="1.20" fill="none" stroke="#000000" stroke-width="0.45"/><circle cx="408.32" cy="380.30" r="1.20" fill="none" stroke="#000000" stroke-width="0.45"/><circle cx="410.74" cy="380.30" r="1.20" fill="none" stroke="#000000" stroke-width="0.45"/><circle cx="413.16" cy="380.30" r="1.20" fill="none" stroke="#000000" stroke-width="0.45"/><circle cx="415.58" cy="380.30" r="1.20" fill="none" stroke="#000000" stroke-width="0.45"/><circle cx="418.00" cy="380.30" r="1.20" fill="none" stroke="#000000" stroke-width="0.45"/><circle cx="420.42" cy="380.30" r="1.20" fill="none" stroke="#000000" stroke-width="0.45"/><circle cx="422.84" cy="380.30" r="1.20" fill="none" stroke="#000000" stroke-width="0.45"/><circle cx="425.26" cy="380.30" r="1.20" fill="none" stroke="#000000" stroke-width="0.45"/><circle cx="427.68" cy="380.30" r="1.20" fill="none" stroke="#000000" stroke-width="0.45"/><circle cx="430.10" cy="380.30" r="1.20" fill="none" stroke="#000000" stroke-width="0.45"/><circle cx="432.52" cy="380.30" r="1.20" fill="none" stroke="#000000" stroke-width="0.45"/><circle cx="434.94" cy="380.30" r="1.20" fill="none" stroke="#000000" stroke-width="0.45"/><circle cx="437.36" cy="380.30" r="1.20" fill="none" stroke="#000000" stroke-width="0.45"/><circle cx="439.78" cy="380.30" r="1.20" fill="none" stroke="#000000" stroke-width="0.45"/><circle cx="442.20" cy="380.30" r="1.20" fill="none" stroke="#000000" stroke-width="0.45"/><circle cx="444.62" cy="380.30" r="1.20" fill="none" stroke="#000000" stroke-width="0.45"/><circle cx="447.04" cy="380.30" r="1.20" fill="none" stroke="#000000" stroke-width="0.45"/><circle cx="449.46" cy="380.30" r="1.20" fill="none" stroke="#000000" stroke-width="0.45"/><circle cx="451.88" cy="380.30" r="1.20" fill="none" stroke="#000000" stroke-width="0.45"/><circle cx="454.30" cy="380.30" r="1.20" fill="none" stroke="#000000" stroke-width="0.45"/><circle cx="456.72" cy="380.30" r="1.20" fill="none" stroke="#000000" stroke-width="0.45"/><circle cx="459.14" cy="380.30" r="1.20" fill="none" stroke="#000000" stroke-width="0.45"/><circle cx="461.56" cy="380.30" r="1.20" fill="none" stroke="#000000" stroke-width="0.45"/><circle cx="463.98" cy="380.30" r="1.20" fill="none" stroke="#000000" stroke-width="0.45"/><circle cx="466.40" cy="380.30" r="1.20" fill="none" stroke="#000000" stroke-width="0.45"/><circle cx="468.82" cy="380.30" r="1.20" fill="none" stroke="#000000" stroke-width="0.45"/><circle cx="471.24" cy="380.30" r="1.20" fill="none" stroke="#000000" stroke-width="0.45"/><circle cx="473.66" cy="380.30" r="1.20" fill="none" stroke="#000000" stroke-width="0.45"/><circle cx="476.08" cy="380.30" r="1.20" fill="none" stroke="#000000" stroke-width="0.45"/><circle cx="478.50" cy="380.30" r="1.20" fill="none" stroke="#000000" stroke-width="0.45"/><circle cx="480.92" cy="380.30" r="1.20" fill="none" stroke="#000000" stroke-width="0.45"/><circle cx="483.34" cy="380.30" r="1.20" fill="none" stroke="#000000" stroke-width="0.45"/><circle cx="485.76" cy="380.30" r="1.20" fill="none" stroke="#000000" stroke-width="0.45"/><circle cx="488.18" cy="380.30" r="1.20" fill="none" stroke="#000000" stroke-width="0.45"/><circle cx="490.60" cy="380.30" r="1.20" fill="none" stroke="#000000" stroke-width="0.45"/><circle cx="493.02" cy="380.30" r="1.20" fill="none" stroke="#000000" stroke-width="0.45"/><circle cx="495.44" cy="380.30" r="1.20" fill="none" stroke="#000000" stroke-width="0.45"/><circle cx="497.86" cy="380.30" r="1.20" fill="none" stroke="#000000" stroke-width="0.45"/><circle cx="500.28" cy="380.30" r="1.20" fill="none" stroke="#000000" stroke-width="0.45"/><circle cx="502.70" cy="380.30" r="1.20" fill="none" stroke="#000000" stroke-width="0.45"/><circle cx="505.12" cy="380.30" r="1.20" fill="none" stroke="#000000" stroke-width="0.45"/><circle cx="507.54" cy="380.30" r="1.20" fill="none" stroke="#000000" stroke-width="0.45"/><circle cx="509.96" cy="380.30" r="1.20" fill="none" stroke="#000000" stroke-width="0.45"/><circle cx="512.38" cy="380.30" r="1.20" fill="none" stroke="#000000" stroke-width="0.45"/><circle cx="514.80" cy="380.30" r="1.20" fill="none" stroke="#000000" stroke-width="0.45"/><circle cx="517.22" cy="380.30" r="1.20" fill="none" stroke="#000000" stroke-width="0.45"/><circle cx="519.64" cy="380.30" r="1.20" fill="none" stroke="#000000" stroke-width="0.45"/><circle cx="522.06" cy="380.30" r="1.20" fill="none" stroke="#000000" stroke-width="0.45"/><circle cx="524.48" cy="380.30" r="1.20" fill="none" stroke="#000000" stroke-width="0.45"/><circle cx="526.90" cy="380.30" r="1.20" fill="none" stroke="#000000" stroke-width="0.45"/><circle cx="529.32" cy="380.30" r="1.20" fill="none" stroke="#000000" stroke-width="0.45"/><circle cx="531.74" cy="380.30" r="1.20" fill="none" stroke="#000000" stroke-width="0.45"/><circle cx="534.16" cy="380.30" r="1.20" fill="none" stroke="#000000" stroke-width="0.45"/><circle cx="536.58" cy="380.30" r="1.20" fill="none" stroke="#000000" stroke-width="0.45"/><circle cx="539.00" cy="380.30" r="1.20" fill="none" stroke="#000000" stroke-width="0.45"/></g>
<path d="M298.00,323.40 L316.50,323.40 L316.50,352.30 L385.50,352.30 L385.50,374.90 L539.00,374.90" fill="none" stroke="#ff0000" stroke-width="0.6" stroke-dasharray="1,1.2" opacity="0.6"/>
<path d="M298.00,316.90 L310.00,316.90 L320.00,314.20 L336.30,314.20 L337.50,372.30 L539.00,372.30" fill="none" stroke="#ff0000" stroke-width="0.52" stroke-dasharray="1,1.2" opacity="0.6"/>
<g opacity="1.0"><circle cx="299.42" cy="316.90" r="0.68" fill="#ff0000"/><circle cx="301.84" cy="316.90" r="0.68" fill="#ff0000"/><circle cx="304.26" cy="316.90" r="0.68" fill="#ff0000"/><circle cx="306.68" cy="316.90" r="0.68" fill="#ff0000"/><circle cx="309.10" cy="316.90" r="0.68" fill="#ff0000"/><circle cx="311.52" cy="316.49" r="0.68" fill="#ff0000"/><circle cx="313.94" cy="315.84" r="0.68" fill="#ff0000"/><circle cx="316.36" cy="315.18" r="0.68" fill="#ff0000"/><circle cx="318.78" cy="314.53" r="0.68" fill="#ff0000"/><circle cx="321.20" cy="314.20" r="0.68" fill="#ff0000"/><circle cx="323.62" cy="314.20" r="0.68" fill="#ff0000"/><circle cx="326.04" cy="314.20" r="0.68" fill="#ff0000"/><circle cx="328.46" cy="314.20" r="0.68" fill="#ff0000"/><circle cx="330.88" cy="314.20" r="0.68" fill="#ff0000"/><circle cx="333.30" cy="314.20" r="0.68" fill="#ff0000"/><circle cx="335.72" cy="314.20" r="0.68" fill="#ff0000"/><circle cx="338.14" cy="372.30" r="0.68" fill="#ff0000"/><circle cx="340.56" cy="372.30" r="0.68" fill="#ff0000"/><circle cx="342.98" cy="372.30" r="0.68" fill="#ff0000"/><circle cx="345.40" cy="372.30" r="0.68" fill="#ff0000"/><circle cx="347.82" cy="372.30" r="0.68" fill="#ff0000"/><circle cx="350.24" cy="372.30" r="0.68" fill="#ff0000"/><circle cx="352.66" cy="372.30" r="0.68" fill="#ff0000"/><circle cx="355.08" cy="372.30" r="0.68" fill="#ff0000"/><circle cx="357.50" cy="372.30" r="0.68" fill="#ff0000"/><circle cx="359.92" cy="372.30" r="0.68" fill="#ff0000"/><circle cx="362.34" cy="372.30" r="0.68" fill="#ff0000"/><circle cx="364.76" cy="372.30" r="0.68" fill="#ff0000"/><circle cx="367.18" cy="372.30" r="0.68" fill="#ff0000"/><circle cx="369.60" cy="372.30" r="0.68" fill="#ff0000"/><circle cx="372.02" cy="372.30" r="0.68" fill="#ff0000"/><circle cx="374.44" cy="372.30" r="0.68" fill="#ff0000"/><circle cx="376.86" cy="372.30" r="0.68" fill="#ff0000"/><circle cx="379.28" cy="372.30" r="0.68" fill="#ff0000"/><circle cx="381.70" cy="372.30" r="0.68" fill="#ff0000"/><circle cx="384.12" cy="372.30" r="0.68" fill="#ff0000"/><circle cx="386.54" cy="372.30" r="0.68" fill="#ff0000"/><circle cx="388.96" cy="372.30" r="0.68" fill="#ff0000"/><circle cx="391.38" cy="372.30" r="0.68" fill="#ff0000"/><circle cx="393.80" cy="372.30" r="0.68" fill="#ff0000"/><circle cx="396.22" cy="372.30" r="0.68" fill="#ff0000"/><circle cx="398.64" cy="372.30" r="0.68" fill="#ff0000"/><circle cx="401.06" cy="372.30" r="0.68" fill="#ff0000"/><circle cx="403.48" cy="372.30" r="0.68" fill="#ff0000"/><circle cx="405.90" cy="372.30" r="0.68" fill="#ff0000"/><circle cx="408.32" cy="372.30" r="0.68" fill="#ff0000"/><circle cx="410.74" cy="372.30" r="0.68" fill="#ff0000"/><circle cx="413.16" cy="372.30" r="0.68" fill="#ff0000"/><circle cx="415.58" cy="372.30" r="0.68" fill="#ff0000"/><circle cx="418.00" cy="372.30" r="0.68" fill="#ff0000"/><circle cx="420.42" cy="372.30" r="0.68" fill="#ff0000"/><circle cx="422.84" cy="372.30" r="0.68" fill="#ff0000"/><circle cx="425.26" cy="372.30" r="0.68" fill="#ff0000"/><circle cx="427.68" cy="372.30" r="0.68" fill="#ff0000"/><circle cx="430.10" cy="372.30" r="0.68" fill="#ff0000"/><circle cx="432.52" cy="372.30" r="0.68" fill="#ff0000"/><circle cx="434.94" cy="372.30" r="0.68" fill="#ff0000"/><circle cx="437.36" cy="372.30" r="0.68" fill="#ff0000"/><circle cx="439.78" cy="372.30" r="0.68" fill="#ff0000"/><circle cx="442.20" cy="372.30" r="0.68" fill="#ff0000"/><circle cx="444.62" cy="372.30" r="0.68" fill="#ff0000"/><circle cx="447.04" cy="372.30" r="0.68" fill="#ff0000"/><circle cx="449.46" cy="372.30" r="0.68" fill="#ff0000"/><circle cx="451.88" cy="372.30" r="0.68" fill="#ff0000"/><circle cx="454.30" cy="372.30" r="0.68" fill="#ff0000"/><circle cx="456.72" cy="372.30" r="0.68" fill="#ff0000"/><circle cx="459.14" cy="372.30" r="0.68" fill="#ff0000"/><circle cx="461.56" cy="372.30" r="0.68" fill="#ff0000"/><circle cx="463.98" cy="372.30" r="0.68" fill="#ff0000"/><circle cx="466.40" cy="372.30" r="0.68" fill="#ff0000"/><circle cx="468.82" cy="372.30" r="0.68" fill="#ff0000"/><circle cx="471.24" cy="372.30" r="0.68" fill="#ff0000"/><circle cx="473.66" cy="372.30" r="0.68" fill="#ff0000"/><circle cx="476.08" cy="372.30" r="0.68" fill="#ff0000"/><circle cx="478.50" cy="372.30" r="0.68" fill="#ff0000"/><circle cx="480.92" cy="372.30" r="0.68" fill="#ff0000"/><circle cx="483.34" cy="372.30" r="0.68" fill="#ff0000"/><circle cx="485.76" cy="372.30" r="0.68" fill="#ff0000"/><circle cx="488.18" cy="372.30" r="0.68" fill="#ff0000"/><circle cx="490.60" cy="372.30" r="0.68" fill="#ff0000"/><circle cx="493.02" cy="372.30" r="0.68" fill="#ff0000"/><circle cx="495.44" cy="372.30" r="0.68" fill="#ff0000"/><circle cx="497.86" cy="372.30" r="0.68" fill="#ff0000"/><circle cx="500.28" cy="372.30" r="0.68" fill="#ff0000"/><circle cx="502.70" cy="372.30" r="0.68" fill="#ff0000"/><circle cx="505.12" cy="372.30" r="0.68" fill="#ff0000"/><circle cx="507.54" cy="372.30" r="0.68" fill="#ff0000"/><circle cx="509.96" cy="372.30" r="0.68" fill="#ff0000"/><circle cx="512.38" cy="372.30" r="0.68" fill="#ff0000"/><circle cx="514.80" cy="372.30" r="0.68" fill="#ff0000"/><circle cx="517.22" cy="372.30" r="0.68" fill="#ff0000"/><circle cx="519.64" cy="372.30" r="0.68" fill="#ff0000"/><circle cx="522.06" cy="372.30" r="0.68" fill="#ff0000"/><circle cx="524.48" cy="372.30" r="0.68" fill="#ff0000"/><circle cx="526.90" cy="372.30" r="0.68" fill="#ff0000"/><circle cx="529.32" cy="372.30" r="0.68" fill="#ff0000"/><circle cx="531.74" cy="372.30" r="0.68" fill="#ff0000"/><circle cx="534.16" cy="372.30" r="0.68" fill="#ff0000"/><circle cx="536.58" cy="372.30" r="0.68" fill="#ff0000"/><circle cx="539.00" cy="372.30" r="0.68" fill="#ff0000"/></g>
<path d="M308.50,348.30 L322.20,348.30 L322.20,372.00 L539.00,372.00" fill="none" stroke="#ff0000" stroke-width="0.52" stroke-dasharray="3,1.5" opacity="0.6"/>
<g opacity="1.0"><circle cx="309.10" cy="348.30" r="1.20" fill="none" stroke="#ff0000" stroke-width="0.45"/><circle cx="311.52" cy="348.30" r="1.20" fill="none" stroke="#ff0000" stroke-width="0.45"/><circle cx="313.94" cy="348.30" r="1.20" fill="none" stroke="#ff0000" stroke-width="0.45"/><circle cx="316.36" cy="348.30" r="1.20" fill="none" stroke="#ff0000" stroke-width="0.45"/><circle cx="318.78" cy="348.30" r="1.20" fill="none" stroke="#ff0000" stroke-width="0.45"/><circle cx="321.20" cy="348.30" r="1.20" fill="none" stroke="#ff0000" stroke-width="0.45"/><circle cx="323.62" cy="372.00" r="1.20" fill="none" stroke="#ff0000" stroke-width="0.45"/><circle cx="326.04" cy="372.00" r="1.20" fill="none" stroke="#ff0000" stroke-width="0.45"/><circle cx="328.46" cy="372.00" r="1.20" fill="none" stroke="#ff0000" stroke-width="0.45"/><circle cx="330.88" cy="372.00" r="1.20" fill="none" stroke="#ff0000" stroke-width="0.45"/><circle cx="333.30" cy="372.00" r="1.20" fill="none" stroke="#ff0000" stroke-width="0.45"/><circle cx="335.72" cy="372.00" r="1.20" fill="none" stroke="#ff0000" stroke-width="0.45"/><circle cx="338.14" cy="372.00" r="1.20" fill="none" stroke="#ff0000" stroke-width="0.45"/><circle cx="340.56" cy="372.00" r="1.20" fill="none" stroke="#ff0000" stroke-width="0.45"/><circle cx="342.98" cy="372.00" r="1.20" fill="none" stroke="#ff0000" stroke-width="0.45"/><circle cx="345.40" cy="372.00" r="1.20" fill="none" stroke="#ff0000" stroke-width="0.45"/><circle cx="347.82" cy="372.00" r="1.20" fill="none" stroke="#ff0000" stroke-width="0.45"/><circle cx="350.24" cy="372.00" r="1.20" fill="none" stroke="#ff0000" stroke-width="0.45"/><circle cx="352.66" cy="372.00" r="1.20" fill="none" stroke="#ff0000" stroke-width="0.45"/><circle cx="355.08" cy="372.00" r="1.20" fill="none" stroke="#ff0000" stroke-width="0.45"/><circle cx="357.50" cy="372.00" r="1.20" fill="none" stroke="#ff0000" stroke-width="0.45"/><circle cx="359.92" cy="372.00" r="1.20" fill="none" stroke="#ff0000" stroke-width="0.45"/><circle cx="362.34" cy="372.00" r="1.20" fill="none" stroke="#ff0000" stroke-width="0.45"/><circle cx="364.76" cy="372.00" r="1.20" fill="none" stroke="#ff0000" stroke-width="0.45"/><circle cx="367.18" cy="372.00" r="1.20" fill="none" stroke="#ff0000" stroke-width="0.45"/><circle cx="369.60" cy="372.00" r="1.20" fill="none" stroke="#ff0000" stroke-width="0.45"/><circle cx="372.02" cy="372.00" r="1.20" fill="none" stroke="#ff0000" stroke-width="0.45"/><circle cx="374.44" cy="372.00" r="1.20" fill="none" stroke="#ff0000" stroke-width="0.45"/><circle cx="376.86" cy="372.00" r="1.20" fill="none" stroke="#ff0000" stroke-width="0.45"/><circle cx="379.28" cy="372.00" r="1.20" fill="none" stroke="#ff0000" stroke-width="0.45"/><circle cx="381.70" cy="372.00" r="1.20" fill="none" stroke="#ff0000" stroke-width="0.45"/><circle cx="384.12" cy="372.00" r="1.20" fill="none" stroke="#ff0000" stroke-width="0.45"/><circle cx="386.54" cy="372.00" r="1.20" fill="none" stroke="#ff0000" stroke-width="0.45"/><circle cx="388.96" cy="372.00" r="1.20" fill="none" stroke="#ff0000" stroke-width="0.45"/><circle cx="391.38" cy="372.00" r="1.20" fill="none" stroke="#ff0000" stroke-width="0.45"/><circle cx="393.80" cy="372.00" r="1.20" fill="none" stroke="#ff0000" stroke-width="0.45"/><circle cx="396.22" cy="372.00" r="1.20" fill="none" stroke="#ff0000" stroke-width="0.45"/><circle cx="398.64" cy="372.00" r="1.20" fill="none" stroke="#ff0000" stroke-width="0.45"/><circle cx="401.06" cy="372.00" r="1.20" fill="none" stroke="#ff0000" stroke-width="0.45"/><circle cx="403.48" cy="372.00" r="1.20" fill="none" stroke="#ff0000" stroke-width="0.45"/><circle cx="405.90" cy="372.00" r="1.20" fill="none" stroke="#ff0000" stroke-width="0.45"/><circle cx="408.32" cy="372.00" r="1.20" fill="none" stroke="#ff0000" stroke-width="0.45"/><circle cx="410.74" cy="372.00" r="1.20" fill="none" stroke="#ff0000" stroke-width="0.45"/><circle cx="413.16" cy="372.00" r="1.20" fill="none" stroke="#ff0000" stroke-width="0.45"/><circle cx="415.58" cy="372.00" r="1.20" fill="none" stroke="#ff0000" stroke-width="0.45"/><circle cx="418.00" cy="372.00" r="1.20" fill="none" stroke="#ff0000" stroke-width="0.45"/><circle cx="420.42" cy="372.00" r="1.20" fill="none" stroke="#ff0000" stroke-width="0.45"/><circle cx="422.84" cy="372.00" r="1.20" fill="none" stroke="#ff0000" stroke-width="0.45"/><circle cx="425.26" cy="372.00" r="1.20" fill="none" stroke="#ff0000" stroke-width="0.45"/><circle cx="427.68" cy="372.00" r="1.20" fill="none" stroke="#ff0000" stroke-width="0.45"/><circle cx="430.10" cy="372.00" r="1.20" fill="none" stroke="#ff0000" stroke-width="0.45"/><circle cx="432.52" cy="372.00" r="1.20" fill="none" stroke="#ff0000" stroke-width="0.45"/><circle cx="434.94" cy="372.00" r="1.20" fill="none" stroke="#ff0000" stroke-width="0.45"/><circle cx="437.36" cy="372.00" r="1.20" fill="none" stroke="#ff0000" stroke-width="0.45"/><circle cx="439.78" cy="372.00" r="1.20" fill="none" stroke="#ff0000" stroke-width="0.45"/><circle cx="442.20" cy="372.00" r="1.20" fill="none" stroke="#ff0000" stroke-width="0.45"/><circle cx="444.62" cy="372.00" r="1.20" fill="none" stroke="#ff0000" stroke-width="0.45"/><circle cx="447.04" cy="372.00" r="1.20" fill="none" stroke="#ff0000" stroke-width="0.45"/><circle cx="449.46" cy="372.00" r="1.20" fill="none" stroke="#ff0000" stroke-width="0.45"/><circle cx="451.88" cy="372.00" r="1.20" fill="none" stroke="#ff0000" stroke-width="0.45"/><circle cx="454.30" cy="372.00" r="1.20" fill="none" stroke="#ff0000" stroke-width="0.45"/><circle cx="456.72" cy="372.00" r="1.20" fill="none" stroke="#ff0000" stroke-width="0.45"/><circle cx="459.14" cy="372.00" r="1.20" fill="none" stroke="#ff0000" stroke-width="0.45"/><circle cx="461.56" cy="372.00" r="1.20" fill="none" stroke="#ff0000" stroke-width="0.45"/><circle cx="463.98" cy="372.00" r="1.20" fill="none" stroke="#ff0000" stroke-width="0.45"/><circle cx="466.40" cy="372.00" r="1.20" fill="none" stroke="#ff0000" stroke-width="0.45"/><circle cx="468.82" cy="372.00" r="1.20" fill="none" stroke="#ff0000" stroke-width="0.45"/><circle cx="471.24" cy="372.00" r="1.20" fill="none" stroke="#ff0000" stroke-width="0.45"/><circle cx="473.66" cy="372.00" r="1.20" fill="none" stroke="#ff0000" stroke-width="0.45"/><circle cx="476.08" cy="372.00" r="1.20" fill="none" stroke="#ff0000" stroke-width="0.45"/><circle cx="478.50" cy="372.00" r="1.20" fill="none" stroke="#ff0000" stroke-width="0.45"/><circle cx="480.92" cy="372.00" r="1.20" fill="none" stroke="#ff0000" stroke-width="0.45"/><circle cx="483.34" cy="372.00" r="1.20" fill="none" stroke="#ff0000" stroke-width="0.45"/><circle cx="485.76" cy="372.00" r="1.20" fill="none" stroke="#ff0000" stroke-width="0.45"/><circle cx="488.18" cy="372.00" r="1.20" fill="none" stroke="#ff0000" stroke-width="0.45"/><circle cx="490.60" cy="372.00" r="1.20" fill="none" stroke="#ff0000" stroke-width="0.45"/><circle cx="493.02" cy="372.00" r="1.20" fill="none" stroke="#ff0000" stroke-width="0.45"/><circle cx="495.44" cy="372.00" r="1.20" fill="none" stroke="#ff0000" stroke-width="0.45"/><circle cx="497.86" cy="372.00" r="1.20" fill="none" stroke="#ff0000" stroke-width="0.45"/><circle cx="500.28" cy="372.00" r="1.20" fill="none" stroke="#ff0000" stroke-width="0.45"/><circle cx="502.70" cy="372.00" r="1.20" fill="none" stroke="#ff0000" stroke-width="0.45"/><circle cx="505.12" cy="372.00" r="1.20" fill="none" stroke="#ff0000" stroke-width="0.45"/><circle cx="507.54" cy="372.00" r="1.20" fill="none" stroke="#ff0000" stroke-width="0.45"/><circle cx="509.96" cy="372.00" r="1.20" fill="none" stroke="#ff0000" stroke-width="0.45"/><circle cx="512.38" cy="372.00" r="1.20" fill="none" stroke="#ff0000" stroke-width="0.45"/><circle cx="514.80" cy="372.00" r="1.20" fill="none" stroke="#ff0000" stroke-width="0.45"/><circle cx="517.22" cy="372.00" r="1.20" fill="none" stroke="#ff0000" stroke-width="0.45"/><circle cx="519.64" cy="372.00" r="1.20" fill="none" stroke="#ff0000" stroke-width="0.45"/><circle cx="522.06" cy="372.00" r="1.20" fill="none" stroke="#ff0000" stroke-width="0.45"/><circle cx="524.48" cy="372.00" r="1.20" fill="none" stroke="#ff0000" stroke-width="0.45"/><circle cx="526.90" cy="372.00" r="1.20" fill="none" stroke="#ff0000" stroke-width="0.45"/><circle cx="529.32" cy="372.00" r="1.20" fill="none" stroke="#ff0000" stroke-width="0.45"/><circle cx="531.74" cy="372.00" r="1.20" fill="none" stroke="#ff0000" stroke-width="0.45"/><circle cx="534.16" cy="372.00" r="1.20" fill="none" stroke="#ff0000" stroke-width="0.45"/><circle cx="536.58" cy="372.00" r="1.20" fill="none" stroke="#ff0000" stroke-width="0.45"/><circle cx="539.00" cy="372.00" r="1.20" fill="none" stroke="#ff0000" stroke-width="0.45"/></g>
<path d="M298.00,300.80 L319.40,300.80 L320.00,361.30 L501.90,361.30 L501.90,372.90 L539.00,372.90" fill="none" stroke="#ff0000" stroke-width="0.68" opacity="0.6"/>
<g opacity="1.0"><path d="M298.32,300.80h2.20M299.42,299.70v2.20M298.65,300.03l1.54,1.54M298.65,301.57l1.54,-1.54" stroke="#ff0000" stroke-width="0.45"/><path d="M300.74,300.80h2.20M301.84,299.70v2.20M301.07,300.03l1.54,1.54M301.07,301.57l1.54,-1.54" stroke="#ff0000" stroke-width="0.45"/><path d="M303.16,300.80h2.20M304.26,299.70v2.20M303.49,300.03l1.54,1.54M303.49,301.57l1.54,-1.54" stroke="#ff0000" stroke-width="0.45"/><path d="M305.58,300.80h2.20M306.68,299.70v2.20M305.91,300.03l1.54,1.54M305.91,301.57l1.54,-1.54" stroke="#ff0000" stroke-width="0.45"/><path d="M308.00,300.80h2.20M309.10,299.70v2.20M308.33,300.03l1.54,1.54M308.33,301.57l1.54,-1.54" stroke="#ff0000" stroke-width="0.45"/><path d="M310.42,300.80h2.20M311.52,299.70v2.20M310.75,300.03l1.54,1.54M310.75,301.57l1.54,-1.54" stroke="#ff0000" stroke-width="0.45"/><path d="M312.84,300.80h2.20M313.94,299.70v2.20M313.17,300.03l1.54,1.54M313.17,301.57l1.54,-1.54" stroke="#ff0000" stroke-width="0.45"/><path d="M315.26,300.80h2.20M316.36,299.70v2.20M315.59,300.03l1.54,1.54M315.59,301.57l1.54,-1.54" stroke="#ff0000" stroke-width="0.45"/><path d="M317.68,300.80h2.20M318.78,299.70v2.20M318.01,300.03l1.54,1.54M318.01,301.57l1.54,-1.54" stroke="#ff0000" stroke-width="0.45"/><path d="M320.10,361.30h2.20M321.20,360.20v2.20M320.43,360.53l1.54,1.54M320.43,362.07l1.54,-1.54" stroke="#ff0000" stroke-width="0.45"/><path d="M322.52,361.30h2.20M323.62,360.20v2.20M322.85,360.53l1.54,1.54M322.85,362.07l1.54,-1.54" stroke="#ff0000" stroke-width="0.45"/><path d="M324.94,361.30h2.20M326.04,360.20v2.20M325.27,360.53l1.54,1.54M325.27,362.07l1.54,-1.54" stroke="#ff0000" stroke-width="0.45"/><path d="M327.36,361.30h2.20M328.46,360.20v2.20M327.69,360.53l1.54,1.54M327.69,362.07l1.54,-1.54" stroke="#ff0000" stroke-width="0.45"/><path d="M329.78,361.30h2.20M330.88,360.20v2.20M330.11,360.53l1.54,1.54M330.11,362.07l1.54,-1.54" stroke="#ff0000" stroke-width="0.45"/><path d="M332.20,361.30h2.20M333.30,360.20v2.20M332.53,360.53l1.54,1.54M332.53,362.07l1.54,-1.54" stroke="#ff0000" stroke-width="0.45"/><path d="M334.62,361.30h2.20M335.72,360.20v2.20M334.95,360.53l1.54,1.54M334.95,362.07l1.54,-1.54" stroke="#ff0000" stroke-width="0.45"/><path d="M337.04,361.30h2.20M338.14,360.20v2.20M337.37,360.53l1.54,1.54M337.37,362.07l1.54,-1.54" stroke="#ff0000" stroke-width="0.45"/><path d="M339.46,361.30h2.20M340.56,360.20v2.20M339.79,360.53l1.54,1.54M339.79,362.07l1.54,-1.54" stroke="#ff0000" stroke-width="0.45"/><path d="M341.88,361.30h2.20M342.98,360.20v2.20M342.21,360.53l1.54,1.54M342.21,362.07l1.54,-1.54" stroke="#ff0000" stroke-width="0.45"/><path d="M344.30,361.30h2.20M345.40,360.20v2.20M344.63,360.53l1.54,1.54M344.63,362.07l1.54,-1.54" stroke="#ff0000" stroke-width="0.45"/><path d="M346.72,361.30h2.20M347.82,360.20v2.20M347.05,360.53l1.54,1.54M347.05,362.07l1.54,-1.54" stroke="#ff0000" stroke-width="0.45"/><path d="M349.14,361.30h2.20M350.24,360.20v2.20M349.47,360.53l1.54,1.54M349.47,362.07l1.54,-1.54" stroke="#ff0000" stroke-width="0.45"/><path d="M351.56,361.30h2.20M352.66,360.20v2.20M351.89,360.53l1.54,1.54M351.89,362.07l1.54,-1.54" stroke="#ff0000" stroke-width="0.45"/><path d="M353.98,361.30h2.20M355.08,360.20v2.20M354.31,360.53l1.54,1.54M354.31,362.07l1.54,-1.54" stroke="#ff0000" stroke-width="0.45"/><path d="M356.40,361.30h2.20M357.50,360.20v2.20M356.73,360.53l1.54,1.54M356.73,362.07l1.54,-1.54" stroke="#ff0000" stroke-width="0.45"/><path d="M358.82,361.30h2.20M359.92,360.20v2.20M359.15,360.53l1.54,1.54M359.15,362.07l1.54,-1.54" stroke="#ff0000" stroke-width="0.45"/><path d="M361.24,361.30h2.20M362.34,360.20v2.20M361.57,360.53l1.54,1.54M361.57,362.07l1.54,-1.54" stroke="#ff0000" stroke-width="0.45"/><path d="M363.66,361.30h2.20M364.76,360.20v2.20M363.99,360.53l1.54,1.54M363.99,362.07l1.54,-1.54" stroke="#ff0000" stroke-width="0.45"/><path d="M366.08,361.30h2.20M367.18,360.20v2.20M366.41,360.53l1.54,1.54M366.41,362.07l1.54,-1.54" stroke="#ff0000" stroke-width="0.45"/><path d="M368.50,361.30h2.20M369.60,360.20v2.20M368.83,360.53l1.54,1.54M368.83,362.07l1.54,-1.54" stroke="#ff0000" stroke-width="0.45"/><path d="M370.92,361.30h2.20M372.02,360.20v2.20M371.25,360.53l1.54,1.54M371.25,362.07l1.54,-1.54" stroke="#ff0000" stroke-width="0.45"/><path d="M373.34,361.30h2.20M374.44,360.20v2.20M373.67,360.53l1.54,1.54M373.67,362.07l1.54,-1.54" stroke="#ff0000" stroke-width="0.45"/><path d="M375.76,361.30h2.20M376.86,360.20v2.20M376.09,360.53l1.54,1.54M376.09,362.07l1.54,-1.54" stroke="#ff0000" stroke-width="0.45"/><path d="M378.18,361.30h2.20M379.28,360.20v2.20M378.51,360.53l1.54,1.54M378.51,362.07l1.54,-1.54" stroke="#ff0000" stroke-width="0.45"/><path d="M380.60,361.30h2.20M381.70,360.20v2.20M380.93,360.53l1.54,1.54M380.93,362.07l1.54,-1.54" stroke="#ff0000" stroke-width="0.45"/><path d="M383.02,361.30h2.20M384.12,360.20v2.20M383.35,360.53l1.54,1.54M383.35,362.07l1.54,-1.54" stroke="#ff0000" stroke-width="0.45"/><path d="M385.44,361.30h2.20M386.54,360.20v2.20M385.77,360.53l1.54,1.54M385.77,362.07l1.54,-1.54" stroke="#ff0000" stroke-width="0.45"/><path d="M387.86,361.30h2.20M388.96,360.20v2.20M388.19,360.53l1.54,1.54M388.19,362.07l1.54,-1.54" stroke="#ff0000" stroke-width="0.45"/><path d="M390.28,361.30h2.20M391.38,360.20v2.20M390.61,360.53l1.54,1.54M390.61,362.07l1.54,-1.54" stroke="#ff0000" stroke-width="0.45"/><path d="M392.70,361.30h2.20M393.80,360.20v2.20M393.03,360.53l1.54,1.54M393.03,362.07l1.54,-1.54" stroke="#ff0000" stroke-width="0.45"/><path d="M395.12,361.30h2.20M396.22,360.20v2.20M395.45,360.53l1.54,1.54M395.45,362.07l1.54,-1.54" stroke="#ff0000" stroke-width="0.45"/><path d="M397.54,361.30h2.20M398.64,360.20v2.20M397.87,360.53l1.54,1.54M397.87,362.07l1.54,-1.54" stroke="#ff0000" stroke-width="0.45"/><path d="M399.96,361.30h2.20M401.06,360.20v2.20M400.29,360.53l1.54,1.54M400.29,362.07l1.54,-1.54" stroke="#ff0000" stroke-width="0.45"/><path d="M402.38,361.30h2.20M403.48,360.20v2.20M402.71,360.53l1.54,1.54M402.71,362.07l1.54,-1.54" stroke="#ff0000" stroke-width="0.45"/><path d="M404.80,361.30h2.20M405.90,360.20v2.20M405.13,360.53l1.54,1.54M405.13,362.07l1.54,-1.54" stroke="#ff0000" stroke-width="0.45"/><path d="M407.22,361.30h2.20M408.32,360.20v2.20M407.55,360.53l1.54,1.54M407.55,362.07l1.54,-1.54" stroke="#ff0000" stroke-width="0.45"/><path d="M409.64,361.30h2.20M410.74,360.20v2.20M409.97,360.53l1.54,1.54M409.97,362.07l1.54,-1.54" stroke="#ff0000" stroke-width="0.45"/><path d="M412.06,361.30h2.20M413.16,360.20v2.20M412.39,360.53l1.54,1.54M412.39,362.07l1.54,-1.54" stroke="#ff0000" stroke-width="0.45"/><path d="M414.48,361.30h2.20M415.58,360.20v2.20M414.81,360.53l1.54,1.54M414.81,362.07l1.54,-1.54" stroke="#ff0000" stroke-width="0.45"/><path d="M416.90,361.30h2.20M418.00,360.20v2.20M417.23,360.53l1.54,1.54M417.23,362.07l1.54,-1.54" stroke="#ff0000" stroke-width="0.45"/><path d="M419.32,361.30h2.20M420.42,360.20v2.20M419.65,360.53l1.54,1.54M419.65,362.07l1.54,-1.54" stroke="#ff0000" stroke-width="0.45"/><path d="M421.74,361.30h2.20M422.84,360.20v2.20M422.07,360.53l1.54,1.54M422.07,362.07l1.54,-1.54" stroke="#ff0000" stroke-width="0.45"/><path d="M424.16,361.30h2.20M425.26,360.20v2.20M424.49,360.53l1.54,1.54M424.49,362.07l1.54,-1.54" stroke="#ff0000" stroke-width="0.45"/><path d="M426.58,361.30h2.20M427.68,360.20v2.20M426.91,360.53l1.54,1.54M426.91,362.07l1.54,-1.54" stroke="#ff0000" stroke-width="0.45"/><path d="M429.00,361.30h2.20M430.10,360.20v2.20M429.33,360.53l1.54,1.54M429.33,362.07l1.54,-1.54" stroke="#ff0000" stroke-width="0.45"/><path d="M431.42,361.30h2.20M432.52,360.20v2.20M431.75,360.53l1.54,1.54M431.75,362.07l1.54,-1.54" stroke="#ff0000" stroke-width="0.45"/><path d="M433.84,361.30h2.20M434.94,360.20v2.20M434.17,360.53l1.54,1.54M434.17,362.07l1.54,-1.54" stroke="#ff0000" stroke-width="0.45"/><path d="M436.26,361.30h2.20M437.36,360.20v2.20M436.59,360.53l1.54,1.54M436.59,362.07l1.54,-1.54" stroke="#ff0000" stroke-width="0.45"/><path d="M438.68,361.30h2.20M439.78,360.20v2.20M439.01,360.53l1.54,1.54M439.01,362.07l1.54,-1.54" stroke="#ff0000" stroke-width="0.45"/><path d="M441.10,361.30h2.20M442.20,360.20v2.20M441.43,360.53l1.54,1.54M441.43,362.07l1.54,-1.54" stroke="#ff0000" stroke-width="0.45"/><path d="M443.52,361.30h2.20M444.62,360.20v2.20M443.85,360.53l1.54,1.54M443.85,362.07l1.54,-1.54" stroke="#ff0000" stroke-width="0.45"/><path d="M445.94,361.30h2.20M447.04,360.20v2.20M446.27,360.53l1.54,1.54M446.27,362.07l1.54,-1.54" stroke="#ff0000" stroke-width="0.45"/><path d="M448.36,361.30h2.20M449.46,360.20v2.20M448.69,360.53l1.54,1.54M448.69,362.07l1.54,-1.54" stroke="#ff0000" stroke-width="0.45"/><path d="M450.78,361.30h2.20M451.88,360.20v2.20M451.11,360.53l1.54,1.54M451.11,362.07l1.54,-1.54" stroke="#ff0000" stroke-width="0.45"/><path d="M453.20,361.30h2.20M454.30,360.20v2.20M453.53,360.53l1.54,1.54M453.53,362.07l1.54,-1.54" stroke="#ff0000" stroke-width="0.45"/><path d="M455.62,361.30h2.20M456.72,360.20v2.20M455.95,360.53l1.54,1.54M455.95,362.07l1.54,-1.54" stroke="#ff0000" stroke-width="0.45"/><path d="M458.04,361.30h2.20M459.14,360.20v2.20M458.37,360.53l1.54,1.54M458.37,362.07l1.54,-1.54" stroke="#ff0000" stroke-width="0.45"/><path d="M460.46,361.30h2.20M461.56,360.20v2.20M460.79,360.53l1.54,1.54M460.79,362.07l1.54,-1.54" stroke="#ff0000" stroke-width="0.45"/><path d="M462.88,361.30h2.20M463.98,360.20v2.20M463.21,360.53l1.54,1.54M463.21,362.07l1.54,-1.54" stroke="#ff0000" stroke-width="0.45"/><path d="M465.30,361.30h2.20M466.40,360.20v2.20M465.63,360.53l1.54,1.54M465.63,362.07l1.54,-1.54" stroke="#ff0000" stroke-width="0.45"/><path d="M467.72,361.30h2.20M468.82,360.20v2.20M468.05,360.53l1.54,1.54M468.05,362.07l1.54,-1.54" stroke="#ff0000" stroke-width="0.45"/><path d="M470.14,361.30h2.20M471.24,360.20v2.20M470.47,360.53l1.54,1.54M470.47,362.07l1.54,-1.54" stroke="#ff0000" stroke-width="0.45"/><path d="M472.56,361.30h2.20M473.66,360.20v2.20M472.89,360.53l1.54,1.54M472.89,362.07l1.54,-1.54" stroke="#ff0000" stroke-width="0.45"/><path d="M474.98,361.30h2.20M476.08,360.20v2.20M475.31,360.53l1.54,1.54M475.31,362.07l1.54,-1.54" stroke="#ff0000" stroke-width="0.45"/><path d="M477.40,361.30h2.20M478.50,360.20v2.20M477.73,360.53l1.54,1.54M477.73,362.07l1.54,-1.54" stroke="#ff0000" stroke-width="0.45"/><path d="M479.82,361.30h2.20M480.92,360.20v2.20M480.15,360.53l1.54,1.54M480.15,362.07l1.54,-1.54" stroke="#ff0000" stroke-width="0.45"/><path d="M482.24,361.30h2.20M483.34,360.20v2.20M482.57,360.53l1.54,1.54M482.57,362.07l1.54,-1.54" stroke="#ff0000" stroke-width="0.45"/><path d="M484.66,361.30h2.20M485.76,360.20v2.20M484.99,360.53l1.54,1.54M484.99,362.07l1.54,-1.54" stroke="#ff0000" stroke-width="0.45"/><path d="M487.08,361.30h2.20M488.18,360.20v2.20M487.41,360.53l1.54,1.54M487.41,362.07l1.54,-1.54" stroke="#ff0000" stroke-width="0.45"/><path d="M489.50,361.30h2.20M490.60,360.20v2.20M489.83,360.53l1.54,1.54M489.83,362.07l1.54,-1.54" stroke="#ff0000" stroke-width="0.45"/><path d="M491.92,361.30h2.20M493.02,360.20v2.20M492.25,360.53l1.54,1.54M492.25,362.07l1.54,-1.54" stroke="#ff0000" stroke-width="0.45"/><path d="M494.34,361.30h2.20M495.44,360.20v2.20M494.67,360.53l1.54,1.54M494.67,362.07l1.54,-1.54" stroke="#ff0000" stroke-width="0.45"/><path d="M496.76,361.30h2.20M497.86,360.20v2.20M497.09,360.53l1.54,1.54M497.09,362.07l1.54,-1.54" stroke="#ff0000" stroke-width="0.45"/><path d="M499.18,361.30h2.20M500.28,360.20v2.20M499.51,360.53l1.54,1.54M499.51,362.07l1.54,-1.54" stroke="#ff0000" stroke-width="0.45"/><path d="M501.60,372.90h2.20M502.70,371.80v2.20M501.93,372.13l1.54,1.54M501.93,373.67l1.54,-1.54" stroke="#ff0000" stroke-width="0.45"/><path d="M504.02,372.90h2.20M505.12,371.80v2.20M504.35,372.13l1.54,1.54M504.35,373.67l1.54,-1.54" stroke="#ff0000" stroke-width="0.45"/><path d="M506.44,372.90h2.20M507.54,371.80v2.20M506.77,372.13l1.54,1.54M506.77,373.67l1.54,-1.54" stroke="#ff0000" stroke-width="0.45"/><path d="M508.86,372.90h2.20M509.96,371.80v2.20M509.19,372.13l1.54,1.54M509.19,373.67l1.54,-1.54" stroke="#ff0000" stroke-width="0.45"/><path d="M511.28,372.90h2.20M512.38,371.80v2.20M511.61,372.13l1.54,1.54M511.61,373.67l1.54,-1.54" stroke="#ff0000" stroke-width="0.45"/><path d="M513.70,372.90h2.20M514.80,371.80v2.20M514.03,372.13l1.54,1.54M514.03,373.67l1.54,-1.54" stroke="#ff0000" stroke-width="0.45"/><path d="M516.12,372.90h2.20M517.22,371.80v2.20M516.45,372.13l1.54,1.54M516.45,373.67l1.54,-1.54" stroke="#ff0000" stroke-width="0.45"/><path d="M518.54,372.90h2.20M519.64,371.80v2.20M518.87,372.13l1.54,1.54M518.87,373.67l1.54,-1.54" stroke="#ff0000" stroke-width="0.45"/><path d="M520.96,372.90h2.20M522.06,371.80v2.20M521.29,372.13l1.54,1.54M521.29,373.67l1.54,-1.54" stroke="#ff0000" stroke-width="0.45"/><path d="M523.38,372.90h2.20M524.48,371.80v2.20M523.71,372.13l1.54,1.54M523.71,373.67l1.54,-1.54" stroke="#ff0000" stroke-width="0.45"/><path d="M525.80,372.90h2.20M526.90,371.80v2.20M526.13,372.13l1.54,1.54M526.13,373.67l1.54,-1.54" stroke="#ff0000" stroke-width="0.45"/><path d="M528.22,372.90h2.20M529.32,371.80v2.20M528.55,372.13l1.54,1.54M528.55,373.67l1.54,-1.54" stroke="#ff0000" stroke-width="0.45"/><path d="M530.64,372.90h2.20M531.74,371.80v2.20M530.97,372.13l1.54,1.54M530.97,373.67l1.54,-1.54" stroke="#ff0000" stroke-width="0.45"/><path d="M533.06,372.90h2.20M534.16,371.80v2.20M533.39,372.13l1.54,1.54M533.39,373.67l1.54,-1.54" stroke="#ff0000" stroke-width="0.45"/><path d="M535.48,372.90h2.20M536.58,371.80v2.20M535.81,372.13l1.54,1.54M535.81,373.67l1.54,-1.54" stroke="#ff0000" stroke-width="0.45"/><path d="M537.90,372.90h2.20M539.00,371.80v2.20M538.23,372.13l1.54,1.54M538.23,373.67l1.54,-1.54" stroke="#ff0000" stroke-width="0.45"/></g>
<path d="M298.00,286.30 L305.30,286.30 L305.30,330.70 L318.60,330.70 L318.60,332.60 L368.40,332.60 L368.40,338.50 L440.80,338.50 L440.80,349.90 L539.00,349.90" fill="none" stroke="#0000ff" stroke-width="0.83" opacity="0.6"/>
<g opacity="1.0"><path d="M298.32,286.30h2.20M299.42,285.20v2.20M298.65,285.53l1.54,1.54M298.65,287.07l1.54,-1.54" stroke="#0000ff" stroke-width="0.45"/><path d="M300.74,286.30h2.20M301.84,285.20v2.20M301.07,285.53l1.54,1.54M301.07,287.07l1.54,-1.54" stroke="#0000ff" stroke-width="0.45"/><path d="M303.16,286.30h2.20M304.26,285.20v2.20M303.49,285.53l1.54,1.54M303.49,287.07l1.54,-1.54" stroke="#0000ff" stroke-width="0.45"/><path d="M305.58,330.70h2.20M306.68,329.60v2.20M305.91,329.93l1.54,1.54M305.91,331.47l1.54,-1.54" stroke="#0000ff" stroke-width="0.45"/><path d="M308.00,330.70h2.20M309.10,329.60v2.20M308.33,329.93l1.54,1.54M308.33,331.47l1.54,-1.54" stroke="#0000ff" stroke-width="0.45"/><path d="M310.42,330.70h2.20M311.52,329.60v2.20M310.75,329.93l1.54,1.54M310.75,331.47l1.54,-1.54" stroke="#0000ff" stroke-width="0.45"/><path d="M312.84,330.70h2.20M313.94,329.60v2.20M313.17,329.93l1.54,1.54M313.17,331.47l1.54,-1.54" stroke="#0000ff" stroke-width="0.45"/><path d="M315.26,330.70h2.20M316.36,329.60v2.20M315.59,329.93l1.54,1.54M315.59,331.47l1.54,-1.54" stroke="#0000ff" stroke-width="0.45"/><path d="M317.68,332.60h2.20M318.78,331.50v2.20M318.01,331.83l1.54,1.54M318.01,333.37l1.54,-1.54" stroke="#0000ff" stroke-width="0.45"/><path d="M320.10,332.60h2.20M321.20,331.50v2.20M320.43,331.83l1.54,1.54M320.43,333.37l1.54,-1.54" stroke="#0000ff" stroke-width="0.45"/><path d="M322.52,332.60h2.20M323.62,331.50v2.20M322.85,331.83l1.54,1.54M322.85,333.37l1.54,-1.54" stroke="#0000ff" stroke-width="0.45"/><path d="M324.94,332.60h2.20M326.04,331.50v2.20M325.27,331.83l1.54,1.54M325.27,333.37l1.54,-1.54" stroke="#0000ff" stroke-width="0.45"/><path d="M327.36,332.60h2.20M328.46,331.50v2.20M327.69,331.83l1.54,1.54M327.69,333.37l1.54,-1.54" stroke="#0000ff" stroke-width="0.45"/><path d="M329.78,332.60h2.20M330.88,331.50v2.20M330.11,331.83l1.54,1.54M330.11,333.37l1.54,-1.54" stroke="#0000ff" stroke-width="0.45"/><path d="M332.20,332.60h2.20M333.30,331.50v2.20M332.53,331.83l1.54,1.54M332.53,333.37l1.54,-1.54" stroke="#0000ff" stroke-width="0.45"/><path d="M334.62,332.60h2.20M335.72,331.50v2.20M334.95,331.83l1.54,1.54M334.95,333.37l1.54,-1.54" stroke="#0000ff" stroke-width="0.45"/><path d="M337.04,332.60h2.20M338.14,331.50v2.20M337.37,331.83l1.54,1.54M337.37,333.37l1.54,-1.54" stroke="#0000ff" stroke-width="0.45"/><path d="M339.46,332.60h2.20M340.56,331.50v2.20M339.79,331.83l1.54,1.54M339.79,333.37l1.54,-1.54" stroke="#0000ff" stroke-width="0.45"/><path d="M341.88,332.60h2.20M342.98,331.50v2.20M342.21,331.83l1.54,1.54M342.21,333.37l1.54,-1.54" stroke="#0000ff" stroke-width="0.45"/><path d="M344.30,332.60h2.20M345.40,331.50v2.20M344.63,331.83l1.54,1.54M344.63,333.37l1.54,-1.54" stroke="#0000ff" stroke-width="0.45"/><path d="M346.72,332.60h2.20M347.82,331.50v2.20M347.05,331.83l1.54,1.54M347.05,333.37l1.54,-1.54" stroke="#0000ff" stroke-width="0.45"/><path d="M349.14,332.60h2.20M350.24,331.50v2.20M349.47,331.83l1.54,1.54M349.47,333.37l1.54,-1.54" stroke="#0000ff" stroke-width="0.45"/><path d="M351.56,332.60h2.20M352.66,331.50v2.20M351.89,331.83l1.54,1.54M351.89,333.37l1.54,-1.54" stroke="#0000ff" stroke-width="0.45"/><path d="M353.98,332.60h2.20M355.08,331.50v2.20M354.31,331.83l1.54,1.54M354.31,333.37l1.54,-1.54" stroke="#0000ff" stroke-width="0.45"/><path d="M356.40,332.60h2.20M357.50,331.50v2.20M356.73,331.83l1.54,1.54M356.73,333.37l1.54,-1.54" stroke="#0000ff" stroke-width="0.45"/><path d="M358.82,332.60h2.20M359.92,331.50v2.20M359.15,331.83l1.54,1.54M359.15,333.37l1.54,-1.54" stroke="#0000ff" stroke-width="0.45"/><path d="M361.24,332.60h2.20M362.34,331.50v2.20M361.57,331.83l1.54,1.54M361.57,333.37l1.54,-1.54" stroke="#0000ff" stroke-width="0.45"/><path d="M363.66,332.60h2.20M364.76,331.50v2.20M363.99,331.83l1.54,1.54M363.99,333.37l1.54,-1.54" stroke="#0000ff" stroke-width="0.45"/><path d="M366.08,332.60h2.20M367.18,331.50v2.20M366.41,331.83l1.54,1.54M366.41,333.37l1.54,-1.54" stroke="#0000ff" stroke-width="0.45"/><path d="M368.50,338.50h2.20M369.60,337.40v2.20M368.83,337.73l1.54,1.54M368.83,339.27l1.54,-1.54" stroke="#0000ff" stroke-width="0.45"/><path d="M370.92,338.50h2.20M372.02,337.40v2.20M371.25,337.73l1.54,1.54M371.25,339.27l1.54,-1.54" stroke="#0000ff" stroke-width="0.45"/><path d="M373.34,338.50h2.20M374.44,337.40v2.20M373.67,337.73l1.54,1.54M373.67,339.27l1.54,-1.54" stroke="#0000ff" stroke-width="0.45"/><path d="M375.76,338.50h2.20M376.86,337.40v2.20M376.09,337.73l1.54,1.54M376.09,339.27l1.54,-1.54" stroke="#0000ff" stroke-width="0.45"/><path d="M378.18,338.50h2.20M379.28,337.40v2.20M378.51,337.73l1.54,1.54M378.51,339.27l1.54,-1.54" stroke="#0000ff" stroke-width="0.45"/><path d="M380.60,338.50h2.20M381.70,337.40v2.20M380.93,337.73l1.54,1.54M380.93,339.27l1.54,-1.54" stroke="#0000ff" stroke-width="0.45"/><path d="M383.02,338.50h2.20M384.12,337.40v2.20M383.35,337.73l1.54,1.54M383.35,339.27l1.54,-1.54" stroke="#0000ff" stroke-width="0.45"/><path d="M385.44,338.50h2.20M386.54,337.40v2.20M385.77,337.73l1.54,1.54M385.77,339.27l1.54,-1.54" stroke="#0000ff" stroke-width="0.45"/><path d="M387.86,338.50h2.20M388.96,337.40v2.20M388.19,337.73l1.54,1.54M388.19,339.27l1.54,-1.54" stroke="#0000ff" stroke-width="0.45"/><path d="M390.28,338.50h2.20M391.38,337.40v2.20M390.61,337.73l1.54,1.54M390.61,339.27l1.54,-1.54" stroke="#0000ff" stroke-width="0.45"/><path d="M392.70,338.50h2.20M393.80,337.40v2.20M393.03,337.73l1.54,1.54M393.03,339.27l1.54,-1.54" stroke="#0000ff" stroke-width="0.45"/><path d="M395.12,338.50h2.20M396.22,337.40v2.20M395.45,337.73l1.54,1.54M395.45,339.27l1.54,-1.54" stroke="#0000ff" stroke-width="0.45"/><path d="M397.54,338.50h2.20M398.64,337.40v2.20M397.87,337.73l1.54,1.54M397.87,339.27l1.54,-1.54" stroke="#0000ff" stroke-width="0.45"/><path d="M399.96,338.50h2.20M401.06,337.40v2.20M400.29,337.73l1.54,1.54M400.29,339.27l1.54,-1.54" stroke="#0000ff" stroke-width="0.45"/><path d="M402.38,338.50h2.20M403.48,337.40v2.20M402.71,337.73l1.54,1.54M402.71,339.27l1.54,-1.54" stroke="#0000ff" stroke-width="0.45"/><path d="M404.80,338.50h2.20M405.90,337.40v2.20M405.13,337.73l1.54,1.54M405.13,339.27l1.54,-1.54" stroke="#0000ff" stroke-width="0.45"/><path d="M407.22,338.50h2.20M408.32,337.40v2.20M407.55,337.73l1.54,1.54M407.55,339.27l1.54,-1.54" stroke="#0000ff" stroke-width="0.45"/><path d="M409.64,338.50h2.20M410.74,337.40v2.20M409.97,337.73l1.54,1.54M409.97,339.27l1.54,-1.54" stroke="#0000ff" stroke-width="0.45"/><path d="M412.06,338.50h2.20M413.16,337.40v2.20M412.39,337.73l1.54,1.54M412.39,339.27l1.54,-1.54" stroke="#0000ff" stroke-width="0.45"/><path d="M414.48,338.50h2.20M415.58,337.40v2.20M414.81,337.73l1.54,1.54M414.81,339.27l1.54,-1.54" stroke="#0000ff" stroke-width="0.45"/><path d="M416.90,338.50h2.20M418.00,337.40v2.20M417.23,337.73l1.54,1.54M417.23,339.27l1.54,-1.54" stroke="#0000ff" stroke-width="0.45"/><path d="M419.32,338.50h2.20M420.42,337.40v2.20M419.65,337.73l1.54,1.54M419.65,339.27l1.54,-1.54" stroke="#0000ff" stroke-width="0.45"/><path d="M421.74,338.50h2.20M422.84,337.40v2.20M422.07,337.73l1.54,1.54M422.07,339.27l1.54,-1.54" stroke="#0000ff" stroke-width="0.45"/><path d="M424.16,338.50h2.20M425.26,337.40v2.20M424.49,337.73l1.54,1.54M424.49,339.27l1.54,-1.54" stroke="#0000ff" stroke-width="0.45"/><path d="M426.58,338.50h2.20M427.68,337.40v2.20M426.91,337.73l1.54,1.54M426.91,339.27l1.54,-1.54" stroke="#0000ff" stroke-width="0.45"/><path d="M429.00,338.50h2.20M430.10,337.40v2.20M429.33,337.73l1.54,1.54M429.33,339.27l1.54,-1.54" stroke="#0000ff" stroke-width="0.45"/><path d="M431.42,338.50h2.20M432.52,337.40v2.20M431.75,337.73l1.54,1.54M431.75,339.27l1.54,-1.54" stroke="#0000ff" stroke-width="0.45"/><path d="M433.84,338.50h2.20M434.94,337.40v2.20M434.17,337.73l1.54,1.54M434.17,339.27l1.54,-1.54" stroke="#0000ff" stroke-width="0.45"/><path d="M436.26,338.50h2.20M437.36,337.40v2.20M436.59,337.73l1.54,1.54M436.59,339.27l1.54,-1.54" stroke="#0000ff" stroke-width="0.45"/><path d="M438.68,338.50h2.20M439.78,337.40v2.20M439.01,337.73l1.54,1.54M439.01,339.27l1.54,-1.54" stroke="#0000ff" stroke-width="0.45"/><path d="M441.10,349.90h2.20M442.20,348.80v2.20M441.43,349.13l1.54,1.54M441.43,350.67l1.54,-1.54" stroke="#0000ff" stroke-width="0.45"/><path d="M443.52,349.90h2.20M444.62,348.80v2.20M443.85,349.13l1.54,1.54M443.85,350.67l1.54,-1.54" stroke="#0000ff" stroke-width="0.45"/><path d="M445.94,349.90h2.20M447.04,348.80v2.20M446.27,349.13l1.54,1.54M446.27,350.67l1.54,-1.54" stroke="#0000ff" stroke-width="0.45"/><path d="M448.36,349.90h2.20M449.46,348.80v2.20M448.69,349.13l1.54,1.54M448.69,350.67l1.54,-1.54" stroke="#0000ff" stroke-width="0.45"/><path d="M450.78,349.90h2.20M451.88,348.80v2.20M451.11,349.13l1.54,1.54M451.11,350.67l1.54,-1.54" stroke="#0000ff" stroke-width="0.45"/><path d="M453.20,349.90h2.20M454.30,348.80v2.20M453.53,349.13l1.54,1.54M453.53,350.67l1.54,-1.54" stroke="#0000ff" stroke-width="0.45"/><path d="M455.62,349.90h2.20M456.72,348.80v2.20M455.95,349.13l1.54,1.54M455.95,350.67l1.54,-1.54" stroke="#0000ff" stroke-width="0.45"/><path d="M458.04,349.90h2.20M459.14,348.80v2.20M458.37,349.13l1.54,1.54M458.37,350.67l1.54,-1.54" stroke="#0000ff" stroke-width="0.45"/><path d="M460.46,349.90h2.20M461.56,348.80v2.20M460.79,349.13l1.54,1.54M460.79,350.67l1.54,-1.54" stroke="#0000ff" stroke-width="0.45"/><path d="M462.88,349.90h2.20M463.98,348.80v2.20M463.21,349.13l1.54,1.54M463.21,350.67l1.54,-1.54" stroke="#0000ff" stroke-width="0.45"/><path d="M465.30,349.90h2.20M466.40,348.80v2.20M465.63,349.13l1.54,1.54M465.63,350.67l1.54,-1.54" stroke="#0000ff" stroke-width="0.45"/><path d="M467.72,349.90h2.20M468.82,348.80v2.20M468.05,349.13l1.54,1.54M468.05,350.67l1.54,-1.54" stroke="#0000ff" stroke-width="0.45"/><path d="M470.14,349.90h2.20M471.24,348.80v2.20M470.47,349.13l1.54,1.54M470.47,350.67l1.54,-1.54" stroke="#0000ff" stroke-width="0.45"/><path d="M472.56,349.90h2.20M473.66,348.80v2.20M472.89,349.13l1.54,1.54M472.89,350.67l1.54,-1.54" stroke="#0000ff" stroke-width="0.45"/><path d="M474.98,349.90h2.20M476.08,348.80v2.20M475.31,349.13l1.54,1.54M475.31,350.67l1.54,-1.54" stroke="#0000ff" stroke-width="0.45"/><path d="M477.40,349.90h2.20M478.50,348.80v2.20M477.73,349.13l1.54,1.54M477.73,350.67l1.54,-1.54" stroke="#0000ff" stroke-width="0.45"/><path d="M479.82,349.90h2.20M480.92,348.80v2.20M480.15,349.13l1.54,1.54M480.15,350.67l1.54,-1.54" stroke="#0000ff" stroke-width="0.45"/><path d="M482.24,349.90h2.20M483.34,348.80v2.20M482.57,349.13l1.54,1.54M482.57,350.67l1.54,-1.54" stroke="#0000ff" stroke-width="0.45"/><path d="M484.66,349.90h2.20M485.76,348.80v2.20M484.99,349.13l1.54,1.54M484.99,350.67l1.54,-1.54" stroke="#0000ff" stroke-width="0.45"/><path d="M487.08,349.90h2.20M488.18,348.80v2.20M487.41,349.13l1.54,1.54M487.41,350.67l1.54,-1.54" stroke="#0000ff" stroke-width="0.45"/><path d="M489.50,349.90h2.20M490.60,348.80v2.20M489.83,349.13l1.54,1.54M489.83,350.67l1.54,-1.54" stroke="#0000ff" stroke-width="0.45"/><path d="M491.92,349.90h2.20M493.02,348.80v2.20M492.25,349.13l1.54,1.54M492.25,350.67l1.54,-1.54" stroke="#0000ff" stroke-width="0.45"/><path d="M494.34,349.90h2.20M495.44,348.80v2.20M494.67,349.13l1.54,1.54M494.67,350.67l1.54,-1.54" stroke="#0000ff" stroke-width="0.45"/><path d="M496.76,349.90h2.20M497.86,348.80v2.20M497.09,349.13l1.54,1.54M497.09,350.67l1.54,-1.54" stroke="#0000ff" stroke-width="0.45"/><path d="M499.18,349.90h2.20M500.28,348.80v2.20M499.51,349.13l1.54,1.54M499.51,350.67l1.54,-1.54" stroke="#0000ff" stroke-width="0.45"/><path d="M501.60,349.90h2.20M502.70,348.80v2.20M501.93,349.13l1.54,1.54M501.93,350.67l1.54,-1.54" stroke="#0000ff" stroke-width="0.45"/><path d="M504.02,349.90h2.20M505.12,348.80v2.20M504.35,349.13l1.54,1.54M504.35,350.67l1.54,-1.54" stroke="#0000ff" stroke-width="0.45"/><path d="M506.44,349.90h2.20M507.54,348.80v2.20M506.77,349.13l1.54,1.54M506.77,350.67l1.54,-1.54" stroke="#0000ff" stroke-width="0.45"/><path d="M508.86,349.90h2.20M509.96,348.80v2.20M509.19,349.13l1.54,1.54M509.19,350.67l1.54,-1.54" stroke="#0000ff" stroke-width="0.45"/><path d="M511.28,349.90h2.20M512.38,348.80v2.20M511.61,349.13l1.54,1.54M511.61,350.67l1.54,-1.54" stroke="#0000ff" stroke-width="0.45"/><path d="M513.70,349.90h2.20M514.80,348.80v2.20M514.03,349.13l1.54,1.54M514.03,350.67l1.54,-1.54" stroke="#0000ff" stroke-width="0.45"/><path d="M516.12,349.90h2.20M517.22,348.80v2.20M516.45,349.13l1.54,1.54M516.45,350.67l1.54,-1.54" stroke="#0000ff" stroke-width="0.45"/><path d="M518.54,349.90h2.20M519.64,348.80v2.20M518.87,349.13l1.54,1.54M518.87,350.67l1.54,-1.54" stroke="#0000ff" stroke-width="0.45"/><path d="M520.96,349.90h2.20M522.06,348.80v2.20M521.29,349.13l1.54,1.54M521.29,350.67l1.54,-1.54" stroke="#0000ff" stroke-width="0.45"/><path d="M523.38,349.90h2.20M524.48,348.80v2.20M523.71,349.13l1.54,1.54M523.71,350.67l1.54,-1.54" stroke="#0000ff" stroke-width="0.45"/><path d="M525.80,349.90h2.20M526.90,348.80v2.20M526.13,349.13l1.54,1.54M526.13,350.67l1.54,-1.54" stroke="#0000ff" stroke-width="0.45"/><path d="M528.22,349.90h2.20M529.32,348.80v2.20M528.55,349.13l1.54,1.54M528.55,350.67l1.54,-1.54" stroke="#0000ff" stroke-width="0.45"/><path d="M530.64,349.90h2.20M531.74,348.80v2.20M530.97,349.13l1.54,1.54M530.97,350.67l1.54,-1.54" stroke="#0000ff" stroke-width="0.45"/><path d="M533.06,349.90h2.20M534.16,348.80v2.20M533.39,349.13l1.54,1.54M533.39,350.67l1.54,-1.54" stroke="#0000ff" stroke-width="0.45"/><path d="M535.48,349.90h2.20M536.58,348.80v2.20M535.81,349.13l1.54,1.54M535.81,350.67l1.54,-1.54" stroke="#0000ff" stroke-width="0.45"/><path d="M537.90,349.90h2.20M539.00,348.80v2.20M538.23,349.13l1.54,1.54M538.23,350.67l1.54,-1.54" stroke="#0000ff" stroke-width="0.45"/></g>
<path d="M298.00,344.00 L305.50,344.00 L305.50,367.40 L539.00,367.40" fill="none" stroke="#0000ff" stroke-width="0.52" opacity="0.6"/>
<g opacity="1.0"><path d="M298.42,344.00h2.00M299.42,343.00v2.00" stroke="#0000ff" stroke-width="0.45"/><path d="M300.84,344.00h2.00M301.84,343.00v2.00" stroke="#0000ff" stroke-width="0.45"/><path d="M303.26,344.00h2.00M304.26,343.00v2.00" stroke="#0000ff" stroke-width="0.45"/><path d="M305.68,367.40h2.00M306.68,366.40v2.00" stroke="#0000ff" stroke-width="0.45"/><path d="M308.10,367.40h2.00M309.10,366.40v2.00" stroke="#0000ff" stroke-width="0.45"/><path d="M310.52,367.40h2.00M311.52,366.40v2.00" stroke="#0000ff" stroke-width="0.45"/><path d="M312.94,367.40h2.00M313.94,366.40v2.00" stroke="#0000ff" stroke-width="0.45"/><path d="M315.36,367.40h2.00M316.36,366.40v2.00" stroke="#0000ff" stroke-width="0.45"/><path d="M317.78,367.40h2.00M318.78,366.40v2.00" stroke="#0000ff" stroke-width="0.45"/><path d="M320.20,367.40h2.00M321.20,366.40v2.00" stroke="#0000ff" stroke-width="0.45"/><path d="M322.62,367.40h2.00M323.62,366.40v2.00" stroke="#0000ff" stroke-width="0.45"/><path d="M325.04,367.40h2.00M326.04,366.40v2.00" stroke="#0000ff" stroke-width="0.45"/><path d="M327.46,367.40h2.00M328.46,366.40v2.00" stroke="#0000ff" stroke-width="0.45"/><path d="M329.88,367.40h2.00M330.88,366.40v2.00" stroke="#0000ff" stroke-width="0.45"/><path d="M332.30,367.40h2.00M333.30,366.40v2.00" stroke="#0000ff" stroke-width="0.45"/><path d="M334.72,367.40h2.00M335.72,366.40v2.00" stroke="#0000ff" stroke-width="0.45"/><path d="M337.14,367.40h2.00M338.14,366.40v2.00" stroke="#0000ff" stroke-width="0.45"/><path d="M339.56,367.40h2.00M340.56,366.40v2.00" stroke="#0000ff" stroke-width="0.45"/><path d="M341.98,367.40h2.00M342.98,366.40v2.00" stroke="#0000ff" stroke-width="0.45"/><path d="M344.40,367.40h2.00M345.40,366.40v2.00" stroke="#0000ff" stroke-width="0.45"/><path d="M346.82,367.40h2.00M347.82,366.40v2.00" stroke="#0000ff" stroke-width="0.45"/><path d="M349.24,367.40h2.00M350.24,366.40v2.00" stroke="#0000ff" stroke-width="0.45"/><path d="M351.66,367.40h2.00M352.66,366.40v2.00" stroke="#0000ff" stroke-width="0.45"/><path d="M354.08,367.40h2.00M355.08,366.40v2.00" stroke="#0000ff" stroke-width="0.45"/><path d="M356.50,367.40h2.00M357.50,366.40v2.00" stroke="#0000ff" stroke-width="0.45"/><path d="M358.92,367.40h2.00M359.92,366.40v2.00" stroke="#0000ff" stroke-width="0.45"/><path d="M361.34,367.40h2.00M362.34,366.40v2.00" stroke="#0000ff" stroke-width="0.45"/><path d="M363.76,367.40h2.00M364.76,366.40v2.00" stroke="#0000ff" stroke-width="0.45"/><path d="M366.18,367.40h2.00M367.18,366.40v2.00" stroke="#0000ff" stroke-width="0.45"/><path d="M368.60,367.40h2.00M369.60,366.40v2.00" stroke="#0000ff" stroke-width="0.45"/><path d="M371.02,367.40h2.00M372.02,366.40v2.00" stroke="#0000ff" stroke-width="0.45"/><path d="M373.44,367.40h2.00M374.44,366.40v2.00" stroke="#0000ff" stroke-width="0.45"/><path d="M375.86,367.40h2.00M376.86,366.40v2.00" stroke="#0000ff" stroke-width="0.45"/><path d="M378.28,367.40h2.00M379.28,366.40v2.00" stroke="#0000ff" stroke-width="0.45"/><path d="M380.70,367.40h2.00M381.70,366.40v2.00" stroke="#0000ff" stroke-width="0.45"/><path d="M383.12,367.40h2.00M384.12,366.40v2.00" stroke="#0000ff" stroke-width="0.45"/><path d="M385.54,367.40h2.00M386.54,366.40v2.00" stroke="#0000ff" stroke-width="0.45"/><path d="M387.96,367.40h2.00M388.96,366.40v2.00" stroke="#0000ff" stroke-width="0.45"/><path d="M390.38,367.40h2.00M391.38,366.40v2.00" stroke="#0000ff" stroke-width="0.45"/><path d="M392.80,367.40h2.00M393.80,366.40v2.00" stroke="#0000ff" stroke-width="0.45"/><path d="M395.22,367.40h2.00M396.22,366.40v2.00" stroke="#0000ff" stroke-width="0.45"/><path d="M397.64,367.40h2.00M398.64,366.40v2.00" stroke="#0000ff" stroke-width="0.45"/><path d="M400.06,367.40h2.00M401.06,366.40v2.00" stroke="#0000ff" stroke-width="0.45"/><path d="M402.48,367.40h2.00M403.48,366.40v2.00" stroke="#0000ff" stroke-width="0.45"/><path d="M404.90,367.40h2.00M405.90,366.40v2.00" stroke="#0000ff" stroke-width="0.45"/><path d="M407.32,367.40h2.00M408.32,366.40v2.00" stroke="#0000ff" stroke-width="0.45"/><path d="M409.74,367.40h2.00M410.74,366.40v2.00" stroke="#0000ff" stroke-width="0.45"/><path d="M412.16,367.40h2.00M413.16,366.40v2.00" stroke="#0000ff" stroke-width="0.45"/><path d="M414.58,367.40h2.00M415.58,366.40v2.00" stroke="#0000ff" stroke-width="0.45"/><path d="M417.00,367.40h2.00M418.00,366.40v2.00" stroke="#0000ff" stroke-width="0.45"/><path d="M419.42,367.40h2.00M420.42,366.40v2.00" stroke="#0000ff" stroke-width="0.45"/><path d="M421.84,367.40h2.00M422.84,366.40v2.00" stroke="#0000ff" stroke-width="0.45"/><path d="M424.26,367.40h2.00M425.26,366.40v2.00" stroke="#0000ff" stroke-width="0.45"/><path d="M426.68,367.40h2.00M427.68,366.40v2.00" stroke="#0000ff" stroke-width="0.45"/><path d="M429.10,367.40h2.00M430.10,366.40v2.00" stroke="#0000ff" stroke-width="0.45"/><path d="M431.52,367.40h2.00M432.52,366.40v2.00" stroke="#0000ff" stroke-width="0.45"/><path d="M433.94,367.40h2.00M434.94,366.40v2.00" stroke="#0000ff" stroke-width="0.45"/><path d="M436.36,367.40h2.00M437.36,366.40v2.00" stroke="#0000ff" stroke-width="0.45"/><path d="M438.78,367.40h2.00M439.78,366.40v2.00" stroke="#0000ff" stroke-width="0.45"/><path d="M441.20,367.40h2.00M442.20,366.40v2.00" stroke="#0000ff" stroke-width="0.45"/><path d="M443.62,367.40h2.00M444.62,366.40v2.00" stroke="#0000ff" stroke-width="0.45"/><path d="M446.04,367.40h2.00M447.04,366.40v2.00" stroke="#0000ff" stroke-width="0.45"/><path d="M448.46,367.40h2.00M449.46,366.40v2.00" stroke="#0000ff" stroke-width="0.45"/><path d="M450.88,367.40h2.00M451.88,366.40v2.00" stroke="#0000ff" stroke-width="0.45"/><path d="M453.30,367.40h2.00M454.30,366.40v2.00" stroke="#0000ff" stroke-width="0.45"/><path d="M455.72,367.40h2.00M456.72,366.40v2.00" stroke="#0000ff" stroke-width="0.45"/><path d="M458.14,367.40h2.00M459.14,366.40v2.00" stroke="#0000ff" stroke-width="0.45"/><path d="M460.56,367.40h2.00M461.56,366.40v2.00" stroke="#0000ff" stroke-width="0.45"/><path d="M462.98,367.40h2.00M463.98,366.40v2.00" stroke="#0000ff" stroke-width="0.45"/><path d="M465.40,367.40h2.00M466.40,366.40v2.00" stroke="#0000ff" stroke-width="0.45"/><path d="M467.82,367.40h2.00M468.82,366.40v2.00" stroke="#0000ff" stroke-width="0.45"/><path d="M470.24,367.40h2.00M471.24,366.40v2.00" stroke="#0000ff" stroke-width="0.45"/><path d="M472.66,367.40h2.00M473.66,366.40v2.00" stroke="#0000ff" stroke-width="0.45"/><path d="M475.08,367.40h2.00M476.08,366.40v2.00" stroke="#0000ff" stroke-width="0.45"/><path d="M477.50,367.40h2.00M478.50,366.40v2.00" stroke="#0000ff" stroke-width="0.45"/><path d="M479.92,367.40h2.00M480.92,366.40v2.00" stroke="#0000ff" stroke-width="0.45"/><path d="M482.34,367.40h2.00M483.34,366.40v2.00" stroke="#0000ff" stroke-width="0.45"/><path d="M484.76,367.40h2.00M485.76,366.40v2.00" stroke="#0000ff" stroke-width="0.45"/><path d="M487.18,367.40h2.00M488.18,366.40v2.00" stroke="#0000ff" stroke-width="0.45"/><path d="M489.60,367.40h2.00M490.60,366.40v2.00" stroke="#0000ff" stroke-width="0.45"/><path d="M492.02,367.40h2.00M493.02,366.40v2.00" stroke="#0000ff" stroke-width="0.45"/><path d="M494.44,367.40h2.00M495.44,366.40v2.00" stroke="#0000ff" stroke-width="0.45"/><path d="M496.86,367.40h2.00M497.86,366.40v2.00" stroke="#0000ff" stroke-width="0.45"/><path d="M499.28,367.40h2.00M500.28,366.40v2.00" stroke="#0000ff" stroke-width="0.45"/><path d="M501.70,367.40h2.00M502.70,366.40v2.00" stroke="#0000ff" stroke-width="0.45"/><path d="M504.12,367.40h2.00M505.12,366.40v2.00" stroke="#0000ff" stroke-width="0.45"/><path d="M506.54,367.40h2.00M507.54,366.40v2.00" stroke="#0000ff" stroke-width="0.45"/><path d="M508.96,367.40h2.00M509.96,366.40v2.00" stroke="#0000ff" stroke-width="0.45"/><path d="M511.38,367.40h2.00M512.38,366.40v2.00" stroke="#0000ff" stroke-width="0.45"/><path d="M513.80,367.40h2.00M514.80,366.40v2.00" stroke="#0000ff" stroke-width="0.45"/><path d="M516.22,367.40h2.00M517.22,366.40v2.00" stroke="#0000ff" stroke-width="0.45"/><path d="M518.64,367.40h2.00M519.64,366.40v2.00" stroke="#0000ff" stroke-width="0.45"/><path d="M521.06,367.40h2.00M522.06,366.40v2.00" stroke="#0000ff" stroke-width="0.45"/><path d="M523.48,367.40h2.00M524.48,366.40v2.00" stroke="#0000ff" stroke-width="0.45"/><path d="M525.90,367.40h2.00M526.90,366.40v2.00" stroke="#0000ff" stroke-width="0.45"/><path d="M528.32,367.40h2.00M529.32,366.40v2.00" stroke="#0000ff" stroke-width="0.45"/><path d="M530.74,367.40h2.00M531.74,366.40v2.00" stroke="#0000ff" stroke-width="0.45"/><path d="M533.16,367.40h2.00M534.16,366.40v2.00" stroke="#0000ff" stroke-width="0.45"/><path d="M535.58,367.40h2.00M536.58,366.40v2.00" stroke="#0000ff" stroke-width="0.45"/><path d="M538.00,367.40h2.00M539.00,366.40v2.00" stroke="#0000ff" stroke-width="0.45"/></g>
<path d="M297.00,367.60 L539.00,367.60" fill="none" stroke="#000000" stroke-width="0.6" opacity="0.6"/>
<g opacity="1.0"><circle cx="297.00" cy="367.60" r="0.75" fill="#000000"/><circle cx="299.42" cy="367.60" r="0.75" fill="#000000"/><circle cx="301.84" cy="367.60" r="0.75" fill="#000000"/><circle cx="304.26" cy="367.60" r="0.75" fill="#000000"/><circle cx="306.68" cy="367.60" r="0.75" fill="#000000"/><circle cx="309.10" cy="367.60" r="0.75" fill="#000000"/><circle cx="311.52" cy="367.60" r="0.75" fill="#000000"/><circle cx="313.94" cy="367.60" r="0.75" fill="#000000"/><circle cx="316.36" cy="367.60" r="0.75" fill="#000000"/><circle cx="318.78" cy="367.60" r="0.75" fill="#000000"/><circle cx="321.20" cy="367.60" r="0.75" fill="#000000"/><circle cx="323.62" cy="367.60" r="0.75" fill="#000000"/><circle cx="326.04" cy="367.60" r="0.75" fill="#000000"/><circle cx="328.46" cy="367.60" r="0.75" fill="#000000"/><circle cx="330.88" cy="367.60" r="0.75" fill="#000000"/><circle cx="333.30" cy="367.60" r="0.75" fill="#000000"/><circle cx="335.72" cy="367.60" r="0.75" fill="#000000"/><circle cx="338.14" cy="367.60" r="0.75" fill="#000000"/><circle cx="340.56" cy="367.60" r="0.75" fill="#000000"/><circle cx="342.98" cy="367.60" r="0.75" fill="#000000"/><circle cx="345.40" cy="367.60" r="0.75" fill="#000000"/><circle cx="347.82" cy="367.60" r="0.75" fill="#000000"/><circle cx="350.24" cy="367.60" r="0.75" fill="#000000"/><circle cx="352.66" cy="367.60" r="0.75" fill="#000000"/><circle cx="355.08" cy="367.60" r="0.75" fill="#000000"/><circle cx="357.50" cy="367.60" r="0.75" fill="#000000"/><circle cx="359.92" cy="367.60" r="0.75" fill="#000000"/><circle cx="362.34" cy="367.60" r="0.75" fill="#000000"/><circle cx="364.76" cy="367.60" r="0.75" fill="#000000"/><circle cx="367.18" cy="367.60" r="0.75" fill="#000000"/><circle cx="369.60" cy="367.60" r="0.75" fill="#000000"/><circle cx="372.02" cy="367.60" r="0.75" fill="#000000"/><circle cx="374.44" cy="367.60" r="0.75" fill="#000000"/><circle cx="376.86" cy="367.60" r="0.75" fill="#000000"/><circle cx="379.28" cy="367.60" r="0.75" fill="#000000"/><circle cx="381.70" cy="367.60" r="0.75" fill="#000000"/><circle cx="384.12" cy="367.60" r="0.75" fill="#000000"/><circle cx="386.54" cy="367.60" r="0.75" fill="#000000"/><circle cx="388.96" cy="367.60" r="0.75" fill="#000000"/><circle cx="391.38" cy="367.60" r="0.75" fill="#000000"/><circle cx="393.80" cy="367.60" r="0.75" fill="#000000"/><circle cx="396.22" cy="367.60" r="0.75" fill="#000000"/><circle cx="398.64" cy="367.60" r="0.75" fill="#000000"/><circle cx="401.06" cy="367.60" r="0.75" fill="#000000"/><circle cx="403.48" cy="367.60" r="0.75" fill="#000000"/><circle cx="405.90" cy="367.60" r="0.75" fill="#000000"/><circle cx="408.32" cy="367.60" r="0.75" fill="#000000"/><circle cx="410.74" cy="367.60" r="0.75" fill="#000000"/><circle cx="413.16" cy="367.60" r="0.75" fill="#000000"/><circle cx="415.58" cy="367.60" r="0.75" fill="#000000"/><circle cx="418.00" cy="367.60" r="0.75" fill="#000000"/><circle cx="420.42" cy="367.60" r="0.75" fill="#000000"/><circle cx="422.84" cy="367.60" r="0.75" fill="#000000"/><circle cx="425.26" cy="367.60" r="0.75" fill="#000000"/><circle cx="427.68" cy="367.60" r="0.75" fill="#000000"/><circle cx="430.10" cy="367.60" r="0.75" fill="#000000"/><circle cx="432.52" cy="367.60" r="0.75" fill="#000000"/><circle cx="434.94" cy="367.60" r="0.75" fill="#000000"/><circle cx="437.36" cy="367.60" r="0.75" fill="#000000"/><circle cx="439.78" cy="367.60" r="0.75" fill="#000000"/><circle cx="442.20" cy="367.60" r="0.75" fill="#000000"/><circle cx="444.62" cy="367.60" r="0.75" fill="#000000"/><circle cx="447.04" cy="367.60" r="0.75" fill="#000000"/><circle cx="449.46" cy="367.60" r="0.75" fill="#000000"/><circle cx="451.88" cy="367.60" r="0.75" fill="#000000"/><circle cx="454.30" cy="367.60" r="0.75" fill="#000000"/><circle cx="456.72" cy="367.60" r="0.75" fill="#000000"/><circle cx="459.14" cy="367.60" r="0.75" fill="#000000"/><circle cx="461.56" cy="367.60" r="0.75" fill="#000000"/><circle cx="463.98" cy="367.60" r="0.75" fill="#000000"/><circle cx="466.40" cy="367.60" r="0.75" fill="#000000"/><circle cx="468.82" cy="367.60" r="0.75" fill="#000000"/><circle cx="471.24" cy="367.60" r="0.75" fill="#000000"/><circle cx="473.66" cy="367.60" r="0.75" fill="#000000"/><circle cx="476.08" cy="367.60" r="0.75" fill="#000000"/><circle cx="478.50" cy="367.60" r="0.75" fill="#000000"/><circle cx="480.92" cy="367.60" r="0.75" fill="#000000"/><circle cx="483.34" cy="367.60" r="0.75" fill="#000000"/><circle cx="485.76" cy="367.60" r="0.75" fill="#000000"/><circle cx="488.18" cy="367.60" r="0.75" fill="#000000"/><circle cx="490.60" cy="367.60" r="0.75" fill="#000000"/><circle cx="493.02" cy="367.60" r="0.75" fill="#000000"/><circle cx="495.44" cy="367.60" r="0.75" fill="#000000"/><circle cx="497.86" cy="367.60" r="0.75" fill="#000000"/><circle cx="500.28" cy="367.60" r="0.75" fill="#000000"/><circle cx="502.70" cy="367.60" r="0.75" fill="#000000"/><circle cx="505.12" cy="367.60" r="0.75" fill="#000000"/><circle cx="507.54" cy="367.60" r="0.75" fill="#000000"/><circle cx="509.96" cy="367.60" r="0.75" fill="#000000"/><circle cx="512.38" cy="367.60" r="0.75" fill="#000000"/><circle cx="514.80" cy="367.60" r="0.75" fill="#000000"/><circle cx="517.22" cy="367.60" r="0.75" fill="#000000"/><circle cx="519.64" cy="367.60" r="0.75" fill="#000000"/><circle cx="522.06" cy="367.60" r="0.75" fill="#000000"/><circle cx="524.48" cy="367.60" r="0.75" fill="#000000"/><circle cx="526.90" cy="367.60" r="0.75" fill="#000000"/><circle cx="529.32" cy="367.60" r="0.75" fill="#000000"/><circle cx="531.74" cy="367.60" r="0.75" fill="#000000"/><circle cx="534.16" cy="367.60" r="0.75" fill="#000000"/><circle cx="536.58" cy="367.60" r="0.75" fill="#000000"/><circle cx="539.00" cy="367.60" r="0.75" fill="#000000"/></g>
<rect x="484.2" y="237.5" width="49.19999999999999" height="77.69999999999999" fill="#fff" stroke="#9a9a9a" stroke-width="0.8"/>
<path d="M486.6,242.20 H509.0" stroke="#7a7a7a" stroke-width="1.4"/>
<text x="510.6" y="244.38" font-size="6.1" text-anchor="start" font-weight="normal" fill="#111" stroke="#111" stroke-width="0.18" textLength="16.8" lengthAdjust="spacingAndGlyphs">IAS 1</text>
<path d="M486.6,249.83 H509.0" stroke="#000000" stroke-width="0.6"/>
<circle cx="497.80" cy="249.83" r="0.75" fill="#000000"/>
<text x="510.6" y="252.01" font-size="6.1" text-anchor="start" font-weight="normal" fill="#111" stroke="#111" stroke-width="0.18" textLength="16.8" lengthAdjust="spacingAndGlyphs">IAS 2</text>
<path d="M486.6,257.46 H509.0" stroke="#000000" stroke-width="0.6" stroke-dasharray="3,1.5"/>
<path d="M496.80,257.46h2.00M497.80,256.46v2.00" stroke="#000000" stroke-width="0.45"/>
<text x="510.6" y="259.64" font-size="6.1" text-anchor="start" font-weight="normal" fill="#111" stroke="#111" stroke-width="0.18" textLength="16.8" lengthAdjust="spacingAndGlyphs">IAS 3</text>
<path d="M486.6,265.09 H509.0" stroke="#000000" stroke-width="0.6" stroke-dasharray="1,1.2"/>
<circle cx="497.80" cy="265.09" r="1.20" fill="none" stroke="#000000" stroke-width="0.45"/>
<text x="510.6" y="267.27" font-size="6.1" text-anchor="start" font-weight="normal" fill="#111" stroke="#111" stroke-width="0.18" textLength="16.8" lengthAdjust="spacingAndGlyphs">IAS 4</text>
<path d="M486.6,272.72 H509.0" stroke="#ff0000" stroke-width="0.7" stroke-dasharray="1,1.2"/>
<text x="510.6" y="274.9" font-size="6.1" text-anchor="start" font-weight="normal" fill="#111" stroke="#111" stroke-width="0.18" textLength="16.8" lengthAdjust="spacingAndGlyphs">IAS 5</text>
<path d="M486.6,280.35 H509.0" stroke="#ff0000" stroke-width="0.7" stroke-dasharray="1,1.2"/>
<circle cx="497.80" cy="280.35" r="0.75" fill="#ff0000"/>
<text x="510.6" y="282.53" font-size="6.1" text-anchor="start" font-weight="normal" fill="#111" stroke="#111" stroke-width="0.18" textLength="16.8" lengthAdjust="spacingAndGlyphs">IAS 6</text>
<path d="M486.6,287.98 H509.0" stroke="#ff0000" stroke-width="0.6" stroke-dasharray="3,1.5"/>
<circle cx="497.80" cy="287.98" r="1.20" fill="none" stroke="#ff0000" stroke-width="0.45"/>
<text x="510.6" y="290.16" font-size="6.1" text-anchor="start" font-weight="normal" fill="#111" stroke="#111" stroke-width="0.18" textLength="16.8" lengthAdjust="spacingAndGlyphs">IAS 7</text>
<path d="M486.6,295.61 H509.0" stroke="#ff0000" stroke-width="0.7"/>
<path d="M496.80,295.61h2.00M497.80,294.61v2.00M497.10,294.91l1.40,1.40M497.10,296.31l1.40,-1.40" stroke="#ff0000" stroke-width="0.45"/>
<text x="510.6" y="297.79" font-size="6.1" text-anchor="start" font-weight="normal" fill="#111" stroke="#111" stroke-width="0.18" textLength="16.8" lengthAdjust="spacingAndGlyphs">IAS 8</text>
<path d="M486.6,303.24 H509.0" stroke="#0000ff" stroke-width="1.3"/>
<path d="M496.80,303.24h2.00M497.80,302.24v2.00M497.10,302.54l1.40,1.40M497.10,303.94l1.40,-1.40" stroke="#0000ff" stroke-width="0.45"/>
<text x="510.6" y="305.42" font-size="6.1" text-anchor="start" font-weight="normal" fill="#111" stroke="#111" stroke-width="0.18" textLength="16.8" lengthAdjust="spacingAndGlyphs">IAS 9</text>
<path d="M486.6,310.87 H509.0" stroke="#0000ff" stroke-width="0.7"/>
<path d="M496.80,310.87h2.00M497.80,309.87v2.00" stroke="#0000ff" stroke-width="0.45"/>
<text x="510.6" y="313.05" font-size="6.1" text-anchor="start" font-weight="normal" fill="#111" stroke="#111" stroke-width="0.18" textLength="20.664" lengthAdjust="spacingAndGlyphs">IAS 10</text>
</svg></body></html>
